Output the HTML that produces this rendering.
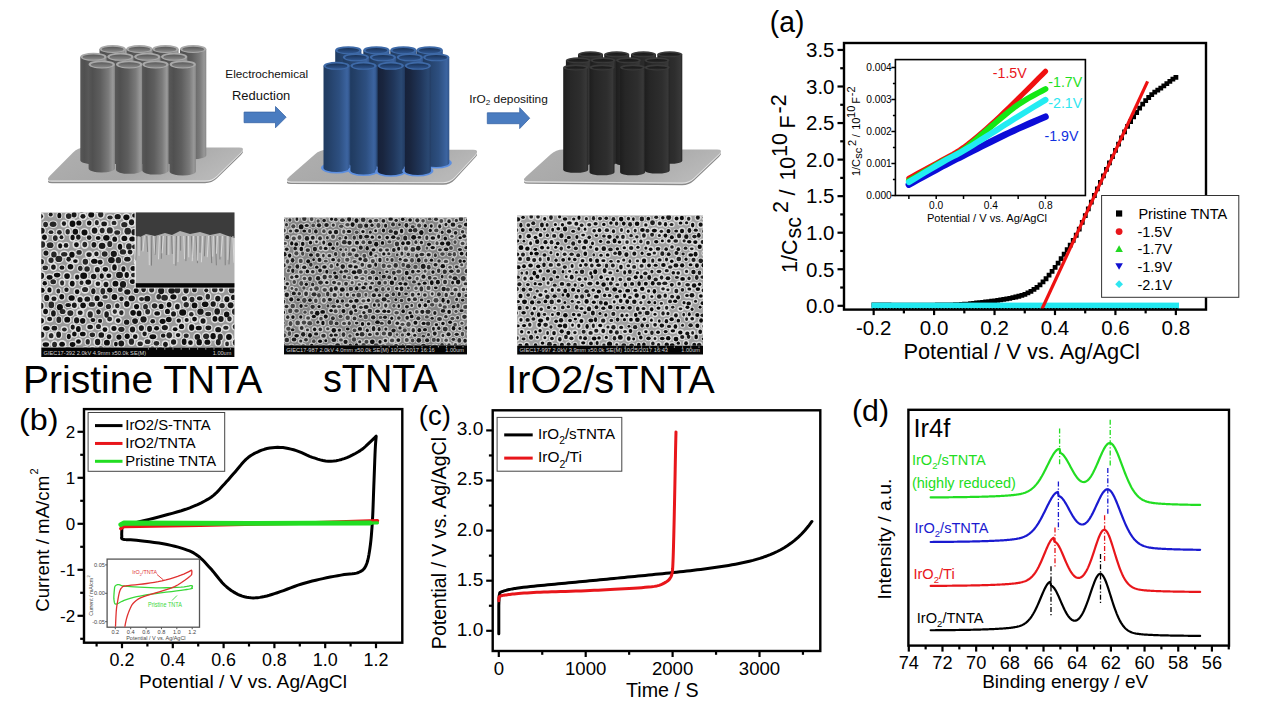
<!DOCTYPE html>
<html><head><meta charset="utf-8"><title>Figure</title>
<style>
html,body{margin:0;padding:0;background:#fff;width:1280px;height:714px;overflow:hidden;}
svg{display:block;font-family:"Liberation Sans", sans-serif;}
</style></head><body>
<svg width="1280" height="714" viewBox="0 0 1280 714">
<rect width="1280" height="714" fill="#fff"/>
<defs><linearGradient id="gBody" x1="0" x2="1" y1="0" y2="0">
<stop offset="0" stop-color="#575757"/><stop offset="0.15" stop-color="#505050"/><stop offset="0.45" stop-color="#5e5e5e"/><stop offset="0.75" stop-color="#7a7a7a"/><stop offset="0.92" stop-color="#989898"/><stop offset="1" stop-color="#888888"/></linearGradient>
<linearGradient id="gIn" x1="0" x2="0" y1="0" y2="1"><stop offset="0" stop-color="#5a5a5a"/><stop offset="1" stop-color="#8a8a8a"/></linearGradient>
<linearGradient id="bBody" x1="0" x2="1" y1="0" y2="0">
<stop offset="0" stop-color="#1f3b61"/><stop offset="0.15" stop-color="#233f66"/><stop offset="0.6" stop-color="#2d4f80"/><stop offset="0.9" stop-color="#3c64a0"/><stop offset="1" stop-color="#31548a"/></linearGradient>
<linearGradient id="bBody2" x1="0" x2="1" y1="0" y2="0">
<stop offset="0" stop-color="#16213a"/><stop offset="0.2" stop-color="#19253e"/><stop offset="0.6" stop-color="#20365a"/><stop offset="0.9" stop-color="#2a4872"/><stop offset="1" stop-color="#243e66"/></linearGradient>
<linearGradient id="bIn" x1="0" x2="0" y1="0" y2="1"><stop offset="0" stop-color="#1a3358"/><stop offset="1" stop-color="#2f5690"/></linearGradient>
<linearGradient id="kBody" x1="0" x2="1" y1="0" y2="0">
<stop offset="0" stop-color="#1e1e1e"/><stop offset="0.2" stop-color="#262626"/><stop offset="0.7" stop-color="#2e2e2e"/><stop offset="0.92" stop-color="#383838"/><stop offset="1" stop-color="#262626"/></linearGradient>
<linearGradient id="kIn" x1="0" x2="0" y1="0" y2="1"><stop offset="0" stop-color="#161616"/><stop offset="1" stop-color="#2a2a2a"/></linearGradient>
<linearGradient id="pl" x1="0" x2="1" y1="0" y2="0.3"><stop offset="0" stop-color="#b0b0b0"/><stop offset="0.6" stop-color="#a6a6a6"/><stop offset="1" stop-color="#b8b8b8"/></linearGradient>
</defs>
<path d="M73.06,152.46Q78,147.5 85,147.5L239,147.5Q246,147.5 240.98,152.38L217.02,175.72Q212,180.6 205,180.6L52,180.6Q45,180.6 49.94,175.64Z" fill="#8a8a8a" transform="translate(0,2.6)"/>
<path d="M73.06,152.46Q78,147.5 85,147.5L239,147.5Q246,147.5 240.98,152.38L217.02,175.72Q212,180.6 205,180.6L52,180.6Q45,180.6 49.94,175.64Z" fill="#e4e4e4" transform="translate(0,1.2)"/>
<path d="M73.06,152.46Q78,147.5 85,147.5L239,147.5Q246,147.5 240.98,152.38L217.02,175.72Q212,180.6 205,180.6L52,180.6Q45,180.6 49.94,175.64Z" fill="url(#pl)"/>
<path d="M99.5,49 L99.5,155.2 A13.15,4 0 0 0 125.8,155.2 L125.8,49 Z" fill="url(#gBody)"/>
<ellipse cx="112.65" cy="49" rx="13.15" ry="4" fill="#a9a9a9"/>
<ellipse cx="112.65" cy="49.4" rx="10.95" ry="2.6" fill="url(#gIn)"/>
<path d="M126.3,49 L126.3,155.2 A13.15,4 0 0 0 152.6,155.2 L152.6,49 Z" fill="url(#gBody)"/>
<ellipse cx="139.45" cy="49" rx="13.15" ry="4" fill="#a9a9a9"/>
<ellipse cx="139.45" cy="49.4" rx="10.95" ry="2.6" fill="url(#gIn)"/>
<path d="M152.3,49 L152.3,155.2 A13.15,4 0 0 0 178.6,155.2 L178.6,49 Z" fill="url(#gBody)"/>
<ellipse cx="165.45" cy="49" rx="13.15" ry="4" fill="#a9a9a9"/>
<ellipse cx="165.45" cy="49.4" rx="10.95" ry="2.6" fill="url(#gIn)"/>
<path d="M180,49 L180,155.2 A13.15,4 0 0 0 206.3,155.2 L206.3,49 Z" fill="url(#gBody)"/>
<ellipse cx="193.15" cy="49" rx="13.15" ry="4" fill="#a9a9a9"/>
<ellipse cx="193.15" cy="49.4" rx="10.95" ry="2.6" fill="url(#gIn)"/>
<path d="M80.3,56.8 L80.3,160.2 A13.15,4 0 0 0 106.6,160.2 L106.6,56.8 Z" fill="url(#gBody)"/>
<ellipse cx="93.45" cy="56.8" rx="13.15" ry="4" fill="#a9a9a9"/>
<ellipse cx="93.45" cy="57.2" rx="10.95" ry="2.6" fill="url(#gIn)"/>
<path d="M107.2,56.8 L107.2,160.2 A13.15,4 0 0 0 133.5,160.2 L133.5,56.8 Z" fill="url(#gBody)"/>
<ellipse cx="120.35" cy="56.8" rx="13.15" ry="4" fill="#a9a9a9"/>
<ellipse cx="120.35" cy="57.2" rx="10.95" ry="2.6" fill="url(#gIn)"/>
<path d="M134.1,56.8 L134.1,160.2 A13.15,4 0 0 0 160.4,160.2 L160.4,56.8 Z" fill="url(#gBody)"/>
<ellipse cx="147.25" cy="56.8" rx="13.15" ry="4" fill="#a9a9a9"/>
<ellipse cx="147.25" cy="57.2" rx="10.95" ry="2.6" fill="url(#gIn)"/>
<path d="M161,56.8 L161,160.2 A13.15,4 0 0 0 187.3,160.2 L187.3,56.8 Z" fill="url(#gBody)"/>
<ellipse cx="174.15" cy="56.8" rx="13.15" ry="4" fill="#a9a9a9"/>
<ellipse cx="174.15" cy="57.2" rx="10.95" ry="2.6" fill="url(#gIn)"/>
<path d="M88.6,64.4 L88.6,168.4 A13.15,4 0 0 0 114.9,168.4 L114.9,64.4 Z" fill="url(#gBody)"/>
<ellipse cx="101.75" cy="64.4" rx="13.15" ry="4" fill="#a9a9a9"/>
<ellipse cx="101.75" cy="64.8" rx="10.95" ry="2.6" fill="url(#gIn)"/>
<path d="M116,64.4 L116,169.8 A13.15,4 0 0 0 142.3,169.8 L142.3,64.4 Z" fill="url(#gBody)"/>
<ellipse cx="129.15" cy="64.4" rx="13.15" ry="4" fill="#a9a9a9"/>
<ellipse cx="129.15" cy="64.8" rx="10.95" ry="2.6" fill="url(#gIn)"/>
<path d="M142.3,64.4 L142.3,170.6 A13.15,4 0 0 0 168.6,170.6 L168.6,64.4 Z" fill="url(#gBody)"/>
<ellipse cx="155.45" cy="64.4" rx="13.15" ry="4" fill="#a9a9a9"/>
<ellipse cx="155.45" cy="64.8" rx="10.95" ry="2.6" fill="url(#gIn)"/>
<path d="M169.6,64.4 L169.6,171.4 A13.15,4 0 0 0 195.9,171.4 L195.9,64.4 Z" fill="url(#gBody)"/>
<ellipse cx="182.75" cy="64.4" rx="13.15" ry="4" fill="#a9a9a9"/>
<ellipse cx="182.75" cy="64.8" rx="10.95" ry="2.6" fill="url(#gIn)"/>
<path d="M314.74,154.42Q320,149.8 327,149.8L473,149.8Q480,149.8 475.24,154.94L454.76,177.06Q450,182.2 443,182.17L291,181.43Q284,181.4 289.26,176.78Z" fill="#8a8a8a" transform="translate(0,2.6)"/>
<path d="M314.74,154.42Q320,149.8 327,149.8L473,149.8Q480,149.8 475.24,154.94L454.76,177.06Q450,182.2 443,182.17L291,181.43Q284,181.4 289.26,176.78Z" fill="#e4e4e4" transform="translate(0,1.2)"/>
<path d="M314.74,154.42Q320,149.8 327,149.8L473,149.8Q480,149.8 475.24,154.94L454.76,177.06Q450,182.2 443,182.17L291,181.43Q284,181.4 289.26,176.78Z" fill="url(#pl)"/>
<ellipse cx="348.3" cy="156" rx="15.6" ry="5.5" fill="#5d8fe0"/>
<path d="M335.2,50.2 L335.2,156 A13.1,4 0 0 0 361.4,156 L361.4,50.2 Z" fill="url(#bBody)"/>
<ellipse cx="348.3" cy="50.2" rx="13.1" ry="4" fill="#3e6aa8"/>
<ellipse cx="348.3" cy="50.6" rx="10.9" ry="2.6" fill="url(#bIn)"/>
<ellipse cx="376.4" cy="156" rx="15.6" ry="5.5" fill="#5d8fe0"/>
<path d="M363.3,50.2 L363.3,156 A13.1,4 0 0 0 389.5,156 L389.5,50.2 Z" fill="url(#bBody)"/>
<ellipse cx="376.4" cy="50.2" rx="13.1" ry="4" fill="#3e6aa8"/>
<ellipse cx="376.4" cy="50.6" rx="10.9" ry="2.6" fill="url(#bIn)"/>
<ellipse cx="403.4" cy="156" rx="15.6" ry="5.5" fill="#5d8fe0"/>
<path d="M390.3,50.2 L390.3,156 A13.1,4 0 0 0 416.5,156 L416.5,50.2 Z" fill="url(#bBody)"/>
<ellipse cx="403.4" cy="50.2" rx="13.1" ry="4" fill="#3e6aa8"/>
<ellipse cx="403.4" cy="50.6" rx="10.9" ry="2.6" fill="url(#bIn)"/>
<ellipse cx="429.7" cy="156" rx="15.6" ry="5.5" fill="#5d8fe0"/>
<path d="M416.6,50.2 L416.6,156 A13.1,4 0 0 0 442.8,156 L442.8,50.2 Z" fill="url(#bBody)"/>
<ellipse cx="429.7" cy="50.2" rx="13.1" ry="4" fill="#3e6aa8"/>
<ellipse cx="429.7" cy="50.6" rx="10.9" ry="2.6" fill="url(#bIn)"/>
<ellipse cx="355.9" cy="163" rx="15.6" ry="5.5" fill="#5d8fe0"/>
<path d="M342.8,57.3 L342.8,163 A13.1,4 0 0 0 369,163 L369,57.3 Z" fill="url(#bBody)"/>
<ellipse cx="355.9" cy="57.3" rx="13.1" ry="4" fill="#3e6aa8"/>
<ellipse cx="355.9" cy="57.7" rx="10.9" ry="2.6" fill="url(#bIn)"/>
<ellipse cx="382.9" cy="163" rx="15.6" ry="5.5" fill="#5d8fe0"/>
<path d="M369.8,57.3 L369.8,163 A13.1,4 0 0 0 396,163 L396,57.3 Z" fill="url(#bBody)"/>
<ellipse cx="382.9" cy="57.3" rx="13.1" ry="4" fill="#3e6aa8"/>
<ellipse cx="382.9" cy="57.7" rx="10.9" ry="2.6" fill="url(#bIn)"/>
<ellipse cx="409.8" cy="163" rx="15.6" ry="5.5" fill="#5d8fe0"/>
<path d="M396.7,57.3 L396.7,163 A13.1,4 0 0 0 422.9,163 L422.9,57.3 Z" fill="url(#bBody)"/>
<ellipse cx="409.8" cy="57.3" rx="13.1" ry="4" fill="#3e6aa8"/>
<ellipse cx="409.8" cy="57.7" rx="10.9" ry="2.6" fill="url(#bIn)"/>
<ellipse cx="436.2" cy="163" rx="15.6" ry="5.5" fill="#5d8fe0"/>
<path d="M423.1,57.3 L423.1,163 A13.1,4 0 0 0 449.3,163 L449.3,57.3 Z" fill="url(#bBody)"/>
<ellipse cx="436.2" cy="57.3" rx="13.1" ry="4" fill="#3e6aa8"/>
<ellipse cx="436.2" cy="57.7" rx="10.9" ry="2.6" fill="url(#bIn)"/>
<ellipse cx="336.6" cy="168" rx="15.6" ry="5.5" fill="#5d8fe0"/>
<path d="M323.5,65.8 L323.5,168 A13.1,4 0 0 0 349.7,168 L349.7,65.8 Z" fill="url(#bBody)"/>
<ellipse cx="336.6" cy="65.8" rx="13.1" ry="4" fill="#3e6aa8"/>
<ellipse cx="336.6" cy="66.2" rx="10.9" ry="2.6" fill="url(#bIn)"/>
<ellipse cx="363.5" cy="170.5" rx="15.6" ry="5.5" fill="#5d8fe0"/>
<path d="M350.4,65.8 L350.4,170.5 A13.1,4 0 0 0 376.6,170.5 L376.6,65.8 Z" fill="url(#bBody)"/>
<ellipse cx="363.5" cy="65.8" rx="13.1" ry="4" fill="#3e6aa8"/>
<ellipse cx="363.5" cy="66.2" rx="10.9" ry="2.6" fill="url(#bIn)"/>
<ellipse cx="390.8" cy="171.3" rx="15.6" ry="5.5" fill="#5d8fe0"/>
<path d="M377.7,65.8 L377.7,171.3 A13.1,4 0 0 0 403.9,171.3 L403.9,65.8 Z" fill="url(#bBody2)"/>
<ellipse cx="390.8" cy="65.8" rx="13.1" ry="4" fill="#3e6aa8"/>
<ellipse cx="390.8" cy="66.2" rx="10.9" ry="2.6" fill="url(#bIn)"/>
<ellipse cx="417.8" cy="171" rx="15.6" ry="5.5" fill="#5d8fe0"/>
<path d="M404.7,65.8 L404.7,171 A13.1,4 0 0 0 430.9,171 L430.9,65.8 Z" fill="url(#bBody2)"/>
<ellipse cx="417.8" cy="65.8" rx="13.1" ry="4" fill="#3e6aa8"/>
<ellipse cx="417.8" cy="66.2" rx="10.9" ry="2.6" fill="url(#bIn)"/>
<path d="M550.81,154.2Q556,149.5 563,149.5L717,149.5Q724,149.5 718.91,154.31L694.09,177.79Q689,182.6 682,182.54L528,181.26Q521,181.2 526.19,176.5Z" fill="#8a8a8a" transform="translate(0,2.6)"/>
<path d="M550.81,154.2Q556,149.5 563,149.5L717,149.5Q724,149.5 718.91,154.31L694.09,177.79Q689,182.6 682,182.54L528,181.26Q521,181.2 526.19,176.5Z" fill="#e4e4e4" transform="translate(0,1.2)"/>
<path d="M550.81,154.2Q556,149.5 563,149.5L717,149.5Q724,149.5 718.91,154.31L694.09,177.79Q689,182.6 682,182.54L528,181.26Q521,181.2 526.19,176.5Z" fill="url(#pl)"/>
<path d="M578,54.3 L578,160.8 A12.5,3 0 0 0 603,160.8 L603,54.3 Z" fill="url(#kBody)"/>
<ellipse cx="590.5" cy="54.3" rx="12.5" ry="3" fill="#3a3a3a"/>
<ellipse cx="590.5" cy="54.7" rx="10.3" ry="1.6" fill="url(#kIn)"/>
<path d="M604.2,54.3 L604.2,160.8 A12.5,3 0 0 0 629.2,160.8 L629.2,54.3 Z" fill="url(#kBody)"/>
<ellipse cx="616.7" cy="54.3" rx="12.5" ry="3" fill="#3a3a3a"/>
<ellipse cx="616.7" cy="54.7" rx="10.3" ry="1.6" fill="url(#kIn)"/>
<path d="M631,54.3 L631,160.8 A12.5,3 0 0 0 656,160.8 L656,54.3 Z" fill="url(#kBody)"/>
<ellipse cx="643.5" cy="54.3" rx="12.5" ry="3" fill="#3a3a3a"/>
<ellipse cx="643.5" cy="54.7" rx="10.3" ry="1.6" fill="url(#kIn)"/>
<path d="M657.3,54.3 L657.3,160.8 A12.5,3 0 0 0 682.3,160.8 L682.3,54.3 Z" fill="url(#kBody)"/>
<ellipse cx="669.8" cy="54.3" rx="12.5" ry="3" fill="#3a3a3a"/>
<ellipse cx="669.8" cy="54.7" rx="10.3" ry="1.6" fill="url(#kIn)"/>
<path d="M565.9,60.3 L565.9,163 A12.5,3 0 0 0 590.9,163 L590.9,60.3 Z" fill="url(#kBody)"/>
<ellipse cx="578.4" cy="60.3" rx="12.5" ry="3" fill="#3a3a3a"/>
<ellipse cx="578.4" cy="60.7" rx="10.3" ry="1.6" fill="url(#kIn)"/>
<path d="M590.5,60.3 L590.5,163 A12.5,3 0 0 0 615.5,163 L615.5,60.3 Z" fill="url(#kBody)"/>
<ellipse cx="603" cy="60.3" rx="12.5" ry="3" fill="#3a3a3a"/>
<ellipse cx="603" cy="60.7" rx="10.3" ry="1.6" fill="url(#kIn)"/>
<path d="M616,60.3 L616,163 A12.5,3 0 0 0 641,163 L641,60.3 Z" fill="url(#kBody)"/>
<ellipse cx="628.5" cy="60.3" rx="12.5" ry="3" fill="#3a3a3a"/>
<ellipse cx="628.5" cy="60.7" rx="10.3" ry="1.6" fill="url(#kIn)"/>
<path d="M644.5,60.3 L644.5,163 A12.5,3 0 0 0 669.5,163 L669.5,60.3 Z" fill="url(#kBody)"/>
<ellipse cx="657" cy="60.3" rx="12.5" ry="3" fill="#3a3a3a"/>
<ellipse cx="657" cy="60.7" rx="10.3" ry="1.6" fill="url(#kIn)"/>
<path d="M563.2,67.4 L563.2,169.8 A12.5,3 0 0 0 588.2,169.8 L588.2,67.4 Z" fill="url(#kBody)"/>
<ellipse cx="575.7" cy="67.4" rx="12.5" ry="3" fill="#3a3a3a"/>
<ellipse cx="575.7" cy="67.8" rx="10.3" ry="1.6" fill="url(#kIn)"/>
<path d="M589.5,67.4 L589.5,172.3 A12.5,3 0 0 0 614.5,172.3 L614.5,67.4 Z" fill="url(#kBody)"/>
<ellipse cx="602" cy="67.4" rx="12.5" ry="3" fill="#3a3a3a"/>
<ellipse cx="602" cy="67.8" rx="10.3" ry="1.6" fill="url(#kIn)"/>
<path d="M620.1,67.4 L620.1,172.3 A12.5,3 0 0 0 645.1,172.3 L645.1,67.4 Z" fill="url(#kBody)"/>
<ellipse cx="632.6" cy="67.4" rx="12.5" ry="3" fill="#3a3a3a"/>
<ellipse cx="632.6" cy="67.8" rx="10.3" ry="1.6" fill="url(#kIn)"/>
<path d="M644.7,67.4 L644.7,170.6 A12.5,3 0 0 0 669.7,170.6 L669.7,67.4 Z" fill="url(#kBody)"/>
<ellipse cx="657.2" cy="67.4" rx="12.5" ry="3" fill="#3a3a3a"/>
<ellipse cx="657.2" cy="67.8" rx="10.3" ry="1.6" fill="url(#kIn)"/>
<path d="M244.1,112.1 H275.5 V106.5 L286.1,117.2 L275.5,127.8 V122.7 H244.1 Z" fill="#4a7cc0" stroke="#3a66a6" stroke-width="0.8"/>
<path d="M487.3,112.8 H519.7 V107.7 L529.7,118.2 L519.7,128.6 V123.7 H487.3 Z" fill="#4a7cc0" stroke="#3a66a6" stroke-width="0.8"/>
<text x="225.3" y="77.9" font-size="11.8" text-anchor="start" fill="#111" textLength="82.9" lengthAdjust="spacingAndGlyphs">Electrochemical</text>
<text x="232" y="99.8" font-size="12.9" text-anchor="start" fill="#111" textLength="58.3" lengthAdjust="spacingAndGlyphs">Reduction</text>
<text x="469.2" y="102.7" font-size="11" text-anchor="start" fill="#111" textLength="78.6" lengthAdjust="spacingAndGlyphs">IrO<tspan font-size="7.5" dy="2.6">2</tspan><tspan dy="-2.6"> depositing</tspan></text>
<clipPath id="sem1"><rect x="41.3" y="212.6" width="193.1" height="135"/></clipPath>
<rect x="41.3" y="212.6" width="193.1" height="135" fill="#9a9a9a" stroke="none" stroke-width="1" />
<g clip-path="url(#sem1)">
<g fill="#e0e0e0"><ellipse cx="35.74" cy="209.5" rx="3.82" ry="4.09"/><ellipse cx="45.19" cy="207.3" rx="4.44" ry="3.91"/><ellipse cx="54.87" cy="207.5" rx="4.12" ry="3.56"/><ellipse cx="61.17" cy="208.44" rx="4.06" ry="3.86"/><ellipse cx="71.5" cy="209.21" rx="4.46" ry="4.21"/><ellipse cx="81.56" cy="209.77" rx="4.01" ry="4.02"/><ellipse cx="90.29" cy="209.54" rx="3.69" ry="4.06"/><ellipse cx="97.23" cy="209.71" rx="3.52" ry="4.19"/><ellipse cx="105.43" cy="209.52" rx="4.32" ry="3.96"/><ellipse cx="114.57" cy="209" rx="3.94" ry="4.01"/><ellipse cx="123.07" cy="207.93" rx="3.6" ry="3.62"/><ellipse cx="131.92" cy="207.93" rx="3.93" ry="4.4"/><ellipse cx="141.65" cy="208.47" rx="3.61" ry="4.13"/><ellipse cx="149.35" cy="208.67" rx="4.33" ry="4.87"/><ellipse cx="157.44" cy="207.02" rx="3.79" ry="4.64"/><ellipse cx="166.24" cy="207.27" rx="3.82" ry="3.68"/><ellipse cx="174.74" cy="209.29" rx="4.04" ry="4.25"/><ellipse cx="183.49" cy="209.54" rx="4.31" ry="4.33"/><ellipse cx="190.32" cy="209.57" rx="4" ry="3.51"/><ellipse cx="199.32" cy="207.58" rx="3.6" ry="4.28"/><ellipse cx="209.73" cy="208.14" rx="3.71" ry="3.26"/><ellipse cx="218.62" cy="207.47" rx="4.37" ry="4.61"/><ellipse cx="227.29" cy="206.65" rx="3.02" ry="3.55"/><ellipse cx="234.82" cy="208.05" rx="4.88" ry="4.49"/><ellipse cx="40.35" cy="216.29" rx="4.06" ry="3.79"/><ellipse cx="50.72" cy="214.49" rx="2.97" ry="3"/><ellipse cx="59.34" cy="215.49" rx="2.93" ry="3.79"/><ellipse cx="68.69" cy="216.02" rx="4.24" ry="4.34"/><ellipse cx="74.11" cy="214.75" rx="3.81" ry="4.12"/><ellipse cx="82.94" cy="216.35" rx="4.1" ry="3.92"/><ellipse cx="91.24" cy="214.75" rx="4.2" ry="3.99"/><ellipse cx="100.7" cy="214.39" rx="4.18" ry="4.55"/><ellipse cx="110.05" cy="217.45" rx="3.73" ry="3.1"/><ellipse cx="117.71" cy="216.67" rx="4.27" ry="3.75"/><ellipse cx="126.39" cy="217.31" rx="4.45" ry="4.2"/><ellipse cx="135.28" cy="215.46" rx="4.08" ry="3.21"/><ellipse cx="144.9" cy="216.75" rx="3.61" ry="3.25"/><ellipse cx="152.64" cy="215.08" rx="3.26" ry="4.09"/><ellipse cx="162.83" cy="214.1" rx="3.92" ry="3.94"/><ellipse cx="169.23" cy="216.76" rx="3.79" ry="4.1"/><ellipse cx="179.74" cy="214.42" rx="4.41" ry="5.11"/><ellipse cx="187.67" cy="216.51" rx="3.16" ry="3.27"/><ellipse cx="196.88" cy="215.16" rx="3.63" ry="3.28"/><ellipse cx="206.32" cy="214.45" rx="3.9" ry="4.25"/><ellipse cx="213.19" cy="215.29" rx="3.34" ry="3.33"/><ellipse cx="220.49" cy="216.65" rx="3.52" ry="3.3"/><ellipse cx="228.92" cy="214.7" rx="4.05" ry="4.44"/><ellipse cx="239.25" cy="216.05" rx="3.54" ry="3.3"/><ellipse cx="36.2" cy="224.53" rx="3.77" ry="3.76"/><ellipse cx="45.58" cy="224.51" rx="3.38" ry="3.66"/><ellipse cx="53.08" cy="224.21" rx="4.37" ry="3.77"/><ellipse cx="63.95" cy="223.61" rx="3.58" ry="3.91"/><ellipse cx="72.5" cy="223.69" rx="4.51" ry="4.94"/><ellipse cx="78.89" cy="223.03" rx="3.72" ry="3.68"/><ellipse cx="89.23" cy="223.08" rx="3.67" ry="3.87"/><ellipse cx="96.84" cy="222.71" rx="3.24" ry="3.86"/><ellipse cx="104.15" cy="223.92" rx="4.48" ry="3.99"/><ellipse cx="114.05" cy="222.92" rx="3.76" ry="3.51"/><ellipse cx="124.35" cy="224.71" rx="4.27" ry="3.78"/><ellipse cx="131.53" cy="222.32" rx="4.28" ry="4.64"/><ellipse cx="141.82" cy="222.3" rx="4.45" ry="4.31"/><ellipse cx="149.72" cy="224.58" rx="3.91" ry="4.07"/><ellipse cx="158.09" cy="223.14" rx="3.31" ry="3.77"/><ellipse cx="164.89" cy="222.41" rx="3.47" ry="3.66"/><ellipse cx="174.23" cy="223.74" rx="4.61" ry="4.3"/><ellipse cx="184.86" cy="224.32" rx="4.14" ry="4.85"/><ellipse cx="193.41" cy="223.67" rx="4.77" ry="4.05"/><ellipse cx="202.02" cy="222.86" rx="3.95" ry="3.64"/><ellipse cx="209.42" cy="223.22" rx="4" ry="4.1"/><ellipse cx="216.9" cy="222.4" rx="3.52" ry="3.73"/><ellipse cx="224.59" cy="224.89" rx="3.26" ry="3.17"/><ellipse cx="234.02" cy="223.56" rx="4.2" ry="4.3"/><ellipse cx="41.46" cy="230.71" rx="4.42" ry="4.19"/><ellipse cx="50.97" cy="232.14" rx="3.52" ry="3.01"/><ellipse cx="59.4" cy="232.37" rx="3.55" ry="3.62"/><ellipse cx="67.71" cy="231.64" rx="3.33" ry="3.93"/><ellipse cx="75.35" cy="231.72" rx="3.97" ry="4.15"/><ellipse cx="84.5" cy="232.45" rx="4.47" ry="4.48"/><ellipse cx="94.58" cy="230.61" rx="4.46" ry="4.85"/><ellipse cx="102.2" cy="230.57" rx="3.87" ry="4.24"/><ellipse cx="109.84" cy="230.42" rx="4.61" ry="4.78"/><ellipse cx="117.21" cy="232.42" rx="3.86" ry="3.19"/><ellipse cx="127.74" cy="231.21" rx="4.8" ry="4.87"/><ellipse cx="134.21" cy="232.17" rx="3.9" ry="4.22"/><ellipse cx="145.65" cy="230.69" rx="3.64" ry="4.13"/><ellipse cx="151.62" cy="229.26" rx="3.3" ry="3.87"/><ellipse cx="161.36" cy="231.4" rx="4.01" ry="4.01"/><ellipse cx="168.82" cy="231.43" rx="4.47" ry="4.24"/><ellipse cx="177.76" cy="231.27" rx="4.54" ry="3.93"/><ellipse cx="187.13" cy="230.4" rx="3.85" ry="4.22"/><ellipse cx="197.7" cy="231.46" rx="3.74" ry="4.75"/><ellipse cx="206.17" cy="232.24" rx="3.73" ry="3.53"/><ellipse cx="213.11" cy="232.17" rx="4.25" ry="3.86"/><ellipse cx="222.86" cy="232.1" rx="3.41" ry="3.51"/><ellipse cx="231.25" cy="230.08" rx="3.26" ry="3.36"/><ellipse cx="237.53" cy="231.81" rx="3.85" ry="3.78"/><ellipse cx="38.08" cy="239.82" rx="3.56" ry="4.1"/><ellipse cx="44.47" cy="237.27" rx="4.08" ry="4.38"/><ellipse cx="55.3" cy="238.1" rx="3.56" ry="4.11"/><ellipse cx="61.46" cy="237.24" rx="3.18" ry="3.17"/><ellipse cx="72.6" cy="237.5" rx="3.52" ry="4.17"/><ellipse cx="78.33" cy="237.01" rx="3.29" ry="3.64"/><ellipse cx="89.12" cy="237.55" rx="3.35" ry="3.34"/><ellipse cx="98.17" cy="238" rx="3.56" ry="3.2"/><ellipse cx="106.36" cy="237.85" rx="4.36" ry="4"/><ellipse cx="114.7" cy="239.22" rx="3.76" ry="4.02"/><ellipse cx="124.39" cy="238.39" rx="4.53" ry="4.34"/><ellipse cx="132.33" cy="239.06" rx="4.76" ry="4.2"/><ellipse cx="138.68" cy="237.21" rx="3.75" ry="4.36"/><ellipse cx="148.69" cy="237.78" rx="3.7" ry="4.28"/><ellipse cx="158.76" cy="239.13" rx="3.99" ry="4.33"/><ellipse cx="167.03" cy="236.8" rx="3.37" ry="3.69"/><ellipse cx="173.78" cy="237.82" rx="4.12" ry="3.56"/><ellipse cx="183.4" cy="237.64" rx="4.19" ry="4.37"/><ellipse cx="190.53" cy="239.31" rx="4.09" ry="4.4"/><ellipse cx="200.52" cy="239.59" rx="3.84" ry="3.69"/><ellipse cx="208.4" cy="237.92" rx="3.51" ry="3.73"/><ellipse cx="216.96" cy="237.53" rx="3.67" ry="4.1"/><ellipse cx="224.9" cy="237.6" rx="4.39" ry="4.15"/><ellipse cx="234.73" cy="239.65" rx="5.14" ry="4.95"/><ellipse cx="42.34" cy="244.45" rx="4.27" ry="4.71"/><ellipse cx="50.15" cy="245.15" rx="4.5" ry="3.99"/><ellipse cx="60.15" cy="245.82" rx="3.43" ry="3.95"/><ellipse cx="66.02" cy="245.4" rx="3.64" ry="3.69"/><ellipse cx="76.44" cy="244.69" rx="3.99" ry="4.06"/><ellipse cx="84.79" cy="244.59" rx="3.92" ry="4.32"/><ellipse cx="93.96" cy="244.75" rx="3.53" ry="3.92"/><ellipse cx="102.1" cy="245.86" rx="4.86" ry="4.77"/><ellipse cx="109.78" cy="244.02" rx="3.51" ry="4.04"/><ellipse cx="120.02" cy="246.73" rx="3.48" ry="4.36"/><ellipse cx="128.88" cy="246.38" rx="4.1" ry="4.41"/><ellipse cx="135.27" cy="246.66" rx="4.53" ry="3.74"/><ellipse cx="144.18" cy="246.16" rx="3.68" ry="3.89"/><ellipse cx="154.04" cy="247.34" rx="3.42" ry="3.83"/><ellipse cx="161.25" cy="245.37" rx="5.03" ry="4.77"/><ellipse cx="171.49" cy="245.31" rx="4.43" ry="3.99"/><ellipse cx="179.82" cy="245.33" rx="3.87" ry="3.48"/><ellipse cx="188.58" cy="245.26" rx="3.89" ry="4.05"/><ellipse cx="195.37" cy="245.44" rx="3.41" ry="3.98"/><ellipse cx="206.25" cy="245.37" rx="3.17" ry="3.32"/><ellipse cx="211.67" cy="244.86" rx="4.59" ry="4"/><ellipse cx="220.49" cy="246.09" rx="4.24" ry="4.22"/><ellipse cx="232.12" cy="244.34" rx="3.6" ry="3.87"/><ellipse cx="239.73" cy="244.61" rx="4.17" ry="3.42"/><ellipse cx="35.58" cy="252.81" rx="4.16" ry="4.39"/><ellipse cx="45.97" cy="253.12" rx="3.55" ry="3.64"/><ellipse cx="53.91" cy="254.53" rx="4.35" ry="4.59"/><ellipse cx="64.22" cy="254.19" rx="4.63" ry="3.8"/><ellipse cx="71.94" cy="254.66" rx="3.95" ry="4.28"/><ellipse cx="79.07" cy="252.42" rx="3.76" ry="3.44"/><ellipse cx="89.05" cy="254.58" rx="4.3" ry="4"/><ellipse cx="96.44" cy="253.86" rx="3.48" ry="3.63"/><ellipse cx="104.69" cy="254.08" rx="3.93" ry="3.79"/><ellipse cx="113.8" cy="253.85" rx="4.25" ry="4.34"/><ellipse cx="122.93" cy="251.88" rx="4.56" ry="4.01"/><ellipse cx="130.05" cy="252.06" rx="3.87" ry="3.81"/><ellipse cx="139.93" cy="251.49" rx="3.11" ry="3.4"/><ellipse cx="148.04" cy="253.62" rx="3.84" ry="4.36"/><ellipse cx="156.81" cy="251.95" rx="3.68" ry="3.6"/><ellipse cx="164.6" cy="254.91" rx="3.45" ry="3.73"/><ellipse cx="173.36" cy="252.85" rx="4.56" ry="4.09"/><ellipse cx="181.51" cy="254.53" rx="4.04" ry="5"/><ellipse cx="192.98" cy="253.56" rx="4.19" ry="4.51"/><ellipse cx="200.32" cy="252.91" rx="3.86" ry="3.77"/><ellipse cx="207.47" cy="253.22" rx="3.48" ry="3.7"/><ellipse cx="217.73" cy="254.72" rx="3.6" ry="4.18"/><ellipse cx="226.73" cy="253.34" rx="4.49" ry="4.36"/><ellipse cx="235.21" cy="253" rx="3.42" ry="3.91"/><ellipse cx="41.25" cy="261.71" rx="3.72" ry="3.63"/><ellipse cx="51.05" cy="260.35" rx="4.01" ry="4.19"/><ellipse cx="58.86" cy="258.98" rx="4.67" ry="4.34"/><ellipse cx="68.62" cy="259.3" rx="3.38" ry="3.61"/><ellipse cx="75.39" cy="261.04" rx="3.77" ry="3.36"/><ellipse cx="85.37" cy="261.82" rx="4.08" ry="4.34"/><ellipse cx="94.31" cy="261.21" rx="4.77" ry="4.11"/><ellipse cx="100.14" cy="262.23" rx="3.92" ry="3.83"/><ellipse cx="111.41" cy="260.15" rx="4.26" ry="4.01"/><ellipse cx="118.41" cy="260.19" rx="3.74" ry="4.26"/><ellipse cx="127.37" cy="259.15" rx="4.62" ry="3.82"/><ellipse cx="137.26" cy="261.56" rx="3.54" ry="3.44"/><ellipse cx="145.65" cy="259.56" rx="4.02" ry="4.28"/><ellipse cx="152.22" cy="261.28" rx="4.1" ry="4.42"/><ellipse cx="161.47" cy="260.33" rx="3.38" ry="3.17"/><ellipse cx="169.87" cy="259.33" rx="3.43" ry="3.53"/><ellipse cx="178.91" cy="261.76" rx="3.53" ry="3.96"/><ellipse cx="185.84" cy="260.32" rx="4.33" ry="4.53"/><ellipse cx="197.79" cy="260.83" rx="3.45" ry="3.19"/><ellipse cx="203.8" cy="261.62" rx="4.87" ry="3.94"/><ellipse cx="212.33" cy="259.76" rx="3.65" ry="3.34"/><ellipse cx="222.43" cy="260.8" rx="4.16" ry="3.51"/><ellipse cx="229.09" cy="259.28" rx="3.86" ry="4.41"/><ellipse cx="240.67" cy="260.03" rx="4.09" ry="4.27"/><ellipse cx="38.12" cy="269.09" rx="4.63" ry="4.42"/><ellipse cx="45.24" cy="267.77" rx="3.78" ry="3.33"/><ellipse cx="53.44" cy="267.04" rx="3.97" ry="4.28"/><ellipse cx="61.96" cy="267.64" rx="3.47" ry="3.16"/><ellipse cx="70.46" cy="266.68" rx="4.3" ry="4.22"/><ellipse cx="80.27" cy="268.34" rx="3.23" ry="3.67"/><ellipse cx="87.08" cy="269" rx="3.77" ry="3.67"/><ellipse cx="97.36" cy="269.63" rx="3.95" ry="4.02"/><ellipse cx="105.31" cy="269.32" rx="3.99" ry="3.64"/><ellipse cx="114.45" cy="267.46" rx="3.65" ry="4.52"/><ellipse cx="123.4" cy="269.03" rx="3.2" ry="3.96"/><ellipse cx="133.17" cy="268.6" rx="3.81" ry="3.6"/><ellipse cx="140.21" cy="267.8" rx="5.16" ry="4.25"/><ellipse cx="150.26" cy="266.9" rx="3.53" ry="3.25"/><ellipse cx="159.07" cy="268.37" rx="3.75" ry="3.41"/><ellipse cx="166.59" cy="269.61" rx="4.54" ry="4.66"/><ellipse cx="174.25" cy="268.14" rx="4.06" ry="3.34"/><ellipse cx="183.16" cy="267.79" rx="4.27" ry="3.73"/><ellipse cx="192.41" cy="266.58" rx="3.91" ry="4.44"/><ellipse cx="201.59" cy="267.76" rx="3.65" ry="4.08"/><ellipse cx="208.45" cy="266.61" rx="4.01" ry="4.27"/><ellipse cx="217.49" cy="268.44" rx="3.67" ry="3.39"/><ellipse cx="227.22" cy="269.33" rx="3.91" ry="4.48"/><ellipse cx="234.98" cy="269.57" rx="3.71" ry="3.88"/><ellipse cx="41.63" cy="275.83" rx="4" ry="4.65"/><ellipse cx="49.61" cy="277.35" rx="4.3" ry="3.77"/><ellipse cx="57.13" cy="275.06" rx="4.45" ry="3.6"/><ellipse cx="67.05" cy="276.1" rx="4.37" ry="4.44"/><ellipse cx="77.15" cy="277.05" rx="3.56" ry="4"/><ellipse cx="83.67" cy="275.67" rx="4.83" ry="4.66"/><ellipse cx="93.63" cy="276.56" rx="3.98" ry="3.94"/><ellipse cx="101.75" cy="276.05" rx="3.16" ry="3.88"/><ellipse cx="108.81" cy="275.81" rx="3.93" ry="3.78"/><ellipse cx="119.52" cy="274.95" rx="4.43" ry="4.26"/><ellipse cx="126.75" cy="274.94" rx="3.7" ry="4.53"/><ellipse cx="134.28" cy="275" rx="4.63" ry="3.67"/><ellipse cx="144.95" cy="275.73" rx="4.19" ry="3.54"/><ellipse cx="153.12" cy="276.4" rx="4.18" ry="3.74"/><ellipse cx="162.47" cy="274.67" rx="3.31" ry="4.46"/><ellipse cx="171.67" cy="274.06" rx="3.89" ry="3.53"/><ellipse cx="177.87" cy="275.44" rx="4.12" ry="3.94"/><ellipse cx="186.45" cy="274.54" rx="3.8" ry="4.5"/><ellipse cx="195.63" cy="275.59" rx="4.53" ry="4.44"/><ellipse cx="205.83" cy="275.92" rx="4" ry="3.54"/><ellipse cx="214.85" cy="276.78" rx="4.03" ry="3.98"/><ellipse cx="222.72" cy="277.03" rx="4.07" ry="3.58"/><ellipse cx="229.82" cy="276.55" rx="3.54" ry="3.25"/><ellipse cx="240.07" cy="275.49" rx="3.84" ry="3.53"/><ellipse cx="37.68" cy="283.55" rx="3.69" ry="3.9"/><ellipse cx="44.76" cy="283.26" rx="3.38" ry="3.32"/><ellipse cx="53.2" cy="281.68" rx="3.86" ry="3.53"/><ellipse cx="62.09" cy="282.81" rx="3.51" ry="4.13"/><ellipse cx="72.26" cy="283.6" rx="4.06" ry="4.61"/><ellipse cx="81.51" cy="282.8" rx="3.1" ry="3.29"/><ellipse cx="88.24" cy="282.12" rx="4.47" ry="4.24"/><ellipse cx="97.93" cy="283.76" rx="3.95" ry="3.93"/><ellipse cx="105.99" cy="284.41" rx="3.83" ry="4.13"/><ellipse cx="115.47" cy="283.68" rx="4.36" ry="4.27"/><ellipse cx="123" cy="284.39" rx="4.22" ry="4.49"/><ellipse cx="132.58" cy="281.59" rx="3.87" ry="3.49"/><ellipse cx="141.85" cy="281.63" rx="3.47" ry="4.09"/><ellipse cx="147.27" cy="281.52" rx="4.17" ry="4"/><ellipse cx="156.37" cy="282.42" rx="3.49" ry="3.47"/><ellipse cx="165.1" cy="283.31" rx="3.36" ry="3.44"/><ellipse cx="174.62" cy="281.72" rx="3.7" ry="3.78"/><ellipse cx="184.21" cy="284.42" rx="3.67" ry="3.01"/><ellipse cx="193.39" cy="281.6" rx="3.13" ry="3.16"/><ellipse cx="199.38" cy="283.97" rx="3.89" ry="3.76"/><ellipse cx="209.74" cy="283.21" rx="4.68" ry="4.68"/><ellipse cx="217.08" cy="282.96" rx="4.68" ry="4.63"/><ellipse cx="224.79" cy="284.61" rx="3.92" ry="3.75"/><ellipse cx="233.47" cy="281.65" rx="4.93" ry="4.52"/><ellipse cx="42.18" cy="290.16" rx="3.74" ry="3.79"/><ellipse cx="49.45" cy="289.92" rx="3.61" ry="4.04"/><ellipse cx="58.35" cy="291.04" rx="3.09" ry="3.6"/><ellipse cx="66.46" cy="289.84" rx="3.37" ry="3.45"/><ellipse cx="77.13" cy="291.79" rx="3.63" ry="3.76"/><ellipse cx="85.08" cy="289.54" rx="4.61" ry="4.15"/><ellipse cx="93.34" cy="291.17" rx="3.09" ry="3.93"/><ellipse cx="102.83" cy="291.33" rx="3.51" ry="4.39"/><ellipse cx="109.77" cy="290.12" rx="3.66" ry="3.43"/><ellipse cx="120.34" cy="289.65" rx="3.38" ry="3.26"/><ellipse cx="127.34" cy="291.98" rx="4.36" ry="3.97"/><ellipse cx="136.18" cy="290.52" rx="3.47" ry="3.56"/><ellipse cx="143.57" cy="289.37" rx="3.35" ry="3.88"/><ellipse cx="151.66" cy="289.7" rx="3.89" ry="4.14"/><ellipse cx="161.16" cy="290.86" rx="4.01" ry="4.37"/><ellipse cx="171.64" cy="290.78" rx="4.53" ry="4.11"/><ellipse cx="177.41" cy="289.98" rx="4.28" ry="4.76"/><ellipse cx="186.09" cy="290.04" rx="4.03" ry="4.88"/><ellipse cx="194.45" cy="289.5" rx="3.45" ry="3.97"/><ellipse cx="206.26" cy="290.31" rx="3" ry="3.12"/><ellipse cx="214.77" cy="289.63" rx="4.07" ry="3.98"/><ellipse cx="221.06" cy="289.47" rx="3.5" ry="3.75"/><ellipse cx="231.79" cy="290.24" rx="4.06" ry="4.21"/><ellipse cx="239.58" cy="289.15" rx="3.66" ry="3.61"/><ellipse cx="38.43" cy="299.1" rx="4.03" ry="3.51"/><ellipse cx="46.74" cy="297.91" rx="3.77" ry="4.28"/><ellipse cx="53.99" cy="298.73" rx="4.05" ry="3.81"/><ellipse cx="61.75" cy="296.83" rx="3.59" ry="3.96"/><ellipse cx="71.64" cy="298.01" rx="4.38" ry="4.08"/><ellipse cx="80.03" cy="299.76" rx="4.23" ry="4.39"/><ellipse cx="87.33" cy="299.13" rx="4.31" ry="3.98"/><ellipse cx="97.06" cy="298.26" rx="3.9" ry="4.23"/><ellipse cx="105.05" cy="296.9" rx="3.95" ry="3.16"/><ellipse cx="114.44" cy="296.98" rx="4.06" ry="4.15"/><ellipse cx="121.47" cy="298.85" rx="3.31" ry="3.37"/><ellipse cx="131.68" cy="298.41" rx="4.49" ry="4.1"/><ellipse cx="141.62" cy="299.03" rx="4.03" ry="3.63"/><ellipse cx="147.29" cy="298.67" rx="4.2" ry="4.08"/><ellipse cx="158.74" cy="296.71" rx="3.58" ry="4.01"/><ellipse cx="164.61" cy="297.74" rx="4.93" ry="4.62"/><ellipse cx="173.39" cy="296.87" rx="4.65" ry="4.19"/><ellipse cx="184.53" cy="298.6" rx="3.86" ry="3.6"/><ellipse cx="192.01" cy="299.59" rx="3.61" ry="3.95"/><ellipse cx="199.72" cy="298.36" rx="4.07" ry="3.48"/><ellipse cx="207.81" cy="296.73" rx="3.51" ry="4.15"/><ellipse cx="217.8" cy="298.55" rx="3.88" ry="4.18"/><ellipse cx="226.86" cy="299.2" rx="4.12" ry="4.56"/><ellipse cx="233.26" cy="297.47" rx="3.19" ry="3.58"/><ellipse cx="40.82" cy="305.89" rx="4.24" ry="4.65"/><ellipse cx="51.3" cy="304.92" rx="3.78" ry="4.24"/><ellipse cx="59.88" cy="307.15" rx="4.11" ry="4.18"/><ellipse cx="68.21" cy="304.95" rx="3.72" ry="2.96"/><ellipse cx="74.3" cy="305.25" rx="4.12" ry="4.31"/><ellipse cx="83.08" cy="305.35" rx="4.5" ry="4.56"/><ellipse cx="91.85" cy="304.41" rx="4.43" ry="3.55"/><ellipse cx="100.23" cy="304.31" rx="3.99" ry="3.9"/><ellipse cx="108.45" cy="306.53" rx="3.58" ry="3.49"/><ellipse cx="117.29" cy="305.68" rx="3.33" ry="3.56"/><ellipse cx="126.78" cy="304.07" rx="4.13" ry="4.51"/><ellipse cx="136.55" cy="306.59" rx="3.9" ry="3.86"/><ellipse cx="145.52" cy="306.64" rx="3.39" ry="3.72"/><ellipse cx="154.58" cy="305.83" rx="4.02" ry="3.8"/><ellipse cx="161.18" cy="306.43" rx="3.52" ry="3.71"/><ellipse cx="169.08" cy="304.67" rx="3.62" ry="4"/><ellipse cx="177.37" cy="306.65" rx="3.83" ry="4.32"/><ellipse cx="186.24" cy="304.66" rx="3.87" ry="3.92"/><ellipse cx="194.54" cy="305.41" rx="3.99" ry="4.06"/><ellipse cx="205.17" cy="304.27" rx="4.35" ry="3.83"/><ellipse cx="213.2" cy="303.94" rx="3.87" ry="4.04"/><ellipse cx="222.05" cy="305.57" rx="3.94" ry="3.8"/><ellipse cx="230.65" cy="305.26" rx="4.45" ry="4.39"/><ellipse cx="237.78" cy="304.57" rx="4.13" ry="3.48"/><ellipse cx="35.66" cy="313.58" rx="3.47" ry="3.84"/><ellipse cx="45.56" cy="311.54" rx="3.82" ry="4.17"/><ellipse cx="53.43" cy="313.46" rx="3.53" ry="4.28"/><ellipse cx="62.6" cy="311.52" rx="4.06" ry="3.73"/><ellipse cx="70.31" cy="313.08" rx="4.28" ry="4.18"/><ellipse cx="80.21" cy="312.7" rx="4.2" ry="3.97"/><ellipse cx="90.23" cy="314.4" rx="4.13" ry="4.79"/><ellipse cx="98.5" cy="311.8" rx="3.21" ry="3.54"/><ellipse cx="106.59" cy="314.46" rx="3.61" ry="4.52"/><ellipse cx="114.82" cy="311.55" rx="3.77" ry="4.04"/><ellipse cx="121.35" cy="312.71" rx="3.65" ry="3.93"/><ellipse cx="133.07" cy="312.87" rx="4.2" ry="4.26"/><ellipse cx="139.06" cy="313.45" rx="3.92" ry="4.4"/><ellipse cx="147.64" cy="311.84" rx="3.88" ry="4.18"/><ellipse cx="157.18" cy="313.44" rx="4.19" ry="3.44"/><ellipse cx="167.49" cy="311.4" rx="3.74" ry="3.95"/><ellipse cx="173.52" cy="313.97" rx="3.7" ry="3.87"/><ellipse cx="182.7" cy="312.55" rx="4.6" ry="4.37"/><ellipse cx="191.34" cy="314.31" rx="3.69" ry="3.73"/><ellipse cx="200.47" cy="311.7" rx="4.13" ry="4"/><ellipse cx="208.18" cy="314.06" rx="4" ry="3.23"/><ellipse cx="217.19" cy="311.45" rx="3.8" ry="4.26"/><ellipse cx="226.7" cy="314.38" rx="3.71" ry="3.8"/><ellipse cx="234.77" cy="311.73" rx="4.27" ry="4.52"/><ellipse cx="41.07" cy="320.71" rx="4.51" ry="4.37"/><ellipse cx="49.64" cy="319.02" rx="3.88" ry="3.53"/><ellipse cx="58.83" cy="319.72" rx="3.46" ry="4.24"/><ellipse cx="67.23" cy="319.7" rx="4.45" ry="4.32"/><ellipse cx="76.63" cy="320.37" rx="3.81" ry="4.39"/><ellipse cx="82.68" cy="320.81" rx="3.94" ry="4.13"/><ellipse cx="92.93" cy="320.1" rx="3.38" ry="3.05"/><ellipse cx="100.07" cy="320.91" rx="3.02" ry="3.05"/><ellipse cx="109.6" cy="319.12" rx="3.99" ry="3.96"/><ellipse cx="118.2" cy="320.62" rx="3.77" ry="3.79"/><ellipse cx="126.65" cy="322.22" rx="3.59" ry="3.57"/><ellipse cx="135.05" cy="321.07" rx="3.9" ry="3.79"/><ellipse cx="143.48" cy="319.38" rx="4.53" ry="4.46"/><ellipse cx="152.71" cy="321.24" rx="3.36" ry="3.31"/><ellipse cx="162.64" cy="321.29" rx="4.16" ry="3.83"/><ellipse cx="168.82" cy="319.6" rx="3.81" ry="3.64"/><ellipse cx="178.76" cy="320.67" rx="3.57" ry="3.54"/><ellipse cx="186.69" cy="320.01" rx="3.55" ry="3.53"/><ellipse cx="194.53" cy="319.07" rx="4" ry="3.94"/><ellipse cx="203.08" cy="321" rx="4.16" ry="4.43"/><ellipse cx="214.94" cy="318.91" rx="4.09" ry="4.44"/><ellipse cx="220.95" cy="319.03" rx="4.01" ry="4.31"/><ellipse cx="229.45" cy="318.84" rx="3.85" ry="4.13"/><ellipse cx="239.2" cy="320.41" rx="3.62" ry="3.44"/><ellipse cx="36" cy="326.38" rx="3.38" ry="3.29"/><ellipse cx="46.38" cy="328.33" rx="4.77" ry="3.83"/><ellipse cx="54.39" cy="328.17" rx="3.93" ry="3.53"/><ellipse cx="64.37" cy="329.42" rx="3.7" ry="3.35"/><ellipse cx="72.73" cy="327.08" rx="3.34" ry="3.83"/><ellipse cx="78.33" cy="329.05" rx="3.64" ry="4.27"/><ellipse cx="90.12" cy="327.04" rx="4.38" ry="3.8"/><ellipse cx="98.48" cy="326.51" rx="3.71" ry="3.75"/><ellipse cx="104.93" cy="329.57" rx="3.92" ry="3.9"/><ellipse cx="113.98" cy="328.43" rx="4.09" ry="4.01"/><ellipse cx="121.37" cy="329.3" rx="4.15" ry="3.6"/><ellipse cx="132.51" cy="329.54" rx="4.07" ry="4.46"/><ellipse cx="141.38" cy="328.09" rx="3.8" ry="4.05"/><ellipse cx="149.54" cy="328.8" rx="3.63" ry="4.24"/><ellipse cx="156.57" cy="328.24" rx="3.68" ry="3.34"/><ellipse cx="164.87" cy="327.57" rx="4.59" ry="4.23"/><ellipse cx="175.17" cy="329.2" rx="3.79" ry="3.41"/><ellipse cx="181.54" cy="326.42" rx="4" ry="4.08"/><ellipse cx="191.64" cy="327.47" rx="4.2" ry="4.79"/><ellipse cx="198.76" cy="328.05" rx="4.3" ry="3.52"/><ellipse cx="208.38" cy="327.85" rx="4.14" ry="3.58"/><ellipse cx="218.2" cy="329.63" rx="4.43" ry="4.18"/><ellipse cx="225.85" cy="327.76" rx="3.96" ry="3.39"/><ellipse cx="235.66" cy="326.85" rx="4.26" ry="3.92"/><ellipse cx="41.72" cy="334.69" rx="4.21" ry="4.7"/><ellipse cx="51.17" cy="335.67" rx="3.96" ry="4.15"/><ellipse cx="58.61" cy="334.68" rx="3.62" ry="4.35"/><ellipse cx="68.81" cy="336.53" rx="2.99" ry="3.79"/><ellipse cx="74.37" cy="333.97" rx="3.59" ry="3.84"/><ellipse cx="82.78" cy="333.95" rx="4.26" ry="3.7"/><ellipse cx="92.35" cy="334.87" rx="3.81" ry="3.44"/><ellipse cx="101.3" cy="334.98" rx="4.07" ry="4.09"/><ellipse cx="109.02" cy="336.72" rx="3.78" ry="3.81"/><ellipse cx="118.96" cy="337.11" rx="3.61" ry="3.73"/><ellipse cx="127.22" cy="336.2" rx="3.61" ry="3.72"/><ellipse cx="135.21" cy="336.7" rx="3.76" ry="3.85"/><ellipse cx="144.61" cy="333.86" rx="3.5" ry="3.68"/><ellipse cx="152.85" cy="336.73" rx="4.81" ry="3.84"/><ellipse cx="163.14" cy="335.69" rx="3.22" ry="3.04"/><ellipse cx="169.25" cy="335.36" rx="4.39" ry="4.6"/><ellipse cx="178.09" cy="335.1" rx="3.75" ry="3.61"/><ellipse cx="186.24" cy="335.85" rx="3.79" ry="3.43"/><ellipse cx="197.35" cy="336.89" rx="4.22" ry="4.39"/><ellipse cx="206.14" cy="336.28" rx="4.4" ry="4.18"/><ellipse cx="213.12" cy="336.14" rx="4.25" ry="4.59"/><ellipse cx="220.22" cy="336.99" rx="3.64" ry="4.24"/><ellipse cx="228.92" cy="336.97" rx="4.44" ry="4.55"/><ellipse cx="240.09" cy="335.39" rx="4.31" ry="4.09"/><ellipse cx="37.96" cy="342.6" rx="3.9" ry="3.58"/><ellipse cx="45.87" cy="344.44" rx="4.8" ry="3.89"/><ellipse cx="54.56" cy="344.54" rx="4" ry="4.35"/><ellipse cx="62.08" cy="344.15" rx="4.49" ry="4.17"/><ellipse cx="72.55" cy="344.43" rx="3.95" ry="3.58"/><ellipse cx="78.42" cy="341.53" rx="3.83" ry="3.76"/><ellipse cx="87.75" cy="341.76" rx="3.3" ry="4.06"/><ellipse cx="97.63" cy="342.02" rx="4.31" ry="4.84"/><ellipse cx="106.93" cy="342.63" rx="4.14" ry="4"/><ellipse cx="115.88" cy="344.04" rx="2.87" ry="3.39"/><ellipse cx="121.28" cy="343.54" rx="4.27" ry="4.32"/><ellipse cx="131.46" cy="341.66" rx="4.16" ry="4.66"/><ellipse cx="140.21" cy="343.82" rx="4.35" ry="3.95"/><ellipse cx="147.61" cy="341.65" rx="4.19" ry="3.7"/><ellipse cx="156.45" cy="343.37" rx="3.8" ry="3.33"/><ellipse cx="165.46" cy="344.35" rx="3.82" ry="4.11"/><ellipse cx="173.56" cy="341.97" rx="4.18" ry="4.3"/><ellipse cx="184.14" cy="341.74" rx="3.5" ry="4.3"/><ellipse cx="190.45" cy="342.65" rx="3.97" ry="4.05"/><ellipse cx="199.23" cy="342.19" rx="4.04" ry="4.52"/><ellipse cx="207.39" cy="342.14" rx="4.11" ry="3.85"/><ellipse cx="218.28" cy="342.15" rx="3.88" ry="4.6"/><ellipse cx="227.07" cy="343.89" rx="3.26" ry="3.63"/><ellipse cx="235.81" cy="342.44" rx="4.42" ry="4.69"/><ellipse cx="42.24" cy="350.85" rx="4.84" ry="4.26"/><ellipse cx="50.84" cy="351.2" rx="3.8" ry="3.35"/><ellipse cx="59.44" cy="350.58" rx="3.77" ry="4"/><ellipse cx="67.89" cy="349.45" rx="4.13" ry="3.8"/><ellipse cx="77.15" cy="351.84" rx="3.79" ry="3.9"/><ellipse cx="85.54" cy="349.75" rx="3.99" ry="3.69"/><ellipse cx="92.33" cy="349.84" rx="3.66" ry="4.27"/><ellipse cx="100.81" cy="349.29" rx="3.99" ry="4.07"/><ellipse cx="109.9" cy="351" rx="4.39" ry="4.59"/><ellipse cx="118.98" cy="352.08" rx="3.78" ry="3.56"/><ellipse cx="128.87" cy="350.89" rx="4.35" ry="3.77"/><ellipse cx="135.67" cy="351.19" rx="3.42" ry="3.41"/><ellipse cx="145.85" cy="351.77" rx="4.24" ry="4.4"/><ellipse cx="152.38" cy="349.31" rx="3.67" ry="4.19"/><ellipse cx="160.36" cy="349.73" rx="3.69" ry="3.9"/><ellipse cx="170.26" cy="349.44" rx="3.45" ry="4.2"/><ellipse cx="177.8" cy="351.99" rx="4.6" ry="4.73"/><ellipse cx="187.22" cy="350.1" rx="3.5" ry="3.53"/><ellipse cx="196.51" cy="351.34" rx="3.52" ry="3.51"/><ellipse cx="205.79" cy="350.63" rx="3.91" ry="3.79"/><ellipse cx="211.59" cy="350.05" rx="3.01" ry="3.52"/><ellipse cx="222.52" cy="350.94" rx="4.14" ry="3.6"/><ellipse cx="231.09" cy="350.55" rx="4.22" ry="4.19"/><ellipse cx="240.54" cy="350.1" rx="3.5" ry="3.43"/></g>
<g fill="#0e0e0e"><ellipse cx="45.19" cy="207.3" rx="3.06" ry="2.53"/><ellipse cx="54.87" cy="207.5" rx="2.97" ry="2.41"/><ellipse cx="61.17" cy="208.44" rx="2.82" ry="2.62"/><ellipse cx="114.57" cy="209" rx="2.63" ry="2.7"/><ellipse cx="40.35" cy="216.29" rx="2.65" ry="2.39"/><ellipse cx="59.34" cy="215.49" rx="1.99" ry="2.85"/><ellipse cx="91.24" cy="214.75" rx="3.02" ry="2.82"/><ellipse cx="126.39" cy="217.31" rx="3.09" ry="2.83"/><ellipse cx="135.28" cy="215.46" rx="3.07" ry="2.2"/><ellipse cx="152.64" cy="215.08" rx="2.26" ry="3.1"/><ellipse cx="162.83" cy="214.1" rx="2.32" ry="2.34"/><ellipse cx="169.23" cy="216.76" rx="2.34" ry="2.66"/><ellipse cx="228.92" cy="214.7" rx="2.95" ry="3.34"/><ellipse cx="239.25" cy="216.05" rx="2.44" ry="2.2"/><ellipse cx="72.5" cy="223.69" rx="2.83" ry="3.26"/><ellipse cx="78.89" cy="223.03" rx="2.62" ry="2.57"/><ellipse cx="89.23" cy="223.08" rx="2.34" ry="2.54"/><ellipse cx="184.86" cy="224.32" rx="2.49" ry="3.19"/><ellipse cx="193.41" cy="223.67" rx="3.2" ry="2.48"/><ellipse cx="202.02" cy="222.86" rx="2.79" ry="2.48"/><ellipse cx="216.9" cy="222.4" rx="2.26" ry="2.47"/><ellipse cx="224.59" cy="224.89" rx="2.23" ry="2.15"/><ellipse cx="234.02" cy="223.56" rx="2.66" ry="2.76"/><ellipse cx="75.35" cy="231.72" rx="2.77" ry="2.94"/><ellipse cx="84.5" cy="232.45" rx="2.99" ry="3.01"/><ellipse cx="151.62" cy="229.26" rx="2.26" ry="2.83"/><ellipse cx="168.82" cy="231.43" rx="3.12" ry="2.9"/><ellipse cx="177.76" cy="231.27" rx="3.15" ry="2.54"/><ellipse cx="213.11" cy="232.17" rx="2.93" ry="2.54"/><ellipse cx="222.86" cy="232.1" rx="2.41" ry="2.5"/><ellipse cx="231.25" cy="230.08" rx="2.28" ry="2.37"/><ellipse cx="44.47" cy="237.27" rx="2.41" ry="2.71"/><ellipse cx="72.6" cy="237.5" rx="2.11" ry="2.75"/><ellipse cx="98.17" cy="238" rx="2.43" ry="2.07"/><ellipse cx="106.36" cy="237.85" rx="3.26" ry="2.9"/><ellipse cx="114.7" cy="239.22" rx="2.35" ry="2.61"/><ellipse cx="124.39" cy="238.39" rx="2.9" ry="2.72"/><ellipse cx="132.33" cy="239.06" rx="3.09" ry="2.53"/><ellipse cx="148.69" cy="237.78" rx="2.44" ry="3.03"/><ellipse cx="167.03" cy="236.8" rx="2.22" ry="2.54"/><ellipse cx="183.4" cy="237.64" rx="2.82" ry="3"/><ellipse cx="60.15" cy="245.82" rx="2.08" ry="2.6"/><ellipse cx="76.44" cy="244.69" rx="2.41" ry="2.48"/><ellipse cx="120.02" cy="246.73" rx="2.21" ry="3.09"/><ellipse cx="154.04" cy="247.34" rx="1.99" ry="2.4"/><ellipse cx="161.25" cy="245.37" rx="3.42" ry="3.16"/><ellipse cx="179.82" cy="245.33" rx="2.84" ry="2.46"/><ellipse cx="211.67" cy="244.86" rx="3.11" ry="2.53"/><ellipse cx="35.58" cy="252.81" rx="2.54" ry="2.78"/><ellipse cx="71.94" cy="254.66" rx="2.7" ry="3.03"/><ellipse cx="139.93" cy="251.49" rx="2.13" ry="2.42"/><ellipse cx="148.04" cy="253.62" rx="2.63" ry="3.16"/><ellipse cx="156.81" cy="251.95" rx="2.74" ry="2.66"/><ellipse cx="164.6" cy="254.91" rx="2.26" ry="2.54"/><ellipse cx="200.32" cy="252.91" rx="2.72" ry="2.62"/><ellipse cx="217.73" cy="254.72" rx="2.11" ry="2.69"/><ellipse cx="226.73" cy="253.34" rx="3.05" ry="2.92"/><ellipse cx="235.21" cy="253" rx="1.99" ry="2.47"/><ellipse cx="75.39" cy="261.04" rx="2.31" ry="1.9"/><ellipse cx="94.31" cy="261.21" rx="3.23" ry="2.57"/><ellipse cx="152.22" cy="261.28" rx="2.67" ry="2.99"/><ellipse cx="161.47" cy="260.33" rx="2.37" ry="2.16"/><ellipse cx="229.09" cy="259.28" rx="2.35" ry="2.89"/><ellipse cx="70.46" cy="266.68" rx="2.83" ry="2.75"/><ellipse cx="105.31" cy="269.32" rx="2.66" ry="2.31"/><ellipse cx="114.45" cy="267.46" rx="2.26" ry="3.13"/><ellipse cx="123.4" cy="269.03" rx="2.04" ry="2.8"/><ellipse cx="133.17" cy="268.6" rx="2.71" ry="2.5"/><ellipse cx="150.26" cy="266.9" rx="2.53" ry="2.25"/><ellipse cx="159.07" cy="268.37" rx="2.81" ry="2.47"/><ellipse cx="174.25" cy="268.14" rx="3.14" ry="2.42"/><ellipse cx="183.16" cy="267.79" rx="3.17" ry="2.63"/><ellipse cx="192.41" cy="266.58" rx="2.54" ry="3.07"/><ellipse cx="201.59" cy="267.76" rx="2.28" ry="2.71"/><ellipse cx="227.22" cy="269.33" rx="2.64" ry="3.2"/><ellipse cx="234.98" cy="269.57" rx="2.56" ry="2.73"/><ellipse cx="49.61" cy="277.35" rx="2.94" ry="2.41"/><ellipse cx="57.13" cy="275.06" rx="3.25" ry="2.4"/><ellipse cx="67.05" cy="276.1" rx="2.83" ry="2.89"/><ellipse cx="83.67" cy="275.67" rx="3.45" ry="3.28"/><ellipse cx="101.75" cy="276.05" rx="2.04" ry="2.76"/><ellipse cx="108.81" cy="275.81" rx="2.46" ry="2.31"/><ellipse cx="126.75" cy="274.94" rx="2.17" ry="3"/><ellipse cx="177.87" cy="275.44" rx="2.48" ry="2.3"/><ellipse cx="229.82" cy="276.55" rx="2.62" ry="2.33"/><ellipse cx="37.68" cy="283.55" rx="2.5" ry="2.71"/><ellipse cx="44.76" cy="283.26" rx="2.22" ry="2.17"/><ellipse cx="72.26" cy="283.6" rx="2.39" ry="2.94"/><ellipse cx="88.24" cy="282.12" rx="2.88" ry="2.64"/><ellipse cx="115.47" cy="283.68" rx="2.96" ry="2.86"/><ellipse cx="132.58" cy="281.59" rx="2.73" ry="2.35"/><ellipse cx="141.85" cy="281.63" rx="1.9" ry="2.52"/><ellipse cx="156.37" cy="282.42" rx="2.42" ry="2.4"/><ellipse cx="165.1" cy="283.31" rx="2.44" ry="2.52"/><ellipse cx="174.62" cy="281.72" rx="2.16" ry="2.24"/><ellipse cx="193.39" cy="281.6" rx="2.08" ry="2.11"/><ellipse cx="42.18" cy="290.16" rx="2.46" ry="2.51"/><ellipse cx="49.45" cy="289.92" rx="2.14" ry="2.56"/><ellipse cx="77.13" cy="291.79" rx="2.3" ry="2.43"/><ellipse cx="109.77" cy="290.12" rx="2.75" ry="2.52"/><ellipse cx="136.18" cy="290.52" rx="2.51" ry="2.59"/><ellipse cx="61.75" cy="296.83" rx="2.41" ry="2.79"/><ellipse cx="71.64" cy="298.01" rx="3.12" ry="2.82"/><ellipse cx="97.06" cy="298.26" rx="2.53" ry="2.86"/><ellipse cx="114.44" cy="296.98" rx="2.86" ry="2.96"/><ellipse cx="173.39" cy="296.87" rx="3.11" ry="2.65"/><ellipse cx="226.86" cy="299.2" rx="2.54" ry="2.98"/><ellipse cx="59.88" cy="307.15" rx="3.03" ry="3.09"/><ellipse cx="83.08" cy="305.35" rx="2.83" ry="2.89"/><ellipse cx="100.23" cy="304.31" rx="2.83" ry="2.74"/><ellipse cx="126.78" cy="304.07" rx="2.66" ry="3.04"/><ellipse cx="136.55" cy="306.59" rx="2.59" ry="2.54"/><ellipse cx="161.18" cy="306.43" rx="2.45" ry="2.64"/><ellipse cx="169.08" cy="304.67" rx="2.36" ry="2.75"/><ellipse cx="194.54" cy="305.41" rx="2.81" ry="2.88"/><ellipse cx="205.17" cy="304.27" rx="3.33" ry="2.81"/><ellipse cx="237.78" cy="304.57" rx="2.94" ry="2.3"/><ellipse cx="45.56" cy="311.54" rx="2.39" ry="2.73"/><ellipse cx="133.07" cy="312.87" rx="2.76" ry="2.82"/><ellipse cx="139.06" cy="313.45" rx="2.43" ry="2.9"/><ellipse cx="157.18" cy="313.44" rx="2.81" ry="2.07"/><ellipse cx="167.49" cy="311.4" rx="2.49" ry="2.7"/><ellipse cx="182.7" cy="312.55" rx="3.51" ry="3.28"/><ellipse cx="226.7" cy="314.38" rx="2.72" ry="2.81"/><ellipse cx="41.07" cy="320.71" rx="2.86" ry="2.73"/><ellipse cx="67.23" cy="319.7" rx="2.97" ry="2.84"/><ellipse cx="82.68" cy="320.81" rx="2.65" ry="2.84"/><ellipse cx="118.2" cy="320.62" rx="2.26" ry="2.27"/><ellipse cx="162.64" cy="321.29" rx="2.99" ry="2.65"/><ellipse cx="168.82" cy="319.6" rx="2.9" ry="2.73"/><ellipse cx="194.53" cy="319.07" rx="2.41" ry="2.35"/><ellipse cx="214.94" cy="318.91" rx="2.43" ry="2.79"/><ellipse cx="46.38" cy="328.33" rx="3.32" ry="2.38"/><ellipse cx="78.33" cy="329.05" rx="2.36" ry="2.99"/><ellipse cx="104.93" cy="329.57" rx="2.39" ry="2.37"/><ellipse cx="113.98" cy="328.43" rx="2.55" ry="2.47"/><ellipse cx="156.57" cy="328.24" rx="2.54" ry="2.2"/><ellipse cx="175.17" cy="329.2" rx="2.36" ry="1.98"/><ellipse cx="181.54" cy="326.42" rx="2.56" ry="2.64"/><ellipse cx="191.64" cy="327.47" rx="2.58" ry="3.17"/><ellipse cx="198.76" cy="328.05" rx="3.08" ry="2.3"/><ellipse cx="68.81" cy="336.53" rx="2" ry="2.79"/><ellipse cx="74.37" cy="333.97" rx="2.32" ry="2.56"/><ellipse cx="82.78" cy="333.95" rx="2.88" ry="2.32"/><ellipse cx="118.96" cy="337.11" rx="2.61" ry="2.73"/><ellipse cx="127.22" cy="336.2" rx="2.58" ry="2.68"/><ellipse cx="135.21" cy="336.7" rx="2.3" ry="2.39"/><ellipse cx="152.85" cy="336.73" rx="3.42" ry="2.45"/><ellipse cx="213.12" cy="336.14" rx="2.67" ry="3.02"/><ellipse cx="228.92" cy="336.97" rx="2.88" ry="2.99"/><ellipse cx="240.09" cy="335.39" rx="2.82" ry="2.6"/><ellipse cx="45.87" cy="344.44" rx="3.19" ry="2.29"/><ellipse cx="62.08" cy="344.15" rx="2.82" ry="2.51"/><ellipse cx="72.55" cy="344.43" rx="2.85" ry="2.49"/><ellipse cx="78.42" cy="341.53" rx="2.41" ry="2.34"/><ellipse cx="106.93" cy="342.63" rx="2.97" ry="2.84"/><ellipse cx="115.88" cy="344.04" rx="1.88" ry="2.41"/><ellipse cx="184.14" cy="341.74" rx="2.37" ry="3.17"/><ellipse cx="190.45" cy="342.65" rx="2.32" ry="2.4"/><ellipse cx="199.23" cy="342.19" rx="2.69" ry="3.17"/><ellipse cx="207.39" cy="342.14" rx="2.93" ry="2.68"/><ellipse cx="50.84" cy="351.2" rx="2.4" ry="1.95"/><ellipse cx="59.44" cy="350.58" rx="2.8" ry="3.03"/><ellipse cx="77.15" cy="351.84" rx="2.45" ry="2.55"/><ellipse cx="109.9" cy="351" rx="3.18" ry="3.38"/><ellipse cx="118.98" cy="352.08" rx="2.54" ry="2.33"/><ellipse cx="135.67" cy="351.19" rx="2.17" ry="2.15"/><ellipse cx="187.22" cy="350.1" rx="1.98" ry="2.02"/><ellipse cx="196.51" cy="351.34" rx="2.57" ry="2.56"/><ellipse cx="222.52" cy="350.94" rx="2.91" ry="2.37"/></g>
<g fill="#181818"><ellipse cx="71.5" cy="209.21" rx="3.02" ry="2.77"/><ellipse cx="90.29" cy="209.54" rx="2.23" ry="2.6"/><ellipse cx="105.43" cy="209.52" rx="2.89" ry="2.54"/><ellipse cx="141.65" cy="208.47" rx="2.42" ry="2.94"/><ellipse cx="157.44" cy="207.02" rx="2.51" ry="3.36"/><ellipse cx="209.73" cy="208.14" rx="2.5" ry="2.04"/><ellipse cx="218.62" cy="207.47" rx="2.71" ry="2.95"/><ellipse cx="234.82" cy="208.05" rx="3.43" ry="3.03"/><ellipse cx="50.72" cy="214.49" rx="2.01" ry="2.03"/><ellipse cx="74.11" cy="214.75" rx="2.44" ry="2.75"/><ellipse cx="82.94" cy="216.35" rx="2.51" ry="2.33"/><ellipse cx="117.71" cy="216.67" rx="3.09" ry="2.58"/><ellipse cx="144.9" cy="216.75" rx="2.64" ry="2.28"/><ellipse cx="179.74" cy="214.42" rx="2.79" ry="3.49"/><ellipse cx="187.67" cy="216.51" rx="2.23" ry="2.34"/><ellipse cx="213.19" cy="215.29" rx="2.14" ry="2.14"/><ellipse cx="220.49" cy="216.65" rx="2.43" ry="2.21"/><ellipse cx="36.2" cy="224.53" rx="2.27" ry="2.26"/><ellipse cx="63.95" cy="223.61" rx="2.11" ry="2.43"/><ellipse cx="104.15" cy="223.92" rx="2.81" ry="2.31"/><ellipse cx="131.53" cy="222.32" rx="2.65" ry="3.01"/><ellipse cx="158.09" cy="223.14" rx="2" ry="2.46"/><ellipse cx="41.46" cy="230.71" rx="3.21" ry="2.98"/><ellipse cx="94.58" cy="230.61" rx="2.78" ry="3.17"/><ellipse cx="134.21" cy="232.17" rx="2.76" ry="3.07"/><ellipse cx="145.65" cy="230.69" rx="2.15" ry="2.64"/><ellipse cx="161.36" cy="231.4" rx="2.41" ry="2.41"/><ellipse cx="187.13" cy="230.4" rx="2.38" ry="2.76"/><ellipse cx="197.7" cy="231.46" rx="2.35" ry="3.35"/><ellipse cx="61.46" cy="237.24" rx="1.9" ry="1.89"/><ellipse cx="78.33" cy="237.01" rx="2.28" ry="2.63"/><ellipse cx="89.12" cy="237.55" rx="2.34" ry="2.33"/><ellipse cx="158.76" cy="239.13" rx="2.87" ry="3.21"/><ellipse cx="224.9" cy="237.6" rx="3.13" ry="2.89"/><ellipse cx="66.02" cy="245.4" rx="2.3" ry="2.36"/><ellipse cx="93.96" cy="244.75" rx="2.43" ry="2.83"/><ellipse cx="102.1" cy="245.86" rx="3.31" ry="3.23"/><ellipse cx="171.49" cy="245.31" rx="2.94" ry="2.49"/><ellipse cx="195.37" cy="245.44" rx="2.33" ry="2.9"/><ellipse cx="232.12" cy="244.34" rx="2.6" ry="2.87"/><ellipse cx="45.97" cy="253.12" rx="2.51" ry="2.6"/><ellipse cx="89.05" cy="254.58" rx="2.65" ry="2.35"/><ellipse cx="96.44" cy="253.86" rx="2.2" ry="2.36"/><ellipse cx="113.8" cy="253.85" rx="3.09" ry="3.18"/><ellipse cx="130.05" cy="252.06" rx="2.44" ry="2.38"/><ellipse cx="173.36" cy="252.85" rx="3.12" ry="2.65"/><ellipse cx="207.47" cy="253.22" rx="2.15" ry="2.36"/><ellipse cx="41.25" cy="261.71" rx="2.68" ry="2.6"/><ellipse cx="68.62" cy="259.3" rx="2.26" ry="2.49"/><ellipse cx="100.14" cy="262.23" rx="2.46" ry="2.38"/><ellipse cx="111.41" cy="260.15" rx="3.31" ry="3.06"/><ellipse cx="127.37" cy="259.15" rx="3.2" ry="2.41"/><ellipse cx="178.91" cy="261.76" rx="2.54" ry="2.97"/><ellipse cx="185.84" cy="260.32" rx="3" ry="3.2"/><ellipse cx="222.43" cy="260.8" rx="2.75" ry="2.1"/><ellipse cx="53.44" cy="267.04" rx="2.34" ry="2.65"/><ellipse cx="61.96" cy="267.64" rx="2.46" ry="2.15"/><ellipse cx="97.36" cy="269.63" rx="2.48" ry="2.55"/><ellipse cx="166.59" cy="269.61" rx="3.03" ry="3.15"/><ellipse cx="208.45" cy="266.61" rx="2.43" ry="2.7"/><ellipse cx="217.49" cy="268.44" rx="2.69" ry="2.41"/><ellipse cx="41.63" cy="275.83" rx="2.48" ry="3.13"/><ellipse cx="77.15" cy="277.05" rx="2.19" ry="2.63"/><ellipse cx="93.63" cy="276.56" rx="2.76" ry="2.72"/><ellipse cx="119.52" cy="274.95" rx="3.47" ry="3.29"/><ellipse cx="162.47" cy="274.67" rx="2.37" ry="3.52"/><ellipse cx="186.45" cy="274.54" rx="2.55" ry="3.26"/><ellipse cx="195.63" cy="275.59" rx="3.14" ry="3.04"/><ellipse cx="205.83" cy="275.92" rx="2.69" ry="2.23"/><ellipse cx="240.07" cy="275.49" rx="2.56" ry="2.25"/><ellipse cx="97.93" cy="283.76" rx="2.27" ry="2.24"/><ellipse cx="105.99" cy="284.41" rx="2.47" ry="2.77"/><ellipse cx="123" cy="284.39" rx="3.11" ry="3.38"/><ellipse cx="147.27" cy="281.52" rx="2.83" ry="2.65"/><ellipse cx="184.21" cy="284.42" rx="2.72" ry="2.07"/><ellipse cx="199.38" cy="283.97" rx="2.81" ry="2.68"/><ellipse cx="209.74" cy="283.21" rx="3.17" ry="3.17"/><ellipse cx="217.08" cy="282.96" rx="3.1" ry="3.05"/><ellipse cx="233.47" cy="281.65" rx="3.3" ry="2.9"/><ellipse cx="66.46" cy="289.84" rx="2.19" ry="2.27"/><ellipse cx="93.34" cy="291.17" rx="2.15" ry="3"/><ellipse cx="127.34" cy="291.98" rx="3.11" ry="2.72"/><ellipse cx="143.57" cy="289.37" rx="2.3" ry="2.82"/><ellipse cx="161.16" cy="290.86" rx="3.08" ry="3.45"/><ellipse cx="171.64" cy="290.78" rx="3.35" ry="2.93"/><ellipse cx="186.09" cy="290.04" rx="2.62" ry="3.46"/><ellipse cx="194.45" cy="289.5" rx="2.34" ry="2.87"/><ellipse cx="206.26" cy="290.31" rx="2" ry="2.12"/><ellipse cx="239.58" cy="289.15" rx="2.37" ry="2.32"/><ellipse cx="46.74" cy="297.91" rx="2.58" ry="3.09"/><ellipse cx="53.99" cy="298.73" rx="2.55" ry="2.31"/><ellipse cx="80.03" cy="299.76" rx="2.54" ry="2.71"/><ellipse cx="87.33" cy="299.13" rx="2.85" ry="2.52"/><ellipse cx="121.47" cy="298.85" rx="2.26" ry="2.31"/><ellipse cx="131.68" cy="298.41" rx="3.2" ry="2.81"/><ellipse cx="147.29" cy="298.67" rx="3.04" ry="2.92"/><ellipse cx="184.53" cy="298.6" rx="2.6" ry="2.34"/><ellipse cx="199.72" cy="298.36" rx="2.77" ry="2.19"/><ellipse cx="217.8" cy="298.55" rx="2.6" ry="2.91"/><ellipse cx="233.26" cy="297.47" rx="2.25" ry="2.65"/><ellipse cx="40.82" cy="305.89" rx="2.66" ry="3.08"/><ellipse cx="68.21" cy="304.95" rx="2.81" ry="2.05"/><ellipse cx="74.3" cy="305.25" rx="2.44" ry="2.63"/><ellipse cx="177.37" cy="306.65" rx="2.31" ry="2.79"/><ellipse cx="213.2" cy="303.94" rx="2.63" ry="2.8"/><ellipse cx="230.65" cy="305.26" rx="2.97" ry="2.91"/><ellipse cx="35.66" cy="313.58" rx="2.37" ry="2.75"/><ellipse cx="53.43" cy="313.46" rx="2.37" ry="3.12"/><ellipse cx="80.21" cy="312.7" rx="2.51" ry="2.28"/><ellipse cx="98.5" cy="311.8" rx="2.27" ry="2.6"/><ellipse cx="106.59" cy="314.46" rx="2.28" ry="3.19"/><ellipse cx="173.52" cy="313.97" rx="2.45" ry="2.62"/><ellipse cx="200.47" cy="311.7" rx="3.22" ry="3.09"/><ellipse cx="217.19" cy="311.45" rx="2.79" ry="3.25"/><ellipse cx="49.64" cy="319.02" rx="2.5" ry="2.16"/><ellipse cx="76.63" cy="320.37" rx="2.58" ry="3.17"/><ellipse cx="92.93" cy="320.1" rx="2.44" ry="2.11"/><ellipse cx="100.07" cy="320.91" rx="2.08" ry="2.11"/><ellipse cx="126.65" cy="322.22" rx="2.68" ry="2.65"/><ellipse cx="135.05" cy="321.07" rx="2.93" ry="2.82"/><ellipse cx="143.48" cy="319.38" rx="3.13" ry="3.07"/><ellipse cx="152.71" cy="321.24" rx="2.36" ry="2.32"/><ellipse cx="178.76" cy="320.67" rx="2.18" ry="2.16"/><ellipse cx="186.69" cy="320.01" rx="2.03" ry="2.01"/><ellipse cx="203.08" cy="321" rx="2.49" ry="2.76"/><ellipse cx="220.95" cy="319.03" rx="2.7" ry="3"/><ellipse cx="36" cy="326.38" rx="2.17" ry="2.07"/><ellipse cx="54.39" cy="328.17" rx="2.78" ry="2.38"/><ellipse cx="72.73" cy="327.08" rx="2.12" ry="2.6"/><ellipse cx="90.12" cy="327.04" rx="2.8" ry="2.22"/><ellipse cx="132.51" cy="329.54" rx="2.63" ry="3.02"/><ellipse cx="141.38" cy="328.09" rx="2.55" ry="2.81"/><ellipse cx="149.54" cy="328.8" rx="2.52" ry="3.13"/><ellipse cx="164.87" cy="327.57" rx="3.05" ry="2.69"/><ellipse cx="208.38" cy="327.85" rx="2.9" ry="2.34"/><ellipse cx="218.2" cy="329.63" rx="2.96" ry="2.72"/><ellipse cx="41.72" cy="334.69" rx="2.57" ry="3.06"/><ellipse cx="58.61" cy="334.68" rx="2.4" ry="3.14"/><ellipse cx="101.3" cy="334.98" rx="2.82" ry="2.84"/><ellipse cx="109.02" cy="336.72" rx="2.38" ry="2.41"/><ellipse cx="144.61" cy="333.86" rx="2.19" ry="2.37"/><ellipse cx="163.14" cy="335.69" rx="2.29" ry="2.11"/><ellipse cx="178.09" cy="335.1" rx="2.27" ry="2.13"/><ellipse cx="197.35" cy="336.89" rx="2.72" ry="2.88"/><ellipse cx="37.96" cy="342.6" rx="2.85" ry="2.54"/><ellipse cx="97.63" cy="342.02" rx="2.66" ry="3.19"/><ellipse cx="121.28" cy="343.54" rx="2.87" ry="2.92"/><ellipse cx="165.46" cy="344.35" rx="2.35" ry="2.64"/><ellipse cx="173.56" cy="341.97" rx="2.59" ry="2.71"/><ellipse cx="218.28" cy="342.15" rx="2.43" ry="3.16"/><ellipse cx="235.81" cy="342.44" rx="2.92" ry="3.19"/><ellipse cx="42.24" cy="350.85" rx="3.45" ry="2.88"/><ellipse cx="85.54" cy="349.75" rx="2.71" ry="2.41"/><ellipse cx="92.33" cy="349.84" rx="2.31" ry="2.91"/><ellipse cx="145.85" cy="351.77" rx="2.67" ry="2.83"/><ellipse cx="205.79" cy="350.63" rx="2.55" ry="2.44"/></g>
<g fill="#262626"><ellipse cx="35.74" cy="209.5" rx="2.56" ry="2.83"/><ellipse cx="81.56" cy="209.77" rx="3.02" ry="3.03"/><ellipse cx="97.23" cy="209.71" rx="2.22" ry="2.89"/><ellipse cx="123.07" cy="207.93" rx="2.15" ry="2.16"/><ellipse cx="131.92" cy="207.93" rx="2.42" ry="2.89"/><ellipse cx="149.35" cy="208.67" rx="2.68" ry="3.21"/><ellipse cx="166.24" cy="207.27" rx="2.64" ry="2.5"/><ellipse cx="174.74" cy="209.29" rx="2.63" ry="2.84"/><ellipse cx="183.49" cy="209.54" rx="3.2" ry="3.22"/><ellipse cx="190.32" cy="209.57" rx="2.88" ry="2.39"/><ellipse cx="199.32" cy="207.58" rx="2.18" ry="2.85"/><ellipse cx="227.29" cy="206.65" rx="1.99" ry="2.51"/><ellipse cx="68.69" cy="216.02" rx="2.78" ry="2.88"/><ellipse cx="100.7" cy="214.39" rx="2.61" ry="2.99"/><ellipse cx="110.05" cy="217.45" rx="2.69" ry="2.05"/><ellipse cx="196.88" cy="215.16" rx="2.47" ry="2.13"/><ellipse cx="206.32" cy="214.45" rx="2.57" ry="2.92"/><ellipse cx="45.58" cy="224.51" rx="2.41" ry="2.69"/><ellipse cx="53.08" cy="224.21" rx="3.37" ry="2.77"/><ellipse cx="96.84" cy="222.71" rx="2.01" ry="2.63"/><ellipse cx="114.05" cy="222.92" rx="2.44" ry="2.19"/><ellipse cx="124.35" cy="224.71" rx="3.12" ry="2.63"/><ellipse cx="141.82" cy="222.3" rx="3.26" ry="3.12"/><ellipse cx="149.72" cy="224.58" rx="2.71" ry="2.87"/><ellipse cx="164.89" cy="222.41" rx="2.52" ry="2.71"/><ellipse cx="174.23" cy="223.74" rx="2.92" ry="2.61"/><ellipse cx="209.42" cy="223.22" rx="2.38" ry="2.48"/><ellipse cx="50.97" cy="232.14" rx="2.38" ry="1.87"/><ellipse cx="59.4" cy="232.37" rx="2.4" ry="2.47"/><ellipse cx="67.71" cy="231.64" rx="2.15" ry="2.75"/><ellipse cx="102.2" cy="230.57" rx="2.43" ry="2.8"/><ellipse cx="109.84" cy="230.42" rx="3" ry="3.17"/><ellipse cx="117.21" cy="232.42" rx="2.94" ry="2.27"/><ellipse cx="127.74" cy="231.21" rx="3.29" ry="3.37"/><ellipse cx="206.17" cy="232.24" rx="2.25" ry="2.05"/><ellipse cx="237.53" cy="231.81" rx="2.55" ry="2.49"/><ellipse cx="38.08" cy="239.82" rx="2.56" ry="3.1"/><ellipse cx="55.3" cy="238.1" rx="2.39" ry="2.94"/><ellipse cx="138.68" cy="237.21" rx="2.13" ry="2.74"/><ellipse cx="173.78" cy="237.82" rx="2.55" ry="2"/><ellipse cx="190.53" cy="239.31" rx="2.73" ry="3.03"/><ellipse cx="200.52" cy="239.59" rx="2.64" ry="2.49"/><ellipse cx="208.4" cy="237.92" rx="1.97" ry="2.2"/><ellipse cx="216.96" cy="237.53" rx="2.37" ry="2.8"/><ellipse cx="234.73" cy="239.65" rx="3.5" ry="3.32"/><ellipse cx="42.34" cy="244.45" rx="2.75" ry="3.19"/><ellipse cx="50.15" cy="245.15" rx="3.35" ry="2.84"/><ellipse cx="84.79" cy="244.59" rx="2.35" ry="2.75"/><ellipse cx="109.78" cy="244.02" rx="2.54" ry="3.07"/><ellipse cx="128.88" cy="246.38" rx="2.79" ry="3.1"/><ellipse cx="135.27" cy="246.66" rx="3.3" ry="2.51"/><ellipse cx="144.18" cy="246.16" rx="2.32" ry="2.52"/><ellipse cx="188.58" cy="245.26" rx="2.66" ry="2.82"/><ellipse cx="206.25" cy="245.37" rx="2.15" ry="2.29"/><ellipse cx="220.49" cy="246.09" rx="3.06" ry="3.04"/><ellipse cx="239.73" cy="244.61" rx="3.1" ry="2.35"/><ellipse cx="53.91" cy="254.53" rx="2.74" ry="2.99"/><ellipse cx="64.22" cy="254.19" rx="3.13" ry="2.3"/><ellipse cx="79.07" cy="252.42" rx="2.7" ry="2.38"/><ellipse cx="104.69" cy="254.08" rx="2.91" ry="2.76"/><ellipse cx="122.93" cy="251.88" rx="3.15" ry="2.6"/><ellipse cx="181.51" cy="254.53" rx="2.51" ry="3.47"/><ellipse cx="192.98" cy="253.56" rx="2.8" ry="3.12"/><ellipse cx="51.05" cy="260.35" rx="2.56" ry="2.74"/><ellipse cx="58.86" cy="258.98" rx="3.46" ry="3.14"/><ellipse cx="85.37" cy="261.82" rx="2.74" ry="3"/><ellipse cx="118.41" cy="260.19" rx="2.65" ry="3.17"/><ellipse cx="137.26" cy="261.56" rx="2.46" ry="2.37"/><ellipse cx="145.65" cy="259.56" rx="2.35" ry="2.62"/><ellipse cx="169.87" cy="259.33" rx="1.92" ry="2.02"/><ellipse cx="197.79" cy="260.83" rx="2.4" ry="2.14"/><ellipse cx="203.8" cy="261.62" rx="3.5" ry="2.57"/><ellipse cx="212.33" cy="259.76" rx="2.34" ry="2.04"/><ellipse cx="240.67" cy="260.03" rx="2.41" ry="2.59"/><ellipse cx="38.12" cy="269.09" rx="3.29" ry="3.08"/><ellipse cx="45.24" cy="267.77" rx="2.75" ry="2.3"/><ellipse cx="80.27" cy="268.34" rx="2.26" ry="2.7"/><ellipse cx="87.08" cy="269" rx="2.76" ry="2.66"/><ellipse cx="140.21" cy="267.8" rx="3.51" ry="2.6"/><ellipse cx="134.28" cy="275" rx="3.26" ry="2.31"/><ellipse cx="144.95" cy="275.73" rx="2.82" ry="2.17"/><ellipse cx="153.12" cy="276.4" rx="2.92" ry="2.48"/><ellipse cx="171.67" cy="274.06" rx="2.84" ry="2.48"/><ellipse cx="214.85" cy="276.78" rx="2.75" ry="2.7"/><ellipse cx="222.72" cy="277.03" rx="2.96" ry="2.46"/><ellipse cx="53.2" cy="281.68" rx="2.85" ry="2.52"/><ellipse cx="62.09" cy="282.81" rx="2.06" ry="2.68"/><ellipse cx="81.51" cy="282.8" rx="2.01" ry="2.21"/><ellipse cx="224.79" cy="284.61" rx="2.87" ry="2.7"/><ellipse cx="58.35" cy="291.04" rx="1.99" ry="2.5"/><ellipse cx="85.08" cy="289.54" rx="3.02" ry="2.56"/><ellipse cx="102.83" cy="291.33" rx="2.36" ry="3.25"/><ellipse cx="120.34" cy="289.65" rx="2.41" ry="2.3"/><ellipse cx="151.66" cy="289.7" rx="2.47" ry="2.72"/><ellipse cx="177.41" cy="289.98" rx="2.89" ry="3.38"/><ellipse cx="214.77" cy="289.63" rx="2.71" ry="2.62"/><ellipse cx="221.06" cy="289.47" rx="2.01" ry="2.26"/><ellipse cx="231.79" cy="290.24" rx="2.96" ry="3.11"/><ellipse cx="38.43" cy="299.1" rx="2.69" ry="2.17"/><ellipse cx="105.05" cy="296.9" rx="2.75" ry="1.95"/><ellipse cx="141.62" cy="299.03" rx="2.52" ry="2.11"/><ellipse cx="158.74" cy="296.71" rx="2.31" ry="2.74"/><ellipse cx="164.61" cy="297.74" rx="3.35" ry="3.04"/><ellipse cx="192.01" cy="299.59" rx="2.46" ry="2.8"/><ellipse cx="207.81" cy="296.73" rx="2.21" ry="2.86"/><ellipse cx="51.3" cy="304.92" rx="2.86" ry="3.32"/><ellipse cx="91.85" cy="304.41" rx="3.17" ry="2.3"/><ellipse cx="108.45" cy="306.53" rx="2.65" ry="2.55"/><ellipse cx="117.29" cy="305.68" rx="2.31" ry="2.54"/><ellipse cx="145.52" cy="306.64" rx="2.4" ry="2.73"/><ellipse cx="154.58" cy="305.83" rx="2.78" ry="2.55"/><ellipse cx="186.24" cy="304.66" rx="2.7" ry="2.74"/><ellipse cx="222.05" cy="305.57" rx="2.72" ry="2.59"/><ellipse cx="62.6" cy="311.52" rx="2.92" ry="2.59"/><ellipse cx="70.31" cy="313.08" rx="3.05" ry="2.95"/><ellipse cx="90.23" cy="314.4" rx="2.6" ry="3.27"/><ellipse cx="114.82" cy="311.55" rx="2.11" ry="2.38"/><ellipse cx="121.35" cy="312.71" rx="2.2" ry="2.48"/><ellipse cx="147.64" cy="311.84" rx="2.43" ry="2.73"/><ellipse cx="191.34" cy="314.31" rx="2.24" ry="2.28"/><ellipse cx="208.18" cy="314.06" rx="2.98" ry="2.21"/><ellipse cx="234.77" cy="311.73" rx="2.87" ry="3.12"/><ellipse cx="58.83" cy="319.72" rx="2.43" ry="3.21"/><ellipse cx="109.6" cy="319.12" rx="2.48" ry="2.45"/><ellipse cx="229.45" cy="318.84" rx="2.26" ry="2.54"/><ellipse cx="239.2" cy="320.41" rx="2.61" ry="2.42"/><ellipse cx="64.37" cy="329.42" rx="2.38" ry="2.03"/><ellipse cx="98.48" cy="326.51" rx="2.51" ry="2.55"/><ellipse cx="121.37" cy="329.3" rx="3.15" ry="2.6"/><ellipse cx="225.85" cy="327.76" rx="2.68" ry="2.11"/><ellipse cx="235.66" cy="326.85" rx="2.95" ry="2.61"/><ellipse cx="51.17" cy="335.67" rx="2.36" ry="2.55"/><ellipse cx="92.35" cy="334.87" rx="2.73" ry="2.35"/><ellipse cx="169.25" cy="335.36" rx="2.81" ry="3.02"/><ellipse cx="186.24" cy="335.85" rx="2.61" ry="2.25"/><ellipse cx="206.14" cy="336.28" rx="3.03" ry="2.81"/><ellipse cx="220.22" cy="336.99" rx="2.59" ry="3.2"/><ellipse cx="54.56" cy="344.54" rx="2.46" ry="2.81"/><ellipse cx="87.75" cy="341.76" rx="2.09" ry="2.85"/><ellipse cx="131.46" cy="341.66" rx="2.65" ry="3.14"/><ellipse cx="140.21" cy="343.82" rx="2.66" ry="2.27"/><ellipse cx="147.61" cy="341.65" rx="2.8" ry="2.31"/><ellipse cx="156.45" cy="343.37" rx="2.8" ry="2.32"/><ellipse cx="227.07" cy="343.89" rx="1.9" ry="2.27"/><ellipse cx="67.89" cy="349.45" rx="3.14" ry="2.81"/><ellipse cx="100.81" cy="349.29" rx="2.88" ry="2.96"/><ellipse cx="128.87" cy="350.89" rx="2.95" ry="2.37"/><ellipse cx="152.38" cy="349.31" rx="2.23" ry="2.75"/><ellipse cx="160.36" cy="349.73" rx="2.45" ry="2.67"/><ellipse cx="170.26" cy="349.44" rx="2.22" ry="2.97"/><ellipse cx="177.8" cy="351.99" rx="3.02" ry="3.14"/><ellipse cx="211.59" cy="350.05" rx="2.05" ry="2.55"/><ellipse cx="231.09" cy="350.55" rx="3.17" ry="3.14"/><ellipse cx="240.54" cy="350.1" rx="2.24" ry="2.17"/></g>
</g>
<rect x="41.3" y="347.6" width="193.1" height="9.4" fill="#050505" stroke="none" stroke-width="1" />
<text x="43.5" y="354.8" font-size="5.7" text-anchor="start" fill="#d4d4d4" >GIEC17-392 2.0kV 4.9mm x50.0k SE(M)</text>
<text x="231.4" y="354.8" font-size="5.6" text-anchor="end" fill="#cfcfcf" >1.00um</text>
<path d="M230.4,348.2v1.4M222.2,348.2v1.4M214,348.2v1.4M205.8,348.2v1.4M197.6,348.2v1.4M189.4,348.2v1.4M181.2,348.2v1.4M173,348.2v1.4M164.8,348.2v1.4M156.6,348.2v1.4M148.4,348.2v1.4" stroke="#cfcfcf" stroke-width="0.8"/>
<rect x="134.6" y="212" width="100.5" height="76.4" fill="#f4f4f4" stroke="none" stroke-width="1" />
<rect x="135.8" y="212.6" width="98.6" height="74.6" fill="#b0b0b0" stroke="none" stroke-width="1" />
<path d="M135.8,212.6 H234.4 V238 L228,236 L220,233 L210,235 L200,232 L190,234 L180,231 L172,235 L165,233 L155,236 L146,234 L140,237 L135.8,236 Z" fill="#3c3c3c"/>
<g><line x1="136.79" y1="236" x2="135.74" y2="260.41" stroke="#7a7a7a" stroke-width="0.9" /><line x1="138.94" y1="236" x2="139.04" y2="255.85" stroke="#dcdcdc" stroke-width="0.9" /><line x1="141.37" y1="236" x2="141.39" y2="250.6" stroke="#7a7a7a" stroke-width="0.9" /><line x1="144.27" y1="236" x2="142.98" y2="251.45" stroke="#dcdcdc" stroke-width="0.9" /><line x1="146.71" y1="236" x2="147.69" y2="251.98" stroke="#7a7a7a" stroke-width="0.9" /><line x1="148.92" y1="236" x2="149.3" y2="265.16" stroke="#dcdcdc" stroke-width="0.9" /><line x1="151.79" y1="236" x2="151.48" y2="265.62" stroke="#7a7a7a" stroke-width="0.9" /><line x1="153.61" y1="236" x2="154.68" y2="254.63" stroke="#dcdcdc" stroke-width="0.9" /><line x1="156.17" y1="236" x2="155.03" y2="254.94" stroke="#7a7a7a" stroke-width="0.9" /><line x1="159.43" y1="236" x2="158.47" y2="259.31" stroke="#dcdcdc" stroke-width="0.9" /><line x1="161.67" y1="236" x2="161.28" y2="258.76" stroke="#7a7a7a" stroke-width="0.9" /><line x1="163.43" y1="236" x2="162.1" y2="253.3" stroke="#dcdcdc" stroke-width="0.9" /><line x1="166.62" y1="236" x2="166.4" y2="255.03" stroke="#7a7a7a" stroke-width="0.9" /><line x1="168.95" y1="236" x2="168.81" y2="254.8" stroke="#dcdcdc" stroke-width="0.9" /><line x1="171.65" y1="236" x2="172.25" y2="253.91" stroke="#7a7a7a" stroke-width="0.9" /><line x1="173.84" y1="236" x2="173.91" y2="264" stroke="#dcdcdc" stroke-width="0.9" /><line x1="176.48" y1="236" x2="175.84" y2="265.68" stroke="#7a7a7a" stroke-width="0.9" /><line x1="178.19" y1="236" x2="177.95" y2="262.11" stroke="#dcdcdc" stroke-width="0.9" /><line x1="180.68" y1="236" x2="180.65" y2="250.63" stroke="#7a7a7a" stroke-width="0.9" /><line x1="183.75" y1="236" x2="184.55" y2="259.17" stroke="#dcdcdc" stroke-width="0.9" /><line x1="186.45" y1="236" x2="185.89" y2="261.12" stroke="#7a7a7a" stroke-width="0.9" /><line x1="188.56" y1="236" x2="188.8" y2="257.3" stroke="#dcdcdc" stroke-width="0.9" /><line x1="191.31" y1="236" x2="192.64" y2="257.59" stroke="#7a7a7a" stroke-width="0.9" /><line x1="193.55" y1="236" x2="192.23" y2="261.22" stroke="#dcdcdc" stroke-width="0.9" /><line x1="195.98" y1="236" x2="197.46" y2="263.15" stroke="#7a7a7a" stroke-width="0.9" /><line x1="197.99" y1="236" x2="197.65" y2="260.7" stroke="#dcdcdc" stroke-width="0.9" /><line x1="200.13" y1="236" x2="200.01" y2="252.69" stroke="#7a7a7a" stroke-width="0.9" /><line x1="202.69" y1="236" x2="201.37" y2="262.29" stroke="#dcdcdc" stroke-width="0.9" /><line x1="205.16" y1="236" x2="204.4" y2="256.26" stroke="#7a7a7a" stroke-width="0.9" /><line x1="208.5" y1="236" x2="207.24" y2="257.19" stroke="#dcdcdc" stroke-width="0.9" /><line x1="210.56" y1="236" x2="211.71" y2="263.11" stroke="#7a7a7a" stroke-width="0.9" /><line x1="213.39" y1="236" x2="212.72" y2="256.64" stroke="#dcdcdc" stroke-width="0.9" /><line x1="215.23" y1="236" x2="216.38" y2="265.32" stroke="#7a7a7a" stroke-width="0.9" /><line x1="217.43" y1="236" x2="216.46" y2="253.71" stroke="#dcdcdc" stroke-width="0.9" /><line x1="219.98" y1="236" x2="219.93" y2="259.43" stroke="#7a7a7a" stroke-width="0.9" /><line x1="222.47" y1="236" x2="220.98" y2="256.7" stroke="#dcdcdc" stroke-width="0.9" /><line x1="225.04" y1="236" x2="225.24" y2="265.25" stroke="#7a7a7a" stroke-width="0.9" /><line x1="227.88" y1="236" x2="227.93" y2="259.88" stroke="#dcdcdc" stroke-width="0.9" /><line x1="230.31" y1="236" x2="228.97" y2="264.39" stroke="#7a7a7a" stroke-width="0.9" /><line x1="232.89" y1="236" x2="234.01" y2="262.77" stroke="#dcdcdc" stroke-width="0.9" /></g>
<rect x="135.8" y="283.2" width="98.6" height="4.4" fill="#050505" stroke="none" stroke-width="1" />
<clipPath id="sem2"><rect x="284" y="217.6" width="183" height="127.8"/></clipPath>
<rect x="284" y="217.6" width="183" height="127.8" fill="#858585" stroke="none" stroke-width="1" />
<g clip-path="url(#sem2)">
<g fill="#cacaca"><ellipse cx="281.9" cy="215.48" rx="2.62" ry="3.11"/><ellipse cx="286.64" cy="213.54" rx="2.93" ry="3.14"/><ellipse cx="294.02" cy="214.15" rx="2.51" ry="2.5"/><ellipse cx="301.58" cy="214.1" rx="2.77" ry="2.78"/><ellipse cx="306.64" cy="213.34" rx="3.18" ry="2.93"/><ellipse cx="314.48" cy="214.92" rx="3.37" ry="3.4"/><ellipse cx="319.41" cy="214.97" rx="3.09" ry="3.15"/><ellipse cx="326.9" cy="215.18" rx="3.16" ry="3.18"/><ellipse cx="333.46" cy="213.57" rx="3.31" ry="2.92"/><ellipse cx="340.82" cy="214.25" rx="3.14" ry="3.16"/><ellipse cx="346.2" cy="213.53" rx="3.06" ry="2.82"/><ellipse cx="353.9" cy="215.38" rx="3.08" ry="2.61"/><ellipse cx="360.14" cy="214.78" rx="3.31" ry="2.78"/><ellipse cx="367.67" cy="213.14" rx="3.37" ry="2.77"/><ellipse cx="373.56" cy="213.2" rx="2.54" ry="3.16"/><ellipse cx="378.72" cy="215.45" rx="3.22" ry="2.79"/><ellipse cx="385.38" cy="213.08" rx="2.73" ry="2.83"/><ellipse cx="392.87" cy="213.79" rx="2.96" ry="2.52"/><ellipse cx="400.46" cy="214.84" rx="2.66" ry="2.98"/><ellipse cx="404.84" cy="215.06" rx="3.28" ry="3.5"/><ellipse cx="411.76" cy="215.51" rx="2.61" ry="2.48"/><ellipse cx="419.75" cy="213.65" rx="2.38" ry="2.57"/><ellipse cx="427.21" cy="213.59" rx="2.86" ry="3.12"/><ellipse cx="431.86" cy="214.1" rx="2.58" ry="2.6"/><ellipse cx="439.13" cy="213.21" rx="2.18" ry="2.67"/><ellipse cx="445.75" cy="214.21" rx="3.26" ry="2.95"/><ellipse cx="452.9" cy="214.13" rx="3.01" ry="2.61"/><ellipse cx="460.01" cy="214.73" rx="2.37" ry="3.08"/><ellipse cx="464.94" cy="215.58" rx="2.31" ry="2.8"/><ellipse cx="471.3" cy="215.03" rx="3.55" ry="2.92"/><ellipse cx="283.23" cy="220.28" rx="2.89" ry="2.95"/><ellipse cx="289.86" cy="220.02" rx="2.45" ry="2.68"/><ellipse cx="296.92" cy="219.04" rx="2.59" ry="3.1"/><ellipse cx="304.31" cy="218.79" rx="3.32" ry="3.27"/><ellipse cx="311.61" cy="219.1" rx="3.06" ry="3.34"/><ellipse cx="318.14" cy="220.93" rx="2.53" ry="2.71"/><ellipse cx="324.12" cy="220.57" rx="2.62" ry="2.52"/><ellipse cx="331.51" cy="219.11" rx="2.89" ry="2.9"/><ellipse cx="335.82" cy="219.5" rx="2.92" ry="2.92"/><ellipse cx="342.38" cy="220.15" rx="3.5" ry="2.93"/><ellipse cx="349.13" cy="219.14" rx="2.94" ry="3.5"/><ellipse cx="356.51" cy="220.62" rx="3.02" ry="3.31"/><ellipse cx="363.15" cy="219.79" rx="3.46" ry="3.27"/><ellipse cx="370.36" cy="221.13" rx="2.98" ry="2.92"/><ellipse cx="376.14" cy="220.48" rx="3.38" ry="2.84"/><ellipse cx="383.4" cy="220.88" rx="3.07" ry="2.93"/><ellipse cx="390.62" cy="218.99" rx="3.57" ry="3.1"/><ellipse cx="396.17" cy="220.34" rx="2.83" ry="2.7"/><ellipse cx="402.71" cy="219.26" rx="2.9" ry="2.84"/><ellipse cx="410.07" cy="220" rx="2.97" ry="2.92"/><ellipse cx="417.29" cy="220.34" rx="3.42" ry="3.55"/><ellipse cx="423.06" cy="220.8" rx="2.83" ry="2.85"/><ellipse cx="429.66" cy="219.13" rx="2.54" ry="2.21"/><ellipse cx="435.97" cy="219.26" rx="3.23" ry="2.94"/><ellipse cx="441.28" cy="220.9" rx="3.09" ry="3.19"/><ellipse cx="449.05" cy="221.15" rx="3.01" ry="3.31"/><ellipse cx="456.39" cy="220.38" rx="2.52" ry="2.68"/><ellipse cx="461.04" cy="219.02" rx="3.15" ry="3.2"/><ellipse cx="467.68" cy="219.93" rx="3.02" ry="2.92"/><ellipse cx="282" cy="225.03" rx="2.6" ry="3.12"/><ellipse cx="286.47" cy="224.83" rx="2.55" ry="2.73"/><ellipse cx="293.32" cy="226.36" rx="3" ry="3.12"/><ellipse cx="301.16" cy="226.76" rx="3.34" ry="3.54"/><ellipse cx="306.75" cy="225.51" rx="3.1" ry="2.69"/><ellipse cx="313.21" cy="225.46" rx="2.66" ry="2.71"/><ellipse cx="319" cy="225.31" rx="3.25" ry="3.21"/><ellipse cx="326.53" cy="225" rx="3.25" ry="3.1"/><ellipse cx="333.29" cy="225.12" rx="2.8" ry="2.79"/><ellipse cx="341.26" cy="226.17" rx="3.06" ry="2.52"/><ellipse cx="347.44" cy="224.81" rx="3.46" ry="3.07"/><ellipse cx="352.58" cy="224.61" rx="3.18" ry="3.5"/><ellipse cx="360.13" cy="225.89" rx="3.69" ry="3.56"/><ellipse cx="366.2" cy="225.66" rx="2.93" ry="3.05"/><ellipse cx="371.98" cy="225.27" rx="2.67" ry="2.75"/><ellipse cx="378.45" cy="225.59" rx="3.12" ry="3.55"/><ellipse cx="385.62" cy="225.74" rx="2.47" ry="2.75"/><ellipse cx="393.02" cy="224.48" rx="2.88" ry="3.04"/><ellipse cx="399.48" cy="224.81" rx="2.21" ry="2.28"/><ellipse cx="406.43" cy="225.35" rx="3.02" ry="3.45"/><ellipse cx="412.73" cy="226.66" rx="2.9" ry="2.37"/><ellipse cx="419.12" cy="225.59" rx="3.2" ry="3.21"/><ellipse cx="425.3" cy="225.86" rx="2.59" ry="2.69"/><ellipse cx="431.26" cy="225.92" rx="2.71" ry="2.97"/><ellipse cx="439.74" cy="226.32" rx="2.86" ry="3.4"/><ellipse cx="445.96" cy="224.56" rx="2.58" ry="2.94"/><ellipse cx="452.99" cy="224.71" rx="3.71" ry="3.52"/><ellipse cx="459.76" cy="226.31" rx="3.09" ry="2.86"/><ellipse cx="465.94" cy="224.55" rx="3.29" ry="3.13"/><ellipse cx="471.35" cy="225.34" rx="3.22" ry="3.32"/><ellipse cx="283.81" cy="230.55" rx="3.37" ry="3.37"/><ellipse cx="290.53" cy="230.88" rx="2.78" ry="2.58"/><ellipse cx="296.7" cy="230.66" rx="3.42" ry="2.92"/><ellipse cx="304.28" cy="231.02" rx="2.74" ry="2.36"/><ellipse cx="309.6" cy="231.03" rx="2.61" ry="2.95"/><ellipse cx="315.87" cy="231.45" rx="2.76" ry="3"/><ellipse cx="323.88" cy="231.2" rx="2.89" ry="3.11"/><ellipse cx="330.14" cy="232.29" rx="3.12" ry="3.32"/><ellipse cx="336.02" cy="232.06" rx="3.32" ry="3.41"/><ellipse cx="343.78" cy="231.69" rx="2.83" ry="3.32"/><ellipse cx="349" cy="231.41" rx="3.1" ry="2.61"/><ellipse cx="356.69" cy="232.36" rx="2.75" ry="2.58"/><ellipse cx="362.94" cy="231.56" rx="2.95" ry="2.96"/><ellipse cx="370.34" cy="232.15" rx="2.26" ry="2.57"/><ellipse cx="375.63" cy="230.84" rx="2.67" ry="2.77"/><ellipse cx="383.47" cy="230.57" rx="2.59" ry="2.98"/><ellipse cx="390.77" cy="231.14" rx="2.95" ry="2.72"/><ellipse cx="395.84" cy="232.71" rx="3.33" ry="3.4"/><ellipse cx="401.55" cy="231.1" rx="3.12" ry="3.68"/><ellipse cx="410.36" cy="230.41" rx="3.06" ry="2.92"/><ellipse cx="415.11" cy="230.32" rx="3.54" ry="3.43"/><ellipse cx="421.33" cy="232.5" rx="3.15" ry="3.47"/><ellipse cx="430.28" cy="230.5" rx="2.51" ry="2.64"/><ellipse cx="436.31" cy="230.42" rx="3.3" ry="2.99"/><ellipse cx="442.21" cy="232.27" rx="2.25" ry="2.66"/><ellipse cx="449.04" cy="231.37" rx="3.4" ry="3.28"/><ellipse cx="455.59" cy="232.82" rx="2.71" ry="2.8"/><ellipse cx="462.56" cy="231.71" rx="2.76" ry="2.77"/><ellipse cx="469.53" cy="231.14" rx="2.93" ry="3.22"/><ellipse cx="280.18" cy="238.17" rx="3.45" ry="3.47"/><ellipse cx="287.21" cy="237.15" rx="2.94" ry="3.16"/><ellipse cx="293.8" cy="238.46" rx="3.35" ry="3.42"/><ellipse cx="299.49" cy="237.53" rx="3.35" ry="3.75"/><ellipse cx="306.97" cy="238.43" rx="3.36" ry="3.5"/><ellipse cx="312.77" cy="237.7" rx="3.34" ry="3.41"/><ellipse cx="320.05" cy="238.35" rx="3.16" ry="3.34"/><ellipse cx="327.35" cy="237.71" rx="2.35" ry="2.65"/><ellipse cx="333.03" cy="236.78" rx="3.31" ry="3.44"/><ellipse cx="339.84" cy="238.37" rx="2.35" ry="2.3"/><ellipse cx="345.75" cy="237.81" rx="2.72" ry="2.88"/><ellipse cx="354.29" cy="237.63" rx="2.61" ry="2.91"/><ellipse cx="360.64" cy="236.98" rx="2.77" ry="2.99"/><ellipse cx="366.69" cy="236.59" rx="3.44" ry="2.77"/><ellipse cx="372.33" cy="237.18" rx="3.01" ry="2.96"/><ellipse cx="379.45" cy="237.2" rx="2.82" ry="2.83"/><ellipse cx="387.21" cy="237.57" rx="3.01" ry="3.07"/><ellipse cx="393.22" cy="237.15" rx="3.35" ry="2.98"/><ellipse cx="398.21" cy="238.26" rx="2.68" ry="2.61"/><ellipse cx="405.24" cy="238.07" rx="2.9" ry="3.33"/><ellipse cx="413.68" cy="237.37" rx="3.45" ry="3.29"/><ellipse cx="419.42" cy="237.43" rx="2.89" ry="2.41"/><ellipse cx="426.84" cy="237.79" rx="2.88" ry="3.57"/><ellipse cx="432.86" cy="238.07" rx="3.64" ry="3.09"/><ellipse cx="438.63" cy="236.67" rx="2.84" ry="3.38"/><ellipse cx="445.31" cy="238.47" rx="2.57" ry="2.87"/><ellipse cx="451.88" cy="236.34" rx="3.08" ry="2.76"/><ellipse cx="460.17" cy="237.73" rx="2.92" ry="2.74"/><ellipse cx="464.2" cy="236.19" rx="3.34" ry="3.22"/><ellipse cx="471.02" cy="238.4" rx="3.15" ry="2.72"/><ellipse cx="284.99" cy="243.45" rx="3.24" ry="2.82"/><ellipse cx="291.72" cy="243.41" rx="2.78" ry="3.34"/><ellipse cx="296.21" cy="244.2" rx="3.05" ry="3.04"/><ellipse cx="302.71" cy="243.89" rx="2.95" ry="3.34"/><ellipse cx="310.5" cy="242.52" rx="2.74" ry="2.91"/><ellipse cx="316.51" cy="241.82" rx="2.65" ry="2.71"/><ellipse cx="323.74" cy="242.58" rx="2.87" ry="3.44"/><ellipse cx="329.91" cy="244.31" rx="3.04" ry="2.8"/><ellipse cx="337.3" cy="243.89" rx="2.39" ry="2.94"/><ellipse cx="344.32" cy="242.15" rx="3.78" ry="3.58"/><ellipse cx="349.5" cy="242.79" rx="3.57" ry="3.51"/><ellipse cx="357" cy="242.8" rx="3.27" ry="3.24"/><ellipse cx="363.37" cy="242.36" rx="3.27" ry="3.37"/><ellipse cx="369.86" cy="242.42" rx="2.98" ry="2.75"/><ellipse cx="376.22" cy="244.26" rx="3.02" ry="3.35"/><ellipse cx="382.49" cy="242.89" rx="2.61" ry="2.84"/><ellipse cx="389.43" cy="241.77" rx="2.91" ry="2.52"/><ellipse cx="396.97" cy="244.06" rx="3.33" ry="3.54"/><ellipse cx="402.94" cy="243.29" rx="2.9" ry="3.11"/><ellipse cx="408.23" cy="242.99" rx="3.64" ry="3.48"/><ellipse cx="415.91" cy="242.18" rx="2.61" ry="3"/><ellipse cx="421.41" cy="242.54" rx="2.87" ry="2.98"/><ellipse cx="428.99" cy="244.33" rx="2.76" ry="2.62"/><ellipse cx="437.03" cy="243.22" rx="2.73" ry="3.12"/><ellipse cx="442.22" cy="243.46" rx="3.54" ry="3.25"/><ellipse cx="448.22" cy="243.59" rx="3.13" ry="3.22"/><ellipse cx="455.06" cy="242.01" rx="2.56" ry="2.82"/><ellipse cx="462.63" cy="243.46" rx="3.28" ry="3.14"/><ellipse cx="468.92" cy="241.78" rx="2.49" ry="2.5"/><ellipse cx="281.17" cy="247.9" rx="2.87" ry="3.69"/><ellipse cx="286.72" cy="249.26" rx="3.17" ry="3.1"/><ellipse cx="295.19" cy="248.38" rx="2.55" ry="2.7"/><ellipse cx="301.34" cy="248.92" rx="3.23" ry="3.62"/><ellipse cx="307.8" cy="250.01" rx="3.34" ry="3.02"/><ellipse cx="314.92" cy="249.08" rx="2.97" ry="3.16"/><ellipse cx="320.69" cy="248.05" rx="2.85" ry="3.11"/><ellipse cx="325.66" cy="248.42" rx="3.3" ry="3"/><ellipse cx="333.07" cy="248.25" rx="2.73" ry="2.65"/><ellipse cx="340.71" cy="249.62" rx="2.48" ry="2.38"/><ellipse cx="345.92" cy="249.65" rx="2.51" ry="2.51"/><ellipse cx="353.63" cy="249.93" rx="3.62" ry="3.15"/><ellipse cx="360.77" cy="247.65" rx="2.99" ry="3.01"/><ellipse cx="367.21" cy="248.23" rx="2.49" ry="2.98"/><ellipse cx="373.54" cy="249.82" rx="3.41" ry="3.04"/><ellipse cx="380.6" cy="249.99" rx="3.31" ry="3.09"/><ellipse cx="387.05" cy="250.01" rx="3.4" ry="2.82"/><ellipse cx="393.83" cy="250.05" rx="2.87" ry="3.05"/><ellipse cx="398.7" cy="248.73" rx="2.84" ry="3.16"/><ellipse cx="405.99" cy="248.57" rx="3.52" ry="3.55"/><ellipse cx="412.84" cy="249.41" rx="3.78" ry="3.81"/><ellipse cx="418.29" cy="248.19" rx="3.63" ry="3.72"/><ellipse cx="426.91" cy="248.07" rx="2.21" ry="2.55"/><ellipse cx="432.72" cy="247.52" rx="3.56" ry="3.03"/><ellipse cx="439.96" cy="249.84" rx="3.04" ry="2.63"/><ellipse cx="446.16" cy="249.29" rx="3.34" ry="2.95"/><ellipse cx="450.99" cy="247.98" rx="2.9" ry="2.98"/><ellipse cx="459.91" cy="249.41" rx="3.04" ry="2.48"/><ellipse cx="466.35" cy="247.69" rx="3.01" ry="2.51"/><ellipse cx="472.67" cy="249.68" rx="2.35" ry="2.89"/><ellipse cx="284.34" cy="254.22" rx="3.08" ry="3.11"/><ellipse cx="289.65" cy="255.59" rx="3.01" ry="3.42"/><ellipse cx="296.38" cy="253.34" rx="3.29" ry="3.39"/><ellipse cx="302.66" cy="253.61" rx="2.54" ry="3.11"/><ellipse cx="310.98" cy="254.97" rx="2.87" ry="2.52"/><ellipse cx="317.66" cy="255.12" rx="3.25" ry="3.26"/><ellipse cx="323.38" cy="255.55" rx="2.47" ry="3.09"/><ellipse cx="329.45" cy="255.68" rx="3.29" ry="2.94"/><ellipse cx="335.61" cy="254.08" rx="2.64" ry="3.03"/><ellipse cx="343.37" cy="254.63" rx="2.98" ry="3.23"/><ellipse cx="349.82" cy="254.2" rx="3.04" ry="2.69"/><ellipse cx="356.56" cy="255.48" rx="3.32" ry="3.05"/><ellipse cx="364.31" cy="255.78" rx="2.93" ry="3.15"/><ellipse cx="370.82" cy="253.71" rx="2.63" ry="3.32"/><ellipse cx="375.85" cy="255.72" rx="2.8" ry="2.73"/><ellipse cx="383.81" cy="253.88" rx="3" ry="3"/><ellipse cx="388.81" cy="253.7" rx="2.85" ry="2.79"/><ellipse cx="397.22" cy="254.72" rx="2.2" ry="2.4"/><ellipse cx="401.85" cy="253.7" rx="2.81" ry="3.43"/><ellipse cx="408.27" cy="254.37" rx="2.74" ry="2.93"/><ellipse cx="416.83" cy="255.59" rx="2.76" ry="3.24"/><ellipse cx="421.83" cy="254.43" rx="3.55" ry="2.86"/><ellipse cx="428.71" cy="254.69" rx="3.42" ry="3.13"/><ellipse cx="435.38" cy="255.3" rx="2.34" ry="2.86"/><ellipse cx="442.48" cy="254.07" rx="3.31" ry="2.8"/><ellipse cx="449.68" cy="254.37" rx="2.9" ry="2.71"/><ellipse cx="454.36" cy="254.29" rx="2.84" ry="3.37"/><ellipse cx="461.63" cy="253.53" rx="3.09" ry="3.12"/><ellipse cx="467.9" cy="254.15" rx="3.51" ry="3.57"/><ellipse cx="280.92" cy="260.06" rx="3.44" ry="3.34"/><ellipse cx="287.51" cy="261.5" rx="2.87" ry="3.36"/><ellipse cx="292.6" cy="260.35" rx="2.7" ry="3.21"/><ellipse cx="300.76" cy="260.91" rx="3.15" ry="3.37"/><ellipse cx="308.2" cy="261.31" rx="2.94" ry="3.05"/><ellipse cx="313.58" cy="259.82" rx="2.18" ry="2.33"/><ellipse cx="319.51" cy="259.92" rx="3.19" ry="3.27"/><ellipse cx="325.77" cy="261.14" rx="2.91" ry="2.45"/><ellipse cx="333.13" cy="259.66" rx="3.01" ry="2.84"/><ellipse cx="338.85" cy="260.36" rx="2.54" ry="2.96"/><ellipse cx="347.25" cy="259.68" rx="3.35" ry="3.17"/><ellipse cx="354.62" cy="261.45" rx="3" ry="2.38"/><ellipse cx="360.15" cy="259.01" rx="3.11" ry="3.03"/><ellipse cx="365.41" cy="260.14" rx="3.67" ry="3.56"/><ellipse cx="372.82" cy="261.12" rx="3.31" ry="3.31"/><ellipse cx="379.93" cy="260.01" rx="2.9" ry="3.44"/><ellipse cx="387.37" cy="259.48" rx="2.45" ry="2.71"/><ellipse cx="392.03" cy="259.91" rx="2.54" ry="2.86"/><ellipse cx="400.22" cy="259.19" rx="2.51" ry="2.5"/><ellipse cx="405.67" cy="260.25" rx="3.7" ry="3.26"/><ellipse cx="412.02" cy="260.37" rx="3.02" ry="3.42"/><ellipse cx="418.78" cy="260.2" rx="2.71" ry="3.05"/><ellipse cx="425.85" cy="260.48" rx="2.92" ry="3.14"/><ellipse cx="431.45" cy="260.14" rx="2.63" ry="2.57"/><ellipse cx="439.04" cy="260.99" rx="2.72" ry="2.73"/><ellipse cx="445.92" cy="261.38" rx="3.52" ry="2.92"/><ellipse cx="452.95" cy="259.76" rx="2.31" ry="2.71"/><ellipse cx="460.16" cy="261.02" rx="2.6" ry="2.74"/><ellipse cx="464.2" cy="261.24" rx="2.53" ry="2.44"/><ellipse cx="471.6" cy="260.64" rx="3.1" ry="3.25"/><ellipse cx="283.74" cy="265.33" rx="3.07" ry="3.26"/><ellipse cx="289.49" cy="267.09" rx="2.88" ry="2.39"/><ellipse cx="297.33" cy="266.44" rx="2.98" ry="3.3"/><ellipse cx="304.25" cy="267.25" rx="3.47" ry="3.21"/><ellipse cx="310.83" cy="264.72" rx="2.63" ry="2.98"/><ellipse cx="316.76" cy="267.18" rx="2.7" ry="2.57"/><ellipse cx="324.42" cy="267.05" rx="3.59" ry="3.1"/><ellipse cx="331.35" cy="266.13" rx="3.08" ry="3.32"/><ellipse cx="337.44" cy="264.74" rx="2.45" ry="2.74"/><ellipse cx="342.73" cy="266.57" rx="3.42" ry="3.51"/><ellipse cx="350.36" cy="266.04" rx="3.59" ry="3.2"/><ellipse cx="355.82" cy="266.9" rx="3.53" ry="3.12"/><ellipse cx="362.28" cy="264.79" rx="2.96" ry="3.17"/><ellipse cx="369.48" cy="265.98" rx="3.54" ry="3.12"/><ellipse cx="375.66" cy="264.7" rx="2.38" ry="3.09"/><ellipse cx="383.71" cy="265.85" rx="3.05" ry="3.37"/><ellipse cx="389.12" cy="266.28" rx="3.34" ry="3.07"/><ellipse cx="395.69" cy="265.38" rx="3.25" ry="3.43"/><ellipse cx="403.22" cy="264.87" rx="2.85" ry="3.22"/><ellipse cx="408.25" cy="266.28" rx="3.21" ry="3.02"/><ellipse cx="415.47" cy="266.96" rx="3.09" ry="2.98"/><ellipse cx="423.2" cy="266.33" rx="3.43" ry="3.63"/><ellipse cx="428.73" cy="267.21" rx="2.91" ry="3.39"/><ellipse cx="435.55" cy="264.68" rx="3.3" ry="2.98"/><ellipse cx="442.8" cy="266.14" rx="3.46" ry="3.28"/><ellipse cx="450.01" cy="267.27" rx="3.09" ry="2.81"/><ellipse cx="456.69" cy="266.69" rx="2.77" ry="2.35"/><ellipse cx="461.66" cy="264.69" rx="2.88" ry="2.91"/><ellipse cx="469.33" cy="266.67" rx="3.11" ry="2.98"/><ellipse cx="280.87" cy="272.66" rx="2.87" ry="3.08"/><ellipse cx="288.44" cy="270.65" rx="2.63" ry="2.65"/><ellipse cx="292.8" cy="270.73" rx="2.5" ry="3.06"/><ellipse cx="300.94" cy="271.94" rx="2.97" ry="2.82"/><ellipse cx="307.4" cy="271.43" rx="2.84" ry="2.95"/><ellipse cx="312.74" cy="271.76" rx="3.17" ry="2.98"/><ellipse cx="320.02" cy="270.56" rx="2.85" ry="3.01"/><ellipse cx="326.86" cy="271.78" rx="2.43" ry="2.74"/><ellipse cx="334.77" cy="272.96" rx="2.73" ry="2.39"/><ellipse cx="341.09" cy="271.96" rx="2.73" ry="2.6"/><ellipse cx="345.89" cy="271.18" rx="3.22" ry="2.66"/><ellipse cx="354.07" cy="272.27" rx="3.66" ry="3.38"/><ellipse cx="359.56" cy="271.5" rx="3.81" ry="3.69"/><ellipse cx="365.74" cy="272.05" rx="2.91" ry="3.16"/><ellipse cx="372.85" cy="272.31" rx="3.25" ry="2.94"/><ellipse cx="379.87" cy="272.77" rx="2.1" ry="2.13"/><ellipse cx="386.89" cy="271.74" rx="2.73" ry="2.42"/><ellipse cx="393.8" cy="272.85" rx="2.81" ry="2.96"/><ellipse cx="398.8" cy="271.54" rx="3.74" ry="3.22"/><ellipse cx="406.77" cy="272.96" rx="2.91" ry="3.18"/><ellipse cx="412.8" cy="271.68" rx="2.7" ry="2.83"/><ellipse cx="418.37" cy="271.36" rx="3.25" ry="2.7"/><ellipse cx="425.1" cy="271.16" rx="2.5" ry="2.81"/><ellipse cx="432.97" cy="272.06" rx="2.77" ry="2.88"/><ellipse cx="438.67" cy="270.77" rx="2.76" ry="3.23"/><ellipse cx="444.77" cy="271.78" rx="3.02" ry="3.21"/><ellipse cx="451.38" cy="271.28" rx="3.24" ry="2.61"/><ellipse cx="458.2" cy="271.12" rx="3.14" ry="3.11"/><ellipse cx="466.82" cy="271.19" rx="3.15" ry="3.15"/><ellipse cx="473.24" cy="272.2" rx="3.51" ry="3.17"/><ellipse cx="282.81" cy="278.68" rx="3.29" ry="2.81"/><ellipse cx="291.77" cy="277.23" rx="2.98" ry="3.06"/><ellipse cx="296.66" cy="276.51" rx="3.4" ry="3.05"/><ellipse cx="304.49" cy="278.38" rx="2.95" ry="2.87"/><ellipse cx="309.96" cy="278.68" rx="2.86" ry="3.17"/><ellipse cx="318.09" cy="278.34" rx="3.43" ry="3.52"/><ellipse cx="324.69" cy="277.06" rx="3.6" ry="3.79"/><ellipse cx="330.26" cy="276.69" rx="2.86" ry="2.83"/><ellipse cx="336.23" cy="277.11" rx="3.11" ry="2.94"/><ellipse cx="344.53" cy="276.76" rx="2.92" ry="2.99"/><ellipse cx="349.19" cy="277.66" rx="2.77" ry="2.66"/><ellipse cx="356.22" cy="277.44" rx="3.59" ry="3.12"/><ellipse cx="362.38" cy="278.55" rx="3.34" ry="2.9"/><ellipse cx="369.96" cy="277.94" rx="3.44" ry="3.2"/><ellipse cx="376.49" cy="278.41" rx="2.76" ry="2.93"/><ellipse cx="383.78" cy="276.69" rx="2.92" ry="2.65"/><ellipse cx="389.25" cy="277.15" rx="2.85" ry="2.91"/><ellipse cx="395.18" cy="278.73" rx="2.78" ry="3.16"/><ellipse cx="402.88" cy="278.49" rx="2.37" ry="3"/><ellipse cx="409.61" cy="277.8" rx="3.14" ry="2.8"/><ellipse cx="417.2" cy="278.6" rx="2.87" ry="3.17"/><ellipse cx="423.48" cy="276.63" rx="3.43" ry="3.38"/><ellipse cx="429.65" cy="277.82" rx="2.85" ry="2.88"/><ellipse cx="435.05" cy="278.3" rx="2.94" ry="2.43"/><ellipse cx="442.16" cy="276.58" rx="2.21" ry="2.68"/><ellipse cx="450.22" cy="276.92" rx="3" ry="2.99"/><ellipse cx="455" cy="278.34" rx="3.51" ry="3.04"/><ellipse cx="463.26" cy="278.49" rx="3.25" ry="3.29"/><ellipse cx="468.54" cy="277.45" rx="2.68" ry="2.8"/><ellipse cx="280.24" cy="284.24" rx="2.47" ry="2.89"/><ellipse cx="287.24" cy="283.75" rx="3.01" ry="2.94"/><ellipse cx="294.24" cy="281.99" rx="2.73" ry="2.93"/><ellipse cx="301.26" cy="283.48" rx="2.89" ry="3.29"/><ellipse cx="306.35" cy="284.35" rx="2.49" ry="2.6"/><ellipse cx="312.69" cy="284.44" rx="2.49" ry="2.71"/><ellipse cx="320.55" cy="282.54" rx="3.45" ry="3.14"/><ellipse cx="326.8" cy="282.48" rx="3" ry="2.89"/><ellipse cx="334.1" cy="282.45" rx="3.02" ry="2.85"/><ellipse cx="338.99" cy="283.64" rx="3.23" ry="3.12"/><ellipse cx="346.03" cy="283.84" rx="2.99" ry="3.08"/><ellipse cx="352.16" cy="282.63" rx="2.96" ry="2.99"/><ellipse cx="359.34" cy="284.49" rx="2.94" ry="2.69"/><ellipse cx="365.72" cy="283.87" rx="3.18" ry="2.96"/><ellipse cx="372.13" cy="283.15" rx="2.99" ry="2.61"/><ellipse cx="379.25" cy="283.01" rx="2.86" ry="2.76"/><ellipse cx="385.17" cy="282.63" rx="2.9" ry="3.04"/><ellipse cx="391.89" cy="282.79" rx="3.44" ry="3.39"/><ellipse cx="400.35" cy="283.58" rx="3.04" ry="2.57"/><ellipse cx="405.54" cy="284.04" rx="3.36" ry="2.89"/><ellipse cx="413.99" cy="281.9" rx="2.86" ry="2.39"/><ellipse cx="419.08" cy="283.97" rx="2.62" ry="2.4"/><ellipse cx="424.69" cy="283.17" rx="3.06" ry="2.64"/><ellipse cx="431.78" cy="282.81" rx="2.99" ry="3.52"/><ellipse cx="437.86" cy="282.14" rx="3.09" ry="3.35"/><ellipse cx="445.04" cy="282.03" rx="3.23" ry="3.46"/><ellipse cx="452.62" cy="282.6" rx="2.39" ry="2.81"/><ellipse cx="458.09" cy="281.98" rx="3.52" ry="3.73"/><ellipse cx="465.61" cy="283.79" rx="3.41" ry="2.98"/><ellipse cx="472.37" cy="283.22" rx="2.98" ry="2.66"/><ellipse cx="284.7" cy="287.73" rx="3.49" ry="3.18"/><ellipse cx="291.9" cy="288.41" rx="2.55" ry="2.63"/><ellipse cx="296.22" cy="289.57" rx="2.57" ry="2.73"/><ellipse cx="303.9" cy="288.03" rx="2.49" ry="2.52"/><ellipse cx="311.04" cy="289.43" rx="2.79" ry="2.94"/><ellipse cx="316.48" cy="288.57" rx="3.43" ry="3.36"/><ellipse cx="324.71" cy="289.79" rx="3.51" ry="3.19"/><ellipse cx="331.19" cy="289.4" rx="2.82" ry="3.6"/><ellipse cx="335.82" cy="288.59" rx="3.3" ry="3.54"/><ellipse cx="342.32" cy="289.53" rx="3.72" ry="3.5"/><ellipse cx="350.91" cy="288.96" rx="3.21" ry="3.06"/><ellipse cx="356.74" cy="288.45" rx="2.67" ry="3.01"/><ellipse cx="363.58" cy="287.79" rx="3.33" ry="2.73"/><ellipse cx="370.52" cy="287.68" rx="3" ry="3.23"/><ellipse cx="376.43" cy="289.76" rx="2.99" ry="2.73"/><ellipse cx="382.87" cy="289.21" rx="2.75" ry="3.16"/><ellipse cx="388.49" cy="289.05" rx="2.61" ry="2.83"/><ellipse cx="396.81" cy="288.44" rx="2.99" ry="3.02"/><ellipse cx="401.55" cy="288.81" rx="3.07" ry="3.45"/><ellipse cx="408.39" cy="287.94" rx="2.42" ry="2.45"/><ellipse cx="416.06" cy="288.32" rx="2.85" ry="3.01"/><ellipse cx="421.35" cy="288.9" rx="2.96" ry="3.6"/><ellipse cx="428.53" cy="287.93" rx="3.31" ry="3.51"/><ellipse cx="435.79" cy="287.84" rx="2.92" ry="2.47"/><ellipse cx="443.66" cy="289" rx="3.23" ry="3.38"/><ellipse cx="447.89" cy="289.44" rx="2.85" ry="2.88"/><ellipse cx="455.52" cy="289.63" rx="3.42" ry="3.06"/><ellipse cx="463.48" cy="289.43" rx="3.05" ry="3.11"/><ellipse cx="468.02" cy="289.28" rx="2.95" ry="3.12"/><ellipse cx="280.89" cy="295.42" rx="2.45" ry="2.31"/><ellipse cx="286.8" cy="294.82" rx="3.56" ry="3.76"/><ellipse cx="293.8" cy="293.43" rx="2.93" ry="2.79"/><ellipse cx="299.25" cy="293.83" rx="2.73" ry="2.65"/><ellipse cx="306.05" cy="293.79" rx="3.23" ry="3.67"/><ellipse cx="314.05" cy="294.37" rx="3.45" ry="3.17"/><ellipse cx="318.99" cy="295.36" rx="2.78" ry="3.13"/><ellipse cx="327.73" cy="294.07" rx="2.68" ry="3.43"/><ellipse cx="334.71" cy="294.98" rx="3.55" ry="3.44"/><ellipse cx="340.98" cy="294.7" rx="2.56" ry="2.72"/><ellipse cx="347.47" cy="294.6" rx="2.96" ry="3.26"/><ellipse cx="353.53" cy="295.09" rx="2.9" ry="2.74"/><ellipse cx="358.72" cy="295.12" rx="3.36" ry="3.47"/><ellipse cx="365.87" cy="294.84" rx="2.55" ry="3.05"/><ellipse cx="373.9" cy="295.17" rx="3.38" ry="3.27"/><ellipse cx="379.46" cy="295.26" rx="2.72" ry="2.88"/><ellipse cx="387.13" cy="295.29" rx="3.33" ry="3.1"/><ellipse cx="393.31" cy="294.24" rx="2.52" ry="2.83"/><ellipse cx="399.21" cy="294.1" rx="2.5" ry="3.06"/><ellipse cx="406.04" cy="293.84" rx="2.73" ry="2.26"/><ellipse cx="412.64" cy="294.71" rx="3.24" ry="3.36"/><ellipse cx="418.59" cy="294.18" rx="2.55" ry="2.61"/><ellipse cx="424.9" cy="295.07" rx="3.06" ry="2.95"/><ellipse cx="432.27" cy="293.85" rx="2.8" ry="3.14"/><ellipse cx="438.95" cy="294.35" rx="2.8" ry="3.03"/><ellipse cx="446.22" cy="294.88" rx="2.88" ry="3.35"/><ellipse cx="452.02" cy="293.52" rx="2.94" ry="2.72"/><ellipse cx="459.19" cy="294.82" rx="3.16" ry="3.59"/><ellipse cx="465.87" cy="295.5" rx="2.41" ry="2.46"/><ellipse cx="471.47" cy="295.99" rx="2.74" ry="2.64"/><ellipse cx="282.93" cy="301.61" rx="3.22" ry="3.14"/><ellipse cx="291.24" cy="299.36" rx="3.09" ry="3.31"/><ellipse cx="298.22" cy="299.78" rx="2.56" ry="2.24"/><ellipse cx="304.29" cy="300.35" rx="3.1" ry="3.35"/><ellipse cx="309.97" cy="300.13" rx="2.74" ry="2.64"/><ellipse cx="315.81" cy="300.77" rx="2.96" ry="3.45"/><ellipse cx="323.89" cy="300.35" rx="3.24" ry="3.84"/><ellipse cx="329.9" cy="299.62" rx="2.85" ry="2.76"/><ellipse cx="337.46" cy="301.27" rx="2.62" ry="2.95"/><ellipse cx="342.39" cy="300.99" rx="2.54" ry="2.48"/><ellipse cx="350.89" cy="301.28" rx="3.07" ry="2.88"/><ellipse cx="356.48" cy="300.68" rx="3.33" ry="3.06"/><ellipse cx="363.47" cy="300.86" rx="3.37" ry="3"/><ellipse cx="368.5" cy="300.27" rx="3.07" ry="3.24"/><ellipse cx="377.44" cy="300.88" rx="3.29" ry="2.62"/><ellipse cx="384.09" cy="299.38" rx="3.61" ry="3.1"/><ellipse cx="388.44" cy="301.26" rx="2.76" ry="2.38"/><ellipse cx="395.84" cy="299.81" rx="2.44" ry="2.39"/><ellipse cx="401.53" cy="300.51" rx="2.64" ry="2.51"/><ellipse cx="408.95" cy="299.59" rx="2.92" ry="3.12"/><ellipse cx="414.91" cy="299.16" rx="3.26" ry="3.11"/><ellipse cx="421.58" cy="299.9" rx="2.85" ry="2.5"/><ellipse cx="428.52" cy="301.43" rx="2.56" ry="2.54"/><ellipse cx="436" cy="300.33" rx="3.7" ry="3.6"/><ellipse cx="443.06" cy="300.24" rx="2.56" ry="3.27"/><ellipse cx="448.18" cy="301.74" rx="2.72" ry="3.24"/><ellipse cx="456.67" cy="299.48" rx="2.45" ry="2.63"/><ellipse cx="462.62" cy="300.24" rx="2.56" ry="2.34"/><ellipse cx="469.8" cy="299.84" rx="2.75" ry="2.97"/><ellipse cx="279.68" cy="306.37" rx="3.6" ry="3.56"/><ellipse cx="286.53" cy="306.54" rx="3.25" ry="3"/><ellipse cx="292.74" cy="306.03" rx="3.24" ry="3.24"/><ellipse cx="301.05" cy="305.92" rx="2.52" ry="2.87"/><ellipse cx="306" cy="305.82" rx="2.69" ry="2.12"/><ellipse cx="312.65" cy="306.84" rx="3.03" ry="2.84"/><ellipse cx="319.06" cy="306.59" rx="2.72" ry="2.68"/><ellipse cx="327.93" cy="305.88" rx="2.26" ry="2.41"/><ellipse cx="333.74" cy="306.27" rx="3.16" ry="2.58"/><ellipse cx="339.15" cy="306.56" rx="3.29" ry="2.79"/><ellipse cx="347.12" cy="305.37" rx="3.49" ry="3.14"/><ellipse cx="354" cy="306.62" rx="3.39" ry="3.34"/><ellipse cx="360.93" cy="307.33" rx="3.07" ry="2.92"/><ellipse cx="366.1" cy="306.93" rx="3.8" ry="3.33"/><ellipse cx="374.33" cy="304.98" rx="2.53" ry="2.92"/><ellipse cx="378.83" cy="305.08" rx="2.49" ry="2.81"/><ellipse cx="385.75" cy="305.6" rx="3.02" ry="3.48"/><ellipse cx="393.92" cy="305.87" rx="2.52" ry="2.64"/><ellipse cx="398.79" cy="306.11" rx="2.64" ry="3.18"/><ellipse cx="406.95" cy="306.79" rx="2.99" ry="2.71"/><ellipse cx="411.72" cy="305.43" rx="2.47" ry="2.74"/><ellipse cx="419.56" cy="305.57" rx="2.82" ry="3.35"/><ellipse cx="425.35" cy="305.35" rx="3.14" ry="3.36"/><ellipse cx="432.16" cy="304.86" rx="3.06" ry="2.64"/><ellipse cx="440.18" cy="305.18" rx="2.94" ry="3.18"/><ellipse cx="444.77" cy="306.97" rx="3.22" ry="2.87"/><ellipse cx="453.54" cy="306.8" rx="2.84" ry="2.67"/><ellipse cx="457.98" cy="305.75" rx="2.65" ry="3.17"/><ellipse cx="465.45" cy="306.92" rx="3.57" ry="3.2"/><ellipse cx="472.57" cy="306.29" rx="2.79" ry="2.53"/><ellipse cx="282.93" cy="312.38" rx="3.35" ry="3.17"/><ellipse cx="290.22" cy="310.92" rx="3.02" ry="3.24"/><ellipse cx="296.55" cy="310.83" rx="3.34" ry="2.88"/><ellipse cx="304.99" cy="312.22" rx="2.55" ry="2.54"/><ellipse cx="311.65" cy="312.59" rx="2.88" ry="3.14"/><ellipse cx="317.21" cy="313.21" rx="3.5" ry="3.69"/><ellipse cx="322.67" cy="311.9" rx="3.37" ry="2.89"/><ellipse cx="331.06" cy="310.6" rx="3.22" ry="3.05"/><ellipse cx="335.64" cy="311.27" rx="3.25" ry="3.3"/><ellipse cx="343.46" cy="311.09" rx="2.95" ry="2.98"/><ellipse cx="351.02" cy="312.77" rx="2.97" ry="3.44"/><ellipse cx="355.69" cy="310.6" rx="2.74" ry="2.77"/><ellipse cx="363.89" cy="312.62" rx="3.07" ry="2.97"/><ellipse cx="369.8" cy="310.92" rx="3.25" ry="3.18"/><ellipse cx="377.62" cy="311.31" rx="3.58" ry="3.04"/><ellipse cx="384.3" cy="311.26" rx="3.26" ry="2.91"/><ellipse cx="388.66" cy="311.47" rx="3.07" ry="2.9"/><ellipse cx="396.64" cy="312.71" rx="3.33" ry="2.86"/><ellipse cx="403.16" cy="311.34" rx="2.7" ry="2.94"/><ellipse cx="410.09" cy="312.78" rx="2.92" ry="2.72"/><ellipse cx="416.84" cy="311.9" rx="3.01" ry="2.98"/><ellipse cx="422.3" cy="311.79" rx="3.44" ry="3.5"/><ellipse cx="428.01" cy="311.73" rx="3.51" ry="3.09"/><ellipse cx="434.86" cy="313.03" rx="2.82" ry="3.14"/><ellipse cx="443" cy="310.9" rx="3.31" ry="2.75"/><ellipse cx="449.11" cy="311.85" rx="3.12" ry="3.49"/><ellipse cx="456.02" cy="311.3" rx="2.59" ry="2.6"/><ellipse cx="461.56" cy="310.81" rx="2.88" ry="2.25"/><ellipse cx="469.27" cy="311.51" rx="2.69" ry="3.24"/><ellipse cx="280.71" cy="318.82" rx="3.14" ry="3.16"/><ellipse cx="287.73" cy="317.15" rx="3" ry="3.17"/><ellipse cx="292.93" cy="317.09" rx="2.75" ry="2.97"/><ellipse cx="300.76" cy="316.98" rx="2.56" ry="2.74"/><ellipse cx="308.1" cy="317.96" rx="3.26" ry="3.09"/><ellipse cx="313.83" cy="316.55" rx="3.06" ry="2.68"/><ellipse cx="320.99" cy="318.65" rx="2.99" ry="3.18"/><ellipse cx="325.78" cy="316.61" rx="3.13" ry="3.19"/><ellipse cx="332.88" cy="318.2" rx="2.9" ry="2.95"/><ellipse cx="340.52" cy="316.34" rx="2.95" ry="2.78"/><ellipse cx="347.68" cy="317.72" rx="3.45" ry="3.48"/><ellipse cx="354.56" cy="318.43" rx="3.04" ry="3.06"/><ellipse cx="360.51" cy="316.37" rx="2.53" ry="2.51"/><ellipse cx="365.66" cy="316.74" rx="3.07" ry="3.35"/><ellipse cx="373.21" cy="317.36" rx="3.19" ry="3.26"/><ellipse cx="380.54" cy="317.4" rx="2.59" ry="2.48"/><ellipse cx="385.06" cy="317.24" rx="2.87" ry="2.61"/><ellipse cx="391.74" cy="318.21" rx="2.72" ry="2.93"/><ellipse cx="398.87" cy="317.95" rx="2.83" ry="2.76"/><ellipse cx="407.19" cy="317.77" rx="3" ry="3.17"/><ellipse cx="411.7" cy="316.48" rx="3.03" ry="3.05"/><ellipse cx="418.36" cy="318.21" rx="3.03" ry="2.89"/><ellipse cx="426.87" cy="316.94" rx="2.84" ry="2.47"/><ellipse cx="432.14" cy="318.17" rx="2.57" ry="2.41"/><ellipse cx="439.47" cy="318.96" rx="3.51" ry="3.11"/><ellipse cx="445.87" cy="316.69" rx="2.83" ry="2.69"/><ellipse cx="452.33" cy="318.46" rx="2.98" ry="2.76"/><ellipse cx="457.64" cy="317.67" rx="2.45" ry="2.6"/><ellipse cx="464.48" cy="316.83" rx="3.66" ry="3.47"/><ellipse cx="473.35" cy="316.96" rx="3.01" ry="3.66"/><ellipse cx="282.92" cy="322.81" rx="2.44" ry="2.74"/><ellipse cx="290.55" cy="323.56" rx="2.9" ry="3.57"/><ellipse cx="297.69" cy="322.88" rx="3.49" ry="3.54"/><ellipse cx="303.97" cy="322.56" rx="3.41" ry="3.3"/><ellipse cx="309.76" cy="323.31" rx="3.28" ry="3.08"/><ellipse cx="317.78" cy="322.13" rx="2.55" ry="2.74"/><ellipse cx="322.93" cy="322.93" rx="2.98" ry="3.5"/><ellipse cx="330.96" cy="322.74" rx="3.03" ry="3.23"/><ellipse cx="336.64" cy="323.47" rx="2.85" ry="2.73"/><ellipse cx="344.07" cy="323.4" rx="3.12" ry="2.83"/><ellipse cx="349.26" cy="323.37" rx="2.47" ry="3.01"/><ellipse cx="356.69" cy="323.06" rx="2.78" ry="2.35"/><ellipse cx="362.52" cy="324.05" rx="2.83" ry="3.11"/><ellipse cx="368.61" cy="323.79" rx="3" ry="2.87"/><ellipse cx="377.53" cy="322.13" rx="3.15" ry="2.68"/><ellipse cx="381.8" cy="323.23" rx="2.99" ry="2.69"/><ellipse cx="389.31" cy="322.26" rx="2.79" ry="3.27"/><ellipse cx="397.32" cy="323.21" rx="3.22" ry="3.19"/><ellipse cx="402.5" cy="324.31" rx="3.28" ry="2.96"/><ellipse cx="408.52" cy="324.29" rx="3.39" ry="3.7"/><ellipse cx="415.45" cy="322.79" rx="3.33" ry="3.33"/><ellipse cx="423.62" cy="323.49" rx="3.37" ry="2.99"/><ellipse cx="428.14" cy="323.69" rx="2.96" ry="2.88"/><ellipse cx="436.42" cy="324.63" rx="3" ry="2.73"/><ellipse cx="442.94" cy="323.49" rx="2.99" ry="3.06"/><ellipse cx="450.12" cy="322.35" rx="2.9" ry="2.69"/><ellipse cx="455.11" cy="324.7" rx="3.01" ry="3.07"/><ellipse cx="461.9" cy="323.26" rx="2.67" ry="2.71"/><ellipse cx="469.1" cy="324.13" rx="2.63" ry="2.51"/><ellipse cx="281.85" cy="329.81" rx="2.74" ry="2.43"/><ellipse cx="288.4" cy="328.79" rx="3.55" ry="3.37"/><ellipse cx="292.67" cy="329.79" rx="2.67" ry="2.33"/><ellipse cx="301.67" cy="328.03" rx="3.31" ry="3.4"/><ellipse cx="307.48" cy="329.99" rx="2.87" ry="2.72"/><ellipse cx="314.62" cy="329.31" rx="3.02" ry="3.26"/><ellipse cx="320.3" cy="329.39" rx="3.07" ry="3.06"/><ellipse cx="327.77" cy="328.81" rx="2.92" ry="2.81"/><ellipse cx="333.8" cy="330.37" rx="3.6" ry="3.61"/><ellipse cx="339.4" cy="330.08" rx="2.8" ry="2.65"/><ellipse cx="347.71" cy="328.98" rx="2.71" ry="2.28"/><ellipse cx="354.53" cy="330.32" rx="2.79" ry="2.77"/><ellipse cx="359.93" cy="328.91" rx="3.22" ry="3.03"/><ellipse cx="367.29" cy="330.36" rx="2.64" ry="3.04"/><ellipse cx="373.57" cy="328.64" rx="3.15" ry="3.95"/><ellipse cx="379.15" cy="329.17" rx="2.49" ry="3.11"/><ellipse cx="385.85" cy="329.06" rx="2.73" ry="2.79"/><ellipse cx="393.54" cy="330.46" rx="2.96" ry="2.8"/><ellipse cx="399.99" cy="327.92" rx="2.86" ry="2.74"/><ellipse cx="404.79" cy="330.25" rx="2.83" ry="2.77"/><ellipse cx="413.25" cy="330.32" rx="3.11" ry="3.7"/><ellipse cx="419.33" cy="330.14" rx="2.67" ry="2.95"/><ellipse cx="424.99" cy="329.68" rx="2.94" ry="2.55"/><ellipse cx="433.45" cy="328.72" rx="2.52" ry="3.04"/><ellipse cx="438.79" cy="328.17" rx="2.6" ry="2.86"/><ellipse cx="445.2" cy="329.07" rx="3.45" ry="3.37"/><ellipse cx="453.55" cy="328.19" rx="3.04" ry="3.55"/><ellipse cx="459.8" cy="328.6" rx="2.62" ry="2.63"/><ellipse cx="466.58" cy="327.88" rx="2.94" ry="2.53"/><ellipse cx="472.6" cy="328.59" rx="2.93" ry="3.01"/><ellipse cx="284.38" cy="335.32" rx="2.56" ry="2.79"/><ellipse cx="289.41" cy="333.69" rx="2.67" ry="3.22"/><ellipse cx="296.64" cy="335.68" rx="3.53" ry="2.92"/><ellipse cx="303.16" cy="334.3" rx="3.05" ry="3.34"/><ellipse cx="309.99" cy="335.31" rx="2.82" ry="3.21"/><ellipse cx="316.15" cy="333.91" rx="3.2" ry="2.71"/><ellipse cx="323.5" cy="335.77" rx="3.61" ry="3.29"/><ellipse cx="331.19" cy="335.14" rx="2.73" ry="2.81"/><ellipse cx="335.79" cy="335.01" rx="3.33" ry="2.83"/><ellipse cx="343.5" cy="334.59" rx="2.96" ry="3.5"/><ellipse cx="349.96" cy="335.96" rx="2.66" ry="2.61"/><ellipse cx="357.25" cy="334.44" rx="3.06" ry="3.02"/><ellipse cx="362.07" cy="334.2" rx="3.74" ry="3.66"/><ellipse cx="369.9" cy="334.5" rx="3.1" ry="2.8"/><ellipse cx="377.11" cy="333.65" rx="3.02" ry="2.88"/><ellipse cx="383.9" cy="333.57" rx="3.35" ry="3.18"/><ellipse cx="389.95" cy="334.12" rx="3.49" ry="3.64"/><ellipse cx="397.02" cy="334.56" rx="2.4" ry="2.43"/><ellipse cx="402.42" cy="334.95" rx="2.65" ry="2.58"/><ellipse cx="408.48" cy="334.36" rx="3.12" ry="3.02"/><ellipse cx="414.82" cy="335.34" rx="2.8" ry="2.75"/><ellipse cx="423.29" cy="336.2" rx="2.52" ry="2.22"/><ellipse cx="428.49" cy="334.67" rx="2.4" ry="2.56"/><ellipse cx="434.76" cy="333.58" rx="3.25" ry="3.42"/><ellipse cx="442.9" cy="335.48" rx="2.71" ry="2.97"/><ellipse cx="448.57" cy="334.31" rx="3.34" ry="3.22"/><ellipse cx="456.77" cy="334.37" rx="3.18" ry="2.76"/><ellipse cx="462.43" cy="334.11" rx="2.61" ry="3.33"/><ellipse cx="469.02" cy="334" rx="2.59" ry="2.44"/><ellipse cx="280.01" cy="341.12" rx="2.96" ry="3.07"/><ellipse cx="286.85" cy="340.06" rx="3.19" ry="3.25"/><ellipse cx="294.03" cy="339.45" rx="3.41" ry="3.15"/><ellipse cx="300.75" cy="341.07" rx="2.9" ry="2.83"/><ellipse cx="305.98" cy="339.83" rx="2.88" ry="2.71"/><ellipse cx="313.79" cy="341.14" rx="2.6" ry="2.76"/><ellipse cx="320.09" cy="341.2" rx="3.11" ry="2.91"/><ellipse cx="325.8" cy="340.67" rx="2.43" ry="2.41"/><ellipse cx="333.92" cy="340.04" rx="3.42" ry="2.86"/><ellipse cx="341" cy="339.92" rx="3.12" ry="2.81"/><ellipse cx="345.55" cy="341.83" rx="3.15" ry="3.26"/><ellipse cx="354.03" cy="339.46" rx="2.99" ry="3.03"/><ellipse cx="359.72" cy="341.76" rx="2.66" ry="2.73"/><ellipse cx="366.48" cy="341.78" rx="3.09" ry="3.04"/><ellipse cx="372.31" cy="341.87" rx="3.49" ry="3.43"/><ellipse cx="380.02" cy="341.87" rx="2.68" ry="2.91"/><ellipse cx="385.42" cy="340.6" rx="3.01" ry="2.99"/><ellipse cx="392.06" cy="340.39" rx="3.49" ry="3.33"/><ellipse cx="398.3" cy="340.05" rx="3.19" ry="3.14"/><ellipse cx="406.78" cy="340.02" rx="3.26" ry="3.27"/><ellipse cx="412.59" cy="340.49" rx="2.59" ry="2.73"/><ellipse cx="418.81" cy="340.34" rx="3.37" ry="3.39"/><ellipse cx="427.12" cy="340.27" rx="3.04" ry="2.92"/><ellipse cx="433.81" cy="339.88" rx="2.85" ry="2.8"/><ellipse cx="438.06" cy="340.09" rx="3.03" ry="3.17"/><ellipse cx="446.16" cy="340.3" rx="3.14" ry="3.16"/><ellipse cx="453.38" cy="339.31" rx="2.71" ry="2.54"/><ellipse cx="459.3" cy="340.42" rx="2.88" ry="3.31"/><ellipse cx="465.07" cy="340.68" rx="2.94" ry="3.1"/><ellipse cx="472.69" cy="339.58" rx="3.06" ry="3.32"/><ellipse cx="284.2" cy="345.85" rx="2.44" ry="2.39"/><ellipse cx="291.39" cy="346.78" rx="3.36" ry="3.33"/><ellipse cx="297.02" cy="347.23" rx="2.83" ry="3.09"/><ellipse cx="303.28" cy="345.86" rx="3.17" ry="2.92"/><ellipse cx="311.71" cy="345.82" rx="2.84" ry="3.23"/><ellipse cx="317.46" cy="347.19" rx="2.72" ry="3.05"/><ellipse cx="323.61" cy="347.03" rx="2.95" ry="2.72"/><ellipse cx="330.6" cy="346.47" rx="3.54" ry="3.11"/><ellipse cx="337.61" cy="345.6" rx="3.68" ry="3.5"/><ellipse cx="343.2" cy="347.51" rx="3.26" ry="3.02"/><ellipse cx="350.31" cy="345.62" rx="2.52" ry="2.85"/><ellipse cx="356.48" cy="345.25" rx="2.46" ry="2.71"/><ellipse cx="363.57" cy="345.34" rx="3.53" ry="3.78"/><ellipse cx="370.4" cy="347.37" rx="2.3" ry="2.61"/><ellipse cx="376.22" cy="345.4" rx="3.53" ry="3.18"/><ellipse cx="383.18" cy="345.93" rx="3.24" ry="2.98"/><ellipse cx="390.27" cy="347.61" rx="3.13" ry="2.71"/><ellipse cx="396.06" cy="346.01" rx="3.42" ry="3.37"/><ellipse cx="402.8" cy="346.04" rx="2.4" ry="2.81"/><ellipse cx="408.87" cy="346.6" rx="3.21" ry="2.97"/><ellipse cx="415.78" cy="347.01" rx="2.3" ry="2.66"/><ellipse cx="423.43" cy="345.47" rx="3.32" ry="2.72"/><ellipse cx="429.37" cy="347.17" rx="2.72" ry="2.93"/><ellipse cx="434.96" cy="346.71" rx="3.83" ry="3.32"/><ellipse cx="442.07" cy="345.35" rx="2.69" ry="3.13"/><ellipse cx="448.97" cy="345.25" rx="2.92" ry="3.38"/><ellipse cx="455.47" cy="345.07" rx="3.03" ry="3.56"/><ellipse cx="463.05" cy="346.94" rx="2.75" ry="3.56"/><ellipse cx="470.03" cy="347" rx="2.75" ry="2.85"/></g>
<g fill="#101010"><ellipse cx="400.46" cy="214.84" rx="1.68" ry="2"/><ellipse cx="419.75" cy="213.65" rx="1.46" ry="1.65"/><ellipse cx="431.86" cy="214.1" rx="1.54" ry="1.56"/><ellipse cx="439.13" cy="213.21" rx="1.34" ry="1.83"/><ellipse cx="283.23" cy="220.28" rx="1.5" ry="1.56"/><ellipse cx="331.51" cy="219.11" rx="1.53" ry="1.54"/><ellipse cx="356.51" cy="220.62" rx="1.99" ry="2.28"/><ellipse cx="402.71" cy="219.26" rx="1.81" ry="1.75"/><ellipse cx="410.07" cy="220" rx="1.87" ry="1.82"/><ellipse cx="301.16" cy="226.76" rx="2.38" ry="2.58"/><ellipse cx="352.58" cy="224.61" rx="2.05" ry="2.37"/><ellipse cx="425.3" cy="225.86" rx="1.73" ry="1.83"/><ellipse cx="431.26" cy="225.92" rx="1.51" ry="1.78"/><ellipse cx="465.94" cy="224.55" rx="2.04" ry="1.88"/><ellipse cx="304.28" cy="231.02" rx="1.96" ry="1.59"/><ellipse cx="349" cy="231.41" rx="2.18" ry="1.68"/><ellipse cx="362.94" cy="231.56" rx="1.67" ry="1.67"/><ellipse cx="375.63" cy="230.84" rx="1.4" ry="1.5"/><ellipse cx="383.47" cy="230.57" rx="1.65" ry="2.03"/><ellipse cx="401.55" cy="231.1" rx="1.69" ry="2.25"/><ellipse cx="421.33" cy="232.5" rx="2.24" ry="2.56"/><ellipse cx="430.28" cy="230.5" rx="1.62" ry="1.75"/><ellipse cx="345.75" cy="237.81" rx="1.55" ry="1.7"/><ellipse cx="372.33" cy="237.18" rx="1.67" ry="1.62"/><ellipse cx="387.21" cy="237.57" rx="1.77" ry="1.83"/><ellipse cx="393.22" cy="237.15" rx="2.17" ry="1.8"/><ellipse cx="413.68" cy="237.37" rx="2.49" ry="2.33"/><ellipse cx="432.86" cy="238.07" rx="2.27" ry="1.71"/><ellipse cx="445.31" cy="238.47" rx="1.79" ry="2.08"/><ellipse cx="460.17" cy="237.73" rx="1.73" ry="1.56"/><ellipse cx="471.02" cy="238.4" rx="2.16" ry="1.73"/><ellipse cx="291.72" cy="243.41" rx="1.58" ry="2.14"/><ellipse cx="296.21" cy="244.2" rx="1.87" ry="1.85"/><ellipse cx="302.71" cy="243.89" rx="1.77" ry="2.16"/><ellipse cx="310.5" cy="242.52" rx="1.7" ry="1.87"/><ellipse cx="329.91" cy="244.31" rx="2.2" ry="1.96"/><ellipse cx="357" cy="242.8" rx="2.04" ry="2.01"/><ellipse cx="376.22" cy="244.26" rx="2.14" ry="2.47"/><ellipse cx="382.49" cy="242.89" rx="1.72" ry="1.95"/><ellipse cx="402.94" cy="243.29" rx="1.79" ry="2.01"/><ellipse cx="408.23" cy="242.99" rx="2.27" ry="2.11"/><ellipse cx="428.99" cy="244.33" rx="1.96" ry="1.82"/><ellipse cx="442.22" cy="243.46" rx="2.22" ry="1.92"/><ellipse cx="448.22" cy="243.59" rx="2.34" ry="2.43"/><ellipse cx="301.34" cy="248.92" rx="1.83" ry="2.21"/><ellipse cx="325.66" cy="248.42" rx="1.9" ry="1.61"/><ellipse cx="333.07" cy="248.25" rx="1.74" ry="1.66"/><ellipse cx="367.21" cy="248.23" rx="1.7" ry="2.19"/><ellipse cx="373.54" cy="249.82" rx="2.05" ry="1.68"/><ellipse cx="398.7" cy="248.73" rx="1.6" ry="1.92"/><ellipse cx="432.72" cy="247.52" rx="2.18" ry="1.64"/><ellipse cx="289.65" cy="255.59" rx="1.68" ry="2.09"/><ellipse cx="310.98" cy="254.97" rx="2.09" ry="1.75"/><ellipse cx="370.82" cy="253.71" rx="1.69" ry="2.38"/><ellipse cx="383.81" cy="253.88" rx="1.66" ry="1.65"/><ellipse cx="461.63" cy="253.53" rx="1.87" ry="1.89"/><ellipse cx="308.2" cy="261.31" rx="2" ry="2.12"/><ellipse cx="313.58" cy="259.82" rx="1.35" ry="1.49"/><ellipse cx="333.13" cy="259.66" rx="1.88" ry="1.71"/><ellipse cx="360.15" cy="259.01" rx="1.84" ry="1.76"/><ellipse cx="418.78" cy="260.2" rx="1.89" ry="2.23"/><ellipse cx="431.45" cy="260.14" rx="1.71" ry="1.65"/><ellipse cx="464.2" cy="261.24" rx="1.53" ry="1.44"/><ellipse cx="316.76" cy="267.18" rx="1.75" ry="1.62"/><ellipse cx="324.42" cy="267.05" rx="2.28" ry="1.79"/><ellipse cx="337.44" cy="264.74" rx="1.35" ry="1.65"/><ellipse cx="355.82" cy="266.9" rx="2.14" ry="1.72"/><ellipse cx="375.66" cy="264.7" rx="1.46" ry="2.16"/><ellipse cx="442.8" cy="266.14" rx="2.28" ry="2.1"/><ellipse cx="280.87" cy="272.66" rx="1.79" ry="2"/><ellipse cx="307.4" cy="271.43" rx="1.75" ry="1.86"/><ellipse cx="326.86" cy="271.78" rx="1.61" ry="1.92"/><ellipse cx="334.77" cy="272.96" rx="1.79" ry="1.44"/><ellipse cx="354.07" cy="272.27" rx="2.32" ry="2.04"/><ellipse cx="406.77" cy="272.96" rx="1.99" ry="2.27"/><ellipse cx="432.97" cy="272.06" rx="1.71" ry="1.82"/><ellipse cx="282.81" cy="278.68" rx="2.39" ry="1.92"/><ellipse cx="376.49" cy="278.41" rx="1.78" ry="1.95"/><ellipse cx="395.18" cy="278.73" rx="1.49" ry="1.88"/><ellipse cx="409.61" cy="277.8" rx="1.99" ry="1.65"/><ellipse cx="306.35" cy="284.35" rx="1.66" ry="1.76"/><ellipse cx="326.8" cy="282.48" rx="1.67" ry="1.56"/><ellipse cx="391.89" cy="282.79" rx="2.22" ry="2.17"/><ellipse cx="405.54" cy="284.04" rx="2.16" ry="1.68"/><ellipse cx="419.08" cy="283.97" rx="1.75" ry="1.53"/><ellipse cx="424.69" cy="283.17" rx="1.96" ry="1.55"/><ellipse cx="431.78" cy="282.81" rx="1.91" ry="2.44"/><ellipse cx="437.86" cy="282.14" rx="2.04" ry="2.3"/><ellipse cx="452.62" cy="282.6" rx="1.46" ry="1.88"/><ellipse cx="458.09" cy="281.98" rx="2.2" ry="2.4"/><ellipse cx="342.32" cy="289.53" rx="2.47" ry="2.25"/><ellipse cx="356.74" cy="288.45" rx="1.82" ry="2.16"/><ellipse cx="363.58" cy="287.79" rx="2.33" ry="1.73"/><ellipse cx="435.79" cy="287.84" rx="1.89" ry="1.44"/><ellipse cx="468.02" cy="289.28" rx="1.7" ry="1.87"/><ellipse cx="280.89" cy="295.42" rx="1.59" ry="1.45"/><ellipse cx="399.21" cy="294.1" rx="1.57" ry="2.13"/><ellipse cx="418.59" cy="294.18" rx="1.3" ry="1.36"/><ellipse cx="291.24" cy="299.36" rx="1.98" ry="2.2"/><ellipse cx="298.22" cy="299.78" rx="1.77" ry="1.46"/><ellipse cx="309.97" cy="300.13" rx="1.9" ry="1.8"/><ellipse cx="337.46" cy="301.27" rx="1.61" ry="1.94"/><ellipse cx="356.48" cy="300.68" rx="2.32" ry="2.05"/><ellipse cx="368.5" cy="300.27" rx="1.66" ry="1.83"/><ellipse cx="395.84" cy="299.81" rx="1.51" ry="1.47"/><ellipse cx="443.06" cy="300.24" rx="1.68" ry="2.39"/><ellipse cx="448.18" cy="301.74" rx="1.6" ry="2.12"/><ellipse cx="301.05" cy="305.92" rx="1.69" ry="2.04"/><ellipse cx="319.06" cy="306.59" rx="1.58" ry="1.54"/><ellipse cx="374.33" cy="304.98" rx="1.46" ry="1.85"/><ellipse cx="398.79" cy="306.11" rx="1.34" ry="1.88"/><ellipse cx="419.56" cy="305.57" rx="1.58" ry="2.11"/><ellipse cx="425.35" cy="305.35" rx="1.8" ry="2.02"/><ellipse cx="282.93" cy="312.38" rx="2.11" ry="1.94"/><ellipse cx="317.21" cy="313.21" rx="2.28" ry="2.46"/><ellipse cx="322.67" cy="311.9" rx="2.44" ry="1.96"/><ellipse cx="331.06" cy="310.6" rx="1.84" ry="1.67"/><ellipse cx="343.46" cy="311.09" rx="2.04" ry="2.07"/><ellipse cx="384.3" cy="311.26" rx="2.03" ry="1.68"/><ellipse cx="403.16" cy="311.34" rx="1.77" ry="2.01"/><ellipse cx="410.09" cy="312.78" rx="1.71" ry="1.51"/><ellipse cx="449.11" cy="311.85" rx="1.84" ry="2.21"/><ellipse cx="292.93" cy="317.09" rx="1.72" ry="1.93"/><ellipse cx="300.76" cy="316.98" rx="1.64" ry="1.81"/><ellipse cx="313.83" cy="316.55" rx="2.15" ry="1.76"/><ellipse cx="325.78" cy="316.61" rx="2" ry="2.07"/><ellipse cx="391.74" cy="318.21" rx="1.47" ry="1.68"/><ellipse cx="411.7" cy="316.48" rx="1.85" ry="1.88"/><ellipse cx="282.92" cy="322.81" rx="1.62" ry="1.92"/><ellipse cx="322.93" cy="322.93" rx="1.68" ry="2.2"/><ellipse cx="362.52" cy="324.05" rx="1.73" ry="2.01"/><ellipse cx="377.53" cy="322.13" rx="2.35" ry="1.88"/><ellipse cx="415.45" cy="322.79" rx="2.01" ry="2.01"/><ellipse cx="423.62" cy="323.49" rx="2.01" ry="1.62"/><ellipse cx="436.42" cy="324.63" rx="1.72" ry="1.45"/><ellipse cx="442.94" cy="323.49" rx="1.71" ry="1.78"/><ellipse cx="450.12" cy="322.35" rx="1.95" ry="1.73"/><ellipse cx="314.62" cy="329.31" rx="1.63" ry="1.87"/><ellipse cx="333.8" cy="330.37" rx="2.25" ry="2.26"/><ellipse cx="347.71" cy="328.98" rx="1.9" ry="1.47"/><ellipse cx="359.93" cy="328.91" rx="2.15" ry="1.96"/><ellipse cx="419.33" cy="330.14" rx="1.88" ry="2.16"/><ellipse cx="424.99" cy="329.68" rx="2.07" ry="1.68"/><ellipse cx="453.55" cy="328.19" rx="1.76" ry="2.27"/><ellipse cx="296.64" cy="335.68" rx="2.32" ry="1.71"/><ellipse cx="309.99" cy="335.31" rx="1.98" ry="2.36"/><ellipse cx="357.25" cy="334.44" rx="1.71" ry="1.67"/><ellipse cx="408.48" cy="334.36" rx="1.86" ry="1.76"/><ellipse cx="469.02" cy="334" rx="1.56" ry="1.41"/><ellipse cx="320.09" cy="341.2" rx="2.01" ry="1.81"/><ellipse cx="325.8" cy="340.67" rx="1.52" ry="1.49"/><ellipse cx="372.31" cy="341.87" rx="2.4" ry="2.34"/><ellipse cx="380.02" cy="341.87" rx="1.64" ry="1.87"/><ellipse cx="291.39" cy="346.78" rx="2.03" ry="1.99"/><ellipse cx="311.71" cy="345.82" rx="1.74" ry="2.13"/><ellipse cx="317.46" cy="347.19" rx="1.57" ry="1.9"/><ellipse cx="323.61" cy="347.03" rx="1.92" ry="1.69"/><ellipse cx="356.48" cy="345.25" rx="1.64" ry="1.88"/><ellipse cx="370.4" cy="347.37" rx="1.38" ry="1.69"/><ellipse cx="390.27" cy="347.61" rx="2.05" ry="1.64"/><ellipse cx="429.37" cy="347.17" rx="1.89" ry="2.1"/><ellipse cx="434.96" cy="346.71" rx="2.4" ry="1.9"/><ellipse cx="470.03" cy="347" rx="1.79" ry="1.89"/></g>
<g fill="#1c1c1c"><ellipse cx="301.58" cy="214.1" rx="1.84" ry="1.86"/><ellipse cx="360.14" cy="214.78" rx="2.37" ry="1.84"/><ellipse cx="367.67" cy="213.14" rx="2.36" ry="1.76"/><ellipse cx="378.72" cy="215.45" rx="2.06" ry="1.63"/><ellipse cx="411.76" cy="215.51" rx="1.83" ry="1.7"/><ellipse cx="445.75" cy="214.21" rx="1.89" ry="1.58"/><ellipse cx="452.9" cy="214.13" rx="1.97" ry="1.56"/><ellipse cx="296.92" cy="219.04" rx="1.39" ry="1.91"/><ellipse cx="324.12" cy="220.57" rx="1.8" ry="1.7"/><ellipse cx="349.13" cy="219.14" rx="1.94" ry="2.49"/><ellipse cx="370.36" cy="221.13" rx="1.86" ry="1.8"/><ellipse cx="383.4" cy="220.88" rx="1.9" ry="1.76"/><ellipse cx="390.62" cy="218.99" rx="2.31" ry="1.84"/><ellipse cx="396.17" cy="220.34" rx="1.72" ry="1.59"/><ellipse cx="449.05" cy="221.15" rx="1.68" ry="1.98"/><ellipse cx="306.75" cy="225.51" rx="2.02" ry="1.61"/><ellipse cx="319" cy="225.31" rx="2.17" ry="2.13"/><ellipse cx="326.53" cy="225" rx="2.26" ry="2.11"/><ellipse cx="366.2" cy="225.66" rx="2.09" ry="2.21"/><ellipse cx="371.98" cy="225.27" rx="1.67" ry="1.75"/><ellipse cx="385.62" cy="225.74" rx="1.66" ry="1.94"/><ellipse cx="399.48" cy="224.81" rx="1.41" ry="1.48"/><ellipse cx="406.43" cy="225.35" rx="1.9" ry="2.33"/><ellipse cx="439.74" cy="226.32" rx="1.54" ry="2.09"/><ellipse cx="445.96" cy="224.56" rx="1.45" ry="1.81"/><ellipse cx="452.99" cy="224.71" rx="2.31" ry="2.12"/><ellipse cx="471.35" cy="225.34" rx="1.84" ry="1.94"/><ellipse cx="296.7" cy="230.66" rx="2.25" ry="1.74"/><ellipse cx="315.87" cy="231.45" rx="1.85" ry="2.09"/><ellipse cx="330.14" cy="232.29" rx="1.79" ry="1.99"/><ellipse cx="336.02" cy="232.06" rx="2.2" ry="2.3"/><ellipse cx="370.34" cy="232.15" rx="1.4" ry="1.72"/><ellipse cx="395.84" cy="232.71" rx="2.22" ry="2.3"/><ellipse cx="410.36" cy="230.41" rx="2.01" ry="1.87"/><ellipse cx="442.21" cy="232.27" rx="1.44" ry="1.85"/><ellipse cx="449.04" cy="231.37" rx="2.2" ry="2.09"/><ellipse cx="455.59" cy="232.82" rx="1.81" ry="1.9"/><ellipse cx="280.18" cy="238.17" rx="2.23" ry="2.24"/><ellipse cx="287.21" cy="237.15" rx="2" ry="2.22"/><ellipse cx="306.97" cy="238.43" rx="2.22" ry="2.36"/><ellipse cx="312.77" cy="237.7" rx="1.92" ry="1.99"/><ellipse cx="360.64" cy="236.98" rx="1.95" ry="2.16"/><ellipse cx="366.69" cy="236.59" rx="2.51" ry="1.84"/><ellipse cx="379.45" cy="237.2" rx="1.58" ry="1.6"/><ellipse cx="405.24" cy="238.07" rx="2.09" ry="2.52"/><ellipse cx="419.42" cy="237.43" rx="1.92" ry="1.44"/><ellipse cx="438.63" cy="236.67" rx="1.51" ry="2.05"/><ellipse cx="464.2" cy="236.19" rx="1.95" ry="1.83"/><ellipse cx="323.74" cy="242.58" rx="1.49" ry="2.06"/><ellipse cx="349.5" cy="242.79" rx="2.15" ry="2.09"/><ellipse cx="369.86" cy="242.42" rx="2.07" ry="1.84"/><ellipse cx="421.41" cy="242.54" rx="1.65" ry="1.76"/><ellipse cx="468.92" cy="241.78" rx="1.58" ry="1.58"/><ellipse cx="281.17" cy="247.9" rx="1.71" ry="2.53"/><ellipse cx="286.72" cy="249.26" rx="1.88" ry="1.81"/><ellipse cx="295.19" cy="248.38" rx="1.78" ry="1.92"/><ellipse cx="314.92" cy="249.08" rx="2.13" ry="2.33"/><ellipse cx="340.71" cy="249.62" rx="1.42" ry="1.32"/><ellipse cx="353.63" cy="249.93" rx="2.25" ry="1.78"/><ellipse cx="360.77" cy="247.65" rx="2.04" ry="2.06"/><ellipse cx="393.83" cy="250.05" rx="1.85" ry="2.03"/><ellipse cx="418.29" cy="248.19" rx="2.37" ry="2.45"/><ellipse cx="446.16" cy="249.29" rx="2.29" ry="1.9"/><ellipse cx="459.91" cy="249.41" rx="2.07" ry="1.51"/><ellipse cx="466.35" cy="247.69" rx="2.12" ry="1.63"/><ellipse cx="284.34" cy="254.22" rx="2.27" ry="2.3"/><ellipse cx="428.71" cy="254.69" rx="2.1" ry="1.81"/><ellipse cx="467.9" cy="254.15" rx="2.37" ry="2.42"/><ellipse cx="292.6" cy="260.35" rx="1.82" ry="2.33"/><ellipse cx="319.51" cy="259.92" rx="2" ry="2.09"/><ellipse cx="379.93" cy="260.01" rx="1.72" ry="2.26"/><ellipse cx="400.22" cy="259.19" rx="1.52" ry="1.5"/><ellipse cx="460.16" cy="261.02" rx="1.73" ry="1.87"/><ellipse cx="471.6" cy="260.64" rx="2.29" ry="2.44"/><ellipse cx="297.33" cy="266.44" rx="1.87" ry="2.19"/><ellipse cx="304.25" cy="267.25" rx="2.1" ry="1.84"/><ellipse cx="342.73" cy="266.57" rx="2.22" ry="2.32"/><ellipse cx="350.36" cy="266.04" rx="2.29" ry="1.89"/><ellipse cx="423.2" cy="266.33" rx="2.39" ry="2.58"/><ellipse cx="435.55" cy="264.68" rx="2.04" ry="1.72"/><ellipse cx="292.8" cy="270.73" rx="1.67" ry="2.23"/><ellipse cx="320.02" cy="270.56" rx="1.84" ry="2"/><ellipse cx="341.09" cy="271.96" rx="1.78" ry="1.65"/><ellipse cx="379.87" cy="272.77" rx="1.32" ry="1.36"/><ellipse cx="386.89" cy="271.74" rx="1.65" ry="1.34"/><ellipse cx="412.8" cy="271.68" rx="1.8" ry="1.94"/><ellipse cx="418.37" cy="271.36" rx="1.86" ry="1.31"/><ellipse cx="451.38" cy="271.28" rx="2.28" ry="1.66"/><ellipse cx="296.66" cy="276.51" rx="1.99" ry="1.64"/><ellipse cx="318.09" cy="278.34" rx="2.14" ry="2.24"/><ellipse cx="336.23" cy="277.11" rx="2.24" ry="2.07"/><ellipse cx="383.78" cy="276.69" rx="2.12" ry="1.85"/><ellipse cx="423.48" cy="276.63" rx="2.06" ry="2.01"/><ellipse cx="442.16" cy="276.58" rx="1.38" ry="1.85"/><ellipse cx="455" cy="278.34" rx="2.47" ry="2"/><ellipse cx="287.24" cy="283.75" rx="1.69" ry="1.62"/><ellipse cx="379.25" cy="283.01" rx="2.08" ry="1.98"/><ellipse cx="400.35" cy="283.58" rx="2.08" ry="1.61"/><ellipse cx="331.19" cy="289.4" rx="1.72" ry="2.51"/><ellipse cx="335.82" cy="288.59" rx="2" ry="2.24"/><ellipse cx="370.52" cy="287.68" rx="1.72" ry="1.95"/><ellipse cx="376.43" cy="289.76" rx="2.14" ry="1.88"/><ellipse cx="396.81" cy="288.44" rx="1.7" ry="1.73"/><ellipse cx="401.55" cy="288.81" rx="1.95" ry="2.33"/><ellipse cx="443.66" cy="289" rx="2.14" ry="2.29"/><ellipse cx="286.8" cy="294.82" rx="2.19" ry="2.39"/><ellipse cx="293.8" cy="293.43" rx="2.05" ry="1.92"/><ellipse cx="347.47" cy="294.6" rx="1.53" ry="1.84"/><ellipse cx="373.9" cy="295.17" rx="2.09" ry="1.98"/><ellipse cx="379.46" cy="295.26" rx="1.63" ry="1.78"/><ellipse cx="406.04" cy="293.84" rx="1.88" ry="1.42"/><ellipse cx="459.19" cy="294.82" rx="1.9" ry="2.33"/><ellipse cx="471.47" cy="295.99" rx="1.95" ry="1.85"/><ellipse cx="329.9" cy="299.62" rx="2.07" ry="1.98"/><ellipse cx="342.39" cy="300.99" rx="1.76" ry="1.69"/><ellipse cx="350.89" cy="301.28" rx="1.94" ry="1.75"/><ellipse cx="384.09" cy="299.38" rx="2.55" ry="2.04"/><ellipse cx="408.95" cy="299.59" rx="1.73" ry="1.94"/><ellipse cx="421.58" cy="299.9" rx="1.78" ry="1.43"/><ellipse cx="428.52" cy="301.43" rx="1.72" ry="1.69"/><ellipse cx="456.67" cy="299.48" rx="1.47" ry="1.66"/><ellipse cx="462.62" cy="300.24" rx="1.7" ry="1.48"/><ellipse cx="354" cy="306.62" rx="2.18" ry="2.13"/><ellipse cx="366.1" cy="306.93" rx="2.51" ry="2.04"/><ellipse cx="406.95" cy="306.79" rx="1.99" ry="1.71"/><ellipse cx="453.54" cy="306.8" rx="1.98" ry="1.82"/><ellipse cx="351.02" cy="312.77" rx="1.93" ry="2.4"/><ellipse cx="355.69" cy="310.6" rx="1.65" ry="1.68"/><ellipse cx="363.89" cy="312.62" rx="1.67" ry="1.58"/><ellipse cx="377.62" cy="311.31" rx="2.32" ry="1.79"/><ellipse cx="388.66" cy="311.47" rx="1.79" ry="1.61"/><ellipse cx="422.3" cy="311.79" rx="2.05" ry="2.12"/><ellipse cx="434.86" cy="313.03" rx="1.65" ry="1.96"/><ellipse cx="443" cy="310.9" rx="2.38" ry="1.83"/><ellipse cx="461.56" cy="310.81" rx="2.09" ry="1.46"/><ellipse cx="469.27" cy="311.51" rx="1.64" ry="2.2"/><ellipse cx="280.71" cy="318.82" rx="2.35" ry="2.37"/><ellipse cx="373.21" cy="317.36" rx="2.13" ry="2.2"/><ellipse cx="385.06" cy="317.24" rx="2.01" ry="1.75"/><ellipse cx="407.19" cy="317.77" rx="1.79" ry="1.96"/><ellipse cx="432.14" cy="318.17" rx="1.67" ry="1.51"/><ellipse cx="473.35" cy="316.96" rx="1.63" ry="2.28"/><ellipse cx="317.78" cy="322.13" rx="1.47" ry="1.66"/><ellipse cx="356.69" cy="323.06" rx="1.82" ry="1.39"/><ellipse cx="368.61" cy="323.79" rx="1.79" ry="1.66"/><ellipse cx="389.31" cy="322.26" rx="1.82" ry="2.3"/><ellipse cx="397.32" cy="323.21" rx="1.86" ry="1.83"/><ellipse cx="469.1" cy="324.13" rx="1.81" ry="1.69"/><ellipse cx="292.67" cy="329.79" rx="1.88" ry="1.54"/><ellipse cx="339.4" cy="330.08" rx="1.71" ry="1.56"/><ellipse cx="367.29" cy="330.36" rx="1.57" ry="1.97"/><ellipse cx="373.57" cy="328.64" rx="1.77" ry="2.57"/><ellipse cx="379.15" cy="329.17" rx="1.53" ry="2.15"/><ellipse cx="385.85" cy="329.06" rx="1.55" ry="1.61"/><ellipse cx="393.54" cy="330.46" rx="2.16" ry="2.01"/><ellipse cx="399.99" cy="327.92" rx="1.67" ry="1.55"/><ellipse cx="433.45" cy="328.72" rx="1.43" ry="1.95"/><ellipse cx="438.79" cy="328.17" rx="1.64" ry="1.9"/><ellipse cx="459.8" cy="328.6" rx="1.51" ry="1.52"/><ellipse cx="466.58" cy="327.88" rx="2.15" ry="1.75"/><ellipse cx="303.16" cy="334.3" rx="2.13" ry="2.42"/><ellipse cx="316.15" cy="333.91" rx="2.18" ry="1.69"/><ellipse cx="331.19" cy="335.14" rx="1.68" ry="1.76"/><ellipse cx="335.79" cy="335.01" rx="2.06" ry="1.56"/><ellipse cx="369.9" cy="334.5" rx="1.91" ry="1.61"/><ellipse cx="414.82" cy="335.34" rx="1.58" ry="1.53"/><ellipse cx="434.76" cy="333.58" rx="1.88" ry="2.05"/><ellipse cx="448.57" cy="334.31" rx="2.12" ry="2"/><ellipse cx="456.77" cy="334.37" rx="2.13" ry="1.7"/><ellipse cx="294.03" cy="339.45" rx="2.31" ry="2.05"/><ellipse cx="333.92" cy="340.04" rx="2.54" ry="1.98"/><ellipse cx="345.55" cy="341.83" rx="2.07" ry="2.17"/><ellipse cx="385.42" cy="340.6" rx="1.7" ry="1.67"/><ellipse cx="398.3" cy="340.05" rx="1.96" ry="1.91"/><ellipse cx="418.81" cy="340.34" rx="2.35" ry="2.38"/><ellipse cx="427.12" cy="340.27" rx="2.09" ry="1.96"/><ellipse cx="438.06" cy="340.09" rx="1.7" ry="1.84"/><ellipse cx="465.07" cy="340.68" rx="1.8" ry="1.97"/><ellipse cx="472.69" cy="339.58" rx="1.86" ry="2.13"/><ellipse cx="284.2" cy="345.85" rx="1.53" ry="1.48"/><ellipse cx="337.61" cy="345.6" rx="2.49" ry="2.31"/><ellipse cx="396.06" cy="346.01" rx="2.13" ry="2.08"/><ellipse cx="402.8" cy="346.04" rx="1.48" ry="1.89"/><ellipse cx="408.87" cy="346.6" rx="1.91" ry="1.68"/><ellipse cx="423.43" cy="345.47" rx="2.34" ry="1.75"/></g>
<g fill="#2e2e2e"><ellipse cx="281.9" cy="215.48" rx="1.36" ry="1.85"/><ellipse cx="286.64" cy="213.54" rx="1.74" ry="1.95"/><ellipse cx="294.02" cy="214.15" rx="1.43" ry="1.43"/><ellipse cx="333.46" cy="213.57" rx="1.94" ry="1.56"/><ellipse cx="346.2" cy="213.53" rx="2.24" ry="2"/><ellipse cx="353.9" cy="215.38" rx="1.88" ry="1.41"/><ellipse cx="373.56" cy="213.2" rx="1.76" ry="2.37"/><ellipse cx="385.38" cy="213.08" rx="1.89" ry="1.98"/><ellipse cx="404.84" cy="215.06" rx="2.18" ry="2.41"/><ellipse cx="427.21" cy="213.59" rx="1.68" ry="1.93"/><ellipse cx="460.01" cy="214.73" rx="1.53" ry="2.24"/><ellipse cx="464.94" cy="215.58" rx="1.47" ry="1.96"/><ellipse cx="289.86" cy="220.02" rx="1.58" ry="1.81"/><ellipse cx="304.31" cy="218.79" rx="2.22" ry="2.17"/><ellipse cx="335.82" cy="219.5" rx="1.86" ry="1.86"/><ellipse cx="342.38" cy="220.15" rx="2.39" ry="1.82"/><ellipse cx="363.15" cy="219.79" rx="2.38" ry="2.19"/><ellipse cx="417.29" cy="220.34" rx="2" ry="2.13"/><ellipse cx="435.97" cy="219.26" rx="2" ry="1.71"/><ellipse cx="456.39" cy="220.38" rx="1.59" ry="1.75"/><ellipse cx="461.04" cy="219.02" rx="2.24" ry="2.29"/><ellipse cx="282" cy="225.03" rx="1.52" ry="2.04"/><ellipse cx="286.47" cy="224.83" rx="1.53" ry="1.72"/><ellipse cx="333.29" cy="225.12" rx="1.62" ry="1.62"/><ellipse cx="393.02" cy="224.48" rx="1.95" ry="2.11"/><ellipse cx="412.73" cy="226.66" rx="2" ry="1.47"/><ellipse cx="290.53" cy="230.88" rx="1.7" ry="1.5"/><ellipse cx="390.77" cy="231.14" rx="2.11" ry="1.88"/><ellipse cx="415.11" cy="230.32" rx="2.32" ry="2.21"/><ellipse cx="462.56" cy="231.71" rx="1.71" ry="1.73"/><ellipse cx="320.05" cy="238.35" rx="1.87" ry="2.06"/><ellipse cx="327.35" cy="237.71" rx="1.5" ry="1.81"/><ellipse cx="354.29" cy="237.63" rx="1.73" ry="2.03"/><ellipse cx="426.84" cy="237.79" rx="1.55" ry="2.24"/><ellipse cx="316.51" cy="241.82" rx="1.34" ry="1.41"/><ellipse cx="337.3" cy="243.89" rx="1.37" ry="1.92"/><ellipse cx="344.32" cy="242.15" rx="2.37" ry="2.17"/><ellipse cx="396.97" cy="244.06" rx="2.22" ry="2.44"/><ellipse cx="415.91" cy="242.18" rx="1.54" ry="1.94"/><ellipse cx="307.8" cy="250.01" rx="2.2" ry="1.88"/><ellipse cx="380.6" cy="249.99" rx="1.95" ry="1.73"/><ellipse cx="387.05" cy="250.01" rx="1.98" ry="1.39"/><ellipse cx="412.84" cy="249.41" rx="2.37" ry="2.4"/><ellipse cx="439.96" cy="249.84" rx="1.94" ry="1.53"/><ellipse cx="472.67" cy="249.68" rx="1.55" ry="2.08"/><ellipse cx="317.66" cy="255.12" rx="2.07" ry="2.09"/><ellipse cx="323.38" cy="255.55" rx="1.3" ry="1.92"/><ellipse cx="329.45" cy="255.68" rx="1.92" ry="1.56"/><ellipse cx="335.61" cy="254.08" rx="1.77" ry="2.16"/><ellipse cx="356.56" cy="255.48" rx="2.14" ry="1.87"/><ellipse cx="388.81" cy="253.7" rx="1.64" ry="1.57"/><ellipse cx="397.22" cy="254.72" rx="1.36" ry="1.56"/><ellipse cx="401.85" cy="253.7" rx="1.5" ry="2.11"/><ellipse cx="408.27" cy="254.37" rx="1.71" ry="1.9"/><ellipse cx="416.83" cy="255.59" rx="1.66" ry="2.15"/><ellipse cx="421.83" cy="254.43" rx="2.44" ry="1.74"/><ellipse cx="435.38" cy="255.3" rx="1.52" ry="2.04"/><ellipse cx="280.92" cy="260.06" rx="2.16" ry="2.06"/><ellipse cx="365.41" cy="260.14" rx="2.25" ry="2.15"/><ellipse cx="392.03" cy="259.91" rx="1.67" ry="1.99"/><ellipse cx="405.67" cy="260.25" rx="2.29" ry="1.84"/><ellipse cx="439.04" cy="260.99" rx="1.74" ry="1.75"/><ellipse cx="452.95" cy="259.76" rx="1.44" ry="1.84"/><ellipse cx="283.74" cy="265.33" rx="1.92" ry="2.11"/><ellipse cx="310.83" cy="264.72" rx="1.78" ry="2.13"/><ellipse cx="362.28" cy="264.79" rx="1.82" ry="2.03"/><ellipse cx="369.48" cy="265.98" rx="2.33" ry="1.9"/><ellipse cx="395.69" cy="265.38" rx="2.2" ry="2.38"/><ellipse cx="408.25" cy="266.28" rx="2.36" ry="2.17"/><ellipse cx="428.73" cy="267.21" rx="1.92" ry="2.4"/><ellipse cx="456.69" cy="266.69" rx="1.93" ry="1.51"/><ellipse cx="312.74" cy="271.76" rx="1.83" ry="1.64"/><ellipse cx="345.89" cy="271.18" rx="2.2" ry="1.64"/><ellipse cx="359.56" cy="271.5" rx="2.6" ry="2.48"/><ellipse cx="372.85" cy="272.31" rx="2.34" ry="2.04"/><ellipse cx="393.8" cy="272.85" rx="1.93" ry="2.08"/><ellipse cx="438.67" cy="270.77" rx="1.72" ry="2.2"/><ellipse cx="444.77" cy="271.78" rx="2.13" ry="2.32"/><ellipse cx="458.2" cy="271.12" rx="1.95" ry="1.91"/><ellipse cx="466.82" cy="271.19" rx="2.1" ry="2.09"/><ellipse cx="291.77" cy="277.23" rx="1.62" ry="1.7"/><ellipse cx="309.96" cy="278.68" rx="1.94" ry="2.24"/><ellipse cx="324.69" cy="277.06" rx="2.2" ry="2.39"/><ellipse cx="344.53" cy="276.76" rx="1.79" ry="1.86"/><ellipse cx="356.22" cy="277.44" rx="2.19" ry="1.71"/><ellipse cx="369.96" cy="277.94" rx="2.16" ry="1.92"/><ellipse cx="389.25" cy="277.15" rx="1.94" ry="2"/><ellipse cx="429.65" cy="277.82" rx="1.93" ry="1.96"/><ellipse cx="463.26" cy="278.49" rx="2.47" ry="2.51"/><ellipse cx="312.69" cy="284.44" rx="1.66" ry="1.88"/><ellipse cx="320.55" cy="282.54" rx="2.43" ry="2.12"/><ellipse cx="334.1" cy="282.45" rx="1.95" ry="1.78"/><ellipse cx="346.03" cy="283.84" rx="1.89" ry="1.98"/><ellipse cx="359.34" cy="284.49" rx="1.59" ry="1.34"/><ellipse cx="365.72" cy="283.87" rx="1.86" ry="1.64"/><ellipse cx="372.13" cy="283.15" rx="1.76" ry="1.39"/><ellipse cx="413.99" cy="281.9" rx="2.04" ry="1.57"/><ellipse cx="445.04" cy="282.03" rx="1.98" ry="2.2"/><ellipse cx="465.61" cy="283.79" rx="2.01" ry="1.58"/><ellipse cx="284.7" cy="287.73" rx="2.15" ry="1.84"/><ellipse cx="350.91" cy="288.96" rx="2.25" ry="2.1"/><ellipse cx="388.49" cy="289.05" rx="1.55" ry="1.76"/><ellipse cx="408.39" cy="287.94" rx="1.47" ry="1.5"/><ellipse cx="421.35" cy="288.9" rx="1.91" ry="2.55"/><ellipse cx="455.52" cy="289.63" rx="2.06" ry="1.7"/><ellipse cx="463.48" cy="289.43" rx="1.71" ry="1.77"/><ellipse cx="299.25" cy="293.83" rx="1.79" ry="1.71"/><ellipse cx="306.05" cy="293.79" rx="1.9" ry="2.34"/><ellipse cx="314.05" cy="294.37" rx="2.44" ry="2.15"/><ellipse cx="327.73" cy="294.07" rx="1.74" ry="2.5"/><ellipse cx="334.71" cy="294.98" rx="2.14" ry="2.03"/><ellipse cx="353.53" cy="295.09" rx="1.78" ry="1.63"/><ellipse cx="387.13" cy="295.29" rx="2.13" ry="1.9"/><ellipse cx="393.31" cy="294.24" rx="1.7" ry="2.02"/><ellipse cx="412.64" cy="294.71" rx="1.82" ry="1.94"/><ellipse cx="424.9" cy="295.07" rx="1.87" ry="1.76"/><ellipse cx="432.27" cy="293.85" rx="1.39" ry="1.72"/><ellipse cx="438.95" cy="294.35" rx="1.94" ry="2.17"/><ellipse cx="446.22" cy="294.88" rx="1.73" ry="2.2"/><ellipse cx="452.02" cy="293.52" rx="1.85" ry="1.63"/><ellipse cx="465.87" cy="295.5" rx="1.5" ry="1.55"/><ellipse cx="282.93" cy="301.61" rx="2.4" ry="2.32"/><ellipse cx="401.53" cy="300.51" rx="1.86" ry="1.73"/><ellipse cx="414.91" cy="299.16" rx="2.03" ry="1.88"/><ellipse cx="469.8" cy="299.84" rx="1.96" ry="2.19"/><ellipse cx="286.53" cy="306.54" rx="1.95" ry="1.7"/><ellipse cx="312.65" cy="306.84" rx="2.23" ry="2.04"/><ellipse cx="327.93" cy="305.88" rx="1.44" ry="1.59"/><ellipse cx="333.74" cy="306.27" rx="2.29" ry="1.71"/><ellipse cx="347.12" cy="305.37" rx="2.12" ry="1.78"/><ellipse cx="360.93" cy="307.33" rx="1.86" ry="1.7"/><ellipse cx="378.83" cy="305.08" rx="1.48" ry="1.81"/><ellipse cx="385.75" cy="305.6" rx="1.63" ry="2.08"/><ellipse cx="411.72" cy="305.43" rx="1.37" ry="1.65"/><ellipse cx="457.98" cy="305.75" rx="1.68" ry="2.19"/><ellipse cx="369.8" cy="310.92" rx="2.25" ry="2.17"/><ellipse cx="428.01" cy="311.73" rx="2.59" ry="2.18"/><ellipse cx="287.73" cy="317.15" rx="1.64" ry="1.81"/><ellipse cx="332.88" cy="318.2" rx="1.94" ry="1.99"/><ellipse cx="354.56" cy="318.43" rx="1.92" ry="1.93"/><ellipse cx="360.51" cy="316.37" rx="1.65" ry="1.62"/><ellipse cx="398.87" cy="317.95" rx="1.89" ry="1.82"/><ellipse cx="418.36" cy="318.21" rx="2.09" ry="1.95"/><ellipse cx="439.47" cy="318.96" rx="2.47" ry="2.06"/><ellipse cx="445.87" cy="316.69" rx="1.78" ry="1.65"/><ellipse cx="457.64" cy="317.67" rx="1.57" ry="1.72"/><ellipse cx="464.48" cy="316.83" rx="2.32" ry="2.13"/><ellipse cx="336.64" cy="323.47" rx="1.98" ry="1.87"/><ellipse cx="349.26" cy="323.37" rx="1.57" ry="2.11"/><ellipse cx="381.8" cy="323.23" rx="1.86" ry="1.55"/><ellipse cx="428.14" cy="323.69" rx="2.18" ry="2.1"/><ellipse cx="301.67" cy="328.03" rx="1.88" ry="1.97"/><ellipse cx="307.48" cy="329.99" rx="1.53" ry="1.38"/><ellipse cx="320.3" cy="329.39" rx="1.8" ry="1.79"/><ellipse cx="413.25" cy="330.32" rx="1.7" ry="2.3"/><ellipse cx="445.2" cy="329.07" rx="2.49" ry="2.41"/><ellipse cx="323.5" cy="335.77" rx="2.29" ry="1.97"/><ellipse cx="343.5" cy="334.59" rx="1.85" ry="2.38"/><ellipse cx="362.07" cy="334.2" rx="2.39" ry="2.3"/><ellipse cx="377.11" cy="333.65" rx="1.89" ry="1.76"/><ellipse cx="389.95" cy="334.12" rx="2.21" ry="2.36"/><ellipse cx="423.29" cy="336.2" rx="1.67" ry="1.37"/><ellipse cx="428.49" cy="334.67" rx="1.54" ry="1.7"/><ellipse cx="442.9" cy="335.48" rx="1.36" ry="1.62"/><ellipse cx="280.01" cy="341.12" rx="1.96" ry="2.07"/><ellipse cx="286.85" cy="340.06" rx="2.25" ry="2.31"/><ellipse cx="300.75" cy="341.07" rx="1.59" ry="1.52"/><ellipse cx="305.98" cy="339.83" rx="1.97" ry="1.79"/><ellipse cx="359.72" cy="341.76" rx="1.54" ry="1.61"/><ellipse cx="453.38" cy="339.31" rx="1.83" ry="1.66"/><ellipse cx="459.3" cy="340.42" rx="1.92" ry="2.34"/><ellipse cx="303.28" cy="345.86" rx="1.88" ry="1.63"/><ellipse cx="330.6" cy="346.47" rx="2.18" ry="1.75"/><ellipse cx="343.2" cy="347.51" rx="2.28" ry="2.03"/><ellipse cx="350.31" cy="345.62" rx="1.69" ry="2.01"/><ellipse cx="442.07" cy="345.35" rx="1.91" ry="2.35"/><ellipse cx="448.97" cy="345.25" rx="1.6" ry="2.06"/></g>
<g fill="#444444"><ellipse cx="306.64" cy="213.34" rx="2.29" ry="2.04"/><ellipse cx="314.48" cy="214.92" rx="2.37" ry="2.39"/><ellipse cx="319.41" cy="214.97" rx="2" ry="2.05"/><ellipse cx="326.9" cy="215.18" rx="2.09" ry="2.1"/><ellipse cx="340.82" cy="214.25" rx="2" ry="2.02"/><ellipse cx="392.87" cy="213.79" rx="2.01" ry="1.58"/><ellipse cx="471.3" cy="215.03" rx="2.36" ry="1.73"/><ellipse cx="311.61" cy="219.1" rx="1.81" ry="2.09"/><ellipse cx="318.14" cy="220.93" rx="1.59" ry="1.77"/><ellipse cx="376.14" cy="220.48" rx="2.3" ry="1.76"/><ellipse cx="423.06" cy="220.8" rx="1.81" ry="1.83"/><ellipse cx="429.66" cy="219.13" rx="1.75" ry="1.42"/><ellipse cx="441.28" cy="220.9" rx="1.89" ry="1.99"/><ellipse cx="467.68" cy="219.93" rx="1.66" ry="1.56"/><ellipse cx="293.32" cy="226.36" rx="2.02" ry="2.14"/><ellipse cx="313.21" cy="225.46" rx="1.84" ry="1.89"/><ellipse cx="341.26" cy="226.17" rx="2.25" ry="1.71"/><ellipse cx="347.44" cy="224.81" rx="2.18" ry="1.79"/><ellipse cx="360.13" cy="225.89" rx="2.62" ry="2.49"/><ellipse cx="378.45" cy="225.59" rx="2.05" ry="2.47"/><ellipse cx="419.12" cy="225.59" rx="2.06" ry="2.07"/><ellipse cx="459.76" cy="226.31" rx="2.05" ry="1.82"/><ellipse cx="283.81" cy="230.55" rx="1.96" ry="1.96"/><ellipse cx="309.6" cy="231.03" rx="1.62" ry="1.95"/><ellipse cx="323.88" cy="231.2" rx="1.7" ry="1.91"/><ellipse cx="343.78" cy="231.69" rx="1.58" ry="2.07"/><ellipse cx="356.69" cy="232.36" rx="1.95" ry="1.77"/><ellipse cx="436.31" cy="230.42" rx="2.18" ry="1.88"/><ellipse cx="469.53" cy="231.14" rx="1.61" ry="1.9"/><ellipse cx="293.8" cy="238.46" rx="1.99" ry="2.06"/><ellipse cx="299.49" cy="237.53" rx="1.94" ry="2.34"/><ellipse cx="333.03" cy="236.78" rx="2.03" ry="2.16"/><ellipse cx="339.84" cy="238.37" rx="1.56" ry="1.51"/><ellipse cx="398.21" cy="238.26" rx="1.83" ry="1.76"/><ellipse cx="451.88" cy="236.34" rx="1.67" ry="1.35"/><ellipse cx="284.99" cy="243.45" rx="1.83" ry="1.41"/><ellipse cx="363.37" cy="242.36" rx="1.91" ry="2.01"/><ellipse cx="389.43" cy="241.77" rx="2.03" ry="1.64"/><ellipse cx="437.03" cy="243.22" rx="1.53" ry="1.92"/><ellipse cx="455.06" cy="242.01" rx="1.6" ry="1.87"/><ellipse cx="462.63" cy="243.46" rx="1.92" ry="1.78"/><ellipse cx="320.69" cy="248.05" rx="1.68" ry="1.94"/><ellipse cx="345.92" cy="249.65" rx="1.37" ry="1.37"/><ellipse cx="405.99" cy="248.57" rx="2.17" ry="2.21"/><ellipse cx="426.91" cy="248.07" rx="1.36" ry="1.69"/><ellipse cx="450.99" cy="247.98" rx="1.99" ry="2.07"/><ellipse cx="296.38" cy="253.34" rx="2.05" ry="2.15"/><ellipse cx="302.66" cy="253.61" rx="1.61" ry="2.17"/><ellipse cx="343.37" cy="254.63" rx="1.87" ry="2.12"/><ellipse cx="349.82" cy="254.2" rx="2.2" ry="1.85"/><ellipse cx="364.31" cy="255.78" rx="1.93" ry="2.14"/><ellipse cx="375.85" cy="255.72" rx="1.57" ry="1.5"/><ellipse cx="442.48" cy="254.07" rx="2.34" ry="1.83"/><ellipse cx="449.68" cy="254.37" rx="2.03" ry="1.84"/><ellipse cx="454.36" cy="254.29" rx="1.67" ry="2.21"/><ellipse cx="287.51" cy="261.5" rx="1.65" ry="2.13"/><ellipse cx="300.76" cy="260.91" rx="1.97" ry="2.19"/><ellipse cx="325.77" cy="261.14" rx="1.91" ry="1.45"/><ellipse cx="338.85" cy="260.36" rx="1.61" ry="2.03"/><ellipse cx="347.25" cy="259.68" rx="2.14" ry="1.96"/><ellipse cx="354.62" cy="261.45" rx="2.13" ry="1.51"/><ellipse cx="372.82" cy="261.12" rx="2.04" ry="2.04"/><ellipse cx="387.37" cy="259.48" rx="1.41" ry="1.67"/><ellipse cx="412.02" cy="260.37" rx="1.96" ry="2.36"/><ellipse cx="425.85" cy="260.48" rx="1.74" ry="1.96"/><ellipse cx="445.92" cy="261.38" rx="2.18" ry="1.59"/><ellipse cx="289.49" cy="267.09" rx="2.07" ry="1.57"/><ellipse cx="331.35" cy="266.13" rx="1.77" ry="2.01"/><ellipse cx="383.71" cy="265.85" rx="2.06" ry="2.38"/><ellipse cx="389.12" cy="266.28" rx="2.09" ry="1.83"/><ellipse cx="403.22" cy="264.87" rx="1.84" ry="2.21"/><ellipse cx="415.47" cy="266.96" rx="2.26" ry="2.14"/><ellipse cx="450.01" cy="267.27" rx="1.74" ry="1.46"/><ellipse cx="461.66" cy="264.69" rx="1.52" ry="1.54"/><ellipse cx="469.33" cy="266.67" rx="1.91" ry="1.79"/><ellipse cx="288.44" cy="270.65" rx="1.51" ry="1.53"/><ellipse cx="300.94" cy="271.94" rx="1.93" ry="1.78"/><ellipse cx="365.74" cy="272.05" rx="1.9" ry="2.14"/><ellipse cx="398.8" cy="271.54" rx="2.44" ry="1.92"/><ellipse cx="425.1" cy="271.16" rx="1.38" ry="1.69"/><ellipse cx="473.24" cy="272.2" rx="2.16" ry="1.82"/><ellipse cx="304.49" cy="278.38" rx="1.82" ry="1.75"/><ellipse cx="330.26" cy="276.69" rx="1.85" ry="1.82"/><ellipse cx="349.19" cy="277.66" rx="1.78" ry="1.67"/><ellipse cx="362.38" cy="278.55" rx="2" ry="1.56"/><ellipse cx="402.88" cy="278.49" rx="1.6" ry="2.22"/><ellipse cx="417.2" cy="278.6" rx="1.54" ry="1.85"/><ellipse cx="435.05" cy="278.3" rx="1.93" ry="1.42"/><ellipse cx="450.22" cy="276.92" rx="1.71" ry="1.69"/><ellipse cx="468.54" cy="277.45" rx="1.61" ry="1.73"/><ellipse cx="280.24" cy="284.24" rx="1.53" ry="1.95"/><ellipse cx="294.24" cy="281.99" rx="1.81" ry="2.01"/><ellipse cx="301.26" cy="283.48" rx="2" ry="2.4"/><ellipse cx="338.99" cy="283.64" rx="1.86" ry="1.75"/><ellipse cx="352.16" cy="282.63" rx="1.57" ry="1.61"/><ellipse cx="385.17" cy="282.63" rx="1.8" ry="1.94"/><ellipse cx="472.37" cy="283.22" rx="2.11" ry="1.8"/><ellipse cx="291.9" cy="288.41" rx="1.39" ry="1.47"/><ellipse cx="296.22" cy="289.57" rx="1.66" ry="1.83"/><ellipse cx="303.9" cy="288.03" rx="1.66" ry="1.69"/><ellipse cx="311.04" cy="289.43" rx="1.41" ry="1.56"/><ellipse cx="316.48" cy="288.57" rx="2.42" ry="2.35"/><ellipse cx="324.71" cy="289.79" rx="2.2" ry="1.89"/><ellipse cx="382.87" cy="289.21" rx="1.82" ry="2.24"/><ellipse cx="416.06" cy="288.32" rx="1.62" ry="1.79"/><ellipse cx="428.53" cy="287.93" rx="1.98" ry="2.18"/><ellipse cx="447.89" cy="289.44" rx="1.96" ry="1.99"/><ellipse cx="318.99" cy="295.36" rx="1.93" ry="2.29"/><ellipse cx="340.98" cy="294.7" rx="1.52" ry="1.67"/><ellipse cx="358.72" cy="295.12" rx="2.39" ry="2.5"/><ellipse cx="365.87" cy="294.84" rx="1.52" ry="2.03"/><ellipse cx="304.29" cy="300.35" rx="2.27" ry="2.53"/><ellipse cx="315.81" cy="300.77" rx="1.79" ry="2.28"/><ellipse cx="323.89" cy="300.35" rx="1.85" ry="2.45"/><ellipse cx="363.47" cy="300.86" rx="2.07" ry="1.69"/><ellipse cx="377.44" cy="300.88" rx="2.49" ry="1.82"/><ellipse cx="388.44" cy="301.26" rx="1.69" ry="1.32"/><ellipse cx="436" cy="300.33" rx="2.48" ry="2.38"/><ellipse cx="279.68" cy="306.37" rx="2.4" ry="2.35"/><ellipse cx="292.74" cy="306.03" rx="2.26" ry="2.26"/><ellipse cx="306" cy="305.82" rx="1.88" ry="1.3"/><ellipse cx="339.15" cy="306.56" rx="2.08" ry="1.58"/><ellipse cx="393.92" cy="305.87" rx="1.67" ry="1.79"/><ellipse cx="432.16" cy="304.86" rx="2.25" ry="1.82"/><ellipse cx="440.18" cy="305.18" rx="1.69" ry="1.93"/><ellipse cx="444.77" cy="306.97" rx="2.19" ry="1.84"/><ellipse cx="465.45" cy="306.92" rx="2.33" ry="1.96"/><ellipse cx="472.57" cy="306.29" rx="1.75" ry="1.49"/><ellipse cx="290.22" cy="310.92" rx="2.17" ry="2.4"/><ellipse cx="296.55" cy="310.83" rx="2.36" ry="1.9"/><ellipse cx="304.99" cy="312.22" rx="1.65" ry="1.64"/><ellipse cx="311.65" cy="312.59" rx="1.71" ry="1.96"/><ellipse cx="335.64" cy="311.27" rx="1.92" ry="1.97"/><ellipse cx="396.64" cy="312.71" rx="2.26" ry="1.79"/><ellipse cx="416.84" cy="311.9" rx="1.82" ry="1.79"/><ellipse cx="456.02" cy="311.3" rx="1.59" ry="1.6"/><ellipse cx="308.1" cy="317.96" rx="1.98" ry="1.81"/><ellipse cx="320.99" cy="318.65" rx="1.75" ry="1.94"/><ellipse cx="340.52" cy="316.34" rx="2" ry="1.84"/><ellipse cx="347.68" cy="317.72" rx="2.18" ry="2.22"/><ellipse cx="365.66" cy="316.74" rx="2.24" ry="2.53"/><ellipse cx="380.54" cy="317.4" rx="1.8" ry="1.69"/><ellipse cx="426.87" cy="316.94" rx="2.02" ry="1.65"/><ellipse cx="452.33" cy="318.46" rx="2.02" ry="1.8"/><ellipse cx="290.55" cy="323.56" rx="1.89" ry="2.56"/><ellipse cx="297.69" cy="322.88" rx="2.32" ry="2.38"/><ellipse cx="303.97" cy="322.56" rx="2.24" ry="2.13"/><ellipse cx="309.76" cy="323.31" rx="2.5" ry="2.3"/><ellipse cx="330.96" cy="322.74" rx="2.2" ry="2.4"/><ellipse cx="344.07" cy="323.4" rx="1.97" ry="1.68"/><ellipse cx="402.5" cy="324.31" rx="1.99" ry="1.68"/><ellipse cx="408.52" cy="324.29" rx="2.19" ry="2.5"/><ellipse cx="455.11" cy="324.7" rx="1.81" ry="1.86"/><ellipse cx="461.9" cy="323.26" rx="1.56" ry="1.61"/><ellipse cx="281.85" cy="329.81" rx="1.92" ry="1.61"/><ellipse cx="288.4" cy="328.79" rx="2.21" ry="2.04"/><ellipse cx="327.77" cy="328.81" rx="1.66" ry="1.54"/><ellipse cx="354.53" cy="330.32" rx="1.94" ry="1.92"/><ellipse cx="404.79" cy="330.25" rx="2.02" ry="1.96"/><ellipse cx="472.6" cy="328.59" rx="1.72" ry="1.81"/><ellipse cx="284.38" cy="335.32" rx="1.74" ry="1.96"/><ellipse cx="289.41" cy="333.69" rx="1.83" ry="2.39"/><ellipse cx="349.96" cy="335.96" rx="1.77" ry="1.72"/><ellipse cx="383.9" cy="333.57" rx="2.16" ry="1.99"/><ellipse cx="397.02" cy="334.56" rx="1.37" ry="1.4"/><ellipse cx="402.42" cy="334.95" rx="1.7" ry="1.63"/><ellipse cx="462.43" cy="334.11" rx="1.68" ry="2.4"/><ellipse cx="313.79" cy="341.14" rx="1.81" ry="1.97"/><ellipse cx="341" cy="339.92" rx="1.91" ry="1.6"/><ellipse cx="354.03" cy="339.46" rx="2.21" ry="2.24"/><ellipse cx="366.48" cy="341.78" rx="1.98" ry="1.92"/><ellipse cx="392.06" cy="340.39" rx="2.1" ry="1.93"/><ellipse cx="406.78" cy="340.02" rx="1.98" ry="1.99"/><ellipse cx="412.59" cy="340.49" rx="1.76" ry="1.91"/><ellipse cx="433.81" cy="339.88" rx="2.07" ry="2.02"/><ellipse cx="446.16" cy="340.3" rx="1.75" ry="1.77"/><ellipse cx="297.02" cy="347.23" rx="1.53" ry="1.79"/><ellipse cx="363.57" cy="345.34" rx="2.16" ry="2.41"/><ellipse cx="376.22" cy="345.4" rx="2.5" ry="2.15"/><ellipse cx="383.18" cy="345.93" rx="1.87" ry="1.62"/><ellipse cx="415.78" cy="347.01" rx="1.34" ry="1.7"/><ellipse cx="455.47" cy="345.07" rx="1.65" ry="2.18"/><ellipse cx="463.05" cy="346.94" rx="1.72" ry="2.53"/></g>
</g>
<rect x="284" y="345.4" width="183" height="9" fill="#050505" stroke="none" stroke-width="1" />
<text x="286.2" y="352.2" font-size="5.7" text-anchor="start" fill="#d4d4d4" >GIEC17-987 2.0kV 4.0mm x50.0k SE(M) 10/25/2017 16:16</text>
<text x="464" y="352.2" font-size="5.6" text-anchor="end" fill="#cfcfcf" >1.00um</text>
<path d="M463,346v1.4M454.8,346v1.4M446.6,346v1.4M438.4,346v1.4M430.2,346v1.4M422,346v1.4M413.8,346v1.4M405.6,346v1.4M397.4,346v1.4M389.2,346v1.4M381,346v1.4" stroke="#cfcfcf" stroke-width="0.8"/>
<clipPath id="sem3"><rect x="517.2" y="215.5" width="185.8" height="130.3"/></clipPath>
<rect x="517.2" y="215.5" width="185.8" height="130.3" fill="#a0a0a0" stroke="none" stroke-width="1" />
<g clip-path="url(#sem3)">
<g fill="#dcdcdc"><ellipse cx="513.03" cy="212.17" rx="2.78" ry="2.8"/><ellipse cx="521.78" cy="211.97" rx="2.92" ry="3.33"/><ellipse cx="527.48" cy="212.43" rx="3" ry="3.16"/><ellipse cx="533.11" cy="212.82" rx="3.41" ry="2.79"/><ellipse cx="541.27" cy="212.65" rx="3.43" ry="3.61"/><ellipse cx="548.1" cy="213.25" rx="2.78" ry="2.81"/><ellipse cx="554.97" cy="212.4" rx="2.88" ry="2.79"/><ellipse cx="561.79" cy="211.31" rx="3.14" ry="2.5"/><ellipse cx="569.42" cy="211.12" rx="3.76" ry="3.71"/><ellipse cx="576.28" cy="212.42" rx="3.18" ry="3.05"/><ellipse cx="584.1" cy="210.91" rx="3.06" ry="2.84"/><ellipse cx="590.68" cy="210.79" rx="2.69" ry="3.22"/><ellipse cx="596.56" cy="213.43" rx="2.35" ry="2.72"/><ellipse cx="604.75" cy="211.47" rx="2.98" ry="3.18"/><ellipse cx="611.62" cy="213.14" rx="3.1" ry="3.14"/><ellipse cx="617.75" cy="210.95" rx="3.75" ry="3.28"/><ellipse cx="623.43" cy="211.5" rx="3.05" ry="3.08"/><ellipse cx="632.4" cy="211.54" rx="3.19" ry="2.85"/><ellipse cx="637.86" cy="212.54" rx="2.82" ry="2.84"/><ellipse cx="646.11" cy="210.73" rx="3.19" ry="2.95"/><ellipse cx="651.37" cy="211.53" rx="3" ry="2.79"/><ellipse cx="659.95" cy="212.56" rx="2.71" ry="2.82"/><ellipse cx="664.69" cy="211.87" rx="2.78" ry="2.96"/><ellipse cx="672.28" cy="213.03" rx="3.07" ry="3.28"/><ellipse cx="678.72" cy="212.84" rx="3.36" ry="2.94"/><ellipse cx="685.38" cy="211.44" rx="3.29" ry="3.43"/><ellipse cx="692.93" cy="212.1" rx="3.13" ry="3.27"/><ellipse cx="699.8" cy="213.21" rx="2.83" ry="3.47"/><ellipse cx="706.77" cy="213.29" rx="3.36" ry="3.81"/><ellipse cx="517.88" cy="219.33" rx="3.68" ry="3.66"/><ellipse cx="523.05" cy="217.35" rx="2.8" ry="2.61"/><ellipse cx="531.21" cy="216.71" rx="3.1" ry="3.2"/><ellipse cx="538" cy="216.82" rx="3.36" ry="3.37"/><ellipse cx="544.74" cy="218.83" rx="3.02" ry="3.26"/><ellipse cx="550.98" cy="217.43" rx="3.01" ry="3.68"/><ellipse cx="559.6" cy="216.81" rx="2.74" ry="2.93"/><ellipse cx="565.01" cy="218.93" rx="3.22" ry="2.61"/><ellipse cx="573.71" cy="219.03" rx="2.72" ry="2.6"/><ellipse cx="578.98" cy="217.75" rx="2.76" ry="3.28"/><ellipse cx="586.35" cy="218.65" rx="2.63" ry="2.7"/><ellipse cx="593.51" cy="218.17" rx="2.5" ry="3.17"/><ellipse cx="599.99" cy="218.61" rx="3.01" ry="2.84"/><ellipse cx="606.27" cy="218.3" rx="2.71" ry="2.63"/><ellipse cx="613.45" cy="219.15" rx="2.81" ry="2.97"/><ellipse cx="621.15" cy="219.12" rx="3.46" ry="3.52"/><ellipse cx="628.46" cy="218.65" rx="2.9" ry="3.02"/><ellipse cx="633.39" cy="219.1" rx="2.31" ry="2.87"/><ellipse cx="641.88" cy="218.98" rx="3.11" ry="3.3"/><ellipse cx="648.33" cy="218.65" rx="2.71" ry="2.84"/><ellipse cx="656.22" cy="217.17" rx="3.14" ry="2.91"/><ellipse cx="662.8" cy="217.76" rx="2.89" ry="2.85"/><ellipse cx="668.66" cy="217.32" rx="3.59" ry="3.7"/><ellipse cx="676.61" cy="218.53" rx="3.38" ry="3.51"/><ellipse cx="681.87" cy="218.05" rx="3.3" ry="3.49"/><ellipse cx="688.7" cy="218.75" rx="3.15" ry="3.43"/><ellipse cx="697.85" cy="217.49" rx="3.21" ry="3.57"/><ellipse cx="704.57" cy="217.52" rx="3.23" ry="2.8"/><ellipse cx="513.26" cy="224.81" rx="3.29" ry="2.94"/><ellipse cx="520.87" cy="225.16" rx="2.51" ry="3.28"/><ellipse cx="528.33" cy="225.11" rx="3.2" ry="3.19"/><ellipse cx="533.26" cy="223.28" rx="2.97" ry="2.88"/><ellipse cx="541.92" cy="225.05" rx="3" ry="3.52"/><ellipse cx="547.12" cy="224.88" rx="2.38" ry="2.81"/><ellipse cx="555.37" cy="224.54" rx="2.69" ry="2.75"/><ellipse cx="562.45" cy="224.72" rx="3.09" ry="3.23"/><ellipse cx="569.41" cy="222.99" rx="4" ry="3.31"/><ellipse cx="576.34" cy="223.69" rx="3.51" ry="3.52"/><ellipse cx="581.67" cy="225.28" rx="3.17" ry="3.14"/><ellipse cx="589.24" cy="224.66" rx="3.37" ry="3.06"/><ellipse cx="595.58" cy="223.7" rx="3.36" ry="3.06"/><ellipse cx="603.85" cy="224.47" rx="2.89" ry="2.81"/><ellipse cx="610.92" cy="222.97" rx="2.87" ry="2.88"/><ellipse cx="616.6" cy="223.73" rx="2.75" ry="3.15"/><ellipse cx="623.75" cy="223.59" rx="2.97" ry="3.14"/><ellipse cx="630.09" cy="224.3" rx="2.98" ry="3.26"/><ellipse cx="637.09" cy="223.83" rx="3.57" ry="3.52"/><ellipse cx="645.84" cy="224.88" rx="3.14" ry="3.14"/><ellipse cx="652.53" cy="222.76" rx="3.52" ry="3.57"/><ellipse cx="659.77" cy="223.53" rx="3.41" ry="3.54"/><ellipse cx="665.51" cy="224.34" rx="2.95" ry="3.57"/><ellipse cx="671.55" cy="224.4" rx="3.34" ry="2.95"/><ellipse cx="680.58" cy="222.98" rx="3.06" ry="2.7"/><ellipse cx="686.59" cy="222.82" rx="2.85" ry="2.74"/><ellipse cx="692.66" cy="225.08" rx="2.99" ry="3.58"/><ellipse cx="700.65" cy="224.72" rx="3.49" ry="3.58"/><ellipse cx="707.5" cy="223.29" rx="3.44" ry="3.17"/><ellipse cx="516.26" cy="230.05" rx="3.36" ry="3.26"/><ellipse cx="522.78" cy="229.94" rx="2.83" ry="2.85"/><ellipse cx="530.63" cy="229.7" rx="2.83" ry="2.55"/><ellipse cx="537.23" cy="229.7" rx="3" ry="2.68"/><ellipse cx="544.53" cy="229.14" rx="2.56" ry="2.59"/><ellipse cx="552.64" cy="229.79" rx="2.47" ry="2.96"/><ellipse cx="558.31" cy="228.75" rx="3.12" ry="3.01"/><ellipse cx="565.04" cy="229" rx="3.28" ry="3.46"/><ellipse cx="573.2" cy="231.33" rx="3.02" ry="2.62"/><ellipse cx="578.8" cy="228.84" rx="2.47" ry="2.86"/><ellipse cx="585.07" cy="229.15" rx="2.82" ry="3.21"/><ellipse cx="594.2" cy="230.77" rx="3.1" ry="3.01"/><ellipse cx="599.46" cy="230.35" rx="3.26" ry="3.44"/><ellipse cx="606.92" cy="230.19" rx="3.58" ry="3.29"/><ellipse cx="613.48" cy="231.27" rx="2.74" ry="3.19"/><ellipse cx="621.47" cy="230.01" rx="2.81" ry="3.19"/><ellipse cx="628.14" cy="231.3" rx="2.84" ry="3.22"/><ellipse cx="635.21" cy="230.55" rx="2.79" ry="3.19"/><ellipse cx="642.43" cy="229.92" rx="3.44" ry="3.1"/><ellipse cx="647.46" cy="230.85" rx="3.17" ry="3.15"/><ellipse cx="654.4" cy="230.58" rx="4.12" ry="3.42"/><ellipse cx="661.35" cy="231.35" rx="3.18" ry="3.08"/><ellipse cx="668.5" cy="231.12" rx="2.91" ry="3.04"/><ellipse cx="676.17" cy="231.05" rx="2.87" ry="2.42"/><ellipse cx="682.03" cy="230.97" rx="3.55" ry="3.64"/><ellipse cx="689.43" cy="230.5" rx="3.05" ry="3.59"/><ellipse cx="695.79" cy="230.17" rx="3.14" ry="2.65"/><ellipse cx="704.2" cy="231.23" rx="2.79" ry="3.13"/><ellipse cx="512.96" cy="235.65" rx="2.95" ry="3.04"/><ellipse cx="520.16" cy="236.75" rx="2.9" ry="3.35"/><ellipse cx="528.74" cy="236.16" rx="3.71" ry="3.67"/><ellipse cx="535.54" cy="237.4" rx="3.48" ry="3.06"/><ellipse cx="540.48" cy="234.95" rx="3.17" ry="3.35"/><ellipse cx="547.41" cy="235.25" rx="2.53" ry="2.85"/><ellipse cx="554.16" cy="235.91" rx="3.29" ry="3.08"/><ellipse cx="561.45" cy="235.72" rx="3.35" ry="3.6"/><ellipse cx="568.88" cy="237.44" rx="2.91" ry="2.45"/><ellipse cx="576.92" cy="236.91" rx="2.44" ry="2.84"/><ellipse cx="583.11" cy="235.09" rx="3.45" ry="2.84"/><ellipse cx="589.25" cy="237.35" rx="2.87" ry="2.82"/><ellipse cx="596.36" cy="235.62" rx="2.73" ry="2.43"/><ellipse cx="603.92" cy="236.06" rx="2.77" ry="2.52"/><ellipse cx="609.43" cy="236.78" rx="3.74" ry="3.57"/><ellipse cx="617.27" cy="236.98" rx="2.61" ry="2.53"/><ellipse cx="622.94" cy="236.93" rx="3.35" ry="3.53"/><ellipse cx="631.09" cy="235.71" rx="2.76" ry="2.58"/><ellipse cx="636.85" cy="236.82" rx="2.74" ry="2.73"/><ellipse cx="643.9" cy="235.55" rx="3.28" ry="3.62"/><ellipse cx="652.06" cy="234.77" rx="3.02" ry="2.98"/><ellipse cx="659.35" cy="235.42" rx="2.74" ry="2.7"/><ellipse cx="665.41" cy="235.54" rx="3.04" ry="3.25"/><ellipse cx="671.82" cy="237.3" rx="3.05" ry="3.12"/><ellipse cx="679.12" cy="235.82" rx="3.51" ry="3.9"/><ellipse cx="686.32" cy="236.73" rx="3.06" ry="3.21"/><ellipse cx="694.46" cy="236.59" rx="3.27" ry="2.88"/><ellipse cx="698.8" cy="235.33" rx="2.83" ry="3.5"/><ellipse cx="707.43" cy="236.47" rx="2.35" ry="2.83"/><ellipse cx="517.61" cy="241.05" rx="2.7" ry="2.45"/><ellipse cx="523.92" cy="241.19" rx="2.41" ry="2.42"/><ellipse cx="530.59" cy="243.21" rx="3" ry="3.49"/><ellipse cx="537.2" cy="241.66" rx="3.22" ry="3.41"/><ellipse cx="545.46" cy="242.15" rx="3.29" ry="3.26"/><ellipse cx="551.54" cy="242.16" rx="3.36" ry="3.69"/><ellipse cx="557.72" cy="243.34" rx="2.81" ry="2.89"/><ellipse cx="565.79" cy="240.84" rx="2.67" ry="2.98"/><ellipse cx="573.21" cy="243.42" rx="2.94" ry="3.13"/><ellipse cx="579.52" cy="241.58" rx="2.98" ry="3.17"/><ellipse cx="585.7" cy="241.67" rx="3.8" ry="3.76"/><ellipse cx="592.51" cy="243.38" rx="2.86" ry="3.13"/><ellipse cx="600.63" cy="241.37" rx="2.77" ry="2.67"/><ellipse cx="608.24" cy="242.14" rx="3.1" ry="2.69"/><ellipse cx="614.57" cy="240.85" rx="3.12" ry="3.62"/><ellipse cx="619.47" cy="242.05" rx="3.07" ry="2.84"/><ellipse cx="627.05" cy="242.08" rx="3.22" ry="3.42"/><ellipse cx="634.49" cy="241.58" rx="2.8" ry="2.76"/><ellipse cx="640.9" cy="241.47" rx="2.87" ry="3.12"/><ellipse cx="647.92" cy="242.68" rx="3.1" ry="3.21"/><ellipse cx="656.25" cy="241.73" rx="3.16" ry="2.7"/><ellipse cx="662.37" cy="240.92" rx="2.96" ry="2.74"/><ellipse cx="668.92" cy="241.07" rx="3.34" ry="3.31"/><ellipse cx="675.72" cy="240.95" rx="3.51" ry="2.98"/><ellipse cx="684.16" cy="240.87" rx="3.08" ry="3.04"/><ellipse cx="689.24" cy="241.84" rx="3.37" ry="2.84"/><ellipse cx="695.36" cy="242.11" rx="3.59" ry="3.36"/><ellipse cx="702.76" cy="241.98" rx="3.69" ry="3.48"/><ellipse cx="515.02" cy="247.31" rx="3.08" ry="3.27"/><ellipse cx="520.98" cy="247.67" rx="3.77" ry="3.73"/><ellipse cx="527.4" cy="248.68" rx="3.68" ry="3.56"/><ellipse cx="535.34" cy="249.28" rx="2.94" ry="2.6"/><ellipse cx="542.05" cy="247.59" rx="3.38" ry="3.24"/><ellipse cx="547.98" cy="247.76" rx="2.88" ry="2.88"/><ellipse cx="555.79" cy="247.26" rx="2.74" ry="2.73"/><ellipse cx="561.26" cy="248.54" rx="2.83" ry="3.29"/><ellipse cx="568.74" cy="247.18" rx="2.92" ry="2.71"/><ellipse cx="575.82" cy="248.29" rx="3.04" ry="2.89"/><ellipse cx="584.09" cy="247.64" rx="3.54" ry="3.27"/><ellipse cx="590.66" cy="247.09" rx="2.74" ry="2.59"/><ellipse cx="596.66" cy="249.07" rx="3.3" ry="3.36"/><ellipse cx="603.79" cy="248.63" rx="3.59" ry="3.59"/><ellipse cx="610.46" cy="249.42" rx="3.16" ry="2.77"/><ellipse cx="617.41" cy="248.8" rx="2.81" ry="2.67"/><ellipse cx="624.32" cy="247.75" rx="3.06" ry="2.91"/><ellipse cx="631.16" cy="247.97" rx="3.55" ry="3.39"/><ellipse cx="637.9" cy="247.24" rx="2.88" ry="2.83"/><ellipse cx="645.87" cy="248.11" rx="2.59" ry="2.74"/><ellipse cx="650.69" cy="249.3" rx="3.37" ry="3.24"/><ellipse cx="658" cy="248.84" rx="3.34" ry="2.97"/><ellipse cx="666.19" cy="249.18" rx="2.8" ry="2.83"/><ellipse cx="671.99" cy="247" rx="2.99" ry="2.91"/><ellipse cx="678.34" cy="249.17" rx="3.06" ry="3.17"/><ellipse cx="685.58" cy="248.19" rx="2.83" ry="2.56"/><ellipse cx="691.77" cy="248.87" rx="3.18" ry="2.82"/><ellipse cx="699.7" cy="246.81" rx="3.11" ry="3.25"/><ellipse cx="706.17" cy="249.32" rx="2.52" ry="2.43"/><ellipse cx="517.67" cy="254.36" rx="2.93" ry="3.26"/><ellipse cx="522.98" cy="254.62" rx="3.23" ry="3.38"/><ellipse cx="531.31" cy="253.42" rx="2.96" ry="3.19"/><ellipse cx="536.54" cy="253.62" rx="3.18" ry="2.8"/><ellipse cx="544.49" cy="254.91" rx="2.99" ry="2.74"/><ellipse cx="550.97" cy="252.71" rx="2.62" ry="2.78"/><ellipse cx="557.54" cy="254.53" rx="2.73" ry="2.94"/><ellipse cx="564.66" cy="254.26" rx="3.26" ry="3.15"/><ellipse cx="571.6" cy="254.31" rx="3.39" ry="2.89"/><ellipse cx="578.2" cy="255.25" rx="2.98" ry="2.83"/><ellipse cx="585.28" cy="253.7" rx="3.05" ry="3.38"/><ellipse cx="593.76" cy="254.82" rx="2.19" ry="2.57"/><ellipse cx="601.02" cy="255.19" rx="2.92" ry="2.68"/><ellipse cx="607.67" cy="254.9" rx="3.14" ry="3.03"/><ellipse cx="615.08" cy="253.22" rx="3.21" ry="3.06"/><ellipse cx="619.7" cy="253.15" rx="3.21" ry="3.69"/><ellipse cx="626.41" cy="254.56" rx="3.33" ry="3.58"/><ellipse cx="634.32" cy="253.64" rx="3.31" ry="3.44"/><ellipse cx="642.08" cy="253.26" rx="2.64" ry="2.79"/><ellipse cx="648.91" cy="254.35" rx="3.53" ry="2.77"/><ellipse cx="654.32" cy="252.96" rx="3.18" ry="3.02"/><ellipse cx="662.31" cy="253.73" rx="3.1" ry="3.48"/><ellipse cx="668.7" cy="254.14" rx="2.8" ry="2.72"/><ellipse cx="676.53" cy="252.98" rx="3.24" ry="3.16"/><ellipse cx="683.11" cy="254" rx="2.53" ry="2.27"/><ellipse cx="690.78" cy="254.9" rx="3.82" ry="3.13"/><ellipse cx="695.56" cy="254.33" rx="3.48" ry="3.97"/><ellipse cx="704.86" cy="253.13" rx="3.41" ry="3.3"/><ellipse cx="514.93" cy="259.39" rx="3.02" ry="2.61"/><ellipse cx="520.05" cy="258.93" rx="3.43" ry="3.41"/><ellipse cx="528.21" cy="258.95" rx="3.14" ry="3.18"/><ellipse cx="534.17" cy="260.09" rx="3.4" ry="3.47"/><ellipse cx="540.17" cy="259.38" rx="2.98" ry="3.54"/><ellipse cx="548.41" cy="259.02" rx="2.56" ry="3.19"/><ellipse cx="556.06" cy="260.15" rx="2.55" ry="2.66"/><ellipse cx="563.15" cy="259.79" rx="2.94" ry="2.9"/><ellipse cx="569.25" cy="259.03" rx="2.58" ry="2.77"/><ellipse cx="574.78" cy="259.57" rx="2.9" ry="2.85"/><ellipse cx="582.59" cy="260.65" rx="3.31" ry="3.16"/><ellipse cx="590.61" cy="260.02" rx="2.95" ry="3.19"/><ellipse cx="597.09" cy="260.71" rx="3.24" ry="3.44"/><ellipse cx="603.37" cy="260.67" rx="3.51" ry="2.91"/><ellipse cx="611" cy="261.35" rx="2.69" ry="2.43"/><ellipse cx="618.29" cy="261.4" rx="2.94" ry="2.76"/><ellipse cx="623.73" cy="260.03" rx="2.89" ry="2.87"/><ellipse cx="629.89" cy="261.15" rx="2.42" ry="2.92"/><ellipse cx="637.49" cy="260.9" rx="3.07" ry="2.86"/><ellipse cx="644.06" cy="260.64" rx="3.49" ry="3.61"/><ellipse cx="652.74" cy="260.63" rx="2.76" ry="3.34"/><ellipse cx="659.61" cy="259.92" rx="3.41" ry="3"/><ellipse cx="666.54" cy="259.47" rx="2.66" ry="3.17"/><ellipse cx="671.74" cy="261.2" rx="3.14" ry="3.18"/><ellipse cx="678.79" cy="258.9" rx="3.49" ry="3.37"/><ellipse cx="686.06" cy="259.29" rx="2.66" ry="2.83"/><ellipse cx="693.56" cy="259.96" rx="3.27" ry="3.29"/><ellipse cx="700.72" cy="260.84" rx="3.23" ry="3.36"/><ellipse cx="705.77" cy="260.03" rx="3.05" ry="2.67"/><ellipse cx="518.47" cy="267.2" rx="3.39" ry="3.35"/><ellipse cx="523.98" cy="266.26" rx="3.21" ry="3.32"/><ellipse cx="530.52" cy="265.53" rx="3.69" ry="3.47"/><ellipse cx="538.25" cy="266.31" rx="3.26" ry="3"/><ellipse cx="543.98" cy="264.79" rx="2.73" ry="3.37"/><ellipse cx="550.76" cy="264.96" rx="3.53" ry="3.24"/><ellipse cx="558.7" cy="264.73" rx="3.32" ry="3.04"/><ellipse cx="564.81" cy="267.08" rx="3.31" ry="2.95"/><ellipse cx="572.14" cy="265.98" rx="2.89" ry="3.35"/><ellipse cx="580.61" cy="265.43" rx="2.93" ry="2.97"/><ellipse cx="585.94" cy="264.82" rx="2.85" ry="2.71"/><ellipse cx="591.84" cy="265.43" rx="3.24" ry="3.42"/><ellipse cx="598.68" cy="265.34" rx="3.85" ry="3.27"/><ellipse cx="606.54" cy="265.68" rx="2.59" ry="3.11"/><ellipse cx="612.85" cy="265.42" rx="3.32" ry="3.39"/><ellipse cx="620.94" cy="267.1" rx="3.28" ry="3.85"/><ellipse cx="628.32" cy="265.78" rx="3.21" ry="2.91"/><ellipse cx="634.12" cy="266.88" rx="3.3" ry="3.2"/><ellipse cx="641.57" cy="265.9" rx="3.54" ry="3.36"/><ellipse cx="649.01" cy="265.46" rx="3.19" ry="3.25"/><ellipse cx="655.62" cy="265.29" rx="3.02" ry="2.59"/><ellipse cx="663.43" cy="265" rx="3.55" ry="3.32"/><ellipse cx="670.25" cy="266.98" rx="3.36" ry="2.88"/><ellipse cx="675.97" cy="265.41" rx="3.81" ry="3.52"/><ellipse cx="682.14" cy="265.36" rx="3.26" ry="3.42"/><ellipse cx="690.58" cy="264.73" rx="3.07" ry="2.74"/><ellipse cx="696.94" cy="265.56" rx="3.1" ry="3.55"/><ellipse cx="703.4" cy="265.23" rx="2.99" ry="3.23"/><ellipse cx="514.74" cy="272.33" rx="3.25" ry="3.3"/><ellipse cx="521.79" cy="273.09" rx="2.3" ry="2.62"/><ellipse cx="526.79" cy="272.89" rx="2.45" ry="2.86"/><ellipse cx="534.33" cy="273.18" rx="2.99" ry="3.47"/><ellipse cx="540.27" cy="270.94" rx="3.24" ry="3.2"/><ellipse cx="548.1" cy="270.94" rx="3.04" ry="2.76"/><ellipse cx="554.39" cy="272.04" rx="2.98" ry="3.13"/><ellipse cx="562.94" cy="271.68" rx="2.28" ry="2.58"/><ellipse cx="569.69" cy="271.35" rx="2.98" ry="2.95"/><ellipse cx="576.4" cy="272.24" rx="2.52" ry="2.57"/><ellipse cx="582.02" cy="271.82" rx="3.17" ry="3.16"/><ellipse cx="590.72" cy="273.34" rx="2.98" ry="3.45"/><ellipse cx="595.24" cy="271.77" rx="3.09" ry="3.37"/><ellipse cx="604.63" cy="270.78" rx="3.38" ry="3.89"/><ellipse cx="610.27" cy="272.63" rx="3.49" ry="2.97"/><ellipse cx="617.45" cy="270.76" rx="2.4" ry="2.51"/><ellipse cx="624.67" cy="272.41" rx="2.65" ry="3.35"/><ellipse cx="629.81" cy="271.65" rx="2.87" ry="3.12"/><ellipse cx="637.4" cy="272.76" rx="3.01" ry="2.78"/><ellipse cx="645.32" cy="273.36" rx="3.69" ry="3.44"/><ellipse cx="651.88" cy="271.57" rx="2.68" ry="3.03"/><ellipse cx="659.02" cy="271.5" rx="3.71" ry="3.07"/><ellipse cx="666.76" cy="270.71" rx="3.38" ry="2.96"/><ellipse cx="673.3" cy="272.75" rx="2.87" ry="2.95"/><ellipse cx="678.19" cy="272.97" rx="3.32" ry="3.16"/><ellipse cx="686.55" cy="271.42" rx="3.02" ry="3.12"/><ellipse cx="693.45" cy="272.03" rx="3.18" ry="3.3"/><ellipse cx="699.49" cy="272.73" rx="2.68" ry="3.07"/><ellipse cx="708.03" cy="272.7" rx="2.99" ry="2.97"/><ellipse cx="517.98" cy="277.13" rx="2.81" ry="2.46"/><ellipse cx="525.03" cy="278.59" rx="3.17" ry="3.54"/><ellipse cx="531.35" cy="278.43" rx="3.15" ry="3.15"/><ellipse cx="537.43" cy="276.71" rx="3.46" ry="3.59"/><ellipse cx="543.65" cy="278.96" rx="2.46" ry="2.9"/><ellipse cx="551.15" cy="279.25" rx="2.78" ry="3.01"/><ellipse cx="557.48" cy="276.91" rx="2.98" ry="2.57"/><ellipse cx="566.3" cy="276.83" rx="2.75" ry="2.78"/><ellipse cx="571.69" cy="277.18" rx="3.38" ry="3.86"/><ellipse cx="579.46" cy="279.18" rx="3.31" ry="3.23"/><ellipse cx="585.44" cy="279.11" rx="2.93" ry="2.98"/><ellipse cx="591.99" cy="276.89" rx="2.39" ry="2.92"/><ellipse cx="601.14" cy="277.26" rx="3.04" ry="3.18"/><ellipse cx="607.46" cy="279.09" rx="3.32" ry="3.1"/><ellipse cx="612.63" cy="279.05" rx="2.99" ry="3.56"/><ellipse cx="620.35" cy="279.45" rx="3.1" ry="2.96"/><ellipse cx="628.97" cy="279.07" rx="3.62" ry="3.19"/><ellipse cx="635.7" cy="277.33" rx="3.56" ry="3.55"/><ellipse cx="641.33" cy="277.03" rx="2.53" ry="2.9"/><ellipse cx="649.22" cy="277.46" rx="2.95" ry="3.46"/><ellipse cx="655.69" cy="279.44" rx="3.35" ry="3.07"/><ellipse cx="661.58" cy="277.59" rx="3.24" ry="3.52"/><ellipse cx="667.96" cy="278.27" rx="3.55" ry="3.27"/><ellipse cx="676.89" cy="277.48" rx="2.84" ry="2.32"/><ellipse cx="682.6" cy="278.88" rx="3.57" ry="3.08"/><ellipse cx="689.07" cy="278.42" rx="2.77" ry="2.92"/><ellipse cx="696.75" cy="277.48" rx="2.73" ry="3.32"/><ellipse cx="702.34" cy="277.05" rx="3.15" ry="2.83"/><ellipse cx="515.04" cy="284.82" rx="2.65" ry="2.77"/><ellipse cx="519.34" cy="284.32" rx="3.45" ry="3.28"/><ellipse cx="527.86" cy="284.6" rx="2.92" ry="2.68"/><ellipse cx="535.16" cy="283.67" rx="2.68" ry="2.69"/><ellipse cx="540.05" cy="284.22" rx="3.15" ry="2.57"/><ellipse cx="548.11" cy="282.94" rx="2.95" ry="3.21"/><ellipse cx="554.72" cy="285.13" rx="2.78" ry="2.41"/><ellipse cx="562.02" cy="283.88" rx="3.53" ry="3.19"/><ellipse cx="568.59" cy="284.67" rx="3.13" ry="2.81"/><ellipse cx="575.16" cy="284.98" rx="2.8" ry="2.87"/><ellipse cx="582.08" cy="285.33" rx="2.79" ry="2.8"/><ellipse cx="589.9" cy="283.56" rx="3.91" ry="3.21"/><ellipse cx="597.45" cy="283.19" rx="3.01" ry="3.09"/><ellipse cx="603.6" cy="284.57" rx="3.34" ry="3.33"/><ellipse cx="610.82" cy="283.58" rx="2.98" ry="3.08"/><ellipse cx="617.35" cy="284.63" rx="3.42" ry="2.95"/><ellipse cx="625.29" cy="284.73" rx="2.92" ry="3.3"/><ellipse cx="632.09" cy="283.89" rx="3.2" ry="3.1"/><ellipse cx="639.12" cy="283.7" rx="2.64" ry="3.26"/><ellipse cx="645.81" cy="283.74" rx="3.05" ry="3.15"/><ellipse cx="652.74" cy="283.27" rx="3.16" ry="3.52"/><ellipse cx="658.93" cy="283.59" rx="3.72" ry="3.23"/><ellipse cx="664.82" cy="283.23" rx="3.96" ry="3.24"/><ellipse cx="671.8" cy="284.86" rx="3.16" ry="2.96"/><ellipse cx="679.13" cy="283.75" rx="3.16" ry="3.35"/><ellipse cx="687.62" cy="284.76" rx="3.47" ry="2.94"/><ellipse cx="694.12" cy="285.44" rx="3.77" ry="3.81"/><ellipse cx="699.59" cy="284.36" rx="2.84" ry="2.86"/><ellipse cx="707.45" cy="284.25" rx="3.77" ry="3.9"/><ellipse cx="516.52" cy="288.92" rx="3.7" ry="3.72"/><ellipse cx="523.57" cy="289.6" rx="2.9" ry="3.14"/><ellipse cx="530.39" cy="289.4" rx="3.09" ry="2.85"/><ellipse cx="537.2" cy="290.98" rx="2.68" ry="2.55"/><ellipse cx="545.82" cy="291.31" rx="2.94" ry="2.99"/><ellipse cx="552.32" cy="290.11" rx="3.19" ry="3.56"/><ellipse cx="558.75" cy="290.07" rx="3.29" ry="3.12"/><ellipse cx="565.23" cy="290.76" rx="3.1" ry="3.42"/><ellipse cx="573.11" cy="289.74" rx="3.15" ry="3.11"/><ellipse cx="578.49" cy="290.73" rx="2.86" ry="2.84"/><ellipse cx="586.65" cy="291.21" rx="3.35" ry="2.89"/><ellipse cx="593.23" cy="290.08" rx="3.04" ry="2.87"/><ellipse cx="598.89" cy="291.42" rx="3.22" ry="3.06"/><ellipse cx="607.08" cy="288.98" rx="3.49" ry="3.25"/><ellipse cx="614.72" cy="289.51" rx="3.32" ry="3.01"/><ellipse cx="619.98" cy="291.31" rx="3.17" ry="3.04"/><ellipse cx="627.67" cy="290.67" rx="3.7" ry="3.15"/><ellipse cx="635.42" cy="290.39" rx="3.47" ry="3.05"/><ellipse cx="642.25" cy="288.82" rx="3.72" ry="3.64"/><ellipse cx="648.61" cy="291.1" rx="3.14" ry="3.27"/><ellipse cx="654.41" cy="291.37" rx="2.83" ry="3.5"/><ellipse cx="663.05" cy="288.82" rx="3.35" ry="3.21"/><ellipse cx="667.9" cy="289.77" rx="3.12" ry="2.9"/><ellipse cx="676.36" cy="291.02" rx="3.39" ry="3.61"/><ellipse cx="682.43" cy="289.83" rx="2.67" ry="2.8"/><ellipse cx="689.34" cy="289.06" rx="3.42" ry="3.02"/><ellipse cx="697.88" cy="289.09" rx="3.54" ry="3.24"/><ellipse cx="703.59" cy="290.44" rx="3.19" ry="3.1"/><ellipse cx="513.18" cy="297.15" rx="3.22" ry="2.94"/><ellipse cx="520.53" cy="295.96" rx="3.56" ry="3.72"/><ellipse cx="528.18" cy="295.04" rx="2.88" ry="2.73"/><ellipse cx="534.74" cy="297.26" rx="2.52" ry="2.78"/><ellipse cx="540.44" cy="294.92" rx="3.61" ry="3.25"/><ellipse cx="547.39" cy="296.7" rx="3.34" ry="3.3"/><ellipse cx="554.61" cy="296.13" rx="3.04" ry="2.66"/><ellipse cx="562.91" cy="294.94" rx="2.36" ry="2.51"/><ellipse cx="568.05" cy="295.36" rx="2.71" ry="3.37"/><ellipse cx="576.57" cy="296.8" rx="3.4" ry="3.38"/><ellipse cx="582.05" cy="296.55" rx="2.96" ry="3.21"/><ellipse cx="588.76" cy="295.24" rx="2.99" ry="3.2"/><ellipse cx="596.42" cy="296.63" rx="4.02" ry="3.38"/><ellipse cx="604.64" cy="295.27" rx="2.78" ry="2.95"/><ellipse cx="609.62" cy="295.51" rx="3.18" ry="3.06"/><ellipse cx="616.91" cy="296.6" rx="3.2" ry="2.94"/><ellipse cx="624.58" cy="295.68" rx="3.14" ry="3.71"/><ellipse cx="629.98" cy="297.44" rx="3.27" ry="3.07"/><ellipse cx="636.65" cy="295.49" rx="3.72" ry="3.9"/><ellipse cx="643.6" cy="297.04" rx="3.32" ry="3.35"/><ellipse cx="651.77" cy="296.6" rx="3.04" ry="3"/><ellipse cx="659.23" cy="296.55" rx="3.46" ry="3.35"/><ellipse cx="665.22" cy="295.72" rx="3.21" ry="3.58"/><ellipse cx="672.14" cy="296.59" rx="3.33" ry="3.21"/><ellipse cx="678.12" cy="297.38" rx="3.02" ry="3.03"/><ellipse cx="686.97" cy="295.56" rx="3.07" ry="2.86"/><ellipse cx="691.95" cy="295.17" rx="3.82" ry="3.7"/><ellipse cx="700.86" cy="296.01" rx="3.26" ry="3.19"/><ellipse cx="707.98" cy="297.36" rx="3.61" ry="2.96"/><ellipse cx="518.09" cy="301.52" rx="3.03" ry="2.81"/><ellipse cx="524.5" cy="301.86" rx="3.74" ry="3.63"/><ellipse cx="532.11" cy="302.41" rx="3.19" ry="3.15"/><ellipse cx="538.88" cy="302.2" rx="2.84" ry="2.5"/><ellipse cx="545.44" cy="301.43" rx="2.88" ry="2.9"/><ellipse cx="551.69" cy="301.92" rx="3.33" ry="3.4"/><ellipse cx="558.85" cy="300.96" rx="3.44" ry="3.19"/><ellipse cx="564.87" cy="302.62" rx="2.34" ry="2.39"/><ellipse cx="572.23" cy="301.2" rx="2.66" ry="2.54"/><ellipse cx="578.48" cy="302.33" rx="3.28" ry="2.84"/><ellipse cx="586.64" cy="301.38" rx="3.56" ry="3.75"/><ellipse cx="593.83" cy="302.19" rx="3.27" ry="3.05"/><ellipse cx="600.83" cy="302.63" rx="2.8" ry="2.89"/><ellipse cx="605.85" cy="303.4" rx="3.38" ry="3.47"/><ellipse cx="614.24" cy="301.83" rx="2.92" ry="3.07"/><ellipse cx="620.71" cy="300.85" rx="3.4" ry="3.74"/><ellipse cx="627.24" cy="301.6" rx="3.31" ry="3.65"/><ellipse cx="634.3" cy="301.8" rx="3.48" ry="3.45"/><ellipse cx="640.85" cy="302.58" rx="3.08" ry="3.12"/><ellipse cx="649.06" cy="302.27" rx="2.62" ry="2.67"/><ellipse cx="654.85" cy="302.67" rx="2.46" ry="2.62"/><ellipse cx="661.35" cy="303.42" rx="2.74" ry="2.63"/><ellipse cx="670.05" cy="301.39" rx="3.14" ry="3.13"/><ellipse cx="675.17" cy="301.19" rx="3.1" ry="2.83"/><ellipse cx="684.03" cy="302.69" rx="2.73" ry="2.81"/><ellipse cx="688.7" cy="303.44" rx="3.74" ry="3.42"/><ellipse cx="695.54" cy="301.32" rx="2.69" ry="2.72"/><ellipse cx="702.45" cy="303.16" rx="3.11" ry="3.02"/><ellipse cx="512.57" cy="307.21" rx="2.51" ry="2.66"/><ellipse cx="519.75" cy="307.88" rx="2.98" ry="3.16"/><ellipse cx="527.09" cy="307.72" rx="2.89" ry="2.82"/><ellipse cx="534.3" cy="308.53" rx="3.04" ry="3.18"/><ellipse cx="541.24" cy="309.26" rx="3.11" ry="3.28"/><ellipse cx="548.73" cy="307.45" rx="2.62" ry="2.43"/><ellipse cx="554.72" cy="308.1" rx="2.94" ry="2.9"/><ellipse cx="562.78" cy="307.44" rx="2.85" ry="2.95"/><ellipse cx="568.36" cy="306.78" rx="2.84" ry="2.63"/><ellipse cx="576.71" cy="307.22" rx="2.85" ry="3.29"/><ellipse cx="581.48" cy="308.56" rx="3.35" ry="2.97"/><ellipse cx="589.01" cy="308.71" rx="3.49" ry="3.85"/><ellipse cx="596.47" cy="307.23" rx="2.9" ry="3.07"/><ellipse cx="603.34" cy="308.15" rx="3.27" ry="2.94"/><ellipse cx="610.24" cy="307.09" rx="3.51" ry="3.35"/><ellipse cx="617.52" cy="307.71" rx="2.74" ry="2.72"/><ellipse cx="622.78" cy="307.69" rx="3.06" ry="2.66"/><ellipse cx="629.7" cy="307.87" rx="3.29" ry="2.81"/><ellipse cx="637.77" cy="308.77" rx="3.09" ry="3.61"/><ellipse cx="643.51" cy="308.5" rx="3.27" ry="2.83"/><ellipse cx="651.65" cy="309.29" rx="3.06" ry="3.42"/><ellipse cx="658.53" cy="308.04" rx="3.26" ry="2.9"/><ellipse cx="666.66" cy="307.73" rx="3.15" ry="3.42"/><ellipse cx="672.71" cy="307.26" rx="2.69" ry="2.49"/><ellipse cx="680.54" cy="308.84" rx="3.26" ry="2.86"/><ellipse cx="687.47" cy="307.17" rx="3.51" ry="3.32"/><ellipse cx="692.09" cy="309.25" rx="2.39" ry="2.75"/><ellipse cx="700.1" cy="307.26" rx="2.38" ry="2.34"/><ellipse cx="705.67" cy="309.4" rx="2.59" ry="3.24"/><ellipse cx="515.91" cy="312.94" rx="3.39" ry="3.38"/><ellipse cx="523.6" cy="312.74" rx="3.33" ry="2.86"/><ellipse cx="532.14" cy="313.52" rx="2.74" ry="2.99"/><ellipse cx="538.7" cy="314.63" rx="2.77" ry="3.24"/><ellipse cx="544.44" cy="314.51" rx="2.81" ry="2.44"/><ellipse cx="552.44" cy="314.65" rx="2.56" ry="2.59"/><ellipse cx="558.28" cy="313.78" rx="3.01" ry="3.1"/><ellipse cx="565.41" cy="315.27" rx="3.2" ry="3.15"/><ellipse cx="573.67" cy="314.44" rx="2.71" ry="2.71"/><ellipse cx="578.98" cy="314.95" rx="3.3" ry="2.97"/><ellipse cx="584.96" cy="312.79" rx="2.68" ry="2.44"/><ellipse cx="592.89" cy="312.92" rx="3.16" ry="3.65"/><ellipse cx="600" cy="313.59" rx="2.45" ry="2.35"/><ellipse cx="605.78" cy="315.08" rx="2.7" ry="2.85"/><ellipse cx="613.34" cy="313.9" rx="3.13" ry="3.24"/><ellipse cx="622" cy="315.4" rx="2.92" ry="3.25"/><ellipse cx="626.86" cy="315.28" rx="2.87" ry="2.99"/><ellipse cx="635.74" cy="314.92" rx="2.97" ry="3.29"/><ellipse cx="640.02" cy="312.94" rx="3.09" ry="2.76"/><ellipse cx="647.19" cy="313.03" rx="3.58" ry="3.35"/><ellipse cx="655.02" cy="314.29" rx="3.02" ry="2.85"/><ellipse cx="663.06" cy="313.43" rx="3.15" ry="3.51"/><ellipse cx="667.96" cy="313.49" rx="2.66" ry="2.96"/><ellipse cx="675.94" cy="315.3" rx="3.28" ry="3.58"/><ellipse cx="683.69" cy="314.6" rx="2.38" ry="2.97"/><ellipse cx="689.29" cy="314.2" rx="2.51" ry="2.99"/><ellipse cx="697.31" cy="314.92" rx="3.01" ry="2.9"/><ellipse cx="702.5" cy="315.26" rx="2.94" ry="2.56"/><ellipse cx="514.38" cy="321.25" rx="3.09" ry="3.35"/><ellipse cx="520.96" cy="319.87" rx="3.12" ry="3.43"/><ellipse cx="527.63" cy="319.93" rx="3.14" ry="2.93"/><ellipse cx="533.4" cy="318.97" rx="3.03" ry="2.71"/><ellipse cx="540.6" cy="320.57" rx="4.06" ry="3.61"/><ellipse cx="547.57" cy="318.78" rx="3.23" ry="3.54"/><ellipse cx="556.13" cy="321.23" rx="2.89" ry="2.85"/><ellipse cx="561.05" cy="320.33" rx="3.55" ry="3.68"/><ellipse cx="570" cy="320.51" rx="3.01" ry="2.9"/><ellipse cx="575.38" cy="319.12" rx="2.65" ry="2.43"/><ellipse cx="581.39" cy="320.93" rx="3.37" ry="3.39"/><ellipse cx="590.87" cy="320.44" rx="3.56" ry="3.06"/><ellipse cx="595.53" cy="319.73" rx="2.78" ry="3.52"/><ellipse cx="603.17" cy="320.69" rx="3.69" ry="3.55"/><ellipse cx="611.35" cy="320.39" rx="2.89" ry="2.66"/><ellipse cx="617.59" cy="319.57" rx="2.66" ry="2.96"/><ellipse cx="624.48" cy="319.68" rx="2.44" ry="2.48"/><ellipse cx="630.98" cy="319.66" rx="3.25" ry="3.33"/><ellipse cx="637.41" cy="319.79" rx="3.58" ry="3.56"/><ellipse cx="644.26" cy="319.21" rx="3.21" ry="3.18"/><ellipse cx="651.42" cy="320.19" rx="2.86" ry="3.19"/><ellipse cx="659.28" cy="321.04" rx="2.44" ry="2.86"/><ellipse cx="666.44" cy="321.16" rx="2.97" ry="3.44"/><ellipse cx="671.64" cy="319.25" rx="3.3" ry="3.23"/><ellipse cx="678.37" cy="320.63" rx="2.72" ry="2.78"/><ellipse cx="686.59" cy="319.06" rx="2.55" ry="2.95"/><ellipse cx="692.22" cy="318.75" rx="3.44" ry="3.18"/><ellipse cx="701.1" cy="320.42" rx="2.95" ry="3.28"/><ellipse cx="706.09" cy="321.12" rx="2.88" ry="2.92"/><ellipse cx="517.88" cy="325.88" rx="3.33" ry="2.9"/><ellipse cx="524.05" cy="325.59" rx="3.18" ry="2.78"/><ellipse cx="529.79" cy="324.76" rx="3.03" ry="3.43"/><ellipse cx="539.27" cy="324.84" rx="3.36" ry="3.58"/><ellipse cx="545.59" cy="324.82" rx="3.67" ry="3.47"/><ellipse cx="550.98" cy="326.94" rx="2.61" ry="2.75"/><ellipse cx="559.9" cy="325.65" rx="3.71" ry="2.96"/><ellipse cx="565.08" cy="326.02" rx="3.77" ry="3.95"/><ellipse cx="572.52" cy="325.07" rx="2.92" ry="3.13"/><ellipse cx="578.8" cy="325.87" rx="3.2" ry="3.7"/><ellipse cx="587.12" cy="326.51" rx="2.84" ry="3.52"/><ellipse cx="593.33" cy="325.71" rx="3.02" ry="3.72"/><ellipse cx="600.22" cy="325.41" rx="3.55" ry="3.24"/><ellipse cx="607.92" cy="326.93" rx="2.82" ry="2.8"/><ellipse cx="613.44" cy="327.18" rx="3.7" ry="3.81"/><ellipse cx="621.17" cy="327.42" rx="3.31" ry="3.02"/><ellipse cx="628.93" cy="326.32" rx="2.3" ry="2.25"/><ellipse cx="635.16" cy="327.16" rx="3.15" ry="2.99"/><ellipse cx="642.15" cy="325.5" rx="2.65" ry="2.98"/><ellipse cx="647.42" cy="325.63" rx="2.67" ry="2.72"/><ellipse cx="655.08" cy="324.82" rx="3.24" ry="3.19"/><ellipse cx="661.84" cy="325.57" rx="3.56" ry="3.35"/><ellipse cx="669.05" cy="326.41" rx="3.01" ry="2.52"/><ellipse cx="675.41" cy="326.52" rx="3.31" ry="3.8"/><ellipse cx="682.54" cy="325.19" rx="2.56" ry="2.62"/><ellipse cx="690.6" cy="325.27" rx="3.13" ry="2.94"/><ellipse cx="697.37" cy="325.69" rx="3.15" ry="3.36"/><ellipse cx="704.52" cy="326.19" rx="3.6" ry="3.45"/><ellipse cx="513.74" cy="332.63" rx="2.79" ry="2.6"/><ellipse cx="521.67" cy="331.8" rx="3.07" ry="3.19"/><ellipse cx="528.67" cy="332.47" rx="2.9" ry="2.82"/><ellipse cx="535.63" cy="331.92" rx="2.56" ry="2.7"/><ellipse cx="540.06" cy="330.8" rx="2.8" ry="2.94"/><ellipse cx="547.6" cy="332.93" rx="2.55" ry="3.16"/><ellipse cx="554.02" cy="333.09" rx="3.26" ry="3.62"/><ellipse cx="561.77" cy="331.31" rx="3.26" ry="3.31"/><ellipse cx="568.37" cy="332.81" rx="3.23" ry="3.36"/><ellipse cx="574.91" cy="332.61" rx="3.21" ry="3.23"/><ellipse cx="583.67" cy="331.76" rx="3.06" ry="3.05"/><ellipse cx="590.61" cy="332.89" rx="3.71" ry="3.43"/><ellipse cx="596.28" cy="330.77" rx="3.63" ry="3.59"/><ellipse cx="603.23" cy="330.99" rx="3.47" ry="3.69"/><ellipse cx="610.82" cy="331.84" rx="3.17" ry="3.25"/><ellipse cx="616.86" cy="332.48" rx="3.34" ry="3.48"/><ellipse cx="625.02" cy="331.44" rx="3.31" ry="2.95"/><ellipse cx="630.52" cy="331.02" rx="2.86" ry="3.13"/><ellipse cx="639.19" cy="333.46" rx="2.7" ry="2.98"/><ellipse cx="645.87" cy="331.71" rx="3.19" ry="2.97"/><ellipse cx="651.91" cy="332.8" rx="2.62" ry="3.09"/><ellipse cx="658.06" cy="332.24" rx="3.21" ry="2.97"/><ellipse cx="665.66" cy="331.58" rx="2.94" ry="2.55"/><ellipse cx="672.85" cy="330.82" rx="3.81" ry="3.23"/><ellipse cx="680.32" cy="332.46" rx="3.7" ry="3.47"/><ellipse cx="687.3" cy="333.46" rx="3.56" ry="3.46"/><ellipse cx="692.6" cy="332.9" rx="2.97" ry="3.28"/><ellipse cx="700.22" cy="331.73" rx="3.14" ry="3.48"/><ellipse cx="706.96" cy="330.96" rx="3.67" ry="3.61"/><ellipse cx="517.01" cy="338.05" rx="3.05" ry="3.36"/><ellipse cx="523.56" cy="338.95" rx="2.93" ry="2.35"/><ellipse cx="531.08" cy="337.25" rx="3.05" ry="3.46"/><ellipse cx="537.32" cy="337.36" rx="2.72" ry="2.93"/><ellipse cx="544.91" cy="337.74" rx="2.96" ry="2.92"/><ellipse cx="551.92" cy="338.49" rx="3.08" ry="3.04"/><ellipse cx="559.86" cy="339.26" rx="3.15" ry="3.77"/><ellipse cx="565.93" cy="336.99" rx="2.98" ry="3.43"/><ellipse cx="571.38" cy="338.37" rx="3.44" ry="3.33"/><ellipse cx="580.52" cy="337.68" rx="2.98" ry="3.33"/><ellipse cx="585.17" cy="338.27" rx="3.05" ry="3.04"/><ellipse cx="594.12" cy="338.54" rx="3.59" ry="3.26"/><ellipse cx="599.07" cy="337.95" rx="3.15" ry="3.04"/><ellipse cx="606.33" cy="337.4" rx="2.95" ry="2.96"/><ellipse cx="614.5" cy="338.21" rx="2.8" ry="3.22"/><ellipse cx="620.32" cy="337.45" rx="3.85" ry="3.76"/><ellipse cx="628.73" cy="338.52" rx="3.39" ry="3.76"/><ellipse cx="633.64" cy="339" rx="2.63" ry="2.58"/><ellipse cx="640.8" cy="337.53" rx="2.99" ry="3.2"/><ellipse cx="648.54" cy="338.35" rx="3.34" ry="2.97"/><ellipse cx="654.99" cy="338.53" rx="2.86" ry="3.04"/><ellipse cx="662.22" cy="338.52" rx="3.3" ry="2.72"/><ellipse cx="668.22" cy="338.19" rx="3.58" ry="3.53"/><ellipse cx="676.03" cy="339.04" rx="3.59" ry="3.55"/><ellipse cx="682.24" cy="337.04" rx="3.39" ry="3.31"/><ellipse cx="688.58" cy="336.86" rx="2.68" ry="3.02"/><ellipse cx="696.17" cy="336.94" rx="2.8" ry="3.36"/><ellipse cx="703.43" cy="338.86" rx="2.66" ry="2.22"/><ellipse cx="513.71" cy="344.66" rx="3.41" ry="3.6"/><ellipse cx="520.26" cy="345.17" rx="3.46" ry="2.96"/><ellipse cx="526.69" cy="345.24" rx="3.26" ry="3.55"/><ellipse cx="535.55" cy="345.47" rx="2.72" ry="3.26"/><ellipse cx="542.52" cy="343.12" rx="3.15" ry="2.86"/><ellipse cx="549.47" cy="344.17" rx="3.56" ry="3.44"/><ellipse cx="554.93" cy="345.22" rx="2.74" ry="2.41"/><ellipse cx="561.93" cy="344.75" rx="3" ry="2.85"/><ellipse cx="568.62" cy="344.28" rx="3.17" ry="2.98"/><ellipse cx="575.01" cy="345.07" rx="2.8" ry="3.2"/><ellipse cx="583.21" cy="342.81" rx="3.54" ry="3.05"/><ellipse cx="590.98" cy="343.38" rx="3.08" ry="3.07"/><ellipse cx="597.16" cy="343.03" rx="2.64" ry="3.21"/><ellipse cx="603.89" cy="344.89" rx="2.97" ry="2.73"/><ellipse cx="609.56" cy="343.99" rx="3.78" ry="3.72"/><ellipse cx="616.74" cy="344.5" rx="2.84" ry="2.85"/><ellipse cx="623.81" cy="345.08" rx="3.38" ry="2.66"/><ellipse cx="631.61" cy="345.41" rx="3.45" ry="2.96"/><ellipse cx="638.78" cy="344.97" rx="2.77" ry="3.15"/><ellipse cx="643.88" cy="344.53" rx="2.72" ry="3.03"/><ellipse cx="652.87" cy="343.48" rx="3" ry="3.3"/><ellipse cx="658.58" cy="344.64" rx="3.09" ry="3.14"/><ellipse cx="666.75" cy="344.59" rx="3.49" ry="3.51"/><ellipse cx="672.16" cy="344.98" rx="3.45" ry="2.91"/><ellipse cx="678.31" cy="343.19" rx="2.68" ry="2.66"/><ellipse cx="686.05" cy="343.27" rx="3.18" ry="3.41"/><ellipse cx="694.26" cy="344.84" rx="3.03" ry="3.11"/><ellipse cx="699.12" cy="345.3" rx="3.61" ry="3.79"/><ellipse cx="706.24" cy="344.74" rx="2.75" ry="2.77"/><ellipse cx="516.77" cy="350.95" rx="2.76" ry="2.7"/><ellipse cx="524.45" cy="351.24" rx="3.69" ry="2.92"/><ellipse cx="529.81" cy="348.77" rx="3.12" ry="3.44"/><ellipse cx="537.93" cy="351.12" rx="3.05" ry="3.07"/><ellipse cx="544.74" cy="349.13" rx="2.53" ry="3.24"/><ellipse cx="550.75" cy="351.25" rx="2.64" ry="2.58"/><ellipse cx="557.68" cy="350.2" rx="3.22" ry="3.13"/><ellipse cx="564.83" cy="348.85" rx="3.33" ry="2.93"/><ellipse cx="573.5" cy="351.47" rx="3.55" ry="2.93"/><ellipse cx="578.76" cy="349.92" rx="2.95" ry="3.05"/><ellipse cx="586.66" cy="349.7" rx="2.66" ry="2.9"/><ellipse cx="592.88" cy="348.83" rx="3.18" ry="3.33"/><ellipse cx="601.08" cy="350.03" rx="2.85" ry="2.76"/><ellipse cx="606.62" cy="349.09" rx="3.43" ry="3.55"/><ellipse cx="613.09" cy="351.42" rx="2.89" ry="3.18"/><ellipse cx="620" cy="350.71" rx="2.73" ry="2.89"/><ellipse cx="626.43" cy="351.33" rx="2.83" ry="2.6"/><ellipse cx="633.22" cy="350.11" rx="3.29" ry="3.46"/><ellipse cx="640.28" cy="349.66" rx="2.89" ry="2.7"/><ellipse cx="648.48" cy="351.03" rx="3.36" ry="3.66"/><ellipse cx="654.92" cy="350.5" rx="3.87" ry="3.64"/><ellipse cx="661.49" cy="351.08" rx="3.37" ry="3.2"/><ellipse cx="670.01" cy="348.81" rx="3.28" ry="2.88"/><ellipse cx="676.85" cy="348.83" rx="3.22" ry="3.09"/><ellipse cx="684.12" cy="349.49" rx="2.84" ry="3.37"/><ellipse cx="688.5" cy="350.3" rx="2.8" ry="2.61"/><ellipse cx="696.81" cy="349.7" rx="3.48" ry="3.1"/><ellipse cx="703.31" cy="350.46" rx="2.89" ry="3.01"/></g>
<g fill="#0a0a0a"><ellipse cx="513.03" cy="212.17" rx="1.9" ry="1.91"/><ellipse cx="596.56" cy="213.43" rx="1.48" ry="1.86"/><ellipse cx="637.86" cy="212.54" rx="1.96" ry="1.98"/><ellipse cx="646.11" cy="210.73" rx="1.91" ry="1.67"/><ellipse cx="651.37" cy="211.53" rx="1.89" ry="1.68"/><ellipse cx="664.69" cy="211.87" rx="1.7" ry="1.88"/><ellipse cx="685.38" cy="211.44" rx="2.2" ry="2.34"/><ellipse cx="544.74" cy="218.83" rx="1.59" ry="1.84"/><ellipse cx="578.98" cy="217.75" rx="1.61" ry="2.13"/><ellipse cx="621.15" cy="219.12" rx="2.21" ry="2.27"/><ellipse cx="633.39" cy="219.1" rx="1.38" ry="1.94"/><ellipse cx="662.8" cy="217.76" rx="1.75" ry="1.71"/><ellipse cx="676.61" cy="218.53" rx="1.9" ry="2.02"/><ellipse cx="681.87" cy="218.05" rx="2.04" ry="2.23"/><ellipse cx="704.57" cy="217.52" rx="1.98" ry="1.55"/><ellipse cx="555.37" cy="224.54" rx="1.5" ry="1.56"/><ellipse cx="562.45" cy="224.72" rx="1.61" ry="1.76"/><ellipse cx="603.85" cy="224.47" rx="1.7" ry="1.62"/><ellipse cx="610.92" cy="222.97" rx="1.75" ry="1.76"/><ellipse cx="623.75" cy="223.59" rx="1.87" ry="2.04"/><ellipse cx="637.09" cy="223.83" rx="2.3" ry="2.25"/><ellipse cx="680.58" cy="222.98" rx="1.88" ry="1.52"/><ellipse cx="692.66" cy="225.08" rx="1.72" ry="2.31"/><ellipse cx="530.63" cy="229.7" rx="1.99" ry="1.71"/><ellipse cx="544.53" cy="229.14" rx="1.36" ry="1.4"/><ellipse cx="552.64" cy="229.79" rx="1.46" ry="1.94"/><ellipse cx="558.31" cy="228.75" rx="1.93" ry="1.83"/><ellipse cx="585.07" cy="229.15" rx="1.33" ry="1.72"/><ellipse cx="599.46" cy="230.35" rx="1.81" ry="1.99"/><ellipse cx="628.14" cy="231.3" rx="1.41" ry="1.79"/><ellipse cx="642.43" cy="229.92" rx="2.34" ry="2"/><ellipse cx="654.4" cy="230.58" rx="2.57" ry="1.87"/><ellipse cx="668.5" cy="231.12" rx="2.04" ry="2.17"/><ellipse cx="512.96" cy="235.65" rx="2.05" ry="2.14"/><ellipse cx="535.54" cy="237.4" rx="1.95" ry="1.53"/><ellipse cx="540.48" cy="234.95" rx="1.87" ry="2.05"/><ellipse cx="576.92" cy="236.91" rx="1.6" ry="2"/><ellipse cx="596.36" cy="235.62" rx="1.66" ry="1.37"/><ellipse cx="665.41" cy="235.54" rx="1.92" ry="2.13"/><ellipse cx="671.82" cy="237.3" rx="2.01" ry="2.07"/><ellipse cx="707.43" cy="236.47" rx="1.39" ry="1.86"/><ellipse cx="517.61" cy="241.05" rx="1.7" ry="1.45"/><ellipse cx="537.2" cy="241.66" rx="2.16" ry="2.35"/><ellipse cx="557.72" cy="243.34" rx="1.82" ry="1.91"/><ellipse cx="565.79" cy="240.84" rx="1.71" ry="2.03"/><ellipse cx="600.63" cy="241.37" rx="1.69" ry="1.59"/><ellipse cx="614.57" cy="240.85" rx="2.01" ry="2.52"/><ellipse cx="619.47" cy="242.05" rx="1.83" ry="1.6"/><ellipse cx="634.49" cy="241.58" rx="1.32" ry="1.28"/><ellipse cx="656.25" cy="241.73" rx="2.18" ry="1.72"/><ellipse cx="662.37" cy="240.92" rx="1.52" ry="1.3"/><ellipse cx="689.24" cy="241.84" rx="2.25" ry="1.72"/><ellipse cx="695.36" cy="242.11" rx="2.15" ry="1.92"/><ellipse cx="520.98" cy="247.67" rx="2.4" ry="2.36"/><ellipse cx="527.4" cy="248.68" rx="2.22" ry="2.11"/><ellipse cx="535.34" cy="249.28" rx="1.95" ry="1.6"/><ellipse cx="542.05" cy="247.59" rx="2.01" ry="1.87"/><ellipse cx="555.79" cy="247.26" rx="1.55" ry="1.55"/><ellipse cx="596.66" cy="249.07" rx="1.86" ry="1.93"/><ellipse cx="617.41" cy="248.8" rx="1.76" ry="1.62"/><ellipse cx="624.32" cy="247.75" rx="1.7" ry="1.55"/><ellipse cx="650.69" cy="249.3" rx="1.84" ry="1.71"/><ellipse cx="699.7" cy="246.81" rx="2.12" ry="2.26"/><ellipse cx="517.67" cy="254.36" rx="1.45" ry="1.78"/><ellipse cx="531.31" cy="253.42" rx="1.62" ry="1.84"/><ellipse cx="536.54" cy="253.62" rx="2.31" ry="1.92"/><ellipse cx="557.54" cy="254.53" rx="1.46" ry="1.68"/><ellipse cx="585.28" cy="253.7" rx="1.87" ry="2.2"/><ellipse cx="607.67" cy="254.9" rx="1.83" ry="1.72"/><ellipse cx="642.08" cy="253.26" rx="1.5" ry="1.64"/><ellipse cx="690.78" cy="254.9" rx="2.42" ry="1.73"/><ellipse cx="514.93" cy="259.39" rx="1.9" ry="1.49"/><ellipse cx="520.05" cy="258.93" rx="1.91" ry="1.9"/><ellipse cx="563.15" cy="259.79" rx="1.92" ry="1.87"/><ellipse cx="569.25" cy="259.03" rx="1.58" ry="1.77"/><ellipse cx="597.09" cy="260.71" rx="2.01" ry="2.22"/><ellipse cx="603.37" cy="260.67" rx="2.04" ry="1.45"/><ellipse cx="644.06" cy="260.64" rx="2.14" ry="2.26"/><ellipse cx="671.74" cy="261.2" rx="1.76" ry="1.8"/><ellipse cx="686.06" cy="259.29" rx="1.56" ry="1.73"/><ellipse cx="705.77" cy="260.03" rx="2.02" ry="1.64"/><ellipse cx="518.47" cy="267.2" rx="2.1" ry="2.06"/><ellipse cx="523.98" cy="266.26" rx="1.89" ry="2"/><ellipse cx="530.52" cy="265.53" rx="2.28" ry="2.07"/><ellipse cx="538.25" cy="266.31" rx="2.17" ry="1.91"/><ellipse cx="572.14" cy="265.98" rx="1.49" ry="1.95"/><ellipse cx="580.61" cy="265.43" rx="1.51" ry="1.56"/><ellipse cx="649.01" cy="265.46" rx="1.88" ry="1.94"/><ellipse cx="655.62" cy="265.29" rx="2" ry="1.58"/><ellipse cx="663.43" cy="265" rx="2.29" ry="2.06"/><ellipse cx="682.14" cy="265.36" rx="2.08" ry="2.23"/><ellipse cx="690.58" cy="264.73" rx="1.93" ry="1.6"/><ellipse cx="696.94" cy="265.56" rx="1.97" ry="2.42"/><ellipse cx="703.4" cy="265.23" rx="1.96" ry="2.19"/><ellipse cx="534.33" cy="273.18" rx="1.85" ry="2.33"/><ellipse cx="540.27" cy="270.94" rx="1.79" ry="1.75"/><ellipse cx="548.1" cy="270.94" rx="2.09" ry="1.81"/><ellipse cx="562.94" cy="271.68" rx="1.43" ry="1.72"/><ellipse cx="595.24" cy="271.77" rx="2.14" ry="2.41"/><ellipse cx="517.98" cy="277.13" rx="1.9" ry="1.55"/><ellipse cx="537.43" cy="276.71" rx="1.98" ry="2.12"/><ellipse cx="543.65" cy="278.96" rx="1.61" ry="2.05"/><ellipse cx="601.14" cy="277.26" rx="1.79" ry="1.93"/><ellipse cx="607.46" cy="279.09" rx="1.81" ry="1.6"/><ellipse cx="612.63" cy="279.05" rx="1.48" ry="2.05"/><ellipse cx="635.7" cy="277.33" rx="2.03" ry="2.01"/><ellipse cx="641.33" cy="277.03" rx="1.66" ry="2.02"/><ellipse cx="682.6" cy="278.88" rx="2.36" ry="1.87"/><ellipse cx="535.16" cy="283.67" rx="1.57" ry="1.58"/><ellipse cx="597.45" cy="283.19" rx="1.75" ry="1.83"/><ellipse cx="603.6" cy="284.57" rx="2.28" ry="2.28"/><ellipse cx="625.29" cy="284.73" rx="1.75" ry="2.13"/><ellipse cx="639.12" cy="283.7" rx="1.77" ry="2.38"/><ellipse cx="645.81" cy="283.74" rx="1.99" ry="2.09"/><ellipse cx="652.74" cy="283.27" rx="1.91" ry="2.27"/><ellipse cx="671.8" cy="284.86" rx="1.98" ry="1.78"/><ellipse cx="679.13" cy="283.75" rx="1.68" ry="1.87"/><ellipse cx="699.59" cy="284.36" rx="1.74" ry="1.76"/><ellipse cx="516.52" cy="288.92" rx="2.27" ry="2.29"/><ellipse cx="552.32" cy="290.11" rx="1.63" ry="2"/><ellipse cx="565.23" cy="290.76" rx="1.98" ry="2.3"/><ellipse cx="573.11" cy="289.74" rx="2.07" ry="2.03"/><ellipse cx="593.23" cy="290.08" rx="1.81" ry="1.63"/><ellipse cx="598.89" cy="291.42" rx="2.19" ry="2.02"/><ellipse cx="614.72" cy="289.51" rx="2.48" ry="2.16"/><ellipse cx="627.67" cy="290.67" rx="2.5" ry="1.95"/><ellipse cx="642.25" cy="288.82" rx="2.25" ry="2.18"/><ellipse cx="654.41" cy="291.37" rx="1.79" ry="2.47"/><ellipse cx="697.88" cy="289.09" rx="2.26" ry="1.96"/><ellipse cx="520.53" cy="295.96" rx="2.02" ry="2.18"/><ellipse cx="540.44" cy="294.92" rx="2.1" ry="1.74"/><ellipse cx="562.91" cy="294.94" rx="1.46" ry="1.61"/><ellipse cx="568.05" cy="295.36" rx="1.84" ry="2.5"/><ellipse cx="624.58" cy="295.68" rx="1.65" ry="2.23"/><ellipse cx="636.65" cy="295.49" rx="2.18" ry="2.36"/><ellipse cx="700.86" cy="296.01" rx="1.89" ry="1.82"/><ellipse cx="518.09" cy="301.52" rx="1.76" ry="1.55"/><ellipse cx="524.5" cy="301.86" rx="2.52" ry="2.41"/><ellipse cx="532.11" cy="302.41" rx="2.16" ry="2.12"/><ellipse cx="545.44" cy="301.43" rx="1.88" ry="1.9"/><ellipse cx="558.85" cy="300.96" rx="2.07" ry="1.82"/><ellipse cx="586.64" cy="301.38" rx="2.16" ry="2.35"/><ellipse cx="593.83" cy="302.19" rx="2.03" ry="1.8"/><ellipse cx="605.85" cy="303.4" rx="2.11" ry="2.2"/><ellipse cx="627.24" cy="301.6" rx="1.97" ry="2.31"/><ellipse cx="649.06" cy="302.27" rx="1.76" ry="1.81"/><ellipse cx="654.85" cy="302.67" rx="1.47" ry="1.64"/><ellipse cx="675.17" cy="301.19" rx="2.07" ry="1.81"/><ellipse cx="534.3" cy="308.53" rx="1.59" ry="1.73"/><ellipse cx="622.78" cy="307.69" rx="2.18" ry="1.78"/><ellipse cx="651.65" cy="309.29" rx="1.79" ry="2.15"/><ellipse cx="658.53" cy="308.04" rx="2.02" ry="1.66"/><ellipse cx="687.47" cy="307.17" rx="1.97" ry="1.78"/><ellipse cx="700.1" cy="307.26" rx="1.49" ry="1.45"/><ellipse cx="515.91" cy="312.94" rx="1.97" ry="1.95"/><ellipse cx="523.6" cy="312.74" rx="2.24" ry="1.77"/><ellipse cx="538.7" cy="314.63" rx="1.87" ry="2.34"/><ellipse cx="552.44" cy="314.65" rx="1.43" ry="1.46"/><ellipse cx="558.28" cy="313.78" rx="1.96" ry="2.05"/><ellipse cx="565.41" cy="315.27" rx="2.26" ry="2.2"/><ellipse cx="578.98" cy="314.95" rx="2.01" ry="1.68"/><ellipse cx="584.96" cy="312.79" rx="1.73" ry="1.49"/><ellipse cx="600" cy="313.59" rx="1.59" ry="1.5"/><ellipse cx="605.78" cy="315.08" rx="1.61" ry="1.77"/><ellipse cx="635.74" cy="314.92" rx="1.8" ry="2.12"/><ellipse cx="655.02" cy="314.29" rx="1.53" ry="1.35"/><ellipse cx="689.29" cy="314.2" rx="1.49" ry="1.97"/><ellipse cx="697.31" cy="314.92" rx="2.08" ry="1.97"/><ellipse cx="520.96" cy="319.87" rx="1.6" ry="1.92"/><ellipse cx="540.6" cy="320.57" rx="2.57" ry="2.12"/><ellipse cx="556.13" cy="321.23" rx="1.85" ry="1.81"/><ellipse cx="575.38" cy="319.12" rx="1.7" ry="1.48"/><ellipse cx="581.39" cy="320.93" rx="1.97" ry="1.98"/><ellipse cx="624.48" cy="319.68" rx="1.56" ry="1.6"/><ellipse cx="630.98" cy="319.66" rx="1.86" ry="1.94"/><ellipse cx="637.41" cy="319.79" rx="2.35" ry="2.33"/><ellipse cx="644.26" cy="319.21" rx="1.7" ry="1.67"/><ellipse cx="651.42" cy="320.19" rx="1.34" ry="1.67"/><ellipse cx="659.28" cy="321.04" rx="1.38" ry="1.8"/><ellipse cx="671.64" cy="319.25" rx="2.17" ry="2.1"/><ellipse cx="678.37" cy="320.63" rx="1.79" ry="1.85"/><ellipse cx="701.1" cy="320.42" rx="1.89" ry="2.22"/><ellipse cx="517.88" cy="325.88" rx="1.81" ry="1.39"/><ellipse cx="524.05" cy="325.59" rx="2.06" ry="1.66"/><ellipse cx="539.27" cy="324.84" rx="1.95" ry="2.16"/><ellipse cx="559.9" cy="325.65" rx="2.48" ry="1.73"/><ellipse cx="572.52" cy="325.07" rx="1.37" ry="1.58"/><ellipse cx="587.12" cy="326.51" rx="1.72" ry="2.4"/><ellipse cx="600.22" cy="325.41" rx="2.04" ry="1.73"/><ellipse cx="628.93" cy="326.32" rx="1.45" ry="1.4"/><ellipse cx="675.41" cy="326.52" rx="1.84" ry="2.33"/><ellipse cx="697.37" cy="325.69" rx="2" ry="2.21"/><ellipse cx="704.52" cy="326.19" rx="2.06" ry="1.92"/><ellipse cx="513.74" cy="332.63" rx="1.93" ry="1.74"/><ellipse cx="521.67" cy="331.8" rx="1.64" ry="1.76"/><ellipse cx="528.67" cy="332.47" rx="1.44" ry="1.36"/><ellipse cx="568.37" cy="332.81" rx="2.04" ry="2.17"/><ellipse cx="630.52" cy="331.02" rx="1.83" ry="2.1"/><ellipse cx="645.87" cy="331.71" rx="1.67" ry="1.44"/><ellipse cx="658.06" cy="332.24" rx="1.88" ry="1.65"/><ellipse cx="672.85" cy="330.82" rx="2.26" ry="1.68"/><ellipse cx="680.32" cy="332.46" rx="2.17" ry="1.94"/><ellipse cx="517.01" cy="338.05" rx="1.6" ry="1.91"/><ellipse cx="594.12" cy="338.54" rx="2.33" ry="2.01"/><ellipse cx="599.07" cy="337.95" rx="1.78" ry="1.67"/><ellipse cx="606.33" cy="337.4" rx="1.54" ry="1.55"/><ellipse cx="633.64" cy="339" rx="1.45" ry="1.39"/><ellipse cx="640.8" cy="337.53" rx="1.78" ry="1.99"/><ellipse cx="668.22" cy="338.19" rx="2.22" ry="2.17"/><ellipse cx="676.03" cy="339.04" rx="2.43" ry="2.39"/><ellipse cx="696.17" cy="336.94" rx="1.77" ry="2.33"/><ellipse cx="526.69" cy="345.24" rx="2.02" ry="2.31"/><ellipse cx="535.55" cy="345.47" rx="1.81" ry="2.34"/><ellipse cx="542.52" cy="343.12" rx="1.83" ry="1.53"/><ellipse cx="554.93" cy="345.22" rx="1.82" ry="1.49"/><ellipse cx="583.21" cy="342.81" rx="2.09" ry="1.6"/><ellipse cx="609.56" cy="343.99" rx="2.59" ry="2.53"/><ellipse cx="643.88" cy="344.53" rx="1.79" ry="2.1"/><ellipse cx="666.75" cy="344.59" rx="2.2" ry="2.21"/><ellipse cx="672.16" cy="344.98" rx="2.39" ry="1.85"/><ellipse cx="516.77" cy="350.95" rx="1.91" ry="1.85"/><ellipse cx="529.81" cy="348.77" rx="2.05" ry="2.37"/><ellipse cx="544.74" cy="349.13" rx="1.68" ry="2.4"/><ellipse cx="557.68" cy="350.2" rx="1.77" ry="1.68"/><ellipse cx="578.76" cy="349.92" rx="1.68" ry="1.78"/><ellipse cx="620" cy="350.71" rx="1.52" ry="1.68"/><ellipse cx="626.43" cy="351.33" rx="1.6" ry="1.38"/><ellipse cx="633.22" cy="350.11" rx="1.97" ry="2.14"/><ellipse cx="640.28" cy="349.66" rx="2" ry="1.81"/><ellipse cx="676.85" cy="348.83" rx="1.86" ry="1.74"/><ellipse cx="696.81" cy="349.7" rx="2.22" ry="1.85"/></g>
<g fill="#121212"><ellipse cx="533.11" cy="212.82" rx="2.01" ry="1.39"/><ellipse cx="584.1" cy="210.91" rx="2.01" ry="1.79"/><ellipse cx="590.68" cy="210.79" rx="1.61" ry="2.14"/><ellipse cx="604.75" cy="211.47" rx="1.89" ry="2.1"/><ellipse cx="623.43" cy="211.5" rx="2.21" ry="2.23"/><ellipse cx="632.4" cy="211.54" rx="1.89" ry="1.56"/><ellipse cx="659.95" cy="212.56" rx="1.68" ry="1.78"/><ellipse cx="672.28" cy="213.03" rx="1.59" ry="1.8"/><ellipse cx="517.88" cy="219.33" rx="2.23" ry="2.2"/><ellipse cx="523.05" cy="217.35" rx="1.82" ry="1.63"/><ellipse cx="559.6" cy="216.81" rx="1.6" ry="1.78"/><ellipse cx="565.01" cy="218.93" rx="2.35" ry="1.73"/><ellipse cx="573.71" cy="219.03" rx="1.65" ry="1.53"/><ellipse cx="606.27" cy="218.3" rx="1.85" ry="1.77"/><ellipse cx="648.33" cy="218.65" rx="1.83" ry="1.95"/><ellipse cx="697.85" cy="217.49" rx="1.95" ry="2.31"/><ellipse cx="513.26" cy="224.81" rx="2.02" ry="1.67"/><ellipse cx="520.87" cy="225.16" rx="1.62" ry="2.38"/><ellipse cx="541.92" cy="225.05" rx="1.93" ry="2.45"/><ellipse cx="547.12" cy="224.88" rx="1.51" ry="1.95"/><ellipse cx="569.41" cy="222.99" rx="2.48" ry="1.79"/><ellipse cx="576.34" cy="223.69" rx="1.99" ry="2"/><ellipse cx="595.58" cy="223.7" rx="2.11" ry="1.81"/><ellipse cx="645.84" cy="224.88" rx="1.67" ry="1.68"/><ellipse cx="665.51" cy="224.34" rx="1.63" ry="2.26"/><ellipse cx="686.59" cy="222.82" rx="1.62" ry="1.51"/><ellipse cx="700.65" cy="224.72" rx="2.03" ry="2.12"/><ellipse cx="516.26" cy="230.05" rx="2.05" ry="1.96"/><ellipse cx="522.78" cy="229.94" rx="1.97" ry="1.98"/><ellipse cx="565.04" cy="229" rx="2.23" ry="2.41"/><ellipse cx="573.2" cy="231.33" rx="1.94" ry="1.54"/><ellipse cx="594.2" cy="230.77" rx="1.79" ry="1.7"/><ellipse cx="613.48" cy="231.27" rx="1.59" ry="2.03"/><ellipse cx="676.17" cy="231.05" rx="1.96" ry="1.5"/><ellipse cx="682.03" cy="230.97" rx="2.08" ry="2.18"/><ellipse cx="689.43" cy="230.5" rx="1.89" ry="2.43"/><ellipse cx="695.79" cy="230.17" rx="2.05" ry="1.56"/><ellipse cx="520.16" cy="236.75" rx="1.53" ry="1.98"/><ellipse cx="528.74" cy="236.16" rx="2.18" ry="2.15"/><ellipse cx="547.41" cy="235.25" rx="1.54" ry="1.87"/><ellipse cx="561.45" cy="235.72" rx="2.2" ry="2.45"/><ellipse cx="568.88" cy="237.44" rx="2.05" ry="1.59"/><ellipse cx="583.11" cy="235.09" rx="1.9" ry="1.29"/><ellipse cx="589.25" cy="237.35" rx="1.86" ry="1.81"/><ellipse cx="609.43" cy="236.78" rx="2.29" ry="2.13"/><ellipse cx="686.32" cy="236.73" rx="2.21" ry="2.37"/><ellipse cx="698.8" cy="235.33" rx="1.87" ry="2.53"/><ellipse cx="523.92" cy="241.19" rx="1.36" ry="1.37"/><ellipse cx="530.59" cy="243.21" rx="1.44" ry="1.94"/><ellipse cx="545.46" cy="242.15" rx="2.06" ry="2.03"/><ellipse cx="585.7" cy="241.67" rx="2.34" ry="2.3"/><ellipse cx="592.51" cy="243.38" rx="1.5" ry="1.76"/><ellipse cx="668.92" cy="241.07" rx="1.82" ry="1.78"/><ellipse cx="515.02" cy="247.31" rx="1.82" ry="2.01"/><ellipse cx="547.98" cy="247.76" rx="1.54" ry="1.55"/><ellipse cx="568.74" cy="247.18" rx="1.69" ry="1.48"/><ellipse cx="584.09" cy="247.64" rx="2.18" ry="1.91"/><ellipse cx="603.79" cy="248.63" rx="2.27" ry="2.26"/><ellipse cx="637.9" cy="247.24" rx="1.65" ry="1.6"/><ellipse cx="645.87" cy="248.11" rx="1.52" ry="1.67"/><ellipse cx="658" cy="248.84" rx="2.31" ry="1.95"/><ellipse cx="666.19" cy="249.18" rx="1.79" ry="1.83"/><ellipse cx="678.34" cy="249.17" rx="1.81" ry="1.91"/><ellipse cx="706.17" cy="249.32" rx="1.6" ry="1.51"/><ellipse cx="544.49" cy="254.91" rx="1.99" ry="1.74"/><ellipse cx="601.02" cy="255.19" rx="1.74" ry="1.5"/><ellipse cx="619.7" cy="253.15" rx="2" ry="2.49"/><ellipse cx="626.41" cy="254.56" rx="2.09" ry="2.34"/><ellipse cx="634.32" cy="253.64" rx="2.01" ry="2.15"/><ellipse cx="648.91" cy="254.35" rx="2.4" ry="1.64"/><ellipse cx="668.7" cy="254.14" rx="1.94" ry="1.86"/><ellipse cx="676.53" cy="252.98" rx="2.04" ry="1.96"/><ellipse cx="695.56" cy="254.33" rx="1.99" ry="2.48"/><ellipse cx="548.41" cy="259.02" rx="1.53" ry="2.16"/><ellipse cx="556.06" cy="260.15" rx="1.65" ry="1.76"/><ellipse cx="574.78" cy="259.57" rx="1.85" ry="1.8"/><ellipse cx="582.59" cy="260.65" rx="1.91" ry="1.76"/><ellipse cx="590.61" cy="260.02" rx="1.84" ry="2.08"/><ellipse cx="611" cy="261.35" rx="1.69" ry="1.43"/><ellipse cx="618.29" cy="261.4" rx="1.55" ry="1.38"/><ellipse cx="659.61" cy="259.92" rx="2.04" ry="1.64"/><ellipse cx="666.54" cy="259.47" rx="1.51" ry="2.02"/><ellipse cx="543.98" cy="264.79" rx="1.77" ry="2.4"/><ellipse cx="585.94" cy="264.82" rx="1.95" ry="1.81"/><ellipse cx="598.68" cy="265.34" rx="2.33" ry="1.75"/><ellipse cx="620.94" cy="267.1" rx="1.84" ry="2.41"/><ellipse cx="675.97" cy="265.41" rx="2.42" ry="2.14"/><ellipse cx="554.39" cy="272.04" rx="1.97" ry="2.13"/><ellipse cx="569.69" cy="271.35" rx="1.45" ry="1.42"/><ellipse cx="576.4" cy="272.24" rx="1.5" ry="1.55"/><ellipse cx="590.72" cy="273.34" rx="1.5" ry="1.97"/><ellipse cx="604.63" cy="270.78" rx="1.95" ry="2.46"/><ellipse cx="617.45" cy="270.76" rx="1.48" ry="1.58"/><ellipse cx="624.67" cy="272.41" rx="1.51" ry="2.21"/><ellipse cx="637.4" cy="272.76" rx="1.75" ry="1.52"/><ellipse cx="673.3" cy="272.75" rx="1.76" ry="1.84"/><ellipse cx="678.19" cy="272.97" rx="1.82" ry="1.66"/><ellipse cx="693.45" cy="272.03" rx="2.19" ry="2.3"/><ellipse cx="708.03" cy="272.7" rx="1.57" ry="1.55"/><ellipse cx="531.35" cy="278.43" rx="1.89" ry="1.89"/><ellipse cx="557.48" cy="276.91" rx="1.91" ry="1.5"/><ellipse cx="571.69" cy="277.18" rx="1.95" ry="2.43"/><ellipse cx="579.46" cy="279.18" rx="1.87" ry="1.79"/><ellipse cx="591.99" cy="276.89" rx="1.38" ry="1.91"/><ellipse cx="649.22" cy="277.46" rx="1.98" ry="2.49"/><ellipse cx="667.96" cy="278.27" rx="2.35" ry="2.08"/><ellipse cx="515.04" cy="284.82" rx="1.62" ry="1.75"/><ellipse cx="527.86" cy="284.6" rx="1.84" ry="1.59"/><ellipse cx="540.05" cy="284.22" rx="1.99" ry="1.41"/><ellipse cx="562.02" cy="283.88" rx="2.26" ry="1.91"/><ellipse cx="575.16" cy="284.98" rx="1.59" ry="1.65"/><ellipse cx="582.08" cy="285.33" rx="1.62" ry="1.63"/><ellipse cx="589.9" cy="283.56" rx="2.57" ry="1.86"/><ellipse cx="632.09" cy="283.89" rx="2.04" ry="1.94"/><ellipse cx="694.12" cy="285.44" rx="2.27" ry="2.31"/><ellipse cx="707.45" cy="284.25" rx="2.3" ry="2.43"/><ellipse cx="523.57" cy="289.6" rx="1.96" ry="2.2"/><ellipse cx="578.49" cy="290.73" rx="1.77" ry="1.75"/><ellipse cx="619.98" cy="291.31" rx="1.91" ry="1.78"/><ellipse cx="635.42" cy="290.39" rx="2.05" ry="1.63"/><ellipse cx="648.61" cy="291.1" rx="1.62" ry="1.76"/><ellipse cx="667.9" cy="289.77" rx="1.6" ry="1.39"/><ellipse cx="689.34" cy="289.06" rx="1.94" ry="1.54"/><ellipse cx="513.18" cy="297.15" rx="1.85" ry="1.56"/><ellipse cx="554.61" cy="296.13" rx="2.19" ry="1.81"/><ellipse cx="596.42" cy="296.63" rx="2.52" ry="1.89"/><ellipse cx="604.64" cy="295.27" rx="1.71" ry="1.88"/><ellipse cx="609.62" cy="295.51" rx="1.8" ry="1.67"/><ellipse cx="643.6" cy="297.04" rx="1.94" ry="1.97"/><ellipse cx="651.77" cy="296.6" rx="1.52" ry="1.47"/><ellipse cx="665.22" cy="295.72" rx="1.75" ry="2.12"/><ellipse cx="678.12" cy="297.38" rx="2.02" ry="2.03"/><ellipse cx="686.97" cy="295.56" rx="1.78" ry="1.56"/><ellipse cx="691.95" cy="295.17" rx="2.38" ry="2.27"/><ellipse cx="707.98" cy="297.36" rx="2.42" ry="1.77"/><ellipse cx="564.87" cy="302.62" rx="1.45" ry="1.5"/><ellipse cx="578.48" cy="302.33" rx="1.86" ry="1.42"/><ellipse cx="614.24" cy="301.83" rx="1.42" ry="1.57"/><ellipse cx="620.71" cy="300.85" rx="1.85" ry="2.19"/><ellipse cx="634.3" cy="301.8" rx="2.24" ry="2.2"/><ellipse cx="684.03" cy="302.69" rx="1.53" ry="1.6"/><ellipse cx="688.7" cy="303.44" rx="2.21" ry="1.88"/><ellipse cx="702.45" cy="303.16" rx="1.91" ry="1.82"/><ellipse cx="519.75" cy="307.88" rx="1.98" ry="2.17"/><ellipse cx="527.09" cy="307.72" rx="1.75" ry="1.68"/><ellipse cx="548.73" cy="307.45" rx="1.77" ry="1.59"/><ellipse cx="554.72" cy="308.1" rx="1.46" ry="1.42"/><ellipse cx="581.48" cy="308.56" rx="1.9" ry="1.52"/><ellipse cx="589.01" cy="308.71" rx="2.14" ry="2.5"/><ellipse cx="596.47" cy="307.23" rx="1.91" ry="2.08"/><ellipse cx="603.34" cy="308.15" rx="2.09" ry="1.76"/><ellipse cx="610.24" cy="307.09" rx="2.34" ry="2.17"/><ellipse cx="617.52" cy="307.71" rx="1.75" ry="1.73"/><ellipse cx="629.7" cy="307.87" rx="2.28" ry="1.8"/><ellipse cx="643.51" cy="308.5" rx="1.95" ry="1.51"/><ellipse cx="692.09" cy="309.25" rx="1.46" ry="1.81"/><ellipse cx="705.67" cy="309.4" rx="1.67" ry="2.31"/><ellipse cx="532.14" cy="313.52" rx="1.67" ry="1.92"/><ellipse cx="573.67" cy="314.44" rx="1.78" ry="1.78"/><ellipse cx="592.89" cy="312.92" rx="2.02" ry="2.51"/><ellipse cx="622" cy="315.4" rx="1.6" ry="1.92"/><ellipse cx="667.96" cy="313.49" rx="1.55" ry="1.84"/><ellipse cx="675.94" cy="315.3" rx="1.87" ry="2.17"/><ellipse cx="527.63" cy="319.93" rx="2.15" ry="1.94"/><ellipse cx="547.57" cy="318.78" rx="1.79" ry="2.09"/><ellipse cx="561.05" cy="320.33" rx="2.14" ry="2.26"/><ellipse cx="570" cy="320.51" rx="1.92" ry="1.81"/><ellipse cx="590.87" cy="320.44" rx="2.45" ry="1.95"/><ellipse cx="595.53" cy="319.73" rx="1.72" ry="2.47"/><ellipse cx="617.59" cy="319.57" rx="1.81" ry="2.11"/><ellipse cx="666.44" cy="321.16" rx="1.73" ry="2.2"/><ellipse cx="692.22" cy="318.75" rx="1.9" ry="1.64"/><ellipse cx="706.09" cy="321.12" rx="1.7" ry="1.75"/><ellipse cx="565.08" cy="326.02" rx="2.23" ry="2.42"/><ellipse cx="578.8" cy="325.87" rx="1.66" ry="2.16"/><ellipse cx="621.17" cy="327.42" rx="1.98" ry="1.69"/><ellipse cx="642.15" cy="325.5" rx="1.81" ry="2.13"/><ellipse cx="655.08" cy="324.82" rx="1.86" ry="1.81"/><ellipse cx="661.84" cy="325.57" rx="2.28" ry="2.07"/><ellipse cx="535.63" cy="331.92" rx="1.48" ry="1.61"/><ellipse cx="540.06" cy="330.8" rx="1.68" ry="1.82"/><ellipse cx="547.6" cy="332.93" rx="1.37" ry="1.98"/><ellipse cx="554.02" cy="333.09" rx="1.83" ry="2.19"/><ellipse cx="561.77" cy="331.31" rx="2.09" ry="2.13"/><ellipse cx="603.23" cy="330.99" rx="1.94" ry="2.16"/><ellipse cx="610.82" cy="331.84" rx="1.93" ry="2"/><ellipse cx="665.66" cy="331.58" rx="2.01" ry="1.61"/><ellipse cx="687.3" cy="333.46" rx="2.06" ry="1.96"/><ellipse cx="700.22" cy="331.73" rx="1.84" ry="2.18"/><ellipse cx="537.32" cy="337.36" rx="1.44" ry="1.65"/><ellipse cx="544.91" cy="337.74" rx="1.49" ry="1.45"/><ellipse cx="585.17" cy="338.27" rx="1.94" ry="1.93"/><ellipse cx="620.32" cy="337.45" rx="2.49" ry="2.39"/><ellipse cx="628.73" cy="338.52" rx="1.89" ry="2.26"/><ellipse cx="648.54" cy="338.35" rx="2.25" ry="1.88"/><ellipse cx="662.22" cy="338.52" rx="2.4" ry="1.82"/><ellipse cx="703.43" cy="338.86" rx="1.8" ry="1.36"/><ellipse cx="513.71" cy="344.66" rx="1.91" ry="2.09"/><ellipse cx="520.26" cy="345.17" rx="1.99" ry="1.49"/><ellipse cx="561.93" cy="344.75" rx="2.05" ry="1.9"/><ellipse cx="590.98" cy="343.38" rx="1.87" ry="1.86"/><ellipse cx="597.16" cy="343.03" rx="1.52" ry="2.1"/><ellipse cx="631.61" cy="345.41" rx="2.37" ry="1.88"/><ellipse cx="638.78" cy="344.97" rx="1.79" ry="2.17"/><ellipse cx="658.58" cy="344.64" rx="1.65" ry="1.7"/><ellipse cx="678.31" cy="343.19" rx="1.68" ry="1.66"/><ellipse cx="686.05" cy="343.27" rx="1.9" ry="2.14"/><ellipse cx="694.26" cy="344.84" rx="1.95" ry="2.03"/><ellipse cx="537.93" cy="351.12" rx="1.95" ry="1.98"/><ellipse cx="564.83" cy="348.85" rx="1.85" ry="1.45"/><ellipse cx="586.66" cy="349.7" rx="1.65" ry="1.89"/><ellipse cx="606.62" cy="349.09" rx="2.24" ry="2.35"/><ellipse cx="613.09" cy="351.42" rx="1.83" ry="2.12"/><ellipse cx="661.49" cy="351.08" rx="2.01" ry="1.84"/><ellipse cx="670.01" cy="348.81" rx="2.08" ry="1.68"/><ellipse cx="688.5" cy="350.3" rx="1.9" ry="1.71"/><ellipse cx="703.31" cy="350.46" rx="1.44" ry="1.57"/></g>
<g fill="#1e1e1e"><ellipse cx="521.78" cy="211.97" rx="1.69" ry="2.1"/><ellipse cx="527.48" cy="212.43" rx="1.78" ry="1.94"/><ellipse cx="541.27" cy="212.65" rx="2.31" ry="2.49"/><ellipse cx="548.1" cy="213.25" rx="1.78" ry="1.82"/><ellipse cx="554.97" cy="212.4" rx="1.79" ry="1.7"/><ellipse cx="561.79" cy="211.31" rx="2.1" ry="1.46"/><ellipse cx="569.42" cy="211.12" rx="2.51" ry="2.46"/><ellipse cx="576.28" cy="212.42" rx="1.99" ry="1.86"/><ellipse cx="611.62" cy="213.14" rx="1.8" ry="1.84"/><ellipse cx="617.75" cy="210.95" rx="2.46" ry="1.98"/><ellipse cx="678.72" cy="212.84" rx="1.92" ry="1.5"/><ellipse cx="692.93" cy="212.1" rx="2.08" ry="2.22"/><ellipse cx="699.8" cy="213.21" rx="1.36" ry="1.99"/><ellipse cx="706.77" cy="213.29" rx="1.92" ry="2.37"/><ellipse cx="531.21" cy="216.71" rx="1.78" ry="1.88"/><ellipse cx="538" cy="216.82" rx="1.82" ry="1.83"/><ellipse cx="550.98" cy="217.43" rx="1.82" ry="2.49"/><ellipse cx="586.35" cy="218.65" rx="1.52" ry="1.59"/><ellipse cx="593.51" cy="218.17" rx="1.62" ry="2.29"/><ellipse cx="599.99" cy="218.61" rx="2" ry="1.82"/><ellipse cx="613.45" cy="219.15" rx="1.88" ry="2.04"/><ellipse cx="628.46" cy="218.65" rx="1.69" ry="1.8"/><ellipse cx="641.88" cy="218.98" rx="2.24" ry="2.43"/><ellipse cx="656.22" cy="217.17" rx="1.97" ry="1.74"/><ellipse cx="668.66" cy="217.32" rx="2.45" ry="2.56"/><ellipse cx="688.7" cy="218.75" rx="1.7" ry="1.98"/><ellipse cx="528.33" cy="225.11" rx="1.9" ry="1.88"/><ellipse cx="533.26" cy="223.28" rx="2.03" ry="1.95"/><ellipse cx="581.67" cy="225.28" rx="1.85" ry="1.82"/><ellipse cx="589.24" cy="224.66" rx="2.06" ry="1.75"/><ellipse cx="616.6" cy="223.73" rx="1.73" ry="2.13"/><ellipse cx="630.09" cy="224.3" rx="2.06" ry="2.34"/><ellipse cx="652.53" cy="222.76" rx="2.41" ry="2.46"/><ellipse cx="659.77" cy="223.53" rx="1.92" ry="2.06"/><ellipse cx="671.55" cy="224.4" rx="1.91" ry="1.52"/><ellipse cx="707.5" cy="223.29" rx="1.99" ry="1.72"/><ellipse cx="537.23" cy="229.7" rx="2.14" ry="1.83"/><ellipse cx="578.8" cy="228.84" rx="1.56" ry="1.95"/><ellipse cx="606.92" cy="230.19" rx="2.14" ry="1.85"/><ellipse cx="621.47" cy="230.01" rx="1.53" ry="1.92"/><ellipse cx="635.21" cy="230.55" rx="1.48" ry="1.89"/><ellipse cx="647.46" cy="230.85" rx="2.01" ry="1.99"/><ellipse cx="661.35" cy="231.35" rx="1.78" ry="1.68"/><ellipse cx="704.2" cy="231.23" rx="1.9" ry="2.24"/><ellipse cx="554.16" cy="235.91" rx="2.1" ry="1.89"/><ellipse cx="603.92" cy="236.06" rx="1.9" ry="1.65"/><ellipse cx="617.27" cy="236.98" rx="1.76" ry="1.68"/><ellipse cx="622.94" cy="236.93" rx="1.89" ry="2.07"/><ellipse cx="631.09" cy="235.71" rx="1.82" ry="1.64"/><ellipse cx="636.85" cy="236.82" rx="1.7" ry="1.68"/><ellipse cx="643.9" cy="235.55" rx="1.85" ry="2.18"/><ellipse cx="652.06" cy="234.77" rx="1.98" ry="1.94"/><ellipse cx="659.35" cy="235.42" rx="1.55" ry="1.51"/><ellipse cx="679.12" cy="235.82" rx="2.14" ry="2.53"/><ellipse cx="694.46" cy="236.59" rx="2.22" ry="1.83"/><ellipse cx="551.54" cy="242.16" rx="1.85" ry="2.18"/><ellipse cx="573.21" cy="243.42" rx="2.03" ry="2.23"/><ellipse cx="579.52" cy="241.58" rx="1.73" ry="1.92"/><ellipse cx="608.24" cy="242.14" rx="1.95" ry="1.54"/><ellipse cx="627.05" cy="242.08" rx="1.75" ry="1.95"/><ellipse cx="640.9" cy="241.47" rx="1.64" ry="1.89"/><ellipse cx="647.92" cy="242.68" rx="1.84" ry="1.95"/><ellipse cx="675.72" cy="240.95" rx="2.35" ry="1.82"/><ellipse cx="684.16" cy="240.87" rx="1.59" ry="1.56"/><ellipse cx="702.76" cy="241.98" rx="2.15" ry="1.93"/><ellipse cx="561.26" cy="248.54" rx="1.71" ry="2.16"/><ellipse cx="575.82" cy="248.29" rx="2.04" ry="1.89"/><ellipse cx="590.66" cy="247.09" rx="1.68" ry="1.54"/><ellipse cx="610.46" cy="249.42" rx="2.31" ry="1.93"/><ellipse cx="631.16" cy="247.97" rx="2.19" ry="2.03"/><ellipse cx="671.99" cy="247" rx="1.8" ry="1.71"/><ellipse cx="685.58" cy="248.19" rx="1.86" ry="1.6"/><ellipse cx="691.77" cy="248.87" rx="1.83" ry="1.48"/><ellipse cx="522.98" cy="254.62" rx="1.99" ry="2.14"/><ellipse cx="550.97" cy="252.71" rx="1.49" ry="1.65"/><ellipse cx="564.66" cy="254.26" rx="1.94" ry="1.83"/><ellipse cx="571.6" cy="254.31" rx="2.22" ry="1.73"/><ellipse cx="578.2" cy="255.25" rx="2.05" ry="1.9"/><ellipse cx="593.76" cy="254.82" rx="1.3" ry="1.69"/><ellipse cx="615.08" cy="253.22" rx="1.81" ry="1.67"/><ellipse cx="654.32" cy="252.96" rx="1.71" ry="1.54"/><ellipse cx="662.31" cy="253.73" rx="1.98" ry="2.36"/><ellipse cx="683.11" cy="254" rx="1.67" ry="1.41"/><ellipse cx="704.86" cy="253.13" rx="2.12" ry="2.01"/><ellipse cx="528.21" cy="258.95" rx="2.15" ry="2.19"/><ellipse cx="534.17" cy="260.09" rx="2.02" ry="2.09"/><ellipse cx="540.17" cy="259.38" rx="1.48" ry="2.04"/><ellipse cx="623.73" cy="260.03" rx="1.58" ry="1.56"/><ellipse cx="629.89" cy="261.15" rx="1.38" ry="1.87"/><ellipse cx="637.49" cy="260.9" rx="1.59" ry="1.38"/><ellipse cx="652.74" cy="260.63" rx="1.6" ry="2.19"/><ellipse cx="678.79" cy="258.9" rx="2.36" ry="2.24"/><ellipse cx="693.56" cy="259.96" rx="2.08" ry="2.09"/><ellipse cx="700.72" cy="260.84" rx="2.33" ry="2.45"/><ellipse cx="550.76" cy="264.96" rx="2.18" ry="1.89"/><ellipse cx="558.7" cy="264.73" rx="2.07" ry="1.79"/><ellipse cx="564.81" cy="267.08" rx="2.16" ry="1.8"/><ellipse cx="591.84" cy="265.43" rx="1.77" ry="1.95"/><ellipse cx="606.54" cy="265.68" rx="1.75" ry="2.27"/><ellipse cx="612.85" cy="265.42" rx="1.93" ry="2.01"/><ellipse cx="628.32" cy="265.78" rx="1.83" ry="1.52"/><ellipse cx="634.12" cy="266.88" rx="1.99" ry="1.9"/><ellipse cx="641.57" cy="265.9" rx="2" ry="1.82"/><ellipse cx="670.25" cy="266.98" rx="2.27" ry="1.78"/><ellipse cx="514.74" cy="272.33" rx="2" ry="2.04"/><ellipse cx="521.79" cy="273.09" rx="1.35" ry="1.68"/><ellipse cx="526.79" cy="272.89" rx="1.49" ry="1.9"/><ellipse cx="582.02" cy="271.82" rx="2.22" ry="2.2"/><ellipse cx="610.27" cy="272.63" rx="2.01" ry="1.5"/><ellipse cx="629.81" cy="271.65" rx="1.98" ry="2.23"/><ellipse cx="645.32" cy="273.36" rx="2.17" ry="1.92"/><ellipse cx="651.88" cy="271.57" rx="1.55" ry="1.9"/><ellipse cx="659.02" cy="271.5" rx="2.38" ry="1.74"/><ellipse cx="666.76" cy="270.71" rx="2.03" ry="1.62"/><ellipse cx="686.55" cy="271.42" rx="1.58" ry="1.68"/><ellipse cx="699.49" cy="272.73" rx="1.79" ry="2.18"/><ellipse cx="525.03" cy="278.59" rx="1.68" ry="2.04"/><ellipse cx="551.15" cy="279.25" rx="1.83" ry="2.06"/><ellipse cx="566.3" cy="276.83" rx="1.44" ry="1.47"/><ellipse cx="585.44" cy="279.11" rx="1.72" ry="1.76"/><ellipse cx="620.35" cy="279.45" rx="1.85" ry="1.7"/><ellipse cx="628.97" cy="279.07" rx="2.29" ry="1.86"/><ellipse cx="655.69" cy="279.44" rx="2.14" ry="1.86"/><ellipse cx="661.58" cy="277.59" rx="1.78" ry="2.07"/><ellipse cx="676.89" cy="277.48" rx="1.98" ry="1.47"/><ellipse cx="689.07" cy="278.42" rx="1.66" ry="1.81"/><ellipse cx="696.75" cy="277.48" rx="1.87" ry="2.46"/><ellipse cx="702.34" cy="277.05" rx="1.99" ry="1.67"/><ellipse cx="519.34" cy="284.32" rx="2.18" ry="2.01"/><ellipse cx="548.11" cy="282.94" rx="1.45" ry="1.72"/><ellipse cx="554.72" cy="285.13" rx="1.93" ry="1.56"/><ellipse cx="568.59" cy="284.67" rx="2.22" ry="1.89"/><ellipse cx="610.82" cy="283.58" rx="1.88" ry="1.99"/><ellipse cx="617.35" cy="284.63" rx="1.93" ry="1.46"/><ellipse cx="658.93" cy="283.59" rx="2.33" ry="1.85"/><ellipse cx="664.82" cy="283.23" rx="2.56" ry="1.84"/><ellipse cx="687.62" cy="284.76" rx="2.35" ry="1.82"/><ellipse cx="530.39" cy="289.4" rx="2" ry="1.75"/><ellipse cx="537.2" cy="290.98" rx="1.7" ry="1.56"/><ellipse cx="545.82" cy="291.31" rx="1.55" ry="1.6"/><ellipse cx="558.75" cy="290.07" rx="1.92" ry="1.75"/><ellipse cx="586.65" cy="291.21" rx="2.32" ry="1.86"/><ellipse cx="607.08" cy="288.98" rx="2.11" ry="1.87"/><ellipse cx="663.05" cy="288.82" rx="1.8" ry="1.66"/><ellipse cx="676.36" cy="291.02" rx="1.97" ry="2.19"/><ellipse cx="682.43" cy="289.83" rx="1.76" ry="1.89"/><ellipse cx="703.59" cy="290.44" rx="1.99" ry="1.89"/><ellipse cx="528.18" cy="295.04" rx="1.9" ry="1.75"/><ellipse cx="534.74" cy="297.26" rx="1.55" ry="1.81"/><ellipse cx="547.39" cy="296.7" rx="2.26" ry="2.22"/><ellipse cx="576.57" cy="296.8" rx="2.03" ry="2.01"/><ellipse cx="582.05" cy="296.55" rx="1.99" ry="2.25"/><ellipse cx="588.76" cy="295.24" rx="1.79" ry="2"/><ellipse cx="616.91" cy="296.6" rx="2.22" ry="1.96"/><ellipse cx="629.98" cy="297.44" rx="1.82" ry="1.62"/><ellipse cx="659.23" cy="296.55" rx="2.3" ry="2.19"/><ellipse cx="672.14" cy="296.59" rx="1.99" ry="1.86"/><ellipse cx="538.88" cy="302.2" rx="1.98" ry="1.64"/><ellipse cx="551.69" cy="301.92" rx="2.24" ry="2.31"/><ellipse cx="572.23" cy="301.2" rx="1.61" ry="1.5"/><ellipse cx="600.83" cy="302.63" rx="1.95" ry="2.05"/><ellipse cx="640.85" cy="302.58" rx="1.55" ry="1.6"/><ellipse cx="661.35" cy="303.42" rx="1.55" ry="1.43"/><ellipse cx="670.05" cy="301.39" rx="1.94" ry="1.92"/><ellipse cx="695.54" cy="301.32" rx="1.5" ry="1.54"/><ellipse cx="512.57" cy="307.21" rx="1.41" ry="1.56"/><ellipse cx="541.24" cy="309.26" rx="1.64" ry="1.8"/><ellipse cx="562.78" cy="307.44" rx="1.83" ry="1.93"/><ellipse cx="568.36" cy="306.78" rx="1.79" ry="1.58"/><ellipse cx="576.71" cy="307.22" rx="1.74" ry="2.18"/><ellipse cx="637.77" cy="308.77" rx="1.82" ry="2.35"/><ellipse cx="666.66" cy="307.73" rx="1.66" ry="1.93"/><ellipse cx="672.71" cy="307.26" rx="1.68" ry="1.48"/><ellipse cx="680.54" cy="308.84" rx="1.83" ry="1.43"/><ellipse cx="544.44" cy="314.51" rx="1.8" ry="1.43"/><ellipse cx="613.34" cy="313.9" rx="2.05" ry="2.15"/><ellipse cx="626.86" cy="315.28" rx="1.52" ry="1.64"/><ellipse cx="640.02" cy="312.94" rx="1.94" ry="1.61"/><ellipse cx="647.19" cy="313.03" rx="2.53" ry="2.31"/><ellipse cx="663.06" cy="313.43" rx="1.71" ry="2.07"/><ellipse cx="683.69" cy="314.6" rx="1.32" ry="1.91"/><ellipse cx="702.5" cy="315.26" rx="2.09" ry="1.71"/><ellipse cx="514.38" cy="321.25" rx="1.96" ry="2.22"/><ellipse cx="533.4" cy="318.97" rx="1.99" ry="1.67"/><ellipse cx="603.17" cy="320.69" rx="2.23" ry="2.08"/><ellipse cx="611.35" cy="320.39" rx="1.86" ry="1.63"/><ellipse cx="686.59" cy="319.06" rx="1.47" ry="1.87"/><ellipse cx="529.79" cy="324.76" rx="1.7" ry="2.1"/><ellipse cx="545.59" cy="324.82" rx="2.33" ry="2.13"/><ellipse cx="550.98" cy="326.94" rx="1.61" ry="1.75"/><ellipse cx="593.33" cy="325.71" rx="1.55" ry="2.25"/><ellipse cx="607.92" cy="326.93" rx="1.57" ry="1.55"/><ellipse cx="613.44" cy="327.18" rx="2.18" ry="2.29"/><ellipse cx="635.16" cy="327.16" rx="2.2" ry="2.05"/><ellipse cx="647.42" cy="325.63" rx="1.74" ry="1.79"/><ellipse cx="669.05" cy="326.41" rx="2.07" ry="1.58"/><ellipse cx="682.54" cy="325.19" rx="1.48" ry="1.54"/><ellipse cx="690.6" cy="325.27" rx="2.27" ry="2.08"/><ellipse cx="574.91" cy="332.61" rx="1.69" ry="1.71"/><ellipse cx="583.67" cy="331.76" rx="2.02" ry="2.01"/><ellipse cx="590.61" cy="332.89" rx="2.17" ry="1.88"/><ellipse cx="596.28" cy="330.77" rx="2.12" ry="2.08"/><ellipse cx="616.86" cy="332.48" rx="2" ry="2.15"/><ellipse cx="625.02" cy="331.44" rx="1.86" ry="1.51"/><ellipse cx="639.19" cy="333.46" rx="1.56" ry="1.84"/><ellipse cx="651.91" cy="332.8" rx="1.78" ry="2.25"/><ellipse cx="692.6" cy="332.9" rx="1.49" ry="1.79"/><ellipse cx="706.96" cy="330.96" rx="2.11" ry="2.06"/><ellipse cx="523.56" cy="338.95" rx="2.03" ry="1.45"/><ellipse cx="531.08" cy="337.25" rx="2.11" ry="2.52"/><ellipse cx="551.92" cy="338.49" rx="1.88" ry="1.83"/><ellipse cx="559.86" cy="339.26" rx="1.74" ry="2.36"/><ellipse cx="565.93" cy="336.99" rx="1.91" ry="2.36"/><ellipse cx="571.38" cy="338.37" rx="2.04" ry="1.93"/><ellipse cx="580.52" cy="337.68" rx="1.49" ry="1.84"/><ellipse cx="614.5" cy="338.21" rx="1.77" ry="2.2"/><ellipse cx="654.99" cy="338.53" rx="1.36" ry="1.54"/><ellipse cx="682.24" cy="337.04" rx="2.11" ry="2.03"/><ellipse cx="688.58" cy="336.86" rx="1.82" ry="2.16"/><ellipse cx="549.47" cy="344.17" rx="2.45" ry="2.33"/><ellipse cx="568.62" cy="344.28" rx="1.89" ry="1.7"/><ellipse cx="575.01" cy="345.07" rx="1.86" ry="2.26"/><ellipse cx="603.89" cy="344.89" rx="1.63" ry="1.38"/><ellipse cx="616.74" cy="344.5" rx="1.36" ry="1.37"/><ellipse cx="623.81" cy="345.08" rx="2.44" ry="1.73"/><ellipse cx="652.87" cy="343.48" rx="1.77" ry="2.07"/><ellipse cx="699.12" cy="345.3" rx="2.36" ry="2.54"/><ellipse cx="706.24" cy="344.74" rx="1.53" ry="1.55"/><ellipse cx="524.45" cy="351.24" rx="2.48" ry="1.71"/><ellipse cx="550.75" cy="351.25" rx="1.78" ry="1.72"/><ellipse cx="573.5" cy="351.47" rx="2.14" ry="1.52"/><ellipse cx="592.88" cy="348.83" rx="1.79" ry="1.93"/><ellipse cx="601.08" cy="350.03" rx="1.5" ry="1.42"/><ellipse cx="648.48" cy="351.03" rx="1.81" ry="2.11"/><ellipse cx="654.92" cy="350.5" rx="2.36" ry="2.13"/><ellipse cx="684.12" cy="349.49" rx="1.65" ry="2.18"/></g>
</g>
<rect x="517.2" y="345.8" width="185.8" height="8.7" fill="#050505" stroke="none" stroke-width="1" />
<text x="519.4" y="352.3" font-size="5.7" text-anchor="start" fill="#d4d4d4" >GIEC17-997 2.0kV 3.9mm x50.0k SE(M) 10/25/2017 16:43</text>
<text x="700" y="352.3" font-size="5.6" text-anchor="end" fill="#cfcfcf" >1.00um</text>
<path d="M699,346.4v1.4M690.8,346.4v1.4M682.6,346.4v1.4M674.4,346.4v1.4M666.2,346.4v1.4M658,346.4v1.4M649.8,346.4v1.4M641.6,346.4v1.4M633.4,346.4v1.4M625.2,346.4v1.4M617,346.4v1.4" stroke="#cfcfcf" stroke-width="0.8"/>
<text x="23" y="393.3" font-size="39" text-anchor="start" fill="#000" textLength="239.2" lengthAdjust="spacingAndGlyphs">Pristine TNTA</text>
<text x="322.9" y="391.6" font-size="39" text-anchor="start" fill="#000" textLength="114.8" lengthAdjust="spacingAndGlyphs">sTNTA</text>
<text x="506.3" y="393.1" font-size="39" text-anchor="start" fill="#000" textLength="208.4" lengthAdjust="spacingAndGlyphs">IrO2/sTNTA</text>
<text x="769.8" y="31.8" font-size="28.6" text-anchor="start" fill="#000" textLength="34.5" lengthAdjust="spacingAndGlyphs">(a)</text>
<path d="M871.5,302.6h4.8v4.8h-4.8zM874.52,302.6h4.8v4.8h-4.8zM877.54,302.61h4.8v4.8h-4.8zM880.56,302.61h4.8v4.8h-4.8zM883.58,302.62h4.8v4.8h-4.8zM886.6,302.62h4.8v4.8h-4.8zM889.62,302.63h4.8v4.8h-4.8zM892.64,302.63h4.8v4.8h-4.8zM895.66,302.64h4.8v4.8h-4.8zM898.68,302.64h4.8v4.8h-4.8zM901.7,302.65h4.8v4.8h-4.8zM904.72,302.65h4.8v4.8h-4.8zM907.74,302.65h4.8v4.8h-4.8zM910.76,302.66h4.8v4.8h-4.8zM913.78,302.66h4.8v4.8h-4.8zM916.8,302.66h4.8v4.8h-4.8zM919.82,302.66h4.8v4.8h-4.8zM922.84,302.65h4.8v4.8h-4.8zM925.86,302.65h4.8v4.8h-4.8zM928.88,302.64h4.8v4.8h-4.8zM931.9,302.63h4.8v4.8h-4.8zM934.92,302.62h4.8v4.8h-4.8zM937.94,302.6h4.8v4.8h-4.8zM940.96,302.56h4.8v4.8h-4.8zM943.98,302.52h4.8v4.8h-4.8zM947,302.47h4.8v4.8h-4.8zM950.02,302.4h4.8v4.8h-4.8zM953.04,302.31h4.8v4.8h-4.8zM956.06,302.18h4.8v4.8h-4.8zM959.08,302.01h4.8v4.8h-4.8zM962.1,301.83h4.8v4.8h-4.8zM965.12,301.63h4.8v4.8h-4.8zM968.14,301.36h4.8v4.8h-4.8zM971.16,301.01h4.8v4.8h-4.8zM974.18,300.62h4.8v4.8h-4.8zM977.2,300.25h4.8v4.8h-4.8zM980.22,299.9h4.8v4.8h-4.8zM983.24,299.55h4.8v4.8h-4.8zM986.26,299.19h4.8v4.8h-4.8zM989.28,298.81h4.8v4.8h-4.8zM992.3,298.4h4.8v4.8h-4.8zM995.32,297.96h4.8v4.8h-4.8zM998.34,297.49h4.8v4.8h-4.8zM1001.36,297h4.8v4.8h-4.8zM1004.38,296.47h4.8v4.8h-4.8zM1007.4,295.9h4.8v4.8h-4.8zM1010.42,295.26h4.8v4.8h-4.8zM1013.44,294.59h4.8v4.8h-4.8zM1016.46,293.85h4.8v4.8h-4.8zM1019.48,292.97h4.8v4.8h-4.8zM1022.5,291.88h4.8v4.8h-4.8zM1025.52,290.51h4.8v4.8h-4.8zM1028.54,288.9h4.8v4.8h-4.8zM1031.56,287.05h4.8v4.8h-4.8zM1034.58,284.98h4.8v4.8h-4.8zM1037.6,282.5h4.8v4.8h-4.8zM1040.62,279.54h4.8v4.8h-4.8zM1043.64,276.33h4.8v4.8h-4.8zM1046.66,272.82h4.8v4.8h-4.8zM1049.68,269.04h4.8v4.8h-4.8zM1052.7,264.99h4.8v4.8h-4.8zM1055.72,260.67h4.8v4.8h-4.8zM1058.74,256.27h4.8v4.8h-4.8zM1061.76,251.83h4.8v4.8h-4.8zM1064.78,247.29h4.8v4.8h-4.8zM1067.8,242.65h4.8v4.8h-4.8zM1070.82,238.02h4.8v4.8h-4.8zM1073.84,232.86h4.8v4.8h-4.8zM1076.86,226.76h4.8v4.8h-4.8zM1079.88,220.03h4.8v4.8h-4.8zM1082.9,213.27h4.8v4.8h-4.8zM1085.92,206.54h4.8v4.8h-4.8zM1088.94,199.79h4.8v4.8h-4.8zM1091.96,193.1h4.8v4.8h-4.8zM1094.98,186.47h4.8v4.8h-4.8zM1098,179.9h4.8v4.8h-4.8zM1101.02,173.39h4.8v4.8h-4.8zM1104.04,166.96h4.8v4.8h-4.8zM1107.06,160.57h4.8v4.8h-4.8zM1110.08,154.23h4.8v4.8h-4.8zM1113.1,147.95h4.8v4.8h-4.8zM1116.12,141.69h4.8v4.8h-4.8zM1119.14,135.42h4.8v4.8h-4.8zM1122.16,129.44h4.8v4.8h-4.8zM1125.18,124.07h4.8v4.8h-4.8zM1128.2,119.17h4.8v4.8h-4.8zM1131.22,114.57h4.8v4.8h-4.8zM1134.24,110.08h4.8v4.8h-4.8zM1137.26,105.77h4.8v4.8h-4.8zM1140.28,101.77h4.8v4.8h-4.8zM1143.3,98.23h4.8v4.8h-4.8zM1146.32,95.1h4.8v4.8h-4.8zM1149.34,92.31h4.8v4.8h-4.8zM1152.36,89.82h4.8v4.8h-4.8zM1155.38,87.73h4.8v4.8h-4.8zM1158.4,85.74h4.8v4.8h-4.8zM1161.42,83.55h4.8v4.8h-4.8zM1164.44,81.23h4.8v4.8h-4.8zM1167.46,78.97h4.8v4.8h-4.8zM1170.48,76.82h4.8v4.8h-4.8zM1173.5,74.9h4.8v4.8h-4.8z" fill="#000"/>
<rect x="871.5" y="302.6" width="307.5" height="6.6" fill="#22e8f0" stroke="none" stroke-width="1" />
<line x1="873" y1="308.6" x2="1178" y2="308.6" stroke="#000" stroke-width="1.2" stroke-dasharray="1.5 1.5"/>
<line x1="1042" y1="309" x2="1147.6" y2="81.3" stroke="#ee1111" stroke-width="3.2" />
<rect x="844" y="43" width="362" height="266.6" fill="none" stroke="#000" stroke-width="2.4" />
<line x1="837.5" y1="305.8" x2="844" y2="305.8" stroke="#000" stroke-width="2.2" />
<text x="834.5" y="313.1" font-size="20.5" text-anchor="end" fill="#000" >0.0</text>
<line x1="837.5" y1="269.25" x2="844" y2="269.25" stroke="#000" stroke-width="2.2" />
<text x="834.5" y="276.55" font-size="20.5" text-anchor="end" fill="#000" >0.5</text>
<line x1="837.5" y1="232.7" x2="844" y2="232.7" stroke="#000" stroke-width="2.2" />
<text x="834.5" y="240" font-size="20.5" text-anchor="end" fill="#000" >1.0</text>
<line x1="837.5" y1="196.15" x2="844" y2="196.15" stroke="#000" stroke-width="2.2" />
<text x="834.5" y="203.45" font-size="20.5" text-anchor="end" fill="#000" >1.5</text>
<line x1="837.5" y1="159.6" x2="844" y2="159.6" stroke="#000" stroke-width="2.2" />
<text x="834.5" y="166.9" font-size="20.5" text-anchor="end" fill="#000" >2.0</text>
<line x1="837.5" y1="123.05" x2="844" y2="123.05" stroke="#000" stroke-width="2.2" />
<text x="834.5" y="130.35" font-size="20.5" text-anchor="end" fill="#000" >2.5</text>
<line x1="837.5" y1="86.5" x2="844" y2="86.5" stroke="#000" stroke-width="2.2" />
<text x="834.5" y="93.8" font-size="20.5" text-anchor="end" fill="#000" >3.0</text>
<line x1="837.5" y1="49.95" x2="844" y2="49.95" stroke="#000" stroke-width="2.2" />
<text x="834.5" y="57.25" font-size="20.5" text-anchor="end" fill="#000" >3.5</text>
<line x1="840.2" y1="287.53" x2="844" y2="287.53" stroke="#000" stroke-width="2.2" />
<line x1="840.2" y1="250.98" x2="844" y2="250.98" stroke="#000" stroke-width="2.2" />
<line x1="840.2" y1="214.43" x2="844" y2="214.43" stroke="#000" stroke-width="2.2" />
<line x1="840.2" y1="177.88" x2="844" y2="177.88" stroke="#000" stroke-width="2.2" />
<line x1="840.2" y1="141.33" x2="844" y2="141.33" stroke="#000" stroke-width="2.2" />
<line x1="840.2" y1="104.78" x2="844" y2="104.78" stroke="#000" stroke-width="2.2" />
<line x1="840.2" y1="68.23" x2="844" y2="68.23" stroke="#000" stroke-width="2.2" />
<line x1="873.66" y1="309.6" x2="873.66" y2="315.1" stroke="#000" stroke-width="2.2" />
<text x="873.66" y="335.4" font-size="20.5" text-anchor="middle" fill="#000" >-0.2</text>
<line x1="934.1" y1="309.6" x2="934.1" y2="315.1" stroke="#000" stroke-width="2.2" />
<text x="934.1" y="335.4" font-size="20.5" text-anchor="middle" fill="#000" >0.0</text>
<line x1="994.54" y1="309.6" x2="994.54" y2="315.1" stroke="#000" stroke-width="2.2" />
<text x="994.54" y="335.4" font-size="20.5" text-anchor="middle" fill="#000" >0.2</text>
<line x1="1054.98" y1="309.6" x2="1054.98" y2="315.1" stroke="#000" stroke-width="2.2" />
<text x="1054.98" y="335.4" font-size="20.5" text-anchor="middle" fill="#000" >0.4</text>
<line x1="1115.42" y1="309.6" x2="1115.42" y2="315.1" stroke="#000" stroke-width="2.2" />
<text x="1115.42" y="335.4" font-size="20.5" text-anchor="middle" fill="#000" >0.6</text>
<line x1="1175.86" y1="309.6" x2="1175.86" y2="315.1" stroke="#000" stroke-width="2.2" />
<text x="1175.86" y="335.4" font-size="20.5" text-anchor="middle" fill="#000" >0.8</text>
<line x1="903.88" y1="309.6" x2="903.88" y2="313.4" stroke="#000" stroke-width="2.2" />
<line x1="964.32" y1="309.6" x2="964.32" y2="313.4" stroke="#000" stroke-width="2.2" />
<line x1="1024.76" y1="309.6" x2="1024.76" y2="313.4" stroke="#000" stroke-width="2.2" />
<line x1="1085.2" y1="309.6" x2="1085.2" y2="313.4" stroke="#000" stroke-width="2.2" />
<line x1="1145.64" y1="309.6" x2="1145.64" y2="313.4" stroke="#000" stroke-width="2.2" />
<text x="903.4" y="358.8" font-size="21.4" text-anchor="start" fill="#000" textLength="236.4" lengthAdjust="spacingAndGlyphs">Potential / V vs. Ag/AgCl</text>
<text transform="rotate(-90)" x="-272.9" y="796.6" font-size="21.5" text-anchor="start" fill="#000" >1/C</text>
<text transform="rotate(-90)" x="-238.4" y="800.6" font-size="21.5" text-anchor="start" fill="#000" >sc</text>
<text transform="rotate(-90)" x="-212.9" y="788.4" font-size="21.5" text-anchor="start" fill="#000" >2</text>
<text transform="rotate(-90)" x="-195.6" y="795.3" font-size="21.5" text-anchor="start" fill="#000" >/</text>
<text transform="rotate(-90)" x="-180.6" y="795.3" font-size="21.5" text-anchor="start" fill="#000" >10</text>
<text transform="rotate(-90)" x="-156.9" y="786.9" font-size="21.5" text-anchor="start" fill="#000" >10</text>
<text transform="rotate(-90)" x="-128.4" y="795.3" font-size="21.5" text-anchor="start" fill="#000" >F</text>
<text transform="rotate(-90)" x="-113.5" y="786.3" font-size="21.5" text-anchor="start" fill="#000" >-2</text>
<rect x="1101.6" y="195.5" width="137.2" height="101.8" fill="#fff" stroke="#333" stroke-width="1" />
<rect x="1116" y="210.4" width="6.2" height="6.2" fill="#000" stroke="none" stroke-width="1" />
<circle cx="1119.1" cy="231.6" r="3.4" fill="#e8161b"/>
<path d="M1119.1,245.3 l3.8,6.6 h-7.6z" fill="#22d822"/>
<path d="M1119.1,269.8 l3.8,-6.6 h-7.6z" fill="#1010d0"/>
<path d="M1119.1,280.3 l3.9,3.9 l-3.9,3.9 l-3.9,-3.9z" fill="#2ee6f0"/>
<text x="1138.4" y="218.8" font-size="14.5" text-anchor="start" fill="#000" >Pristine TNTA</text>
<text x="1137.4" y="236.5" font-size="14.5" text-anchor="start" fill="#000" >-1.5V</text>
<text x="1137.4" y="254.2" font-size="14.5" text-anchor="start" fill="#000" >-1.7V</text>
<text x="1137.4" y="271.9" font-size="14.5" text-anchor="start" fill="#000" >-1.9V</text>
<text x="1137.4" y="289.6" font-size="14.5" text-anchor="start" fill="#000" >-2.1V</text>
<rect x="895.4" y="59.6" width="190" height="135.9" fill="#fff" stroke="#000" stroke-width="1.6" />
<polyline points="908.88,178.22 912.57,176.21 917.78,173.38 923.91,170.06 930.33,166.56 936.45,163.2 941.66,160.3 945.88,157.99 949.56,156.02 952.93,154.2 956.23,152.31 959.69,150.15 963.52,147.5 967.76,144.33 972.22,140.79 976.84,136.98 981.53,132.98 986.22,128.89 990.84,124.78 995.39,120.62 999.95,116.33 1004.5,111.94 1009.05,107.49 1013.61,103.01 1018.16,98.54 1023.03,93.75 1028.28,88.54 1033.53,83.3 1038.4,78.43 1042.51,74.31 1045.48,71.34" fill="none" stroke="#f01010" stroke-width="5.2" stroke-linejoin="round" stroke-linecap="round" stroke-linecap="butt"/>
<polyline points="908.88,180.78 912.57,178.65 917.78,175.64 923.91,172.1 930.33,168.39 936.45,164.88 941.66,161.9 945.88,159.61 949.56,157.75 952.93,156.08 956.23,154.35 959.69,152.32 963.52,149.74 967.76,146.52 972.22,142.83 976.84,138.84 981.53,134.71 986.22,130.61 990.84,126.7 995.39,122.89 999.95,119.03 1004.5,115.2 1009.05,111.47 1013.61,107.92 1018.16,104.62 1023.03,101.45 1028.28,98.34 1033.53,95.4 1038.4,92.77 1042.51,90.57 1045.48,88.94" fill="none" stroke="#14e814" stroke-width="5.8" stroke-linejoin="round" stroke-linecap="round" stroke-linecap="butt"/>
<polyline points="908.88,184.62 912.57,182.59 917.78,179.73 923.91,176.36 930.33,172.84 936.45,169.51 941.66,166.7 945.88,164.47 949.56,162.56 952.93,160.84 956.23,159.17 959.69,157.44 963.52,155.5 967.76,153.35 972.22,151.08 976.84,148.74 981.53,146.37 986.22,144.03 990.84,141.74 995.39,139.5 999.95,137.27 1004.5,135.06 1009.05,132.87 1013.61,130.73 1018.16,128.62 1023.03,126.44 1028.28,124.14 1033.53,121.88 1038.4,119.8 1042.51,118.05 1045.48,116.78" fill="none" stroke="#0c0cd8" stroke-width="6.6" stroke-linejoin="round" stroke-linecap="round" stroke-linecap="butt"/>
<polyline points="908.88,182.06 912.57,179.85 917.78,176.71 923.91,173.04 930.33,169.2 936.45,165.57 941.66,162.54 945.88,160.18 949.56,158.21 952.93,156.46 956.23,154.74 959.69,152.88 963.52,150.7 967.76,148.17 972.22,145.44 976.84,142.56 981.53,139.61 986.22,136.64 990.84,133.74 995.39,130.87 999.95,127.98 1004.5,125.08 1009.05,122.18 1013.61,119.31 1018.16,116.46 1023.03,113.46 1028.28,110.25 1033.53,107.06 1038.4,104.11 1042.51,101.62 1045.48,99.82" fill="none" stroke="#22ecf2" stroke-width="6" stroke-linejoin="round" stroke-linecap="round" stroke-linecap="butt"/>
<line x1="891.4" y1="195.5" x2="895.4" y2="195.5" stroke="#000" stroke-width="1.5" />
<text x="891.8" y="199.1" font-size="10.2" text-anchor="end" fill="#000" >0.000</text>
<line x1="891.4" y1="163.5" x2="895.4" y2="163.5" stroke="#000" stroke-width="1.5" />
<text x="891.8" y="167.1" font-size="10.2" text-anchor="end" fill="#000" >0.001</text>
<line x1="891.4" y1="131.5" x2="895.4" y2="131.5" stroke="#000" stroke-width="1.5" />
<text x="891.8" y="135.1" font-size="10.2" text-anchor="end" fill="#000" >0.002</text>
<line x1="891.4" y1="99.5" x2="895.4" y2="99.5" stroke="#000" stroke-width="1.5" />
<text x="891.8" y="103.1" font-size="10.2" text-anchor="end" fill="#000" >0.003</text>
<line x1="891.4" y1="67.5" x2="895.4" y2="67.5" stroke="#000" stroke-width="1.5" />
<text x="891.8" y="71.1" font-size="10.2" text-anchor="end" fill="#000" >0.004</text>
<line x1="892.9" y1="179.5" x2="895.4" y2="179.5" stroke="#000" stroke-width="1.5" />
<line x1="892.9" y1="147.5" x2="895.4" y2="147.5" stroke="#000" stroke-width="1.5" />
<line x1="892.9" y1="115.5" x2="895.4" y2="115.5" stroke="#000" stroke-width="1.5" />
<line x1="892.9" y1="83.5" x2="895.4" y2="83.5" stroke="#000" stroke-width="1.5" />
<line x1="908.88" y1="195.5" x2="908.88" y2="199" stroke="#000" stroke-width="1.5" />
<line x1="936.2" y1="195.5" x2="936.2" y2="199" stroke="#000" stroke-width="1.5" />
<line x1="963.52" y1="195.5" x2="963.52" y2="199" stroke="#000" stroke-width="1.5" />
<line x1="990.84" y1="195.5" x2="990.84" y2="199" stroke="#000" stroke-width="1.5" />
<line x1="1018.16" y1="195.5" x2="1018.16" y2="199" stroke="#000" stroke-width="1.5" />
<line x1="1045.48" y1="195.5" x2="1045.48" y2="199" stroke="#000" stroke-width="1.5" />
<text x="936.2" y="209.2" font-size="10.2" text-anchor="middle" fill="#000" >0.0</text>
<text x="990.84" y="209.2" font-size="10.2" text-anchor="middle" fill="#000" >0.4</text>
<text x="1045.48" y="209.2" font-size="10.2" text-anchor="middle" fill="#000" >0.8</text>
<text x="926.9" y="222.2" font-size="11" text-anchor="start" fill="#000" textLength="120" lengthAdjust="spacingAndGlyphs">Potential / V vs. Ag/AgCl</text>
<text transform="rotate(-90)" x="-176" y="860.4" font-size="10.94" text-anchor="start" fill="#000" >1/C</text>
<text transform="rotate(-90)" x="-158.69" y="862.44" font-size="10.94" text-anchor="start" fill="#000" >sc</text>
<text transform="rotate(-90)" x="-145.92" y="856.23" font-size="10.94" text-anchor="start" fill="#000" >2</text>
<text transform="rotate(-90)" x="-137.27" y="859.74" font-size="10.94" text-anchor="start" fill="#000" >/</text>
<text transform="rotate(-90)" x="-129.78" y="859.74" font-size="10.94" text-anchor="start" fill="#000" >10</text>
<text transform="rotate(-90)" x="-117.92" y="855.46" font-size="10.94" text-anchor="start" fill="#000" >10</text>
<text transform="rotate(-90)" x="-103.67" y="859.74" font-size="10.94" text-anchor="start" fill="#000" >F</text>
<text transform="rotate(-90)" x="-96.19" y="855.16" font-size="10.94" text-anchor="start" fill="#000" >-2</text>
<text x="992.8" y="77.8" font-size="14.2" text-anchor="start" fill="#e8161b" >-1.5V</text>
<text x="1048.3" y="86.6" font-size="14.2" text-anchor="start" fill="#1fe01f" >-1.7V</text>
<text x="1048.3" y="108.1" font-size="14.2" text-anchor="start" fill="#2ee6f0" >-2.1V</text>
<text x="1044.5" y="141" font-size="14.2" text-anchor="start" fill="#1030e0" >-1.9V</text>
<text x="19" y="429.9" font-size="29.1" text-anchor="start" fill="#000" textLength="39.5" lengthAdjust="spacingAndGlyphs">(b)</text>
<polyline points="122,526.5 123.45,526.1 125.34,525.56 127.64,524.92 130.3,524.18 133.3,523.37 136.6,522.5 140.34,521.55 144.58,520.51 149.15,519.4 153.89,518.23 158.63,517.02 163.2,515.8 167.69,514.57 172.26,513.33 176.83,512.04 181.33,510.71 185.67,509.3 189.8,507.8 193.75,506.22 197.59,504.56 201.28,502.83 204.78,501.03 208.07,499.15 211.1,497.2 213.82,495.12 216.26,492.92 218.47,490.64 220.53,488.34 222.52,486.07 224.5,483.9 226.4,481.85 228.14,479.9 229.81,477.98 231.47,476.04 233.21,474.04 235.1,471.9 237.13,469.54 239.23,466.98 241.41,464.35 243.67,461.77 246,459.38 248.4,457.3 250.91,455.51 253.54,453.92 256.24,452.51 258.97,451.27 261.71,450.2 264.4,449.3 267.05,448.57 269.7,448.03 272.35,447.65 275,447.43 277.65,447.35 280.3,447.4 282.96,447.6 285.63,447.96 288.29,448.46 290.96,449.09 293.63,449.81 296.3,450.6 298.97,451.55 301.63,452.67 304.3,453.9 306.97,455.14 309.63,456.3 312.3,457.3 314.97,458.2 317.64,459.08 320.31,459.89 322.97,460.56 325.64,461.05 328.3,461.3 330.95,461.3 333.6,461.09 336.25,460.7 338.9,460.14 341.55,459.43 344.2,458.6 346.94,457.57 349.77,456.33 352.61,454.93 355.36,453.46 357.92,451.99 360.2,450.6 362.17,449.25 363.89,447.87 365.43,446.5 366.84,445.15 368.18,443.84 369.5,442.6 370.84,441.37 372.17,440.11 373.43,438.9 374.56,437.8 375.5,436.88 376.2,436.2 376.1,437.44 375.96,438.94 375.79,440.82 375.6,443.21 375.4,446.23 375.2,450 374.99,454.79 374.76,460.56 374.53,466.95 374.28,473.63 374.04,480.26 373.8,486.5 373.58,492.47 373.37,498.47 373.16,504.41 372.94,510.22 372.69,515.81 372.4,521.1 372.08,526.11 371.73,530.92 371.36,535.51 370.96,539.86 370.5,543.96 370,547.8 369.47,551.39 368.91,554.76 368.32,557.88 367.65,560.73 366.89,563.27 366,565.5 365.03,567.34 364.01,568.81 362.89,569.97 361.63,570.93 360.18,571.74 358.5,572.5 356.59,573.11 354.5,573.49 352.21,573.74 349.74,573.94 347.07,574.2 344.2,574.6 341.06,575.14 337.62,575.74 333.99,576.39 330.26,577.09 326.53,577.83 322.9,578.6 319.35,579.39 315.8,580.21 312.25,581.07 308.7,581.98 305.15,582.95 301.6,584 297.99,585.18 294.3,586.5 290.61,587.89 287,589.26 283.54,590.56 280.3,591.7 277.31,592.71 274.5,593.64 271.85,594.5 269.31,595.27 266.84,595.94 264.4,596.5 262.03,596.97 259.77,597.37 257.59,597.67 255.44,597.85 253.29,597.9 251.1,597.8 248.88,597.56 246.67,597.2 244.45,596.71 242.23,596.07 240.02,595.27 237.8,594.3 235.58,593.16 233.37,591.87 231.16,590.42 228.94,588.8 226.72,587 224.5,585 222.27,582.7 220.04,580.1 217.8,577.31 215.56,574.46 213.33,571.68 211.1,569.1 208.88,566.64 206.66,564.2 204.44,561.82 202.23,559.57 200.02,557.51 197.8,555.7 195.68,554.19 193.66,552.95 191.65,551.89 189.53,550.95 187.18,550.05 184.5,549.1 181.47,548.12 178.19,547.17 174.68,546.26 170.99,545.39 167.15,544.56 163.2,543.8 158.92,543.08 154.24,542.41 149.42,541.79 144.7,541.22 140.34,540.72 136.6,540.3 133.44,540 130.64,539.83 128.21,539.73 126.13,539.63 124.4,539.48 123,539.2 122.07,538.81 121.64,538.36 121.55,537.84 121.65,537.28 121.79,536.66 121.8,536 121.73,535.27 121.7,534.45 121.71,533.58 121.74,532.7 121.77,531.83 121.8,531 121.82,530.17 121.86,529.3 121.9,528.44 121.94,527.65 121.98,526.98 122,526.5" fill="none" stroke="#000" stroke-width="3" stroke-linejoin="round" stroke-linecap="round" />
<polyline points="120.8,528.6 124,526.5 200,525.2 300,523.2 377.5,520.6" fill="none" stroke="#e8161b" stroke-width="3.4" stroke-linejoin="round" stroke-linecap="round" />
<polyline points="120.8,524.6 124,523 250,523.4 370,523" fill="none" stroke="#22dd22" stroke-width="4.8" stroke-linejoin="round" stroke-linecap="round" />
<polyline points="360,523.2 377.5,522.9" fill="none" stroke="#22dd22" stroke-width="3.2" stroke-linejoin="round" stroke-linecap="round" />
<rect x="84" y="409.1" width="318.3" height="233.6" fill="none" stroke="#000" stroke-width="2.4" />
<line x1="77.5" y1="615.8" x2="84" y2="615.8" stroke="#000" stroke-width="2.2" />
<text x="75.2" y="621.8" font-size="17" text-anchor="end" fill="#000" >-2</text>
<line x1="77.5" y1="569.8" x2="84" y2="569.8" stroke="#000" stroke-width="2.2" />
<text x="75.2" y="575.8" font-size="17" text-anchor="end" fill="#000" >-1</text>
<line x1="77.5" y1="523.8" x2="84" y2="523.8" stroke="#000" stroke-width="2.2" />
<text x="75.2" y="529.8" font-size="17" text-anchor="end" fill="#000" >0</text>
<line x1="77.5" y1="477.8" x2="84" y2="477.8" stroke="#000" stroke-width="2.2" />
<text x="75.2" y="483.8" font-size="17" text-anchor="end" fill="#000" >1</text>
<line x1="77.5" y1="431.8" x2="84" y2="431.8" stroke="#000" stroke-width="2.2" />
<text x="75.2" y="437.8" font-size="17" text-anchor="end" fill="#000" >2</text>
<line x1="80.2" y1="638.8" x2="84" y2="638.8" stroke="#000" stroke-width="2.2" />
<line x1="80.2" y1="592.8" x2="84" y2="592.8" stroke="#000" stroke-width="2.2" />
<line x1="80.2" y1="546.8" x2="84" y2="546.8" stroke="#000" stroke-width="2.2" />
<line x1="80.2" y1="500.8" x2="84" y2="500.8" stroke="#000" stroke-width="2.2" />
<line x1="80.2" y1="454.8" x2="84" y2="454.8" stroke="#000" stroke-width="2.2" />
<line x1="122" y1="642.7" x2="122" y2="648.2" stroke="#000" stroke-width="2.2" />
<text x="122" y="665.8" font-size="17.9" text-anchor="middle" fill="#000" >0.2</text>
<line x1="172.8" y1="642.7" x2="172.8" y2="648.2" stroke="#000" stroke-width="2.2" />
<text x="172.8" y="665.8" font-size="17.9" text-anchor="middle" fill="#000" >0.4</text>
<line x1="223.6" y1="642.7" x2="223.6" y2="648.2" stroke="#000" stroke-width="2.2" />
<text x="223.6" y="665.8" font-size="17.9" text-anchor="middle" fill="#000" >0.6</text>
<line x1="274.4" y1="642.7" x2="274.4" y2="648.2" stroke="#000" stroke-width="2.2" />
<text x="274.4" y="665.8" font-size="17.9" text-anchor="middle" fill="#000" >0.8</text>
<line x1="325.2" y1="642.7" x2="325.2" y2="648.2" stroke="#000" stroke-width="2.2" />
<text x="325.2" y="665.8" font-size="17.9" text-anchor="middle" fill="#000" >1.0</text>
<line x1="376" y1="642.7" x2="376" y2="648.2" stroke="#000" stroke-width="2.2" />
<text x="376" y="665.8" font-size="17.9" text-anchor="middle" fill="#000" >1.2</text>
<line x1="96.6" y1="642.7" x2="96.6" y2="646.5" stroke="#000" stroke-width="2.2" />
<line x1="147.4" y1="642.7" x2="147.4" y2="646.5" stroke="#000" stroke-width="2.2" />
<line x1="198.2" y1="642.7" x2="198.2" y2="646.5" stroke="#000" stroke-width="2.2" />
<line x1="249" y1="642.7" x2="249" y2="646.5" stroke="#000" stroke-width="2.2" />
<line x1="299.8" y1="642.7" x2="299.8" y2="646.5" stroke="#000" stroke-width="2.2" />
<line x1="350.6" y1="642.7" x2="350.6" y2="646.5" stroke="#000" stroke-width="2.2" />
<text x="139" y="687.6" font-size="18.9" text-anchor="start" fill="#000" textLength="208" lengthAdjust="spacingAndGlyphs">Potential / V vs. Ag/AgCl</text>
<text transform="rotate(-90)" x="-611.8" y="48.6" font-size="18.5" text-anchor="start" fill="#000" textLength="136" lengthAdjust="spacingAndGlyphs">Current / mA/cm</text>
<text transform="rotate(-90)" x="-474.6" y="38.4" font-size="11" text-anchor="start" fill="#000" >2</text>
<rect x="88.1" y="412.5" width="136.6" height="58.8" fill="#fff" stroke="#444" stroke-width="1" />
<line x1="95" y1="425.6" x2="122.5" y2="425.6" stroke="#000" stroke-width="3" />
<text x="125.3" y="430.2" font-size="14.8" text-anchor="start" fill="#000" >IrO2/S-TNTA</text>
<line x1="95" y1="443.45" x2="122.5" y2="443.45" stroke="#e8161b" stroke-width="3" />
<text x="125.3" y="448.25" font-size="14.8" text-anchor="start" fill="#000" >IrO2/TNTA</text>
<line x1="95" y1="461.3" x2="122.5" y2="461.3" stroke="#22dd22" stroke-width="3" />
<text x="125.3" y="466.1" font-size="14.8" text-anchor="start" fill="#000" >Pristine TNTA</text>
<rect x="107.1" y="559.1" width="92.4" height="68.1" fill="#fff" stroke="#555" stroke-width="1.3" />
<clipPath id="cpb"><rect x="107.6" y="559.6" width="91.4" height="67.1"/></clipPath>
<g clip-path="url(#cpb)">
<polyline points="114.7,586.6 114.93,586.36 115.25,586.01 115.64,585.62 116.06,585.26 116.5,585 116.95,584.83 117.42,584.72 117.93,584.66 118.48,584.65 119.1,584.7 119.74,584.84 120.4,585.05 121.13,585.31 121.98,585.58 123,585.8 123.97,585.97 124.85,586.12 125.98,586.27 127.72,586.42 130.4,586.6 134.32,586.84 139.24,587.14 144.73,587.43 150.36,587.67 155.7,587.8 160.98,587.81 166.48,587.74 171.87,587.6 176.79,587.41 180.9,587.2 184.14,586.89 186.73,586.46 188.77,586.04 190.36,585.71 191.6,585.6 192.32,585.77 192.46,586.15 192.25,586.64 191.95,587.12 191.8,587.5 191.95,587.74 192.25,587.92 192.46,588.08 192.32,588.26 191.6,588.5 190.36,588.8 188.77,589.14 186.73,589.51 184.14,589.93 180.9,590.4 176.69,590.94 171.57,591.55 166.03,592.2 160.58,592.85 155.7,593.5 151.4,594.13 147.35,594.75 143.54,595.38 139.99,596.03 136.7,596.7 133.7,597.41 130.99,598.14 128.52,598.89 126.24,599.65 124.1,600.4 122.08,601.28 120.2,602.3 118.52,603.25 117.07,603.95 115.9,604.2 115.09,603.9 114.6,603.18 114.32,602.19 114.16,601.08 114,600 113.87,598.95 113.83,597.84 113.86,596.66 113.92,595.41 114,594.1 114.11,592.58 114.26,590.86 114.44,589.14 114.59,587.65 114.7,586.6" fill="none" stroke="#3ad83a" stroke-width="1.3" stroke-linejoin="round" stroke-linecap="round" />
<polyline points="115,640 115.16,635.93 115.37,630.03 115.63,623.36 115.92,617 116.2,612 116.49,608.58 116.81,606.03 117.13,604.02 117.47,602.25 117.8,600.4 118.13,598.45 118.45,596.61 118.79,594.9 119.13,593.36 119.5,592 119.87,590.85 120.23,589.91 120.62,589.11 121.06,588.43 121.6,587.8 122.03,587.27 122.34,586.87 122.8,586.55 123.73,586.24 125.4,585.9 128.01,585.54 131.38,585.2 135.2,584.85 139.17,584.46 143,584 146.71,583.5 150.5,582.97 154.34,582.38 158.18,581.71 162,580.9 165.92,579.92 169.96,578.77 173.94,577.55 177.65,576.34 180.9,575.2 183.74,574.08 186.28,572.91 188.48,571.81 190.28,570.87 191.6,570.2 191.6,570.2 191.66,570.57 191.78,571.08 191.88,571.7 191.9,572.35 191.8,573 191.74,573.55 191.75,574.03 191.59,574.59 190.99,575.37 189.7,576.5 187.57,578.16 184.78,580.25 181.54,582.52 178.07,584.72 174.6,586.6 171,588.12 167.14,589.46 163.18,590.66 159.3,591.78 155.7,592.9 152.29,593.98 148.96,594.99 145.81,595.96 142.96,596.91 140.5,597.9 138.51,598.92 136.92,599.94 135.63,600.96 134.52,601.98 133.5,603 132.64,603.94 131.99,604.82 131.47,605.72 130.98,606.75 130.4,608 129.72,609.52 129,611.25 128.29,613.12 127.61,615.06 127,617 126.47,618.92 125.99,620.87 125.56,622.88 125.16,624.97 124.8,627.2 124.46,629.8 124.15,632.75 123.88,635.68 123.66,638.22 123.5,640" fill="none" stroke="#e03030" stroke-width="1.3" stroke-linejoin="round" stroke-linecap="round" />
</g>
<text x="132.3" y="574.4" font-size="6" text-anchor="start" fill="#e03030" textLength="24.8" lengthAdjust="spacingAndGlyphs">IrO<tspan font-size="4.2" dy="1.5">2</tspan><tspan dy="-1.5">/TNTA</tspan></text>
<line x1="157" y1="574.5" x2="163.5" y2="580" stroke="#e03030" stroke-width="0.9" />
<text x="148.1" y="606.6" font-size="6.5" text-anchor="start" fill="#3ad83a" textLength="33.8" lengthAdjust="spacingAndGlyphs">Pristine TNTA</text>
<line x1="172" y1="600.5" x2="177" y2="595.5" stroke="#3ad83a" stroke-width="0.9" />
<line x1="105.1" y1="564.9" x2="107.1" y2="564.9" stroke="#555" stroke-width="1" />
<text x="104.9" y="566.9" font-size="5.6" text-anchor="end" fill="#444" >0.05</text>
<line x1="105.1" y1="593.3" x2="107.1" y2="593.3" stroke="#555" stroke-width="1" />
<text x="104.9" y="595.3" font-size="5.6" text-anchor="end" fill="#444" >0.00</text>
<line x1="105.1" y1="621.7" x2="107.1" y2="621.7" stroke="#555" stroke-width="1" />
<text x="104.9" y="623.7" font-size="5.6" text-anchor="end" fill="#444" >-0.05</text>
<line x1="115.3" y1="627.2" x2="115.3" y2="629.2" stroke="#555" stroke-width="1" />
<text x="115.3" y="634.2" font-size="5.6" text-anchor="middle" fill="#444" >0.2</text>
<line x1="130.68" y1="627.2" x2="130.68" y2="629.2" stroke="#555" stroke-width="1" />
<text x="130.68" y="634.2" font-size="5.6" text-anchor="middle" fill="#444" >0.4</text>
<line x1="146.06" y1="627.2" x2="146.06" y2="629.2" stroke="#555" stroke-width="1" />
<text x="146.06" y="634.2" font-size="5.6" text-anchor="middle" fill="#444" >0.6</text>
<line x1="161.44" y1="627.2" x2="161.44" y2="629.2" stroke="#555" stroke-width="1" />
<text x="161.44" y="634.2" font-size="5.6" text-anchor="middle" fill="#444" >0.8</text>
<line x1="176.82" y1="627.2" x2="176.82" y2="629.2" stroke="#555" stroke-width="1" />
<text x="176.82" y="634.2" font-size="5.6" text-anchor="middle" fill="#444" >1.0</text>
<line x1="192.2" y1="627.2" x2="192.2" y2="629.2" stroke="#555" stroke-width="1" />
<text x="192.2" y="634.2" font-size="5.6" text-anchor="middle" fill="#444" >1.2</text>
<text x="126.2" y="640.1" font-size="5.6" text-anchor="start" fill="#444" textLength="59.4" lengthAdjust="spacingAndGlyphs">Potential / V vs. Ag/AgCl</text>
<text transform="rotate(-90)" x="-615.8" y="92.6" font-size="5.8" text-anchor="start" fill="#444" textLength="38" lengthAdjust="spacingAndGlyphs">Current / mA/cm</text>
<text transform="rotate(-90)" x="-577.6" y="89.6" font-size="4.2" text-anchor="start" fill="#444" >2</text>
<text x="418.8" y="425.1" font-size="28" text-anchor="start" fill="#000" textLength="32" lengthAdjust="spacingAndGlyphs">(c)</text>
<polyline points="498.8,633.81 498.8,605.75 499.15,595.73 499.84,592.53 500.89,592.08 501.93,591.66 502.97,591.29 504.01,590.94 505.06,590.62 506.1,590.33 507.14,590.06 508.19,589.81 509.23,589.57 510.27,589.36 511.31,589.15 512.36,588.96 513.4,588.77 514.44,588.6 515.48,588.43 516.53,588.28 520,587.79 523.48,587.36 526.96,586.96 530.43,586.58 533.91,586.22 537.38,585.86 540.86,585.52 544.34,585.17 547.81,584.84 551.29,584.5 554.76,584.16 558.24,583.83 561.72,583.49 565.19,583.16 568.67,582.82 572.14,582.49 575.62,582.16 579.1,581.82 582.57,581.49 586.05,581.15 589.52,580.82 593,580.48 596.48,580.15 599.95,579.81 603.43,579.48 606.9,579.14 610.38,578.81 613.86,578.47 617.33,578.13 620.81,577.79 624.28,577.45 627.76,577.11 631.24,576.77 634.71,576.43 638.19,576.09 641.66,575.74 645.14,575.4 648.62,575.05 652.09,574.7 655.57,574.35 659.04,574 662.52,573.64 666,573.28 669.47,572.92 672.95,572.55 676.42,572.18 679.9,571.8 683.38,571.42 686.85,571.03 690.33,570.64 693.8,570.24 697.28,569.82 700.76,569.4 704.23,568.97 707.71,568.52 711.18,568.06 714.66,567.58 718.14,567.08 721.61,566.56 725.09,566.02 728.56,565.45 732.04,564.85 735.52,564.21 738.99,563.53 742.47,562.82 745.94,562.05 749.42,561.22 752.9,560.34 756.37,559.38 759.85,558.34 763.32,557.2 766.8,555.97 770.28,554.62 773.75,553.14 777.23,551.51 780.7,549.71 784.18,547.72 787.66,545.52 791.13,543.09 794.61,540.37 798.08,537.36 801.56,533.99 805.04,530.24 808.51,526.05 811.9,521.48" fill="none" stroke="#000" stroke-width="3" stroke-linejoin="round" stroke-linecap="round" />
<polyline points="498.8,600.74 498.8,600.34 498.79,599.76 498.78,599.08 498.81,598.38 498.89,597.74 499.06,597.23 499.29,596.86 499.55,596.56 499.87,596.32 500.27,596.12 500.78,595.93 501.41,595.73 502.17,595.53 503.06,595.36 504.05,595.2 505.13,595.04 506.28,594.89 507.49,594.73 508.69,594.56 509.87,594.4 511.13,594.24 512.54,594.07 514.2,593.9 516.18,593.73 518.52,593.53 521.15,593.33 524.02,593.11 527.08,592.9 530.28,592.7 533.56,592.52 536.91,592.37 540.36,592.23 543.95,592.11 547.71,591.99 551.68,591.86 555.89,591.72 560.49,591.57 565.47,591.41 570.66,591.25 575.88,591.08 580.95,590.9 585.7,590.72 590.05,590.54 594.15,590.35 598.09,590.16 602,589.96 606,589.74 610.21,589.52 614.73,589.28 619.5,589.03 624.36,588.77 629.14,588.49 633.69,588.21 637.84,587.91 641.63,587.63 645.2,587.36 648.53,587.08 651.61,586.76 654.42,586.38 656.96,585.91 659.17,585.33 661.07,584.65 662.7,583.91 664.12,583.15 665.37,582.4 666.52,581.7 667.5,581.07 668.26,580.49 668.86,579.92 669.36,579.33 669.8,578.7 670.25,577.99 670.69,577.28 671.06,576.59 671.39,575.86 671.67,575.01 671.93,573.98 672.17,572.68 672.37,571.28 672.53,569.84 672.67,568.22 672.78,566.25 672.9,563.79 673.03,560.66 673.18,556.81 673.32,552.35 673.47,547.38 673.61,542.03 673.76,536.4 673.9,530.6 674.05,524.5 674.2,517.98 674.34,511.19 674.49,504.25 674.63,497.32 674.77,490.52 674.91,483.59 675.05,476.36 675.19,469.13 675.32,462.2 675.45,455.87 675.55,450.44 675.65,445.89 675.74,441.98 675.82,438.67 675.89,435.91 675.95,433.67 675.99,431.9" fill="none" stroke="#e8161b" stroke-width="3" stroke-linejoin="round" stroke-linecap="round" />
<rect x="492.7" y="410.3" width="327.6" height="240.7" fill="none" stroke="#000" stroke-width="2.4" />
<line x1="486.2" y1="630.8" x2="492.7" y2="630.8" stroke="#000" stroke-width="2.2" />
<text x="483.3" y="635.7" font-size="19.1" text-anchor="end" fill="#000" >1.0</text>
<line x1="486.2" y1="580.7" x2="492.7" y2="580.7" stroke="#000" stroke-width="2.2" />
<text x="483.3" y="585.6" font-size="19.1" text-anchor="end" fill="#000" >1.5</text>
<line x1="486.2" y1="530.6" x2="492.7" y2="530.6" stroke="#000" stroke-width="2.2" />
<text x="483.3" y="535.5" font-size="19.1" text-anchor="end" fill="#000" >2.0</text>
<line x1="486.2" y1="480.5" x2="492.7" y2="480.5" stroke="#000" stroke-width="2.2" />
<text x="483.3" y="485.4" font-size="19.1" text-anchor="end" fill="#000" >2.5</text>
<line x1="486.2" y1="430.4" x2="492.7" y2="430.4" stroke="#000" stroke-width="2.2" />
<text x="483.3" y="435.3" font-size="19.1" text-anchor="end" fill="#000" >3.0</text>
<line x1="488.9" y1="605.75" x2="492.7" y2="605.75" stroke="#000" stroke-width="2.2" />
<line x1="488.9" y1="555.65" x2="492.7" y2="555.65" stroke="#000" stroke-width="2.2" />
<line x1="488.9" y1="505.55" x2="492.7" y2="505.55" stroke="#000" stroke-width="2.2" />
<line x1="488.9" y1="455.45" x2="492.7" y2="455.45" stroke="#000" stroke-width="2.2" />
<line x1="498.8" y1="651" x2="498.8" y2="657" stroke="#000" stroke-width="2.2" />
<text x="498.8" y="674.8" font-size="18.6" text-anchor="middle" fill="#000" >0</text>
<line x1="585.7" y1="651" x2="585.7" y2="657" stroke="#000" stroke-width="2.2" />
<text x="585.7" y="674.8" font-size="18.6" text-anchor="middle" fill="#000" >1000</text>
<line x1="672.6" y1="651" x2="672.6" y2="657" stroke="#000" stroke-width="2.2" />
<text x="672.6" y="674.8" font-size="18.6" text-anchor="middle" fill="#000" >2000</text>
<line x1="759.5" y1="651" x2="759.5" y2="657" stroke="#000" stroke-width="2.2" />
<text x="759.5" y="674.8" font-size="18.6" text-anchor="middle" fill="#000" >3000</text>
<line x1="542.25" y1="651" x2="542.25" y2="654.8" stroke="#000" stroke-width="2.2" />
<line x1="629.15" y1="651" x2="629.15" y2="654.8" stroke="#000" stroke-width="2.2" />
<line x1="716.05" y1="651" x2="716.05" y2="654.8" stroke="#000" stroke-width="2.2" />
<line x1="802.95" y1="651" x2="802.95" y2="654.8" stroke="#000" stroke-width="2.2" />
<text x="626" y="696.5" font-size="19.6" text-anchor="start" fill="#000" textLength="72.6" lengthAdjust="spacingAndGlyphs">Time / S</text>
<text transform="rotate(-90)" x="-649.2" y="446.3" font-size="19.5" text-anchor="start" fill="#000" textLength="212.3" lengthAdjust="spacingAndGlyphs">Potential / V vs. Ag/AgCl</text>
<rect x="497.1" y="417.4" width="124.7" height="53.8" fill="#fff" stroke="#444" stroke-width="1" />
<line x1="504.2" y1="434.9" x2="532.7" y2="434.9" stroke="#000" stroke-width="3" />
<line x1="504.2" y1="458.1" x2="532.7" y2="458.1" stroke="#e8161b" stroke-width="3" />
<text x="538.1" y="439" font-size="15.4" text-anchor="start" fill="#000" textLength="77" lengthAdjust="spacingAndGlyphs">IrO<tspan font-size="10.5" dy="5.2">2</tspan><tspan dy="-5.2">/sTNTA</tspan></text>
<text x="538.1" y="462.3" font-size="15.4" text-anchor="start" fill="#000" >IrO<tspan font-size="10.5" dy="5.2">2</tspan><tspan dy="-5.2">/Ti</tspan></text>
<text x="852" y="420.6" font-size="28.9" text-anchor="start" fill="#000" textLength="37" lengthAdjust="spacingAndGlyphs">(d)</text>
<text x="913.5" y="437" font-size="26" text-anchor="start" fill="#000" textLength="36.8" lengthAdjust="spacingAndGlyphs">Ir4f</text>
<polyline points="930.69,630.26 931.53,630.25 932.38,630.24 933.22,630.24 934.06,630.23 934.9,630.23 935.74,630.22 936.59,630.21 937.43,630.21 938.27,630.2 939.11,630.2 939.95,630.19 940.8,630.18 941.64,630.17 942.48,630.17 943.32,630.16 944.16,630.15 945.01,630.14 945.85,630.14 946.69,630.13 947.53,630.12 948.37,630.11 949.22,630.1 950.06,630.09 950.9,630.08 951.74,630.07 952.58,630.06 953.43,630.05 954.27,630.04 955.11,630.03 955.95,630.02 956.79,630.01 957.64,630 958.48,629.99 959.32,629.97 960.16,629.96 961,629.95 961.85,629.94 962.69,629.92 963.53,629.91 964.37,629.9 965.21,629.88 966.06,629.87 966.9,629.85 967.74,629.83 968.58,629.82 969.42,629.8 970.27,629.79 971.11,629.77 971.95,629.75 972.79,629.73 973.63,629.71 974.48,629.69 975.32,629.67 976.16,629.65 977,629.63 977.84,629.61 978.69,629.59 979.53,629.56 980.37,629.54 981.21,629.51 982.05,629.49 982.9,629.46 983.74,629.43 984.58,629.41 985.42,629.38 986.26,629.35 987.11,629.32 987.95,629.29 988.79,629.25 989.63,629.22 990.47,629.18 991.32,629.15 992.16,629.11 993,629.07 993.84,629.03 994.68,628.99 995.53,628.95 996.37,628.9 997.21,628.86 998.05,628.81 998.89,628.76 999.74,628.71 1000.58,628.66 1001.42,628.6 1002.26,628.55 1003.1,628.49 1003.95,628.42 1004.79,628.36 1005.63,628.29 1006.47,628.22 1007.31,628.14 1008.16,628.06 1009,627.98 1009.84,627.89 1010.68,627.79 1011.52,627.69 1012.37,627.58 1013.21,627.46 1014.05,627.33 1014.89,627.18 1015.73,627.02 1016.58,626.85 1017.42,626.65 1018.26,626.44 1019.1,626.2 1019.94,625.92 1020.79,625.62 1021.63,625.28 1022.47,624.89 1023.31,624.46 1024.15,623.97 1025,623.43 1025.84,622.82 1026.68,622.13 1027.52,621.38 1028.36,620.54 1029.21,619.61 1030.05,618.59 1030.89,617.48 1031.73,616.27 1032.57,614.96 1033.42,613.55 1034.26,612.04 1035.1,610.43 1035.94,608.74 1036.78,606.96 1037.63,605.11 1038.47,603.2 1039.31,601.23 1040.15,599.24 1040.99,597.24 1041.84,595.24 1042.68,593.27 1043.52,591.37 1044.36,589.55 1045.2,587.85 1046.05,586.3 1046.89,584.93 1047.73,583.77 1048.57,582.85 1049.41,582.19 1050.26,581.8 1051.1,585.74 1051.94,586.03 1052.78,586.61 1053.62,587.46 1054.47,588.54 1055.31,589.85 1056.15,591.33 1056.99,592.97 1057.83,594.74 1058.68,596.58 1059.52,598.49 1060.36,600.43 1061.2,602.37 1062.04,604.29 1062.89,606.16 1063.73,607.98 1064.57,609.72 1065.41,611.36 1066.25,612.9 1067.1,614.32 1067.94,615.62 1068.78,616.78 1069.62,617.8 1070.46,618.67 1071.31,619.4 1072.15,619.97 1072.99,620.38 1073.83,620.63 1074.67,620.72 1075.52,620.65 1076.36,620.41 1077.2,620 1078.04,619.42 1078.88,618.68 1079.73,617.76 1080.57,616.68 1081.41,615.43 1082.25,614.01 1083.09,612.43 1083.94,610.69 1084.78,608.81 1085.62,606.78 1086.46,604.63 1087.3,602.37 1088.15,600.02 1088.99,597.59 1089.83,595.12 1090.67,592.62 1091.51,590.13 1092.36,587.67 1093.2,585.3 1094.04,583.03 1094.88,580.93 1095.72,579.02 1096.57,577.35 1097.41,575.96 1098.25,574.89 1099.09,574.17 1099.93,573.82 1100.78,573.85 1101.62,574.28 1102.46,575.07 1103.3,576.23 1104.14,577.71 1104.99,579.48 1105.83,581.51 1106.67,583.75 1107.51,586.15 1108.35,588.69 1109.2,591.31 1110.04,593.97 1110.88,596.66 1111.72,599.33 1112.56,601.97 1113.41,604.54 1114.25,607.03 1115.09,609.42 1115.93,611.7 1116.77,613.86 1117.62,615.88 1118.46,617.77 1119.3,619.53 1120.14,621.15 1120.98,622.64 1121.83,623.99 1122.67,625.22 1123.51,626.32 1124.35,627.32 1125.19,628.21 1126.04,629 1126.88,629.7 1127.72,630.32 1128.56,630.86 1129.4,631.34 1130.25,631.76 1131.09,632.13 1131.93,632.45 1132.77,632.74 1133.61,632.98 1134.46,633.2 1135.3,633.39 1136.14,633.56 1136.98,633.71 1137.82,633.84 1138.67,633.96 1139.51,634.07 1140.35,634.17 1141.19,634.26 1142.03,634.34 1142.88,634.41 1143.72,634.48 1144.56,634.54 1145.4,634.6 1146.24,634.66 1147.09,634.71 1147.93,634.76 1148.77,634.81 1149.61,634.85 1150.45,634.9 1151.3,634.94 1152.14,634.97 1152.98,635.01 1153.82,635.05 1154.66,635.08 1155.51,635.11 1156.35,635.14 1157.19,635.17 1158.03,635.2 1158.87,635.23 1159.72,635.26 1160.56,635.28 1161.4,635.31 1162.24,635.33 1163.08,635.35 1163.93,635.37 1164.77,635.4 1165.61,635.42 1166.45,635.44 1167.29,635.46 1168.14,635.47 1168.98,635.49 1169.82,635.51 1170.66,635.53 1171.5,635.54 1172.35,635.56 1173.19,635.57 1174.03,635.59 1174.87,635.6 1175.71,635.62 1176.56,635.63 1177.4,635.64 1178.24,635.65 1179.08,635.67 1179.92,635.68 1180.77,635.69 1181.61,635.7 1182.45,635.71 1183.29,635.72 1184.13,635.73 1184.98,635.74 1185.82,635.75 1186.66,635.76 1187.5,635.77 1188.34,635.78 1189.19,635.79 1190.03,635.8 1190.87,635.81 1191.71,635.82 1192.55,635.82 1193.4,635.83 1194.24,635.84 1195.08,635.85 1195.92,635.85 1196.76,635.86 1197.61,635.87 1198.45,635.87 1199.29,635.88 1200.13,635.89" fill="none" stroke="#000000" stroke-width="2.2" stroke-linejoin="round" stroke-linecap="round" />
<polyline points="930.69,585.89 931.53,585.89 932.38,585.88 933.22,585.88 934.06,585.87 934.9,585.87 935.74,585.86 936.59,585.86 937.43,585.85 938.27,585.84 939.11,585.84 939.95,585.83 940.8,585.83 941.64,585.82 942.48,585.81 943.32,585.81 944.16,585.8 945.01,585.79 945.85,585.79 946.69,585.78 947.53,585.77 948.37,585.76 949.22,585.76 950.06,585.75 950.9,585.74 951.74,585.73 952.58,585.72 953.43,585.71 954.27,585.7 955.11,585.7 955.95,585.69 956.79,585.68 957.64,585.67 958.48,585.66 959.32,585.65 960.16,585.63 961,585.62 961.85,585.61 962.69,585.6 963.53,585.59 964.37,585.58 965.21,585.56 966.06,585.55 966.9,585.54 967.74,585.52 968.58,585.51 969.42,585.5 970.27,585.48 971.11,585.47 971.95,585.45 972.79,585.43 973.63,585.42 974.48,585.4 975.32,585.38 976.16,585.36 977,585.35 977.84,585.33 978.69,585.31 979.53,585.29 980.37,585.27 981.21,585.25 982.05,585.22 982.9,585.2 983.74,585.18 984.58,585.15 985.42,585.13 986.26,585.1 987.11,585.08 987.95,585.05 988.79,585.02 989.63,584.99 990.47,584.97 991.32,584.93 992.16,584.9 993,584.87 993.84,584.84 994.68,584.8 995.53,584.77 996.37,584.73 997.21,584.69 998.05,584.65 998.89,584.61 999.74,584.57 1000.58,584.52 1001.42,584.48 1002.26,584.43 1003.1,584.38 1003.95,584.33 1004.79,584.28 1005.63,584.22 1006.47,584.17 1007.31,584.11 1008.16,584.04 1009,583.98 1009.84,583.91 1010.68,583.84 1011.52,583.76 1012.37,583.68 1013.21,583.6 1014.05,583.51 1014.89,583.42 1015.73,583.31 1016.58,583.2 1017.42,583.08 1018.26,582.95 1019.1,582.81 1019.94,582.65 1020.79,582.48 1021.63,582.28 1022.47,582.07 1023.31,581.82 1024.15,581.55 1025,581.24 1025.84,580.9 1026.68,580.51 1027.52,580.07 1028.36,579.57 1029.21,579.01 1030.05,578.39 1030.89,577.69 1031.73,576.9 1032.57,576.04 1033.42,575.08 1034.26,574.02 1035.1,572.87 1035.94,571.61 1036.78,570.24 1037.63,568.78 1038.47,567.21 1039.31,565.54 1040.15,563.78 1040.99,561.94 1041.84,560.02 1042.68,558.05 1043.52,556.03 1044.36,554 1045.2,551.96 1046.05,549.94 1046.89,547.97 1047.73,546.09 1048.57,544.31 1049.41,542.69 1050.26,541.24 1051.1,540 1051.94,539.01 1052.78,538.28 1053.62,537.84 1054.47,541.72 1055.31,541.99 1056.15,542.56 1056.99,543.41 1057.83,544.51 1058.68,545.85 1059.52,547.38 1060.36,549.07 1061.2,550.88 1062.04,552.79 1062.89,554.76 1063.73,556.76 1064.57,558.76 1065.41,560.74 1066.25,562.67 1067.1,564.54 1067.94,566.33 1068.78,568.02 1069.62,569.6 1070.46,571.07 1071.31,572.4 1072.15,573.61 1072.99,574.67 1073.83,575.59 1074.67,576.37 1075.52,576.99 1076.36,577.47 1077.2,577.79 1078.04,577.95 1078.88,577.96 1079.73,577.82 1080.57,577.51 1081.41,577.04 1082.25,576.41 1083.09,575.61 1083.94,574.65 1084.78,573.52 1085.62,572.22 1086.46,570.76 1087.3,569.14 1088.15,567.35 1088.99,565.42 1089.83,563.34 1090.67,561.13 1091.51,558.81 1092.36,556.39 1093.2,553.89 1094.04,551.34 1094.88,548.77 1095.72,546.21 1096.57,543.68 1097.41,541.24 1098.25,538.92 1099.09,536.77 1099.93,534.83 1100.78,533.15 1101.62,531.77 1102.46,530.73 1103.3,530.06 1104.14,529.79 1104.99,529.93 1105.83,530.47 1106.67,531.4 1107.51,532.7 1108.35,534.34 1109.2,536.26 1110.04,538.44 1110.88,540.81 1111.72,543.35 1112.56,545.99 1113.41,548.71 1114.25,551.47 1115.09,554.22 1115.93,556.94 1116.77,559.61 1117.62,562.2 1118.46,564.69 1119.3,567.06 1120.14,569.31 1120.98,571.43 1121.83,573.4 1122.67,575.23 1123.51,576.92 1124.35,578.46 1125.19,579.87 1126.04,581.14 1126.88,582.28 1127.72,583.31 1128.56,584.22 1129.4,585.03 1130.25,585.75 1131.09,586.38 1131.93,586.93 1132.77,587.42 1133.61,587.84 1134.46,588.21 1135.3,588.53 1136.14,588.81 1136.98,589.06 1137.82,589.27 1138.67,589.46 1139.51,589.63 1140.35,589.78 1141.19,589.91 1142.03,590.02 1142.88,590.13 1143.72,590.22 1144.56,590.31 1145.4,590.39 1146.24,590.46 1147.09,590.53 1147.93,590.59 1148.77,590.65 1149.61,590.71 1150.45,590.76 1151.3,590.81 1152.14,590.85 1152.98,590.9 1153.82,590.94 1154.66,590.98 1155.51,591.01 1156.35,591.05 1157.19,591.09 1158.03,591.12 1158.87,591.15 1159.72,591.18 1160.56,591.21 1161.4,591.24 1162.24,591.27 1163.08,591.29 1163.93,591.32 1164.77,591.34 1165.61,591.36 1166.45,591.39 1167.29,591.41 1168.14,591.43 1168.98,591.45 1169.82,591.47 1170.66,591.49 1171.5,591.5 1172.35,591.52 1173.19,591.54 1174.03,591.55 1174.87,591.57 1175.71,591.59 1176.56,591.6 1177.4,591.61 1178.24,591.63 1179.08,591.64 1179.92,591.65 1180.77,591.67 1181.61,591.68 1182.45,591.69 1183.29,591.7 1184.13,591.71 1184.98,591.73 1185.82,591.74 1186.66,591.75 1187.5,591.76 1188.34,591.77 1189.19,591.78 1190.03,591.78 1190.87,591.79 1191.71,591.8 1192.55,591.81 1193.4,591.82 1194.24,591.83 1195.08,591.84 1195.92,591.84 1196.76,591.85 1197.61,591.86 1198.45,591.86 1199.29,591.87 1200.13,591.88" fill="none" stroke="#e8161b" stroke-width="2.2" stroke-linejoin="round" stroke-linecap="round" />
<polyline points="930.69,541.99 931.53,541.98 932.38,541.98 933.22,541.97 934.06,541.96 934.9,541.96 935.74,541.95 936.59,541.95 937.43,541.94 938.27,541.93 939.11,541.93 939.95,541.92 940.8,541.91 941.64,541.9 942.48,541.9 943.32,541.89 944.16,541.88 945.01,541.87 945.85,541.86 946.69,541.85 947.53,541.85 948.37,541.84 949.22,541.83 950.06,541.82 950.9,541.81 951.74,541.8 952.58,541.79 953.43,541.78 954.27,541.77 955.11,541.76 955.95,541.75 956.79,541.74 957.64,541.72 958.48,541.71 959.32,541.7 960.16,541.69 961,541.67 961.85,541.66 962.69,541.65 963.53,541.63 964.37,541.62 965.21,541.61 966.06,541.59 966.9,541.58 967.74,541.56 968.58,541.54 969.42,541.53 970.27,541.51 971.11,541.49 971.95,541.48 972.79,541.46 973.63,541.44 974.48,541.42 975.32,541.4 976.16,541.38 977,541.36 977.84,541.34 978.69,541.32 979.53,541.29 980.37,541.27 981.21,541.25 982.05,541.22 982.9,541.2 983.74,541.17 984.58,541.14 985.42,541.12 986.26,541.09 987.11,541.06 987.95,541.03 988.79,541 989.63,540.97 990.47,540.93 991.32,540.9 992.16,540.86 993,540.83 993.84,540.79 994.68,540.75 995.53,540.71 996.37,540.67 997.21,540.63 998.05,540.58 998.89,540.54 999.74,540.49 1000.58,540.44 1001.42,540.39 1002.26,540.34 1003.1,540.28 1003.95,540.23 1004.79,540.17 1005.63,540.1 1006.47,540.04 1007.31,539.97 1008.16,539.9 1009,539.82 1009.84,539.74 1010.68,539.65 1011.52,539.56 1012.37,539.46 1013.21,539.36 1014.05,539.24 1014.89,539.12 1015.73,538.99 1016.58,538.84 1017.42,538.68 1018.26,538.51 1019.1,538.32 1019.94,538.11 1020.79,537.88 1021.63,537.63 1022.47,537.35 1023.31,537.04 1024.15,536.7 1025,536.33 1025.84,535.92 1026.68,535.47 1027.52,534.97 1028.36,534.42 1029.21,533.83 1030.05,533.17 1030.89,532.46 1031.73,531.69 1032.57,530.86 1033.42,529.95 1034.26,528.98 1035.1,527.94 1035.94,526.83 1036.78,525.65 1037.63,524.39 1038.47,523.07 1039.31,521.68 1040.15,520.22 1040.99,518.71 1041.84,517.14 1042.68,515.52 1043.52,513.87 1044.36,512.18 1045.2,510.46 1046.05,508.74 1046.89,507.02 1047.73,505.31 1048.57,503.64 1049.41,502 1050.26,500.43 1051.1,498.94 1051.94,497.55 1052.78,496.27 1053.62,495.13 1054.47,494.14 1055.31,493.31 1056.15,492.67 1056.99,492.21 1057.83,491.96 1058.68,495.95 1059.52,496.21 1060.36,496.67 1061.2,497.32 1062.04,498.14 1062.89,499.12 1063.73,500.25 1064.57,501.5 1065.41,502.85 1066.25,504.28 1067.1,505.78 1067.94,507.31 1068.78,508.87 1069.62,510.42 1070.46,511.96 1071.31,513.47 1072.15,514.93 1072.99,516.33 1073.83,517.65 1074.67,518.89 1075.52,520.02 1076.36,521.05 1077.2,521.95 1078.04,522.73 1078.88,523.38 1079.73,523.88 1080.57,524.24 1081.41,524.45 1082.25,524.51 1083.09,524.42 1083.94,524.17 1084.78,523.77 1085.62,523.21 1086.46,522.51 1087.3,521.66 1088.15,520.67 1088.99,519.55 1089.83,518.3 1090.67,516.93 1091.51,515.46 1092.36,513.89 1093.2,512.23 1094.04,510.51 1094.88,508.73 1095.72,506.91 1096.57,505.08 1097.41,503.24 1098.25,501.42 1099.09,499.65 1099.93,497.94 1100.78,496.31 1101.62,494.8 1102.46,493.43 1103.3,492.21 1104.14,491.18 1104.99,490.35 1105.83,489.74 1106.67,489.38 1107.51,489.25 1108.35,489.39 1109.2,489.77 1110.04,490.41 1110.88,491.28 1111.72,492.38 1112.56,493.68 1113.41,495.17 1114.25,496.83 1115.09,498.62 1115.93,500.54 1116.77,502.54 1117.62,504.63 1118.46,506.76 1119.3,508.92 1120.14,511.09 1120.98,513.26 1121.83,515.41 1122.67,517.53 1123.51,519.6 1124.35,521.62 1125.19,523.57 1126.04,525.44 1126.88,527.24 1127.72,528.95 1128.56,530.57 1129.4,532.11 1130.25,533.55 1131.09,534.9 1131.93,536.16 1132.77,537.34 1133.61,538.42 1134.46,539.42 1135.3,540.34 1136.14,541.18 1136.98,541.95 1137.82,542.64 1138.67,543.28 1139.51,543.85 1140.35,544.37 1141.19,544.84 1142.03,545.26 1142.88,545.64 1143.72,545.98 1144.56,546.28 1145.4,546.55 1146.24,546.8 1147.09,547.02 1147.93,547.21 1148.77,547.39 1149.61,547.55 1150.45,547.69 1151.3,547.82 1152.14,547.94 1152.98,548.05 1153.82,548.14 1154.66,548.23 1155.51,548.32 1156.35,548.39 1157.19,548.46 1158.03,548.53 1158.87,548.59 1159.72,548.65 1160.56,548.7 1161.4,548.75 1162.24,548.8 1163.08,548.85 1163.93,548.89 1164.77,548.93 1165.61,548.97 1166.45,549.01 1167.29,549.05 1168.14,549.08 1168.98,549.12 1169.82,549.15 1170.66,549.18 1171.5,549.21 1172.35,549.24 1173.19,549.27 1174.03,549.29 1174.87,549.32 1175.71,549.35 1176.56,549.37 1177.4,549.39 1178.24,549.42 1179.08,549.44 1179.92,549.46 1180.77,549.48 1181.61,549.5 1182.45,549.52 1183.29,549.54 1184.13,549.56 1184.98,549.58 1185.82,549.59 1186.66,549.61 1187.5,549.63 1188.34,549.64 1189.19,549.66 1190.03,549.67 1190.87,549.69 1191.71,549.7 1192.55,549.72 1193.4,549.73 1194.24,549.74 1195.08,549.76 1195.92,549.77 1196.76,549.78 1197.61,549.79 1198.45,549.8 1199.29,549.82 1200.13,549.83" fill="none" stroke="#1a1ad0" stroke-width="2.2" stroke-linejoin="round" stroke-linecap="round" />
<polyline points="930.69,497.42 931.53,497.41 932.38,497.41 933.22,497.4 934.06,497.39 934.9,497.39 935.74,497.38 936.59,497.38 937.43,497.37 938.27,497.36 939.11,497.36 939.95,497.35 940.8,497.34 941.64,497.34 942.48,497.33 943.32,497.32 944.16,497.32 945.01,497.31 945.85,497.3 946.69,497.29 947.53,497.28 948.37,497.28 949.22,497.27 950.06,497.26 950.9,497.25 951.74,497.24 952.58,497.23 953.43,497.22 954.27,497.21 955.11,497.2 955.95,497.19 956.79,497.18 957.64,497.17 958.48,497.16 959.32,497.15 960.16,497.14 961,497.13 961.85,497.11 962.69,497.1 963.53,497.09 964.37,497.08 965.21,497.06 966.06,497.05 966.9,497.03 967.74,497.02 968.58,497 969.42,496.99 970.27,496.97 971.11,496.96 971.95,496.94 972.79,496.93 973.63,496.91 974.48,496.89 975.32,496.87 976.16,496.85 977,496.83 977.84,496.81 978.69,496.79 979.53,496.77 980.37,496.75 981.21,496.73 982.05,496.71 982.9,496.68 983.74,496.66 984.58,496.64 985.42,496.61 986.26,496.58 987.11,496.56 987.95,496.53 988.79,496.5 989.63,496.47 990.47,496.44 991.32,496.41 992.16,496.38 993,496.35 993.84,496.31 994.68,496.28 995.53,496.24 996.37,496.2 997.21,496.16 998.05,496.12 998.89,496.08 999.74,496.04 1000.58,496 1001.42,495.95 1002.26,495.9 1003.1,495.85 1003.95,495.8 1004.79,495.75 1005.63,495.69 1006.47,495.64 1007.31,495.58 1008.16,495.51 1009,495.45 1009.84,495.38 1010.68,495.3 1011.52,495.22 1012.37,495.14 1013.21,495.05 1014.05,494.96 1014.89,494.86 1015.73,494.75 1016.58,494.63 1017.42,494.51 1018.26,494.37 1019.1,494.22 1019.94,494.06 1020.79,493.88 1021.63,493.68 1022.47,493.46 1023.31,493.23 1024.15,492.96 1025,492.67 1025.84,492.35 1026.68,491.99 1027.52,491.6 1028.36,491.16 1029.21,490.69 1030.05,490.16 1030.89,489.59 1031.73,488.96 1032.57,488.27 1033.42,487.52 1034.26,486.7 1035.1,485.82 1035.94,484.87 1036.78,483.85 1037.63,482.76 1038.47,481.6 1039.31,480.36 1040.15,479.06 1040.99,477.68 1041.84,476.25 1042.68,474.75 1043.52,473.19 1044.36,471.59 1045.2,469.95 1046.05,468.27 1046.89,466.58 1047.73,464.87 1048.57,463.17 1049.41,461.48 1050.26,459.83 1051.1,458.23 1051.94,456.69 1052.78,455.24 1053.62,453.89 1054.47,452.66 1055.31,451.58 1056.15,450.65 1056.99,449.9 1057.83,449.34 1058.68,448.97 1059.52,448.81 1060.36,452.95 1061.2,453.3 1062.04,453.86 1062.89,454.6 1063.73,455.51 1064.57,456.58 1065.41,457.78 1066.25,459.1 1067.1,460.51 1067.94,461.99 1068.78,463.53 1069.62,465.09 1070.46,466.67 1071.31,468.24 1072.15,469.79 1072.99,471.3 1073.83,472.75 1074.67,474.14 1075.52,475.44 1076.36,476.66 1077.2,477.77 1078.04,478.77 1078.88,479.65 1079.73,480.4 1080.57,481.02 1081.41,481.49 1082.25,481.82 1083.09,482.01 1083.94,482.04 1084.78,481.92 1085.62,481.64 1086.46,481.21 1087.3,480.62 1088.15,479.88 1088.99,479 1089.83,477.97 1090.67,476.8 1091.51,475.49 1092.36,474.07 1093.2,472.52 1094.04,470.87 1094.88,469.13 1095.72,467.31 1096.57,465.42 1097.41,463.48 1098.25,461.51 1099.09,459.53 1099.93,457.55 1100.78,455.6 1101.62,453.71 1102.46,451.89 1103.3,450.17 1104.14,448.58 1104.99,447.15 1105.83,445.89 1106.67,444.84 1107.51,444.02 1108.35,443.44 1109.2,443.13 1110.04,443.08 1110.88,443.3 1111.72,443.8 1112.56,444.56 1113.41,445.57 1114.25,446.81 1115.09,448.26 1115.93,449.91 1116.77,451.71 1117.62,453.66 1118.46,455.72 1119.3,457.86 1120.14,460.07 1120.98,462.32 1121.83,464.59 1122.67,466.86 1123.51,469.11 1124.35,471.34 1125.19,473.52 1126.04,475.64 1126.88,477.69 1127.72,479.67 1128.56,481.56 1129.4,483.36 1130.25,485.07 1131.09,486.69 1131.93,488.2 1132.77,489.62 1133.61,490.94 1134.46,492.17 1135.3,493.3 1136.14,494.34 1136.98,495.3 1137.82,496.17 1138.67,496.97 1139.51,497.69 1140.35,498.34 1141.19,498.93 1142.03,499.47 1142.88,499.94 1143.72,500.37 1144.56,500.76 1145.4,501.1 1146.24,501.41 1147.09,501.68 1147.93,501.93 1148.77,502.15 1149.61,502.34 1150.45,502.52 1151.3,502.68 1152.14,502.82 1152.98,502.95 1153.82,503.07 1154.66,503.17 1155.51,503.27 1156.35,503.36 1157.19,503.44 1158.03,503.52 1158.87,503.59 1159.72,503.65 1160.56,503.71 1161.4,503.77 1162.24,503.82 1163.08,503.88 1163.93,503.92 1164.77,503.97 1165.61,504.01 1166.45,504.05 1167.29,504.09 1168.14,504.13 1168.98,504.17 1169.82,504.2 1170.66,504.24 1171.5,504.27 1172.35,504.3 1173.19,504.33 1174.03,504.36 1174.87,504.39 1175.71,504.41 1176.56,504.44 1177.4,504.47 1178.24,504.49 1179.08,504.51 1179.92,504.54 1180.77,504.56 1181.61,504.58 1182.45,504.6 1183.29,504.62 1184.13,504.64 1184.98,504.66 1185.82,504.68 1186.66,504.7 1187.5,504.71 1188.34,504.73 1189.19,504.75 1190.03,504.76 1190.87,504.78 1191.71,504.79 1192.55,504.81 1193.4,504.82 1194.24,504.83 1195.08,504.85 1195.92,504.86 1196.76,504.87 1197.61,504.89 1198.45,504.9 1199.29,504.91 1200.13,504.92" fill="none" stroke="#22dd22" stroke-width="2.2" stroke-linejoin="round" stroke-linecap="round" />
<line x1="1051" y1="566.2" x2="1051" y2="615.6" stroke="#000" stroke-width="1.3" stroke-dasharray="5 2 1.2 2"/>
<line x1="1100.5" y1="554" x2="1100.5" y2="604.6" stroke="#000" stroke-width="1.3" stroke-dasharray="5 2 1.2 2"/>
<line x1="1055" y1="527.6" x2="1055" y2="567.2" stroke="#e8161b" stroke-width="1.3" stroke-dasharray="5 2 1.2 2"/>
<line x1="1104.6" y1="515.3" x2="1104.6" y2="562.8" stroke="#e8161b" stroke-width="1.3" stroke-dasharray="5 2 1.2 2"/>
<line x1="1058.4" y1="481.5" x2="1058.4" y2="529.8" stroke="#1a1ad0" stroke-width="1.3" stroke-dasharray="5 2 1.2 2"/>
<line x1="1107.8" y1="468" x2="1107.8" y2="514.4" stroke="#1a1ad0" stroke-width="1.3" stroke-dasharray="5 2 1.2 2"/>
<line x1="1059.6" y1="428.6" x2="1059.6" y2="466" stroke="#22dd22" stroke-width="1.3" stroke-dasharray="5 2 1.2 2"/>
<line x1="1110.2" y1="419.8" x2="1110.2" y2="466" stroke="#22dd22" stroke-width="1.3" stroke-dasharray="5 2 1.2 2"/>
<rect x="908.4" y="409.8" width="320.6" height="235.8" fill="none" stroke="#000" stroke-width="2.4" />
<line x1="1211.92" y1="645.6" x2="1211.92" y2="651.6" stroke="#000" stroke-width="2.2" />
<text x="1211.92" y="668.7" font-size="18.2" text-anchor="middle" fill="#000" >56</text>
<line x1="1178.24" y1="645.6" x2="1178.24" y2="651.6" stroke="#000" stroke-width="2.2" />
<text x="1178.24" y="668.7" font-size="18.2" text-anchor="middle" fill="#000" >58</text>
<line x1="1144.56" y1="645.6" x2="1144.56" y2="651.6" stroke="#000" stroke-width="2.2" />
<text x="1144.56" y="668.7" font-size="18.2" text-anchor="middle" fill="#000" >60</text>
<line x1="1110.88" y1="645.6" x2="1110.88" y2="651.6" stroke="#000" stroke-width="2.2" />
<text x="1110.88" y="668.7" font-size="18.2" text-anchor="middle" fill="#000" >62</text>
<line x1="1077.2" y1="645.6" x2="1077.2" y2="651.6" stroke="#000" stroke-width="2.2" />
<text x="1077.2" y="668.7" font-size="18.2" text-anchor="middle" fill="#000" >64</text>
<line x1="1043.52" y1="645.6" x2="1043.52" y2="651.6" stroke="#000" stroke-width="2.2" />
<text x="1043.52" y="668.7" font-size="18.2" text-anchor="middle" fill="#000" >66</text>
<line x1="1009.84" y1="645.6" x2="1009.84" y2="651.6" stroke="#000" stroke-width="2.2" />
<text x="1009.84" y="668.7" font-size="18.2" text-anchor="middle" fill="#000" >68</text>
<line x1="976.16" y1="645.6" x2="976.16" y2="651.6" stroke="#000" stroke-width="2.2" />
<text x="976.16" y="668.7" font-size="18.2" text-anchor="middle" fill="#000" >70</text>
<line x1="942.48" y1="645.6" x2="942.48" y2="651.6" stroke="#000" stroke-width="2.2" />
<text x="942.48" y="668.7" font-size="18.2" text-anchor="middle" fill="#000" >72</text>
<line x1="908.8" y1="645.6" x2="908.8" y2="651.6" stroke="#000" stroke-width="2.2" />
<text x="908.8" y="668.7" font-size="18.2" text-anchor="middle" fill="#000" >74</text>
<line x1="1228.76" y1="645.6" x2="1228.76" y2="649.4" stroke="#000" stroke-width="2.2" />
<line x1="1195.08" y1="645.6" x2="1195.08" y2="649.4" stroke="#000" stroke-width="2.2" />
<line x1="1161.4" y1="645.6" x2="1161.4" y2="649.4" stroke="#000" stroke-width="2.2" />
<line x1="1127.72" y1="645.6" x2="1127.72" y2="649.4" stroke="#000" stroke-width="2.2" />
<line x1="1094.04" y1="645.6" x2="1094.04" y2="649.4" stroke="#000" stroke-width="2.2" />
<line x1="1060.36" y1="645.6" x2="1060.36" y2="649.4" stroke="#000" stroke-width="2.2" />
<line x1="1026.68" y1="645.6" x2="1026.68" y2="649.4" stroke="#000" stroke-width="2.2" />
<line x1="993" y1="645.6" x2="993" y2="649.4" stroke="#000" stroke-width="2.2" />
<line x1="959.32" y1="645.6" x2="959.32" y2="649.4" stroke="#000" stroke-width="2.2" />
<line x1="925.64" y1="645.6" x2="925.64" y2="649.4" stroke="#000" stroke-width="2.2" />
<text x="982.2" y="687.9" font-size="18.8" text-anchor="start" fill="#000" textLength="166" lengthAdjust="spacingAndGlyphs">Binding energy / eV</text>
<text transform="rotate(-90)" x="-599.6" y="890.6" font-size="19.2" text-anchor="start" fill="#000" textLength="121" lengthAdjust="spacingAndGlyphs">Intensity / a.u.</text>
<text x="911.9" y="465.4" font-size="14.6" text-anchor="start" fill="#22dd22" >IrO<tspan font-size="9.5" dy="4">2</tspan><tspan dy="-4">/sTNTA</tspan></text>
<text x="911.9" y="487.7" font-size="14.6" text-anchor="start" fill="#22dd22" textLength="104" lengthAdjust="spacingAndGlyphs">(highly reduced)</text>
<text x="914.5" y="533.2" font-size="14.6" text-anchor="start" fill="#1a1ad0" >IrO<tspan font-size="9.5" dy="4">2</tspan><tspan dy="-4">/sTNTA</tspan></text>
<text x="913.4" y="578.5" font-size="14.6" text-anchor="start" fill="#e8161b" >IrO<tspan font-size="9.5" dy="4">2</tspan><tspan dy="-4">/Ti</tspan></text>
<text x="916.8" y="622.8" font-size="14.6" text-anchor="start" fill="#000" >IrO<tspan font-size="9.5" dy="4">2</tspan><tspan dy="-4">/TNTA</tspan></text>
</svg>
</body></html>
